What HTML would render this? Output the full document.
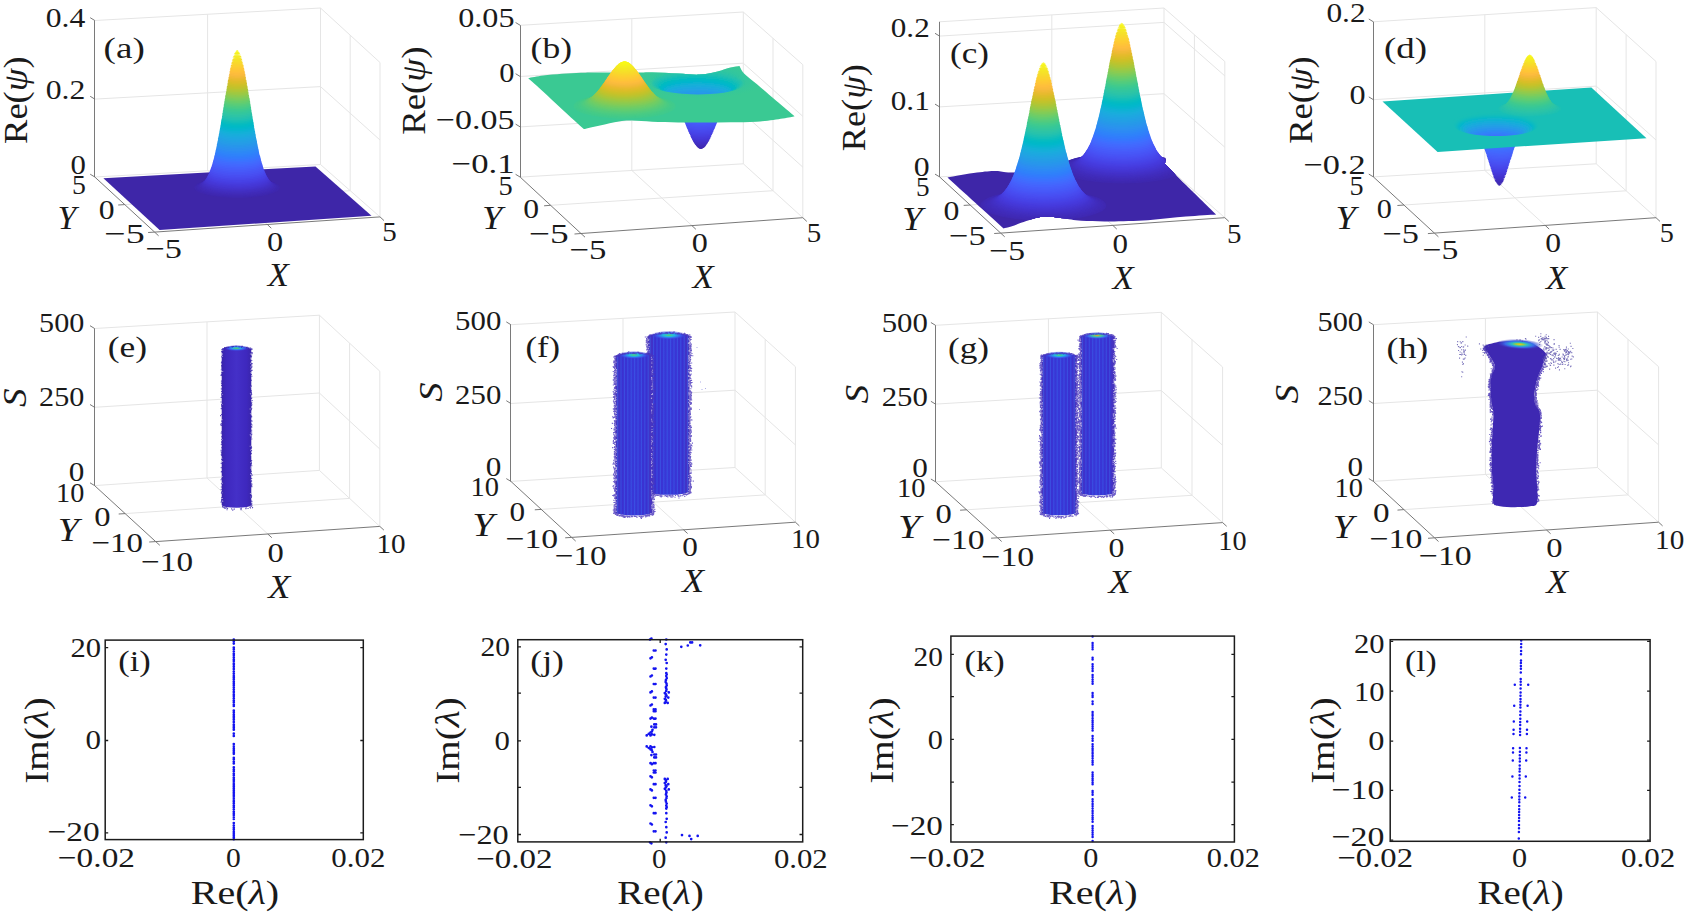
<!DOCTYPE html>
<html><head><meta charset="utf-8"><title>figure</title>
<style>
html,body{margin:0;padding:0;background:#fff}
svg{display:block}
text{font-family:"Liberation Serif",serif;fill:#1a1a1a}
.i{font-style:italic}
</style></head><body>
<svg width="1685" height="912" viewBox="0 0 1685 912" fill="none">
<path d="M94.8 177L320.5 164.5L320.5 8L94.8 20.5" stroke="#e5e5e5" stroke-width="1" fill="none"/>
<path d="M207.6 170.8L207.6 14.2" stroke="#e5e5e5" stroke-width="1"/>
<path d="M320.5 164.5L380 216.9L380 62.5L320.5 8" stroke="#e5e5e5" stroke-width="1" fill="none"/>
<path d="M350.2 190.7L350.2 35.2" stroke="#e5e5e5" stroke-width="1"/>
<path d="M267.3 224.5L207.6 170.8" stroke="#e5e5e5" stroke-width="1"/>
<path d="M124.7 204.6L350.2 190.7" stroke="#e5e5e5" stroke-width="1"/>
<path d="M94.8 99.1L320.5 86.6L380 140" stroke="#e5e5e5" stroke-width="1" fill="none"/>
<path d="M103.4 178.3L159.6 230L371.5 215.8L315.5 166.4" fill="#3e26a8"/>
<g transform="matrix(112.78 -6.92 -29.83 -26.88 237.5 197.6)">
<circle cx=".089" cy=".347" r=".367" fill="#3f28ad"/>
<circle cx=".091" cy=".353" r=".36" fill="#3f28ae"/>
<circle cx=".093" cy=".36" r=".354" fill="#3f28af"/>
<circle cx=".094" cy=".366" r=".349" fill="#3f29b0"/>
<circle cx=".096" cy=".372" r=".345" fill="#3f29b1"/>
<circle cx=".098" cy=".381" r=".339" fill="#3f29b2"/>
<circle cx=".101" cy=".39" r=".334" fill="#402ab4"/>
<circle cx=".103" cy=".398" r=".329" fill="#402ab5"/>
<circle cx=".106" cy=".411" r=".323" fill="#402bb7"/>
<circle cx=".11" cy=".423" r=".318" fill="#412cb9"/>
<circle cx=".113" cy=".436" r=".313" fill="#412cba"/>
<circle cx=".116" cy=".448" r=".309" fill="#412dbc"/>
<circle cx=".121" cy=".466" r=".303" fill="#422ebf"/>
<circle cx=".126" cy=".484" r=".298" fill="#422fc1"/>
<circle cx=".13" cy=".502" r=".294" fill="#4230c4"/>
<circle cx=".137" cy=".528" r=".288" fill="#4331c8"/>
<circle cx=".144" cy=".553" r=".282" fill="#4433cc"/>
<circle cx=".151" cy=".579" r=".277" fill="#4434cf"/>
<circle cx=".157" cy=".605" r=".273" fill="#4536d3"/>
<circle cx=".167" cy=".641" r=".267" fill="#4538d7"/>
<circle cx=".177" cy=".678" r=".262" fill="#463adb"/>
<circle cx=".186" cy=".714" r=".257" fill="#463ddf"/>
<circle cx=".196" cy=".751" r=".252" fill="#473fe3"/>
<circle cx=".206" cy=".788" r=".248" fill="#4742e6"/>
<circle cx=".22" cy=".84" r=".242" fill="#4746ea"/>
<circle cx=".233" cy=".892" r=".237" fill="#484aee"/>
<circle cx=".247" cy=".944" r=".232" fill="#484ef1"/>
<circle cx=".261" cy=".997" r=".227" fill="#4852f4"/>
<circle cx=".275" cy="1.049" r=".223" fill="#4755f6"/>
<circle cx=".289" cy="1.101" r=".219" fill="#4759f8"/>
<circle cx=".303" cy="1.153" r=".215" fill="#465dfa"/>
<circle cx=".316" cy="1.206" r=".211" fill="#4561fc"/>
<circle cx=".33" cy="1.258" r=".208" fill="#4465fd"/>
<circle cx=".344" cy="1.31" r=".204" fill="#4269fe"/>
<circle cx=".358" cy="1.362" r=".201" fill="#406dfe"/>
<circle cx=".372" cy="1.415" r=".198" fill="#3c71ff"/>
<circle cx=".385" cy="1.467" r=".194" fill="#3876fe"/>
<circle cx=".399" cy="1.519" r=".191" fill="#347afd"/>
<circle cx=".413" cy="1.571" r=".188" fill="#317efb"/>
<circle cx=".427" cy="1.624" r=".186" fill="#2f82fa"/>
<circle cx=".441" cy="1.676" r=".183" fill="#2e86f8"/>
<circle cx=".455" cy="1.728" r=".18" fill="#2d89f5"/>
<circle cx=".468" cy="1.78" r=".177" fill="#2d8df2"/>
<circle cx=".482" cy="1.833" r=".175" fill="#2b90ef"/>
<circle cx=".496" cy="1.885" r=".172" fill="#2994ed"/>
<circle cx=".51" cy="1.937" r=".17" fill="#2797ea"/>
<circle cx=".524" cy="1.989" r=".167" fill="#269be8"/>
<circle cx=".537" cy="2.042" r=".165" fill="#249ee6"/>
<circle cx=".551" cy="2.094" r=".162" fill="#22a1e4"/>
<circle cx=".565" cy="2.146" r=".16" fill="#20a4e3"/>
<circle cx=".579" cy="2.198" r=".158" fill="#1ea7e1"/>
<circle cx=".593" cy="2.251" r=".155" fill="#1baade"/>
<circle cx=".607" cy="2.303" r=".153" fill="#18addb"/>
<circle cx=".62" cy="2.355" r=".151" fill="#14b0d8"/>
<circle cx=".634" cy="2.407" r=".148" fill="#0eb2d4"/>
<circle cx=".648" cy="2.46" r=".146" fill="#07b5d0"/>
<circle cx=".662" cy="2.512" r=".144" fill="#03b7cc"/>
<circle cx=".676" cy="2.564" r=".142" fill="#01b9c7"/>
<circle cx=".69" cy="2.616" r=".14" fill="#02bbc3"/>
<circle cx=".703" cy="2.669" r=".138" fill="#09bcbe"/>
<circle cx=".717" cy="2.721" r=".135" fill="#11beb9"/>
<circle cx=".731" cy="2.773" r=".133" fill="#1ac0b5"/>
<circle cx=".745" cy="2.825" r=".131" fill="#22c1b0"/>
<circle cx=".759" cy="2.878" r=".129" fill="#28c2ab"/>
<circle cx=".772" cy="2.93" r=".127" fill="#2dc4a6"/>
<circle cx=".786" cy="2.982" r=".125" fill="#31c6a1"/>
<circle cx=".8" cy="3.034" r=".123" fill="#34c79b"/>
<circle cx=".814" cy="3.087" r=".121" fill="#39c895"/>
<circle cx=".828" cy="3.139" r=".119" fill="#3eca8f"/>
<circle cx=".842" cy="3.191" r=".117" fill="#46cb88"/>
<circle cx=".855" cy="3.243" r=".115" fill="#4ecc81"/>
<circle cx=".869" cy="3.296" r=".113" fill="#56cc7b"/>
<circle cx=".883" cy="3.348" r=".111" fill="#5fcd73"/>
<circle cx=".897" cy="3.4" r=".109" fill="#68cd6b"/>
<circle cx=".911" cy="3.452" r=".106" fill="#72cd64"/>
<circle cx=".924" cy="3.505" r=".104" fill="#7ccc5c"/>
<circle cx=".938" cy="3.557" r=".102" fill="#86cb55"/>
<circle cx=".952" cy="3.609" r=".1" fill="#90ca4d"/>
<circle cx=".966" cy="3.661" r=".098" fill="#9ac945"/>
<circle cx=".98" cy="3.714" r=".096" fill="#a3c83e"/>
<circle cx=".994" cy="3.766" r=".094" fill="#adc638"/>
<circle cx="1.007" cy="3.818" r=".092" fill="#b6c532"/>
<circle cx="1.021" cy="3.87" r=".09" fill="#bfc32d"/>
<circle cx="1.035" cy="3.923" r=".087" fill="#c7c12a"/>
<circle cx="1.049" cy="3.975" r=".085" fill="#cfc028"/>
<circle cx="1.063" cy="4.027" r=".083" fill="#d7be28"/>
<circle cx="1.076" cy="4.079" r=".081" fill="#debc2a"/>
<circle cx="1.09" cy="4.132" r=".078" fill="#e5bb2d"/>
<circle cx="1.104" cy="4.184" r=".076" fill="#ecba32"/>
<circle cx="1.118" cy="4.236" r=".074" fill="#f2ba38"/>
<circle cx="1.132" cy="4.288" r=".071" fill="#f8ba3d"/>
<circle cx="1.146" cy="4.341" r=".069" fill="#fcbc3d"/>
<circle cx="1.159" cy="4.393" r=".066" fill="#febf3b"/>
<circle cx="1.173" cy="4.445" r=".064" fill="#fec338"/>
<circle cx="1.187" cy="4.498" r=".061" fill="#fec735"/>
<circle cx="1.201" cy="4.55" r=".058" fill="#fdcc32"/>
<circle cx="1.215" cy="4.602" r=".056" fill="#fcd030"/>
<circle cx="1.228" cy="4.654" r=".053" fill="#fad42e"/>
<circle cx="1.242" cy="4.707" r=".049" fill="#f8d92c"/>
<circle cx="1.256" cy="4.759" r=".046" fill="#f7dd2a"/>
<circle cx="1.27" cy="4.811" r=".043" fill="#f5e128"/>
<circle cx="1.284" cy="4.863" r=".039" fill="#f5e626"/>
<circle cx="1.298" cy="4.916" r=".035" fill="#f5ea24"/>
<circle cx="1.311" cy="4.968" r=".03" fill="#f5ee21"/>
<circle cx="1.325" cy="5.02" r=".025" fill="#f6f21e"/>
<circle cx="1.335" cy="5.057" r=".021" fill="#f7f51b"/>
<circle cx="1.345" cy="5.093" r=".015" fill="#f8f818"/>
<circle cx="1.349" cy="5.111" r=".011" fill="#f9f916"/>
<circle cx="1.353" cy="5.124" r=".007" fill="#f9fa15"/>
<circle cx="1.355" cy="5.132" r=".001" fill="#f9fb15"/>
<circle cx="1.355" cy="5.133" r="0" fill="#f9fb15"/>
</g>
<path d="M94.5 20.5L94.5 177" stroke="#7a7a7a" stroke-width="1"/>
<path d="M94.8 177L154.6 232.1L380 216.9" stroke="#6a6a6a" stroke-width="0.9" fill="none"/>
<path d="M154.6 232.1L158.6 235.8" stroke="#6a6a6a" stroke-width="0.9"/>
<path d="M154.6 232.1L148.1 232.5" stroke="#6a6a6a" stroke-width="0.9"/>
<path d="M267.3 224.5L271.3 228.2" stroke="#6a6a6a" stroke-width="0.9"/>
<path d="M124.7 204.6L118.2 205" stroke="#6a6a6a" stroke-width="0.9"/>
<path d="M380 216.9L384 220.6" stroke="#6a6a6a" stroke-width="0.9"/>
<path d="M94.8 20.5L90.2 17.7" stroke="#6a6a6a" stroke-width="0.9"/>
<path d="M94.8 99.1L90.2 96.3" stroke="#6a6a6a" stroke-width="0.9"/>
<path d="M94.8 177L90.2 174.2" stroke="#6a6a6a" stroke-width="0.9"/>
<text class="t" x="45.8" y="26.8" font-size="27.5" textLength="39.5" lengthAdjust="spacingAndGlyphs">0.4</text>
<text class="t" x="45.7" y="99.4" font-size="27.5" textLength="39.6" lengthAdjust="spacingAndGlyphs">0.2</text>
<text class="t" x="70.5" y="174.3" font-size="27.5" textLength="15.4" lengthAdjust="spacingAndGlyphs">0</text>
<text class="t" x="72" y="194" font-size="27.5" textLength="13.9" lengthAdjust="spacingAndGlyphs">5</text>
<text class="t" x="98.7" y="218.8" font-size="27.5" textLength="15.8" lengthAdjust="spacingAndGlyphs">0</text>
<text class="t" x="104.3" y="243.4" font-size="27.5" textLength="40.5" lengthAdjust="spacingAndGlyphs">−5</text>
<text class="t" x="145.4" y="258" font-size="27.5" textLength="36.5" lengthAdjust="spacingAndGlyphs">−5</text>
<text class="t" x="267" y="251" font-size="27.5" textLength="16.2" lengthAdjust="spacingAndGlyphs">0</text>
<text class="t" x="382.2" y="241" font-size="27.5" textLength="14.5" lengthAdjust="spacingAndGlyphs">5</text>
<text class="i" x="267.8" y="286.2" font-size="33" textLength="21.2" lengthAdjust="spacingAndGlyphs">X</text>
<text class="i" x="57.4" y="228.6" font-size="33" textLength="18.8" lengthAdjust="spacingAndGlyphs">Y</text>
<text class="t" transform="translate(27 143.9) rotate(-90)" font-size="33.4" textLength="87.5" lengthAdjust="spacingAndGlyphs">Re(<tspan font-style="italic">ψ</tspan>)</text>
<text class="t" x="103.6" y="57.8" font-size="28.5" textLength="41.2" lengthAdjust="spacingAndGlyphs">(a)</text>
<path d="M520.2 177.1L743.3 163.8L743.3 12L520.2 25.3" stroke="#e5e5e5" stroke-width="1" fill="none"/>
<path d="M631.8 170.4L631.8 18.7" stroke="#e5e5e5" stroke-width="1"/>
<path d="M743.3 163.8L802.8 217.7L802.8 64.7L743.3 12" stroke="#e5e5e5" stroke-width="1" fill="none"/>
<path d="M773 190.7L773 38.3" stroke="#e5e5e5" stroke-width="1"/>
<path d="M691.9 225.6L631.8 170.4" stroke="#e5e5e5" stroke-width="1"/>
<path d="M550.6 205.3L773 190.7" stroke="#e5e5e5" stroke-width="1"/>
<path d="M520.2 76.5L743.3 63.2L802.8 116.3" stroke="#e5e5e5" stroke-width="1" fill="none"/>
<path d="M520.2 126.9L743.3 113.6L802.8 167.1" stroke="#e5e5e5" stroke-width="1" fill="none"/>
<g transform="matrix(111.22 -7.27 -30.07 -27.57 661.8 198)">
<circle cx=".779" cy="1.583" r="0" fill="#3e26a8"/>
<circle cx=".78" cy="1.587" r=".008" fill="#3e27a9"/>
<circle cx=".782" cy="1.593" r=".013" fill="#3e27aa"/>
<circle cx=".784" cy="1.602" r=".018" fill="#3e27ab"/>
<circle cx=".788" cy="1.614" r=".023" fill="#3e28ac"/>
<circle cx=".792" cy="1.631" r=".029" fill="#3f28af"/>
<circle cx=".797" cy="1.649" r=".034" fill="#3f29b1"/>
<circle cx=".802" cy="1.666" r=".038" fill="#402ab3"/>
<circle cx=".809" cy="1.691" r=".044" fill="#402bb6"/>
<circle cx=".815" cy="1.716" r=".049" fill="#412cb9"/>
<circle cx=".822" cy="1.741" r=".053" fill="#412dbc"/>
<circle cx=".829" cy="1.766" r=".058" fill="#422ebf"/>
<circle cx=".838" cy="1.801" r=".063" fill="#4230c3"/>
<circle cx=".848" cy="1.837" r=".069" fill="#4331c8"/>
<circle cx=".858" cy="1.872" r=".074" fill="#4433cc"/>
<circle cx=".867" cy="1.908" r=".078" fill="#4435d0"/>
<circle cx=".877" cy="1.943" r=".083" fill="#4536d4"/>
<circle cx=".886" cy="1.979" r=".087" fill="#4538d8"/>
<circle cx=".896" cy="2.014" r=".092" fill="#463adb"/>
<circle cx=".91" cy="2.065" r=".097" fill="#463ddf"/>
<circle cx=".923" cy="2.116" r=".103" fill="#4740e3"/>
<circle cx=".937" cy="2.167" r=".109" fill="#4743e7"/>
<circle cx=".951" cy="2.218" r=".114" fill="#4746ea"/>
<circle cx=".965" cy="2.268" r=".12" fill="#4849ed"/>
<circle cx=".978" cy="2.319" r=".125" fill="#484cf0"/>
<circle cx=".992" cy="2.37" r=".13" fill="#484ff2"/>
<circle cx="1.006" cy="2.421" r=".135" fill="#4852f4"/>
<circle cx="1.02" cy="2.471" r=".141" fill="#4755f6"/>
<circle cx="1.033" cy="2.522" r=".146" fill="#4758f8"/>
<circle cx="1.047" cy="2.573" r=".151" fill="#475bfa"/>
<circle cx="1.061" cy="2.624" r=".156" fill="#465ffb"/>
<circle cx="1.074" cy="2.675" r=".162" fill="#4562fc"/>
<circle cx="1.088" cy="2.725" r=".167" fill="#4465fd"/>
<circle cx="1.102" cy="2.776" r=".172" fill="#4368fe"/>
<circle cx="1.116" cy="2.827" r=".178" fill="#416bfe"/>
<circle cx="1.129" cy="2.878" r=".184" fill="#3f6fff"/>
</g>
<clipPath id="shb"><path d="M528.2 78.2C530.7 77.8 537.4 76.3 543 75.6C548.6 74.8 555.7 74.2 562 73.7C568.3 73.2 574.7 72.9 581 72.7C587.3 72.5 591.6 72.4 600 72.4C608.4 72.4 622.6 72.7 631.3 72.7C640 72.7 644.4 72.1 652.2 72.2C660 72.3 670.5 73.1 678.3 73.5C686.1 73.9 692.7 74.9 699.2 74.6C705.7 74.3 712.3 72.7 717.5 71.5C722.7 70.3 726.8 68.5 730.5 67.6C734.2 66.7 738 66.3 739.5 66.1C740.2 67.3 741.1 70.5 744 73.5C746.9 76.5 751.3 79.5 756.7 84C762.1 88.5 769.9 95.4 776.2 100.8C782.5 106.2 791.5 113.6 794.6 116.2C792.6 116.6 789.1 117.6 782.8 118.5C776.5 119.4 765.4 121.2 756.7 121.8C748 122.4 739.2 122.2 730.5 122.3C721.8 122.4 713.1 122.5 704.4 122.5C695.7 122.5 687 122.5 678.3 122.4C669.6 122.3 659.9 122 652.2 121.7C644.5 121.4 637.5 120.6 632 120.6C626.5 120.5 624.2 120.6 618.9 121.4C613.6 122.2 605.9 124.1 600 125.4C594.1 126.7 586.5 128.5 583.8 129.1C580.2 125.8 568.8 115.5 562 109.2C555.2 102.9 548.6 96.6 543 91.4C537.4 86.2 530.7 80.4 528.2 78.2Z"/></clipPath>
<path d="M528.2 78.2C530.7 77.8 537.4 76.3 543 75.6C548.6 74.8 555.7 74.2 562 73.7C568.3 73.2 574.7 72.9 581 72.7C587.3 72.5 591.6 72.4 600 72.4C608.4 72.4 622.6 72.7 631.3 72.7C640 72.7 644.4 72.1 652.2 72.2C660 72.3 670.5 73.1 678.3 73.5C686.1 73.9 692.7 74.9 699.2 74.6C705.7 74.3 712.3 72.7 717.5 71.5C722.7 70.3 726.8 68.5 730.5 67.6C734.2 66.7 738 66.3 739.5 66.1C740.2 67.3 741.1 70.5 744 73.5C746.9 76.5 751.3 79.5 756.7 84C762.1 88.5 769.9 95.4 776.2 100.8C782.5 106.2 791.5 113.6 794.6 116.2C792.6 116.6 789.1 117.6 782.8 118.5C776.5 119.4 765.4 121.2 756.7 121.8C748 122.4 739.2 122.2 730.5 122.3C721.8 122.4 713.1 122.5 704.4 122.5C695.7 122.5 687 122.5 678.3 122.4C669.6 122.3 659.9 122 652.2 121.7C644.5 121.4 637.5 120.6 632 120.6C626.5 120.5 624.2 120.6 618.9 121.4C613.6 122.2 605.9 124.1 600 125.4C594.1 126.7 586.5 128.5 583.8 129.1C580.2 125.8 568.8 115.5 562 109.2C555.2 102.9 548.6 96.6 543 91.4C537.4 86.2 530.7 80.4 528.2 78.2Z" fill="#3ac993"/>
<radialGradient id="tb"><stop offset="0" stop-color="#12beb9" stop-opacity=".9"/><stop offset=".55" stop-color="#27c2ac" stop-opacity=".6"/><stop offset="1" stop-color="#33c69d" stop-opacity="0"/></radialGradient>
<g clip-path="url(#shb)"><ellipse cx="700" cy="80" rx="66" ry="19" fill="url(#tb)"/>
<clipPath id="cb"><circle cx="1.358" cy="3.835" r=".422" transform="matrix(111.22 -7.27 -30.07 -27.57 661.8 198)"/><rect x="646.9" y="42.4" width="101.2" height="40"/></clipPath>
<filter id="cbf" x="-20%" y="-50%" width="140%" height="200%"><feGaussianBlur stdDeviation="1.3"/></filter>
<g clip-path="url(#cb)"><g filter="url(#cbf)">
<g transform="matrix(111.22 -7.27 -30.07 -27.57 661.8 198)">
<circle cx="1.35" cy="3.806" r=".397" fill="#2ac3a9"/>
<circle cx="1.348" cy="3.799" r=".393" fill="#28c3aa"/>
<circle cx="1.346" cy="3.793" r=".388" fill="#27c2ab"/>
<circle cx="1.344" cy="3.786" r=".384" fill="#26c2ad"/>
<circle cx="1.343" cy="3.779" r=".38" fill="#25c2ae"/>
<circle cx="1.341" cy="3.772" r=".376" fill="#23c1af"/>
<circle cx="1.338" cy="3.762" r=".371" fill="#21c1b0"/>
<circle cx="1.335" cy="3.753" r=".366" fill="#1ec0b2"/>
<circle cx="1.333" cy="3.743" r=".362" fill="#1cc0b4"/>
<circle cx="1.33" cy="3.733" r=".357" fill="#19bfb5"/>
<circle cx="1.328" cy="3.723" r=".353" fill="#16bfb7"/>
<circle cx="1.325" cy="3.714" r=".35" fill="#13beb8"/>
<circle cx="1.322" cy="3.704" r=".346" fill="#10beba"/>
<circle cx="1.318" cy="3.69" r=".341" fill="#0cbdbc"/>
<circle cx="1.315" cy="3.676" r=".336" fill="#09bcbe"/>
<circle cx="1.311" cy="3.662" r=".331" fill="#06bcc0"/>
<circle cx="1.307" cy="3.648" r=".327" fill="#03bbc2"/>
<circle cx="1.303" cy="3.634" r=".323" fill="#02bac4"/>
<circle cx="1.3" cy="3.62" r=".319" fill="#01b9c7"/>
<circle cx="1.296" cy="3.606" r=".315" fill="#01b8c9"/>
<circle cx="1.291" cy="3.586" r=".31" fill="#03b7cb"/>
<circle cx="1.285" cy="3.567" r=".305" fill="#06b5ce"/>
<circle cx="1.28" cy="3.547" r=".3" fill="#09b4d1"/>
<circle cx="1.274" cy="3.527" r=".296" fill="#0eb3d4"/>
<circle cx="1.269" cy="3.507" r=".292" fill="#12b1d6"/>
<circle cx="1.264" cy="3.487" r=".287" fill="#15afd9"/>
<circle cx="1.258" cy="3.467" r=".283" fill="#18aedb"/>
<circle cx="1.253" cy="3.447" r=".279" fill="#1aacdd"/>
<circle cx="1.247" cy="3.427" r=".276" fill="#1caadf"/>
<circle cx="1.242" cy="3.407" r=".272" fill="#1da8e0"/>
<circle cx="1.234" cy="3.379" r=".267" fill="#20a5e2"/>
<circle cx="1.227" cy="3.35" r=".262" fill="#22a2e4"/>
<circle cx="1.219" cy="3.322" r=".257" fill="#249fe5"/>
<circle cx="1.211" cy="3.294" r=".253" fill="#259ce7"/>
<circle cx="1.204" cy="3.265" r=".248" fill="#2699e9"/>
<circle cx="1.196" cy="3.237" r=".244" fill="#2896ec"/>
<circle cx="1.188" cy="3.208" r=".24" fill="#2a92ee"/>
<circle cx="1.181" cy="3.18" r=".236" fill="#2c8ff1"/>
</g>
</g></g>
</g>
<g transform="matrix(111.22 -7.27 -30.07 -27.57 661.8 198)">
<circle cx=".529" cy="3.194" r=".444" fill="#3fca8e"/>
<circle cx=".531" cy="3.2" r=".434" fill="#40ca8d"/>
<circle cx=".532" cy="3.206" r=".425" fill="#41ca8c"/>
<circle cx=".534" cy="3.212" r=".417" fill="#42ca8b"/>
<circle cx=".536" cy="3.218" r=".41" fill="#43ca8a"/>
<circle cx=".537" cy="3.224" r=".404" fill="#44cb89"/>
<circle cx=".539" cy="3.23" r=".398" fill="#45cb88"/>
<circle cx=".54" cy="3.236" r=".392" fill="#46cb87"/>
<circle cx=".542" cy="3.242" r=".387" fill="#48cb86"/>
<circle cx=".544" cy="3.248" r=".382" fill="#49cb85"/>
<circle cx=".545" cy="3.254" r=".378" fill="#4acb84"/>
<circle cx=".548" cy="3.263" r=".372" fill="#4ccb83"/>
<circle cx=".55" cy="3.271" r=".366" fill="#4ecc81"/>
<circle cx=".552" cy="3.28" r=".361" fill="#50cc80"/>
<circle cx=".554" cy="3.288" r=".356" fill="#51cc7e"/>
<circle cx=".557" cy="3.297" r=".351" fill="#53cc7d"/>
<circle cx=".559" cy="3.305" r=".347" fill="#55cc7b"/>
<circle cx=".562" cy="3.317" r=".341" fill="#58cc79"/>
<circle cx=".566" cy="3.33" r=".335" fill="#5bcc77"/>
<circle cx=".569" cy="3.342" r=".33" fill="#5dcc75"/>
<circle cx=".572" cy="3.354" r=".324" fill="#60cd72"/>
<circle cx=".576" cy="3.366" r=".32" fill="#63cd70"/>
<circle cx=".579" cy="3.378" r=".315" fill="#66cd6d"/>
<circle cx=".582" cy="3.391" r=".31" fill="#69cd6b"/>
<circle cx=".587" cy="3.408" r=".304" fill="#6dcd68"/>
<circle cx=".592" cy="3.425" r=".299" fill="#71cd64"/>
<circle cx=".596" cy="3.443" r=".293" fill="#75cc61"/>
<circle cx=".601" cy="3.46" r=".288" fill="#7acc5e"/>
<circle cx=".606" cy="3.478" r=".283" fill="#7fcc5a"/>
<circle cx=".61" cy="3.495" r=".278" fill="#83cc57"/>
<circle cx=".615" cy="3.512" r=".273" fill="#87cb54"/>
<circle cx=".62" cy="3.53" r=".269" fill="#8ccb50"/>
<circle cx=".624" cy="3.547" r=".264" fill="#90ca4d"/>
<circle cx=".631" cy="3.572" r=".258" fill="#96ca48"/>
<circle cx=".638" cy="3.597" r=".252" fill="#9cc943"/>
<circle cx=".645" cy="3.622" r=".247" fill="#a2c83f"/>
<circle cx=".651" cy="3.647" r=".241" fill="#a8c73b"/>
<circle cx=".658" cy="3.672" r=".236" fill="#aec637"/>
<circle cx=".665" cy="3.697" r=".231" fill="#b4c533"/>
<circle cx=".672" cy="3.721" r=".226" fill="#bac430"/>
<circle cx=".678" cy="3.746" r=".221" fill="#bfc32d"/>
<circle cx=".685" cy="3.771" r=".216" fill="#c5c22a"/>
<circle cx=".692" cy="3.796" r=".211" fill="#cac129"/>
<circle cx=".699" cy="3.821" r=".207" fill="#cfc028"/>
<circle cx=".705" cy="3.846" r=".202" fill="#d4bf28"/>
<circle cx=".712" cy="3.871" r=".198" fill="#d9be28"/>
<circle cx=".719" cy="3.896" r=".193" fill="#ddbd29"/>
<circle cx=".725" cy="3.92" r=".189" fill="#e2bc2b"/>
<circle cx=".732" cy="3.945" r=".184" fill="#e6bb2d"/>
<circle cx=".739" cy="3.97" r=".18" fill="#eaba31"/>
<circle cx=".746" cy="3.995" r=".176" fill="#eeba34"/>
<circle cx=".752" cy="4.02" r=".171" fill="#f2ba38"/>
<circle cx=".759" cy="4.045" r=".167" fill="#f5ba3b"/>
<circle cx=".766" cy="4.07" r=".163" fill="#f9bb3d"/>
<circle cx=".775" cy="4.105" r=".157" fill="#fcbd3d"/>
<circle cx=".782" cy="4.13" r=".153" fill="#febf3c"/>
<circle cx=".789" cy="4.155" r=".148" fill="#fec13a"/>
<circle cx=".796" cy="4.18" r=".144" fill="#fec438"/>
<circle cx=".802" cy="4.205" r=".14" fill="#fec636"/>
<circle cx=".809" cy="4.23" r=".135" fill="#fec934"/>
<circle cx=".816" cy="4.255" r=".131" fill="#fdcb33"/>
<circle cx=".822" cy="4.279" r=".127" fill="#fdce31"/>
<circle cx=".829" cy="4.304" r=".122" fill="#fcd12f"/>
<circle cx=".836" cy="4.329" r=".118" fill="#fbd32e"/>
<circle cx=".843" cy="4.354" r=".113" fill="#f9d62d"/>
<circle cx=".849" cy="4.379" r=".108" fill="#f8d92c"/>
<circle cx=".856" cy="4.404" r=".103" fill="#f7dc2a"/>
<circle cx=".863" cy="4.429" r=".099" fill="#f6df29"/>
<circle cx=".87" cy="4.454" r=".093" fill="#f5e128"/>
<circle cx=".876" cy="4.479" r=".088" fill="#f5e427"/>
<circle cx=".883" cy="4.503" r=".083" fill="#f5e725"/>
<circle cx=".89" cy="4.528" r=".077" fill="#f5e924"/>
<circle cx=".894" cy="4.546" r=".072" fill="#f5eb23"/>
<circle cx=".899" cy="4.563" r=".068" fill="#f5ed22"/>
<circle cx=".904" cy="4.581" r=".063" fill="#f5ef20"/>
<circle cx=".909" cy="4.598" r=".058" fill="#f6f11f"/>
<circle cx=".913" cy="4.615" r=".053" fill="#f6f21d"/>
<circle cx=".917" cy="4.628" r=".048" fill="#f7f41c"/>
<circle cx=".92" cy="4.64" r=".044" fill="#f7f51b"/>
<circle cx=".923" cy="4.652" r=".039" fill="#f8f61a"/>
<circle cx=".926" cy="4.664" r=".033" fill="#f8f818"/>
<circle cx=".929" cy="4.673" r=".028" fill="#f8f817"/>
<circle cx=".931" cy="4.681" r=".023" fill="#f9f916"/>
<circle cx=".933" cy="4.687" r=".018" fill="#f9fa16"/>
<circle cx=".934" cy="4.693" r=".011" fill="#f9fa15"/>
<circle cx=".935" cy="4.697" r="0" fill="#f9fb15"/>
</g>
<path d="M520.5 25.3L520.5 177.1" stroke="#7a7a7a" stroke-width="1"/>
<path d="M520.2 177.1L581 233.5L802.8 217.7" stroke="#6a6a6a" stroke-width="0.9" fill="none"/>
<path d="M581 233.5L585 237.2" stroke="#6a6a6a" stroke-width="0.9"/>
<path d="M581 233.5L574.5 234" stroke="#6a6a6a" stroke-width="0.9"/>
<path d="M691.9 225.6L695.9 229.3" stroke="#6a6a6a" stroke-width="0.9"/>
<path d="M550.6 205.3L544.1 205.8" stroke="#6a6a6a" stroke-width="0.9"/>
<path d="M802.8 217.7L806.8 221.4" stroke="#6a6a6a" stroke-width="0.9"/>
<path d="M520.2 25.3L515.6 22.5" stroke="#6a6a6a" stroke-width="0.9"/>
<path d="M520.2 76.5L515.6 73.7" stroke="#6a6a6a" stroke-width="0.9"/>
<path d="M520.2 126.9L515.6 124.1" stroke="#6a6a6a" stroke-width="0.9"/>
<path d="M520.2 177.1L515.6 174.3" stroke="#6a6a6a" stroke-width="0.9"/>
<text class="t" x="458.2" y="27" font-size="27.5" textLength="56.3" lengthAdjust="spacingAndGlyphs">0.05</text>
<text class="t" x="499.3" y="82.2" font-size="27.5" textLength="15.2" lengthAdjust="spacingAndGlyphs">0</text>
<text class="t" x="435.8" y="128.9" font-size="27.5" textLength="78.7" lengthAdjust="spacingAndGlyphs">−0.05</text>
<text class="t" x="451.6" y="172.7" font-size="27.5" textLength="62.9" lengthAdjust="spacingAndGlyphs">−0.1</text>
<text class="t" x="498.6" y="194.7" font-size="27.5" textLength="14.2" lengthAdjust="spacingAndGlyphs">5</text>
<text class="t" x="523.3" y="218" font-size="27.5" textLength="15.8" lengthAdjust="spacingAndGlyphs">0</text>
<text class="t" x="528.9" y="243.4" font-size="27.5" textLength="39.8" lengthAdjust="spacingAndGlyphs">−5</text>
<text class="t" x="569.4" y="258.8" font-size="27.5" textLength="37.1" lengthAdjust="spacingAndGlyphs">−5</text>
<text class="t" x="691.7" y="251.6" font-size="27.5" textLength="16.1" lengthAdjust="spacingAndGlyphs">0</text>
<text class="t" x="806.8" y="241.7" font-size="27.5" textLength="14.5" lengthAdjust="spacingAndGlyphs">5</text>
<text class="i" x="692.4" y="287.8" font-size="33" textLength="21.3" lengthAdjust="spacingAndGlyphs">X</text>
<text class="i" x="482.1" y="228.6" font-size="33" textLength="20.4" lengthAdjust="spacingAndGlyphs">Y</text>
<text class="t" transform="translate(425.3 134.8) rotate(-90)" font-size="33.4" textLength="88.3" lengthAdjust="spacingAndGlyphs">Re(<tspan font-style="italic">ψ</tspan>)</text>
<text class="t" x="530.6" y="57.8" font-size="28.5" textLength="41.4" lengthAdjust="spacingAndGlyphs">(b)</text>
<path d="M939.6 176.9L1164 164.2L1164 8L939.6 21.8" stroke="#e5e5e5" stroke-width="1" fill="none"/>
<path d="M1051.8 170.6L1051.8 14.9" stroke="#e5e5e5" stroke-width="1"/>
<path d="M1164 164.2L1224.8 217.7L1224.8 61.5L1164 8" stroke="#e5e5e5" stroke-width="1" fill="none"/>
<path d="M1194.4 191L1194.4 34.8" stroke="#e5e5e5" stroke-width="1"/>
<path d="M1112.8 225.4L1051.8 170.6" stroke="#e5e5e5" stroke-width="1"/>
<path d="M970.2 205L1194.4 191" stroke="#e5e5e5" stroke-width="1"/>
<path d="M939.6 36.1L1164 22.4L1224.8 75.9" stroke="#e5e5e5" stroke-width="1" fill="none"/>
<path d="M939.6 106.9L1164 93.7L1224.8 147.2" stroke="#e5e5e5" stroke-width="1" fill="none"/>
<path d="M947.5 177.5C952.4 176.7 968.9 173.7 977 172.6C985.1 171.5 989.7 171 996 171C1002.3 171 1002.3 173 1015 172.5C1027.7 172 1054.5 169.2 1072 168C1089.5 166.8 1104.5 165.6 1120 165C1135.5 164.4 1157.5 164.3 1165 164.2C1168.5 167.7 1177.5 176.6 1186 185C1194.5 193.4 1211.2 209.6 1216.2 214.5C1211.2 214.8 1197.4 215.7 1186 216.6C1174.6 217.5 1160.7 219.4 1148 220.2C1135.3 221 1121.1 221.3 1110 221.4C1098.9 221.5 1089.3 221.3 1081.4 220.8C1073.5 220.3 1068.7 219 1062.4 218.3C1056.1 217.6 1049.4 216 1043.4 216.4C1037.4 216.8 1031.7 219.3 1026.3 221C1020.9 222.7 1015 225.4 1011.2 226.6C1007.4 227.8 1004.9 228.1 1003.6 228.4C998.8 224.1 984.4 211 975 202.5C965.6 194 952.1 181.7 947.5 177.5Z" fill="#3e26a8"/>
<clipPath id="cc"><path d="M947.5 0C983.8 0 1128.8 -27.4 1165 0C1201.2 27.4 1165 136.8 1165 164.2C1168.5 167.7 1177.5 176.6 1186 185C1194.5 193.4 1211.2 209.6 1216.2 214.5C1211.2 214.8 1197.4 215.7 1186 216.6C1174.6 217.5 1160.7 219.4 1148 220.2C1135.3 221 1121.1 221.3 1110 221.4C1098.9 221.5 1089.3 221.3 1081.4 220.8C1073.5 220.3 1068.7 219 1062.4 218.3C1056.1 217.6 1049.4 216 1043.4 216.4C1037.4 216.8 1031.7 219.3 1026.3 221C1020.9 222.7 1015 225.4 1011.2 226.6C1007.4 227.8 1004.9 228.1 1003.6 228.4C998.8 224.1 984.4 211 975 202.5C965.6 194 952.1 181.7 947.5 177.5C947.5 147.9 947.5 29.6 947.5 0Z"/></clipPath>
<radialGradient id="fg"><stop offset="0" stop-color="#4539d9" stop-opacity=".9"/><stop offset=".6" stop-color="#4330c5" stop-opacity=".5"/><stop offset="1" stop-color="#3e26a8" stop-opacity="0"/></radialGradient>
<g clip-path="url(#cc)">
<g transform="matrix(112.12 -7.03 -30.47 -27.42 1082.3 198)">
<circle cx=".603" cy=".927" r=".534" fill="#3f28ae"/>
<circle cx=".605" cy=".933" r=".523" fill="#3f29af"/>
<circle cx=".607" cy=".939" r=".513" fill="#3f29b0"/>
<circle cx=".608" cy=".945" r=".505" fill="#3f29b1"/>
<circle cx=".61" cy=".951" r=".497" fill="#3f29b2"/>
<circle cx=".612" cy=".957" r=".49" fill="#402ab3"/>
<circle cx=".613" cy=".963" r=".483" fill="#402ab4"/>
<circle cx=".615" cy=".969" r=".477" fill="#402ab5"/>
<circle cx=".617" cy=".975" r=".471" fill="#402bb6"/>
<circle cx=".618" cy=".981" r=".466" fill="#402bb7"/>
<circle cx=".62" cy=".987" r=".461" fill="#402bb7"/>
<circle cx=".621" cy=".993" r=".456" fill="#402cb8"/>
<circle cx=".623" cy=".999" r=".451" fill="#412cb9"/>
<circle cx=".625" cy="1.005" r=".447" fill="#412cba"/>
<circle cx=".627" cy="1.013" r=".441" fill="#412dbb"/>
<circle cx=".629" cy="1.022" r=".436" fill="#412dbc"/>
<circle cx=".632" cy="1.03" r=".431" fill="#412ebd"/>
<circle cx=".634" cy="1.039" r=".426" fill="#422ebf"/>
<circle cx=".636" cy="1.048" r=".422" fill="#422ec0"/>
<circle cx=".639" cy="1.056" r=".417" fill="#422fc1"/>
<circle cx=".642" cy="1.069" r=".411" fill="#4230c3"/>
<circle cx=".645" cy="1.081" r=".406" fill="#4330c5"/>
<circle cx=".649" cy="1.093" r=".401" fill="#4331c6"/>
<circle cx=".652" cy="1.105" r=".396" fill="#4331c8"/>
<circle cx=".655" cy="1.118" r=".391" fill="#4332ca"/>
<circle cx=".659" cy="1.13" r=".387" fill="#4433cb"/>
<circle cx=".663" cy="1.147" r=".381" fill="#4434ce"/>
<circle cx=".668" cy="1.165" r=".375" fill="#4435d0"/>
<circle cx=".673" cy="1.183" r=".37" fill="#4536d2"/>
<circle cx=".678" cy="1.2" r=".365" fill="#4537d5"/>
<circle cx=".683" cy="1.218" r=".36" fill="#4538d7"/>
<circle cx=".687" cy="1.235" r=".356" fill="#4539d9"/>
<circle cx=".692" cy="1.253" r=".352" fill="#463adb"/>
<circle cx=".699" cy="1.278" r=".346" fill="#463bdd"/>
<circle cx=".706" cy="1.303" r=".34" fill="#463de0"/>
<circle cx=".713" cy="1.328" r=".335" fill="#473fe2"/>
<circle cx=".719" cy="1.353" r=".33" fill="#4741e4"/>
<circle cx=".726" cy="1.378" r=".326" fill="#4742e6"/>
<circle cx=".733" cy="1.403" r=".321" fill="#4744e8"/>
<circle cx=".74" cy="1.428" r=".317" fill="#4746ea"/>
<circle cx=".749" cy="1.464" r=".311" fill="#4849ec"/>
<circle cx=".759" cy="1.5" r=".306" fill="#484bef"/>
<circle cx=".769" cy="1.535" r=".3" fill="#484ef1"/>
<circle cx=".779" cy="1.571" r=".295" fill="#4850f3"/>
<circle cx=".788" cy="1.607" r=".291" fill="#4853f5"/>
<circle cx=".798" cy="1.643" r=".286" fill="#4755f6"/>
<circle cx=".808" cy="1.679" r=".282" fill="#4758f8"/>
<circle cx=".822" cy="1.73" r=".276" fill="#475bfa"/>
<circle cx=".836" cy="1.781" r=".27" fill="#465ffb"/>
<circle cx=".85" cy="1.832" r=".265" fill="#4563fc"/>
<circle cx=".863" cy="1.883" r=".26" fill="#4367fd"/>
<circle cx=".877" cy="1.934" r=".255" fill="#426afe"/>
<circle cx=".891" cy="1.985" r=".25" fill="#3f6eff"/>
<circle cx=".905" cy="2.037" r=".246" fill="#3b72ff"/>
<circle cx=".919" cy="2.088" r=".241" fill="#3776fe"/>
<circle cx=".933" cy="2.139" r=".237" fill="#337afd"/>
<circle cx=".947" cy="2.19" r=".233" fill="#317efb"/>
<circle cx=".961" cy="2.241" r=".229" fill="#2f82fa"/>
<circle cx=".975" cy="2.292" r=".225" fill="#2e85f8"/>
<circle cx=".989" cy="2.343" r=".222" fill="#2d89f5"/>
<circle cx="1.002" cy="2.395" r=".218" fill="#2d8cf3"/>
<circle cx="1.016" cy="2.446" r=".214" fill="#2c90f0"/>
<circle cx="1.03" cy="2.497" r=".211" fill="#2a93ee"/>
<circle cx="1.044" cy="2.548" r=".208" fill="#2896eb"/>
<circle cx="1.058" cy="2.599" r=".204" fill="#2699e9"/>
<circle cx="1.072" cy="2.65" r=".201" fill="#259ce7"/>
<circle cx="1.086" cy="2.701" r=".198" fill="#239fe5"/>
<circle cx="1.1" cy="2.752" r=".195" fill="#21a2e4"/>
<circle cx="1.114" cy="2.804" r=".192" fill="#1fa5e2"/>
<circle cx="1.128" cy="2.855" r=".189" fill="#1da8e0"/>
<circle cx="1.141" cy="2.906" r=".186" fill="#1babde"/>
<circle cx="1.155" cy="2.957" r=".183" fill="#18aedb"/>
<circle cx="1.169" cy="3.008" r=".18" fill="#13b0d7"/>
<circle cx="1.183" cy="3.059" r=".177" fill="#0eb2d4"/>
<circle cx="1.197" cy="3.11" r=".174" fill="#07b5d0"/>
<circle cx="1.211" cy="3.162" r=".172" fill="#03b7cc"/>
<circle cx="1.225" cy="3.213" r=".169" fill="#01b9c8"/>
<circle cx="1.239" cy="3.264" r=".166" fill="#02bac4"/>
<circle cx="1.253" cy="3.315" r=".164" fill="#07bcbf"/>
<circle cx="1.267" cy="3.366" r=".161" fill="#0ebebb"/>
<circle cx="1.28" cy="3.417" r=".158" fill="#17bfb6"/>
<circle cx="1.294" cy="3.468" r=".156" fill="#1fc0b2"/>
<circle cx="1.308" cy="3.52" r=".153" fill="#25c2ad"/>
<circle cx="1.322" cy="3.571" r=".151" fill="#2ac3a8"/>
<circle cx="1.336" cy="3.622" r=".148" fill="#2ec5a4"/>
<circle cx="1.35" cy="3.673" r=".146" fill="#32c69f"/>
<circle cx="1.364" cy="3.724" r=".143" fill="#36c799"/>
<circle cx="1.378" cy="3.775" r=".141" fill="#3ac993"/>
<circle cx="1.392" cy="3.826" r=".139" fill="#3fca8e"/>
<circle cx="1.405" cy="3.877" r=".136" fill="#47cb87"/>
<circle cx="1.419" cy="3.929" r=".134" fill="#4ecc81"/>
<circle cx="1.433" cy="3.98" r=".131" fill="#56cc7a"/>
<circle cx="1.447" cy="4.031" r=".129" fill="#5fcd73"/>
<circle cx="1.461" cy="4.082" r=".126" fill="#67cd6c"/>
<circle cx="1.475" cy="4.133" r=".124" fill="#70cd65"/>
<circle cx="1.489" cy="4.184" r=".122" fill="#7acc5e"/>
<circle cx="1.503" cy="4.235" r=".119" fill="#83cc57"/>
<circle cx="1.517" cy="4.287" r=".117" fill="#8dcb50"/>
<circle cx="1.531" cy="4.338" r=".114" fill="#96ca48"/>
<circle cx="1.544" cy="4.389" r=".112" fill="#9fc941"/>
<circle cx="1.558" cy="4.44" r=".11" fill="#a8c73b"/>
<circle cx="1.572" cy="4.491" r=".107" fill="#b1c635"/>
<circle cx="1.586" cy="4.542" r=".105" fill="#b9c430"/>
<circle cx="1.6" cy="4.593" r=".102" fill="#c1c32c"/>
<circle cx="1.614" cy="4.644" r=".1" fill="#c9c129"/>
<circle cx="1.628" cy="4.696" r=".097" fill="#d1bf27"/>
<circle cx="1.642" cy="4.747" r=".095" fill="#d8be28"/>
<circle cx="1.656" cy="4.798" r=".092" fill="#dfbc2a"/>
<circle cx="1.67" cy="4.849" r=".09" fill="#e6bb2d"/>
<circle cx="1.683" cy="4.9" r=".087" fill="#ecba32"/>
<circle cx="1.697" cy="4.951" r=".085" fill="#f1ba37"/>
<circle cx="1.711" cy="5.002" r=".082" fill="#f7ba3c"/>
<circle cx="1.725" cy="5.054" r=".079" fill="#fbbc3d"/>
<circle cx="1.739" cy="5.105" r=".076" fill="#febe3c"/>
<circle cx="1.753" cy="5.156" r=".074" fill="#fec239"/>
<circle cx="1.767" cy="5.207" r=".071" fill="#fec636"/>
<circle cx="1.781" cy="5.258" r=".068" fill="#feca33"/>
<circle cx="1.795" cy="5.309" r=".065" fill="#fdce31"/>
<circle cx="1.809" cy="5.36" r=".062" fill="#fbd22f"/>
<circle cx="1.822" cy="5.411" r=".058" fill="#fad62d"/>
<circle cx="1.836" cy="5.463" r=".055" fill="#f8da2b"/>
<circle cx="1.85" cy="5.514" r=".051" fill="#f6de29"/>
<circle cx="1.864" cy="5.565" r=".047" fill="#f5e227"/>
<circle cx="1.878" cy="5.616" r=".043" fill="#f5e626"/>
<circle cx="1.892" cy="5.667" r=".039" fill="#f5ea23"/>
<circle cx="1.906" cy="5.718" r=".034" fill="#f5ee21"/>
<circle cx="1.92" cy="5.769" r=".028" fill="#f6f21e"/>
<circle cx="1.929" cy="5.805" r=".024" fill="#f7f51b"/>
<circle cx="1.939" cy="5.841" r=".018" fill="#f8f718"/>
<circle cx="1.946" cy="5.866" r=".012" fill="#f9f916"/>
<circle cx="1.949" cy="5.878" r=".008" fill="#f9fa15"/>
<circle cx="1.952" cy="5.887" r=".002" fill="#f9fb15"/>
<circle cx="1.952" cy="5.887" r="0" fill="#f9fb15"/>
<circle cx="-.392" cy="-.165" r=".541" fill="#3f29b1"/>
<circle cx="-.39" cy="-.159" r=".532" fill="#4029b2"/>
<circle cx="-.388" cy="-.153" r=".524" fill="#402ab3"/>
<circle cx="-.387" cy="-.147" r=".517" fill="#402ab4"/>
<circle cx="-.385" cy="-.141" r=".51" fill="#402ab5"/>
<circle cx="-.384" cy="-.135" r=".503" fill="#402bb6"/>
<circle cx="-.382" cy="-.129" r=".497" fill="#402bb7"/>
<circle cx="-.38" cy="-.123" r=".491" fill="#402bb8"/>
<circle cx="-.379" cy="-.117" r=".486" fill="#412cb9"/>
<circle cx="-.377" cy="-.111" r=".481" fill="#412cb9"/>
<circle cx="-.375" cy="-.105" r=".476" fill="#412cba"/>
<circle cx="-.374" cy="-.099" r=".471" fill="#412dbb"/>
<circle cx="-.372" cy="-.093" r=".467" fill="#412dbc"/>
<circle cx="-.37" cy="-.085" r=".461" fill="#412dbd"/>
<circle cx="-.367" cy="-.076" r=".455" fill="#422ebe"/>
<circle cx="-.365" cy="-.067" r=".45" fill="#422ec0"/>
<circle cx="-.363" cy="-.059" r=".445" fill="#422fc1"/>
<circle cx="-.36" cy="-.05" r=".44" fill="#422fc2"/>
<circle cx="-.358" cy="-.042" r=".436" fill="#4230c3"/>
<circle cx="-.356" cy="-.033" r=".431" fill="#4330c5"/>
<circle cx="-.352" cy="-.021" r=".425" fill="#4331c6"/>
<circle cx="-.349" cy="-.009" r=".42" fill="#4331c8"/>
<circle cx="-.346" cy=".004" r=".414" fill="#4332ca"/>
<circle cx="-.342" cy=".016" r=".409" fill="#4433cc"/>
<circle cx="-.339" cy=".028" r=".404" fill="#4433cd"/>
<circle cx="-.336" cy=".041" r=".4" fill="#4434cf"/>
<circle cx="-.332" cy=".053" r=".396" fill="#4435d0"/>
<circle cx="-.328" cy=".07" r=".39" fill="#4536d3"/>
<circle cx="-.323" cy=".088" r=".384" fill="#4537d5"/>
<circle cx="-.318" cy=".105" r=".379" fill="#4538d7"/>
<circle cx="-.313" cy=".123" r=".374" fill="#4639d9"/>
<circle cx="-.309" cy=".141" r=".369" fill="#463adb"/>
<circle cx="-.304" cy=".158" r=".364" fill="#463bdd"/>
<circle cx="-.299" cy=".176" r=".36" fill="#463cdf"/>
<circle cx="-.292" cy=".201" r=".354" fill="#473ee1"/>
<circle cx="-.285" cy=".226" r=".348" fill="#4740e3"/>
<circle cx="-.279" cy=".251" r=".343" fill="#4742e6"/>
<circle cx="-.272" cy=".276" r=".338" fill="#4743e8"/>
<circle cx="-.265" cy=".301" r=".333" fill="#4745e9"/>
<circle cx="-.258" cy=".326" r=".328" fill="#4747eb"/>
<circle cx="-.251" cy=".351" r=".324" fill="#4849ed"/>
<circle cx="-.244" cy=".376" r=".319" fill="#484bee"/>
<circle cx="-.235" cy=".412" r=".313" fill="#484df1"/>
<circle cx="-.225" cy=".448" r=".308" fill="#4850f3"/>
<circle cx="-.215" cy=".483" r=".302" fill="#4853f4"/>
<circle cx="-.206" cy=".519" r=".297" fill="#4755f6"/>
<circle cx="-.196" cy=".555" r=".293" fill="#4758f8"/>
<circle cx="-.186" cy=".591" r=".288" fill="#475af9"/>
<circle cx="-.176" cy=".627" r=".283" fill="#465dfa"/>
<circle cx="-.167" cy=".662" r=".279" fill="#465ffb"/>
<circle cx="-.153" cy=".714" r=".273" fill="#4563fd"/>
<circle cx="-.139" cy=".765" r=".268" fill="#4367fd"/>
<circle cx="-.125" cy=".816" r=".262" fill="#416bfe"/>
<circle cx="-.111" cy=".867" r=".257" fill="#3e6fff"/>
<circle cx="-.097" cy=".918" r=".252" fill="#3b73fe"/>
<circle cx="-.083" cy=".969" r=".247" fill="#3777fe"/>
<circle cx="-.069" cy="1.02" r=".243" fill="#337bfc"/>
<circle cx="-.055" cy="1.072" r=".238" fill="#307ffb"/>
<circle cx="-.042" cy="1.123" r=".234" fill="#2f83f9"/>
<circle cx="-.028" cy="1.174" r=".23" fill="#2e86f7"/>
<circle cx="-.014" cy="1.225" r=".226" fill="#2d8af5"/>
<circle cx="0" cy="1.276" r=".222" fill="#2d8df2"/>
<circle cx=".014" cy="1.327" r=".218" fill="#2b90ef"/>
<circle cx=".028" cy="1.378" r=".215" fill="#2994ed"/>
<circle cx=".042" cy="1.429" r=".211" fill="#2797eb"/>
<circle cx=".056" cy="1.481" r=".207" fill="#269ae8"/>
<circle cx=".07" cy="1.532" r=".204" fill="#249de6"/>
<circle cx=".084" cy="1.583" r=".201" fill="#23a0e5"/>
<circle cx=".097" cy="1.634" r=".197" fill="#21a3e3"/>
<circle cx=".111" cy="1.685" r=".194" fill="#1ea6e1"/>
<circle cx=".125" cy="1.736" r=".191" fill="#1ca9df"/>
<circle cx=".139" cy="1.787" r=".188" fill="#1aacdd"/>
<circle cx=".153" cy="1.839" r=".185" fill="#16afd9"/>
<circle cx=".167" cy="1.89" r=".182" fill="#12b1d6"/>
<circle cx=".181" cy="1.941" r=".179" fill="#0bb3d2"/>
<circle cx=".195" cy="1.992" r=".176" fill="#06b6ce"/>
<circle cx=".209" cy="2.043" r=".173" fill="#01b8ca"/>
<circle cx=".222" cy="2.094" r=".17" fill="#01b9c6"/>
<circle cx=".236" cy="2.145" r=".167" fill="#04bbc2"/>
<circle cx=".25" cy="2.196" r=".164" fill="#0abdbd"/>
<circle cx=".264" cy="2.248" r=".162" fill="#13beb9"/>
<circle cx=".278" cy="2.299" r=".159" fill="#1bc0b4"/>
<circle cx=".292" cy="2.35" r=".156" fill="#23c1af"/>
<circle cx=".306" cy="2.401" r=".154" fill="#28c3ab"/>
<circle cx=".32" cy="2.452" r=".151" fill="#2dc4a6"/>
<circle cx=".334" cy="2.503" r=".148" fill="#31c5a1"/>
<circle cx=".348" cy="2.554" r=".146" fill="#34c79b"/>
<circle cx=".361" cy="2.606" r=".143" fill="#38c896"/>
<circle cx=".375" cy="2.657" r=".141" fill="#3dca90"/>
<circle cx=".389" cy="2.708" r=".138" fill="#44cb8a"/>
<circle cx=".403" cy="2.759" r=".136" fill="#4bcb83"/>
<circle cx=".417" cy="2.81" r=".133" fill="#54cc7d"/>
<circle cx=".431" cy="2.861" r=".13" fill="#5ccc76"/>
<circle cx=".445" cy="2.912" r=".128" fill="#65cd6e"/>
<circle cx=".459" cy="2.963" r=".125" fill="#6ecd67"/>
<circle cx=".473" cy="3.015" r=".123" fill="#77cc60"/>
<circle cx=".487" cy="3.066" r=".121" fill="#81cc58"/>
<circle cx=".5" cy="3.117" r=".118" fill="#8acb51"/>
<circle cx=".514" cy="3.168" r=".116" fill="#94ca4a"/>
<circle cx=".528" cy="3.219" r=".113" fill="#9dc943"/>
<circle cx=".542" cy="3.27" r=".111" fill="#a6c73c"/>
<circle cx=".556" cy="3.321" r=".108" fill="#afc636"/>
<circle cx=".57" cy="3.373" r=".106" fill="#b8c431"/>
<circle cx=".584" cy="3.424" r=".103" fill="#c0c32d"/>
<circle cx=".598" cy="3.475" r=".1" fill="#c8c129"/>
<circle cx=".612" cy="3.526" r=".098" fill="#d0bf27"/>
<circle cx=".626" cy="3.577" r=".095" fill="#d7be28"/>
<circle cx=".639" cy="3.628" r=".093" fill="#debc2a"/>
<circle cx=".653" cy="3.679" r=".09" fill="#e5bb2d"/>
<circle cx=".667" cy="3.731" r=".087" fill="#ebba32"/>
<circle cx=".681" cy="3.782" r=".085" fill="#f1ba37"/>
<circle cx=".695" cy="3.833" r=".082" fill="#f7ba3c"/>
<circle cx=".709" cy="3.884" r=".079" fill="#fbbc3d"/>
<circle cx=".723" cy="3.935" r=".076" fill="#febe3c"/>
<circle cx=".737" cy="3.986" r=".074" fill="#fec239"/>
<circle cx=".751" cy="4.037" r=".071" fill="#fec636"/>
<circle cx=".765" cy="4.088" r=".068" fill="#feca33"/>
<circle cx=".778" cy="4.14" r=".065" fill="#fdce31"/>
<circle cx=".792" cy="4.191" r=".061" fill="#fbd22f"/>
<circle cx=".806" cy="4.242" r=".058" fill="#f9d62d"/>
<circle cx=".82" cy="4.293" r=".054" fill="#f8da2b"/>
<circle cx=".834" cy="4.344" r=".051" fill="#f6df29"/>
<circle cx=".848" cy="4.395" r=".047" fill="#f5e327"/>
<circle cx=".862" cy="4.446" r=".043" fill="#f5e725"/>
<circle cx=".876" cy="4.498" r=".038" fill="#f5eb23"/>
<circle cx=".89" cy="4.549" r=".033" fill="#f5ef20"/>
<circle cx=".903" cy="4.6" r=".027" fill="#f7f31d"/>
<circle cx=".913" cy="4.636" r=".022" fill="#f7f51b"/>
<circle cx=".92" cy="4.661" r=".018" fill="#f8f719"/>
<circle cx=".927" cy="4.686" r=".012" fill="#f9f916"/>
<circle cx=".93" cy="4.698" r=".008" fill="#f9fa15"/>
<circle cx=".933" cy="4.707" r=".003" fill="#f9fb15"/>
<circle cx=".933" cy="4.708" r="0" fill="#f9fb15"/>
</g>
</g>
<path d="M939.5 21.8L939.5 176.9" stroke="#7a7a7a" stroke-width="1"/>
<path d="M939.6 176.9L1000.7 233.1L1224.8 217.7" stroke="#6a6a6a" stroke-width="0.9" fill="none"/>
<path d="M1000.7 233.1L1004.7 236.8" stroke="#6a6a6a" stroke-width="0.9"/>
<path d="M1000.7 233.1L994.2 233.5" stroke="#6a6a6a" stroke-width="0.9"/>
<path d="M1112.8 225.4L1116.8 229.1" stroke="#6a6a6a" stroke-width="0.9"/>
<path d="M970.2 205L963.7 205.4" stroke="#6a6a6a" stroke-width="0.9"/>
<path d="M1224.8 217.7L1228.8 221.4" stroke="#6a6a6a" stroke-width="0.9"/>
<path d="M939.6 36.1L935 33.3" stroke="#6a6a6a" stroke-width="0.9"/>
<path d="M939.6 106.9L935 104.1" stroke="#6a6a6a" stroke-width="0.9"/>
<path d="M939.6 176.9L935 174.1" stroke="#6a6a6a" stroke-width="0.9"/>
<text class="t" x="890.8" y="36.8" font-size="27.5" textLength="38.9" lengthAdjust="spacingAndGlyphs">0.2</text>
<text class="t" x="890.8" y="110.2" font-size="27.5" textLength="38.9" lengthAdjust="spacingAndGlyphs">0.1</text>
<text class="t" x="913.8" y="175.9" font-size="27.5" textLength="15.9" lengthAdjust="spacingAndGlyphs">0</text>
<text class="t" x="916.1" y="195.7" font-size="27.5" textLength="13.6" lengthAdjust="spacingAndGlyphs">5</text>
<text class="t" x="943.4" y="219.7" font-size="27.5" textLength="15.9" lengthAdjust="spacingAndGlyphs">0</text>
<text class="t" x="949" y="245" font-size="27.5" textLength="36.6" lengthAdjust="spacingAndGlyphs">−5</text>
<text class="t" x="989.2" y="259.8" font-size="27.5" textLength="35.8" lengthAdjust="spacingAndGlyphs">−5</text>
<text class="t" x="1112.5" y="253.2" font-size="27.5" textLength="15.5" lengthAdjust="spacingAndGlyphs">0</text>
<text class="t" x="1226.9" y="242.7" font-size="27.5" textLength="14.5" lengthAdjust="spacingAndGlyphs">5</text>
<text class="i" x="1112.6" y="289.4" font-size="33" textLength="21.3" lengthAdjust="spacingAndGlyphs">X</text>
<text class="i" x="902.2" y="230.2" font-size="33" textLength="20.4" lengthAdjust="spacingAndGlyphs">Y</text>
<text class="t" transform="translate(865.1 151.3) rotate(-90)" font-size="33.4" textLength="87.2" lengthAdjust="spacingAndGlyphs">Re(<tspan font-style="italic">ψ</tspan>)</text>
<text class="t" x="950" y="62.5" font-size="28.5" textLength="38.9" lengthAdjust="spacingAndGlyphs">(c)</text>
<path d="M1373.4 176.9L1596.2 163.8L1596.2 7.6L1373.4 21.8" stroke="#e5e5e5" stroke-width="1" fill="none"/>
<path d="M1484.8 170.4L1484.8 14.7" stroke="#e5e5e5" stroke-width="1"/>
<path d="M1596.2 163.8L1656 217.7L1656 61.5L1596.2 7.6" stroke="#e5e5e5" stroke-width="1" fill="none"/>
<path d="M1626.1 190.8L1626.1 34.6" stroke="#e5e5e5" stroke-width="1"/>
<path d="M1545.2 225.4L1484.8 170.4" stroke="#e5e5e5" stroke-width="1"/>
<path d="M1403.9 205L1626.1 190.8" stroke="#e5e5e5" stroke-width="1"/>
<path d="M1373.4 99.7L1596.2 86.1L1656 140" stroke="#e5e5e5" stroke-width="1" fill="none"/>
<g transform="matrix(111.1 -7.12 -30.2 -27.52 1515 197.9)">
<circle cx="-.018" cy=".454" r="0" fill="#3e26a8"/>
<circle cx="-.017" cy=".457" r=".005" fill="#3e26a9"/>
<circle cx="-.015" cy=".463" r=".009" fill="#3e27a9"/>
<circle cx="-.012" cy=".475" r=".013" fill="#3e27ab"/>
<circle cx="-.007" cy=".493" r=".018" fill="#3f28ad"/>
<circle cx="-.001" cy=".518" r=".023" fill="#3f29b0"/>
<circle cx=".009" cy=".553" r=".029" fill="#402ab5"/>
<circle cx=".019" cy=".589" r=".035" fill="#412cb9"/>
<circle cx=".028" cy=".625" r=".039" fill="#412dbd"/>
<circle cx=".042" cy=".676" r=".045" fill="#4230c3"/>
<circle cx=".056" cy=".726" r=".05" fill="#4332c9"/>
<circle cx=".07" cy=".777" r=".055" fill="#4434cf"/>
<circle cx=".084" cy=".828" r=".059" fill="#4536d4"/>
<circle cx=".098" cy=".879" r=".064" fill="#4639d9"/>
<circle cx=".112" cy=".93" r=".068" fill="#463cde"/>
<circle cx=".125" cy=".981" r=".072" fill="#473fe2"/>
<circle cx=".139" cy="1.032" r=".076" fill="#4742e6"/>
<circle cx=".153" cy="1.083" r=".08" fill="#4745e9"/>
<circle cx=".167" cy="1.134" r=".084" fill="#4848ec"/>
<circle cx=".181" cy="1.185" r=".088" fill="#484bee"/>
<circle cx=".195" cy="1.236" r=".092" fill="#484ef1"/>
<circle cx=".208" cy="1.286" r=".096" fill="#4851f3"/>
<circle cx=".222" cy="1.337" r=".1" fill="#4854f5"/>
<circle cx=".236" cy="1.388" r=".104" fill="#4757f7"/>
<circle cx=".25" cy="1.439" r=".108" fill="#475af9"/>
<circle cx=".264" cy="1.49" r=".112" fill="#475dfa"/>
<circle cx=".278" cy="1.541" r=".116" fill="#4660fb"/>
<circle cx=".291" cy="1.592" r=".12" fill="#4563fc"/>
<circle cx=".305" cy="1.643" r=".124" fill="#4466fd"/>
<circle cx=".319" cy="1.694" r=".129" fill="#4269fe"/>
<circle cx=".333" cy="1.745" r=".133" fill="#406cfe"/>
<circle cx=".347" cy="1.796" r=".138" fill="#3e6fff"/>
</g>
<path d="M1382.5 101.6L1437.6 151.9L1646.5 138.2L1591.4 87.4Z" fill="#18bfb6"/>
<clipPath id="cd"><circle cx=".506" cy="2.492" r=".365" transform="matrix(111.1 -7.12 -30.2 -27.52 1515 197.9)"/><rect x="1452" y="85.7" width="88" height="40"/></clipPath>
<filter id="cdf" x="-20%" y="-50%" width="140%" height="200%"><feGaussianBlur stdDeviation="2.2"/></filter>
<g clip-path="url(#cd)"><g filter="url(#cdf)">
<g transform="matrix(111.1 -7.12 -30.2 -27.52 1515 197.9)">
<circle cx=".499" cy="2.466" r=".342" fill="#01b9c7"/>
<circle cx=".497" cy="2.459" r=".338" fill="#01b8c8"/>
<circle cx=".496" cy="2.452" r=".334" fill="#01b8ca"/>
<circle cx=".494" cy="2.445" r=".33" fill="#02b7cb"/>
<circle cx=".492" cy="2.439" r=".326" fill="#03b7cc"/>
<circle cx=".489" cy="2.429" r=".321" fill="#05b6ce"/>
<circle cx=".487" cy="2.419" r=".316" fill="#07b5d0"/>
<circle cx=".484" cy="2.409" r=".312" fill="#0ab4d2"/>
<circle cx=".481" cy="2.399" r=".308" fill="#0db3d3"/>
<circle cx=".479" cy="2.39" r=".304" fill="#10b2d5"/>
<circle cx=".475" cy="2.376" r=".299" fill="#13b0d7"/>
<circle cx=".471" cy="2.362" r=".294" fill="#16afda"/>
<circle cx=".467" cy="2.348" r=".289" fill="#19addc"/>
<circle cx=".463" cy="2.334" r=".285" fill="#1aabdd"/>
<circle cx=".46" cy="2.32" r=".281" fill="#1ca9df"/>
<circle cx=".456" cy="2.306" r=".277" fill="#1ea8e1"/>
<circle cx=".452" cy="2.292" r=".273" fill="#1fa6e2"/>
<circle cx=".447" cy="2.272" r=".268" fill="#21a3e3"/>
<circle cx=".441" cy="2.252" r=".264" fill="#23a0e5"/>
<circle cx=".436" cy="2.232" r=".259" fill="#249de6"/>
<circle cx=".43" cy="2.212" r=".255" fill="#269ae8"/>
<circle cx=".425" cy="2.192" r=".251" fill="#2798ea"/>
<circle cx=".419" cy="2.172" r=".247" fill="#2995ec"/>
<circle cx=".414" cy="2.152" r=".243" fill="#2b92ef"/>
<circle cx=".406" cy="2.124" r=".238" fill="#2d8df2"/>
<circle cx=".398" cy="2.095" r=".233" fill="#2d89f6"/>
<circle cx=".391" cy="2.067" r=".228" fill="#2e84f8"/>
<circle cx=".383" cy="2.038" r=".224" fill="#307ffb"/>
<circle cx=".375" cy="2.01" r=".219" fill="#347afd"/>
<circle cx=".367" cy="1.981" r=".215" fill="#3975fe"/>
<circle cx=".36" cy="1.953" r=".211" fill="#3e6fff"/>
<circle cx=".352" cy="1.924" r=".207" fill="#426afe"/>
<circle cx=".344" cy="1.896" r=".203" fill="#4465fd"/>
</g>
</g></g>
<g transform="matrix(111.1 -7.12 -30.2 -27.52 1515 197.9)">
<circle cx=".947" cy="2.996" r=".274" fill="#1dc0b3"/>
<circle cx=".948" cy="3.002" r=".268" fill="#1ec0b2"/>
<circle cx=".95" cy="3.008" r=".262" fill="#1fc1b1"/>
<circle cx=".951" cy="3.014" r=".258" fill="#21c1b1"/>
<circle cx=".954" cy="3.022" r=".252" fill="#22c1b0"/>
<circle cx=".956" cy="3.031" r=".246" fill="#24c1af"/>
<circle cx=".958" cy="3.039" r=".242" fill="#25c2ad"/>
<circle cx=".962" cy="3.051" r=".236" fill="#27c2ac"/>
<circle cx=".965" cy="3.064" r=".231" fill="#28c3aa"/>
<circle cx=".968" cy="3.076" r=".226" fill="#2ac3a9"/>
<circle cx=".973" cy="3.093" r=".22" fill="#2cc4a7"/>
<circle cx=".978" cy="3.111" r=".214" fill="#2ec4a5"/>
<circle cx=".983" cy="3.128" r=".21" fill="#2fc5a2"/>
<circle cx=".987" cy="3.146" r=".205" fill="#31c6a0"/>
<circle cx=".994" cy="3.171" r=".199" fill="#33c79d"/>
<circle cx="1.001" cy="3.196" r=".194" fill="#36c799"/>
<circle cx="1.008" cy="3.221" r=".189" fill="#38c896"/>
<circle cx="1.015" cy="3.246" r=".185" fill="#3cc992"/>
<circle cx="1.024" cy="3.281" r=".179" fill="#41ca8c"/>
<circle cx="1.034" cy="3.317" r=".173" fill="#48cb87"/>
<circle cx="1.044" cy="3.352" r=".168" fill="#4fcc81"/>
<circle cx="1.053" cy="3.388" r=".163" fill="#56cc7b"/>
<circle cx="1.063" cy="3.424" r=".159" fill="#5ecd74"/>
<circle cx="1.073" cy="3.459" r=".154" fill="#66cd6d"/>
<circle cx="1.086" cy="3.51" r=".149" fill="#72cd64"/>
<circle cx="1.1" cy="3.561" r=".143" fill="#7ecc5a"/>
<circle cx="1.114" cy="3.612" r=".138" fill="#8bcb51"/>
<circle cx="1.128" cy="3.663" r=".133" fill="#97ca48"/>
<circle cx="1.142" cy="3.714" r=".128" fill="#a3c83f"/>
<circle cx="1.156" cy="3.765" r=".123" fill="#afc637"/>
<circle cx="1.17" cy="3.816" r=".119" fill="#bac430"/>
<circle cx="1.183" cy="3.867" r=".114" fill="#c5c22a"/>
<circle cx="1.197" cy="3.918" r=".11" fill="#cfc028"/>
<circle cx="1.211" cy="3.968" r=".105" fill="#d8be28"/>
<circle cx="1.225" cy="4.019" r=".101" fill="#e1bc2b"/>
<circle cx="1.239" cy="4.07" r=".097" fill="#eabb30"/>
<circle cx="1.253" cy="4.121" r=".093" fill="#f1ba37"/>
<circle cx="1.266" cy="4.172" r=".088" fill="#f8ba3d"/>
<circle cx="1.28" cy="4.223" r=".084" fill="#fdbd3d"/>
<circle cx="1.294" cy="4.274" r=".08" fill="#fec239"/>
<circle cx="1.308" cy="4.325" r=".075" fill="#fec735"/>
<circle cx="1.322" cy="4.376" r=".071" fill="#fdcc32"/>
<circle cx="1.336" cy="4.427" r=".066" fill="#fbd12f"/>
<circle cx="1.349" cy="4.478" r=".061" fill="#f9d72d"/>
<circle cx="1.363" cy="4.529" r=".056" fill="#f7dc2a"/>
<circle cx="1.377" cy="4.579" r=".051" fill="#f5e228"/>
<circle cx="1.391" cy="4.63" r=".045" fill="#f5e725"/>
<circle cx="1.401" cy="4.666" r=".04" fill="#f5eb23"/>
<circle cx="1.41" cy="4.702" r=".035" fill="#f5ee21"/>
<circle cx="1.42" cy="4.737" r=".03" fill="#f6f21e"/>
<circle cx="1.427" cy="4.762" r=".025" fill="#f7f41c"/>
<circle cx="1.434" cy="4.787" r=".02" fill="#f8f719"/>
<circle cx="1.438" cy="4.805" r=".015" fill="#f8f917"/>
<circle cx="1.442" cy="4.817" r=".01" fill="#f9fa16"/>
<circle cx="1.444" cy="4.825" r=".005" fill="#f9fb15"/>
<circle cx="1.445" cy="4.828" r="0" fill="#f9fb15"/>
</g>
<path d="M1373.5 21.8L1373.5 176.9" stroke="#7a7a7a" stroke-width="1"/>
<path d="M1373.4 176.9L1434.4 233.1L1656 217.7" stroke="#6a6a6a" stroke-width="0.9" fill="none"/>
<path d="M1434.4 233.1L1438.4 236.8" stroke="#6a6a6a" stroke-width="0.9"/>
<path d="M1434.4 233.1L1427.9 233.6" stroke="#6a6a6a" stroke-width="0.9"/>
<path d="M1545.2 225.4L1549.2 229.1" stroke="#6a6a6a" stroke-width="0.9"/>
<path d="M1403.9 205L1397.4 205.5" stroke="#6a6a6a" stroke-width="0.9"/>
<path d="M1656 217.7L1660 221.4" stroke="#6a6a6a" stroke-width="0.9"/>
<path d="M1373.4 21.8L1368.8 19" stroke="#6a6a6a" stroke-width="0.9"/>
<path d="M1373.4 99.7L1368.8 96.9" stroke="#6a6a6a" stroke-width="0.9"/>
<path d="M1373.4 176.9L1368.8 174.1" stroke="#6a6a6a" stroke-width="0.9"/>
<text class="t" x="1326.4" y="22.4" font-size="27.5" textLength="39.2" lengthAdjust="spacingAndGlyphs">0.2</text>
<text class="t" x="1349.5" y="103.6" font-size="27.5" textLength="16.1" lengthAdjust="spacingAndGlyphs">0</text>
<text class="t" x="1303.4" y="173.7" font-size="27.5" textLength="62.2" lengthAdjust="spacingAndGlyphs">−0.2</text>
<text class="t" x="1349.5" y="194.7" font-size="27.5" textLength="14.1" lengthAdjust="spacingAndGlyphs">5</text>
<text class="t" x="1376.8" y="218.1" font-size="27.5" textLength="15.1" lengthAdjust="spacingAndGlyphs">0</text>
<text class="t" x="1382.4" y="243.4" font-size="27.5" textLength="36.5" lengthAdjust="spacingAndGlyphs">−5</text>
<text class="t" x="1422.5" y="258.9" font-size="27.5" textLength="35.9" lengthAdjust="spacingAndGlyphs">−5</text>
<text class="t" x="1545.2" y="252.3" font-size="27.5" textLength="15.8" lengthAdjust="spacingAndGlyphs">0</text>
<text class="t" x="1659.7" y="242.4" font-size="27.5" textLength="14.1" lengthAdjust="spacingAndGlyphs">5</text>
<text class="i" x="1545.9" y="288.8" font-size="33" textLength="21.3" lengthAdjust="spacingAndGlyphs">X</text>
<text class="i" x="1335.5" y="229.3" font-size="33" textLength="20.4" lengthAdjust="spacingAndGlyphs">Y</text>
<text class="t" transform="translate(1311.6 143.8) rotate(-90)" font-size="33.4" textLength="87.6" lengthAdjust="spacingAndGlyphs">Re(<tspan font-style="italic">ψ</tspan>)</text>
<text class="t" x="1384" y="57.8" font-size="28.5" textLength="43.1" lengthAdjust="spacingAndGlyphs">(d)</text>
<path d="M94.6 485.6L319.4 470.4L319.4 315.2L94.6 328.5" stroke="#e5e5e5" stroke-width="1" fill="none"/>
<path d="M207 478L207 321.9" stroke="#e5e5e5" stroke-width="1"/>
<path d="M319.4 470.4L379.8 526.4L379.8 371.2L319.4 315.2" stroke="#e5e5e5" stroke-width="1" fill="none"/>
<path d="M349.6 498.4L349.6 343.2" stroke="#e5e5e5" stroke-width="1"/>
<path d="M267.8 534L207 478" stroke="#e5e5e5" stroke-width="1"/>
<path d="M125.1 513.6L349.6 498.4" stroke="#e5e5e5" stroke-width="1"/>
<path d="M94.6 407.3L319.4 393L379.8 449" stroke="#e5e5e5" stroke-width="1" fill="none"/>
<linearGradient id="g1" x1="0" x2="1" y1="0" y2="0"><stop offset="0" stop-color="#3a25ac"/><stop offset=".16" stop-color="#3e28be"/><stop offset=".5" stop-color="#4430c8"/><stop offset=".84" stop-color="#3e28be"/><stop offset="1" stop-color="#3a25ac"/></linearGradient>
<path d="M221.7 349.4L221.7 505A14.8 2.8 0 0 0 251.3 505L251.3 349.4A14.8 2.8 0 0 0 221.7 349.4Z" fill="url(#g1)"/>
<radialGradient id="r2"><stop offset="0" stop-color="#62cc50"/><stop offset=".3" stop-color="#28aee6"/><stop offset=".62" stop-color="#3c58ee" stop-opacity=".9"/><stop offset="1" stop-color="#3e28be" stop-opacity="0"/></radialGradient>
<ellipse cx="236.5" cy="348.2" rx="13.3" ry="3.2" fill="url(#r2)"/>
<path d="M249.9 492.9h1v1h-1zM249.8 408.6h1v1h-1zM221.4 349.7h1v1h-1zM221.4 500.1h1v1h-1zM250.8 454.9h1v1h-1zM221.3 501.1h1v1h-1zM221.9 497.9h1v1h-1zM250.7 465.9h1v1h-1zM249.7 434.2h1v1h-1zM250.6 357h1v1h-1zM250 474.1h1v1h-1zM250.4 358.5h1v1h-1zM250.3 372.2h1v1h-1zM250.7 473.1h1v1h-1zM250.4 496.5h1v1h-1zM250.4 449.6h1v1h-1zM250.6 479.6h1v1h-1zM250.4 435.5h1v1h-1zM222 355.9h1v1h-1zM221.7 404h1v1h-1zM250 434.6h1v1h-1zM221.7 475.9h1v1h-1zM222.3 349.5h1v1h-1zM249.6 408.5h1v1h-1zM221.8 394h1v1h-1zM250.8 432.3h1v1h-1zM250.2 449.7h1v1h-1zM249.9 353.5h1v1h-1zM221.7 439h1v1h-1zM250.2 467.4h1v1h-1zM222.3 500.8h1v1h-1zM222 353.4h1v1h-1zM221.6 492.2h1v1h-1zM249.9 392.9h1v1h-1zM250.4 358.1h1v1h-1zM250.7 386.1h1v1h-1zM250 362.7h1v1h-1zM250.7 432h1v1h-1zM222.2 371.1h1v1h-1zM250.3 461.9h1v1h-1zM221.3 354.6h1v1h-1zM249.7 445.8h1v1h-1zM250.1 366.6h1v1h-1zM250.4 358.6h1v1h-1zM221.4 353.3h1v1h-1zM222.1 461.1h1v1h-1zM249.9 413.2h1v1h-1zM250.7 387.3h1v1h-1zM221.4 457.7h1v1h-1zM221.9 482.7h1v1h-1zM221.6 419.3h1v1h-1zM250.4 369.6h1v1h-1zM250.6 393.9h1v1h-1zM250 467.6h1v1h-1z" fill="#fff" fill-opacity="0.55"/>
<path d="M251 447.1h1.1v1.1h-1.1zM251.6 353.1h1.1v1.1h-1.1zM220.8 471.3h1.1v1.1h-1.1zM251.4 366.5h1.1v1.1h-1.1zM221 364.7h1.1v1.1h-1.1zM250.8 392.8h1.1v1.1h-1.1zM220.9 373.8h1.1v1.1h-1.1zM220.8 486.4h1.1v1.1h-1.1zM221 470.9h1.1v1.1h-1.1zM221 500.6h1.1v1.1h-1.1zM250.9 379.7h1.1v1.1h-1.1zM220.9 374.8h1.1v1.1h-1.1zM250.9 390.3h1.1v1.1h-1.1zM251.2 402h1.1v1.1h-1.1zM251.1 404.7h1.1v1.1h-1.1zM221.2 424.7h1.1v1.1h-1.1zM250.8 352.2h1.1v1.1h-1.1zM250.9 473.1h1.1v1.1h-1.1zM220.7 408.1h1.1v1.1h-1.1zM221 367.4h1.1v1.1h-1.1zM251 495.6h1.1v1.1h-1.1zM251.1 431.5h1.1v1.1h-1.1zM251.6 474.6h1.1v1.1h-1.1zM251 363h1.1v1.1h-1.1zM251.1 429.7h1.1v1.1h-1.1zM250.9 398h1.1v1.1h-1.1zM220.8 397h1.1v1.1h-1.1zM251.2 397.5h1.1v1.1h-1.1zM251.3 504.6h1.1v1.1h-1.1zM250.9 402.9h1.1v1.1h-1.1zM251.4 420.6h1.1v1.1h-1.1zM220.5 401.4h1.1v1.1h-1.1zM220.8 369.2h1.1v1.1h-1.1zM251.2 365.4h1.1v1.1h-1.1zM220 415.1h1.1v1.1h-1.1zM251.2 483.3h1.1v1.1h-1.1zM251.1 500.4h1.1v1.1h-1.1zM221.2 408.2h1.1v1.1h-1.1zM250.9 447.7h1.1v1.1h-1.1zM251 426.3h1.1v1.1h-1.1zM221.2 404.8h1.1v1.1h-1.1zM251.1 460h1.1v1.1h-1.1zM250.9 480.6h1.1v1.1h-1.1zM220.7 451.3h1.1v1.1h-1.1zM250.9 423.6h1.1v1.1h-1.1zM251 394.2h1.1v1.1h-1.1zM251.2 465.2h1.1v1.1h-1.1zM251.3 486.1h1.1v1.1h-1.1zM251.2 502.9h1.1v1.1h-1.1zM250.8 496.8h1.1v1.1h-1.1zM221.1 393.3h1.1v1.1h-1.1zM251.3 375.7h1.1v1.1h-1.1zM250.8 485.7h1.1v1.1h-1.1zM250.9 373.9h1.1v1.1h-1.1zM221.1 447.2h1.1v1.1h-1.1zM220.7 423.1h1.1v1.1h-1.1zM220.5 374.8h1.1v1.1h-1.1zM220.6 424.9h1.1v1.1h-1.1zM221 453.3h1.1v1.1h-1.1zM221.1 491.4h1.1v1.1h-1.1zM251.2 404h1.1v1.1h-1.1zM251.3 501.1h1.1v1.1h-1.1zM251.1 363.6h1.1v1.1h-1.1zM221.1 404.2h1.1v1.1h-1.1zM251 450.1h1.1v1.1h-1.1zM250.8 409.1h1.1v1.1h-1.1zM221 499.9h1.1v1.1h-1.1zM221 365.6h1.1v1.1h-1.1zM251.6 400h1.1v1.1h-1.1zM251.2 426.6h1.1v1.1h-1.1zM221 500.5h1.1v1.1h-1.1zM250.9 503.7h1.1v1.1h-1.1zM220.8 388.3h1.1v1.1h-1.1zM220.3 424h1.1v1.1h-1.1zM250.8 452.9h1.1v1.1h-1.1zM250.9 370.1h1.1v1.1h-1.1zM250.8 391.9h1.1v1.1h-1.1zM221 390.9h1.1v1.1h-1.1zM250.9 462.6h1.1v1.1h-1.1zM220.8 444h1.1v1.1h-1.1zM221.1 351.1h1.1v1.1h-1.1zM251.2 401.7h1.1v1.1h-1.1zM221 403.9h1.1v1.1h-1.1zM221.1 420.6h1.1v1.1h-1.1zM220.6 489h1.1v1.1h-1.1zM250.9 460.5h1.1v1.1h-1.1zM251.3 484.3h1.1v1.1h-1.1zM250.9 462.3h1.1v1.1h-1.1zM221.1 396.6h1.1v1.1h-1.1zM251.1 393.8h1.1v1.1h-1.1zM220.9 492.6h1.1v1.1h-1.1zM251.2 433.6h1.1v1.1h-1.1zM221 441.2h1.1v1.1h-1.1zM221.1 478.2h1.1v1.1h-1.1zM220.7 462.8h1.1v1.1h-1.1zM221.2 356.3h1.1v1.1h-1.1zM221.2 383.2h1.1v1.1h-1.1zM221 372.2h1.1v1.1h-1.1zM221 414h1.1v1.1h-1.1zM250.9 436.4h1.1v1.1h-1.1zM221.2 438.9h1.1v1.1h-1.1zM251.5 369.8h1.1v1.1h-1.1zM251.6 363h1.1v1.1h-1.1zM221.1 458.8h1.1v1.1h-1.1zM251.2 438.5h1.1v1.1h-1.1zM251 446.7h1.1v1.1h-1.1zM251 480.2h1.1v1.1h-1.1zM250.8 385.6h1.1v1.1h-1.1zM251 420.2h1.1v1.1h-1.1zM220.7 454.2h1.1v1.1h-1.1zM250.8 485.1h1.1v1.1h-1.1zM251.5 424.5h1.1v1.1h-1.1zM251 434.3h1.1v1.1h-1.1zM221.1 499.1h1.1v1.1h-1.1zM220.7 467.1h1.1v1.1h-1.1zM250.9 447.4h1.1v1.1h-1.1zM251 480.7h1.1v1.1h-1.1zM251.2 403.7h1.1v1.1h-1.1zM250.9 405.2h1.1v1.1h-1.1zM220.9 483.2h1.1v1.1h-1.1zM221.2 442.3h1.1v1.1h-1.1zM220.9 380.6h1.1v1.1h-1.1zM251 426h1.1v1.1h-1.1zM251.1 416.1h1.1v1.1h-1.1zM251 416.3h1.1v1.1h-1.1zM221.1 451.9h1.1v1.1h-1.1zM251.1 407.8h1.1v1.1h-1.1zM251.1 478h1.1v1.1h-1.1zM221.1 454.8h1.1v1.1h-1.1zM250.8 494.8h1.1v1.1h-1.1zM251.6 352h1.1v1.1h-1.1zM250.9 367.2h1.1v1.1h-1.1zM221.2 394.6h1.1v1.1h-1.1zM221 385h1.1v1.1h-1.1zM250.9 446.2h1.1v1.1h-1.1zM221 405.7h1.1v1.1h-1.1zM221.1 374.4h1.1v1.1h-1.1zM251 355.5h1.1v1.1h-1.1zM250.9 463.4h1.1v1.1h-1.1zM250.8 355.7h1.1v1.1h-1.1zM221.2 497.1h1.1v1.1h-1.1zM251.4 363.1h1.1v1.1h-1.1zM250.8 356.5h1.1v1.1h-1.1zM250.9 480.3h1.1v1.1h-1.1zM220.6 396.9h1.1v1.1h-1.1zM220.6 449.8h1.1v1.1h-1.1zM220.7 432.6h1.1v1.1h-1.1zM220.9 362.3h1.1v1.1h-1.1zM220.9 382.5h1.1v1.1h-1.1zM250.9 415.5h1.1v1.1h-1.1zM221.1 431.2h1.1v1.1h-1.1zM220.5 479.2h1.1v1.1h-1.1zM221.1 436.2h1.1v1.1h-1.1zM250.9 470.7h1.1v1.1h-1.1zM221 361.5h1.1v1.1h-1.1zM220.6 501.6h1.1v1.1h-1.1zM250.8 392.2h1.1v1.1h-1.1zM221.1 407.7h1.1v1.1h-1.1zM251.2 359.9h1.1v1.1h-1.1zM251.2 348.6h1.1v1.1h-1.1zM232 346.3h1.1v1.1h-1.1zM232.2 509.6h1.1v1.1h-1.1zM226.6 346.8h1.1v1.1h-1.1zM227 507.9h1.1v1.1h-1.1zM250.4 348.1h1.1v1.1h-1.1zM250 507.5h1.1v1.1h-1.1zM246.7 346.8h1.1v1.1h-1.1zM245.6 507.3h1.1v1.1h-1.1zM251.5 348.5h1.1v1.1h-1.1zM252 507.1h1.1v1.1h-1.1zM231.5 346.1h1.1v1.1h-1.1zM231.1 508.3h1.1v1.1h-1.1zM250.3 348.7h1.1v1.1h-1.1zM251.2 505.5h1.1v1.1h-1.1zM235.5 345.8h1.1v1.1h-1.1zM233.8 508.5h1.1v1.1h-1.1zM225.1 347.4h1.1v1.1h-1.1zM225.2 507.2h1.1v1.1h-1.1zM238.6 346.3h1.1v1.1h-1.1zM240.2 508.2h1.1v1.1h-1.1zM221.5 349h1.1v1.1h-1.1zM222 506.1h1.1v1.1h-1.1zM251.3 348.9h1.1v1.1h-1.1zM250.5 505.9h1.1v1.1h-1.1zM222.4 348.1h1.1v1.1h-1.1zM222.6 506.6h1.1v1.1h-1.1zM233 345.9h1.1v1.1h-1.1zM233.6 508.6h1.1v1.1h-1.1zM248.2 347.3h1.1v1.1h-1.1zM247.5 508h1.1v1.1h-1.1zM241.7 345.8h1.1v1.1h-1.1zM240.9 507.7h1.1v1.1h-1.1zM250 347.4h1.1v1.1h-1.1zM249.6 506.8h1.1v1.1h-1.1zM224.2 346.9h1.1v1.1h-1.1zM225.2 507.6h1.1v1.1h-1.1zM224.5 347.7h1.1v1.1h-1.1zM223.7 506.7h1.1v1.1h-1.1zM248.5 347.5h1.1v1.1h-1.1zM249.4 506.7h1.1v1.1h-1.1zM240.9 346.6h1.1v1.1h-1.1zM240.5 509.1h1.1v1.1h-1.1zM224.9 347.4h1.1v1.1h-1.1zM223.8 507.5h1.1v1.1h-1.1zM224 347.1h1.1v1.1h-1.1zM224.2 507.7h1.1v1.1h-1.1zM246 347.1h1.1v1.1h-1.1zM245.3 508.1h1.1v1.1h-1.1zM225.6 347h1.1v1.1h-1.1zM226.2 507.2h1.1v1.1h-1.1zM228.1 346.8h1.1v1.1h-1.1zM226.5 509.2h1.1v1.1h-1.1z" fill="#3a25ac" fill-opacity="0.8"/>
<path d="M94.5 328.5L94.5 485.6" stroke="#7a7a7a" stroke-width="1"/>
<path d="M94.6 485.6L155.7 541.6L379.8 526.4" stroke="#6a6a6a" stroke-width="0.9" fill="none"/>
<path d="M155.7 541.6L159.8 545.3" stroke="#6a6a6a" stroke-width="0.9"/>
<path d="M155.7 541.6L149.2 542" stroke="#6a6a6a" stroke-width="0.9"/>
<path d="M267.8 534L271.8 537.7" stroke="#6a6a6a" stroke-width="0.9"/>
<path d="M125.1 513.6L118.7 514" stroke="#6a6a6a" stroke-width="0.9"/>
<path d="M379.8 526.4L383.9 530.1" stroke="#6a6a6a" stroke-width="0.9"/>
<path d="M94.6 328.5L90 325.7" stroke="#6a6a6a" stroke-width="0.9"/>
<path d="M94.6 407.3L90 404.5" stroke="#6a6a6a" stroke-width="0.9"/>
<path d="M94.6 485.6L90 482.8" stroke="#6a6a6a" stroke-width="0.9"/>
<text class="t" x="39.1" y="332.3" font-size="27.5" textLength="45.2" lengthAdjust="spacingAndGlyphs">500</text>
<text class="t" x="39.1" y="406.4" font-size="27.5" textLength="45.2" lengthAdjust="spacingAndGlyphs">250</text>
<text class="t" x="68.7" y="480.9" font-size="27.5" textLength="15.6" lengthAdjust="spacingAndGlyphs">0</text>
<text class="t" x="56.1" y="501.6" font-size="27.5" textLength="28.2" lengthAdjust="spacingAndGlyphs">10</text>
<text class="t" x="94.2" y="526.1" font-size="27.5" textLength="16.3" lengthAdjust="spacingAndGlyphs">0</text>
<text class="t" x="91.5" y="551.6" font-size="27.5" textLength="51.6" lengthAdjust="spacingAndGlyphs">−10</text>
<text class="t" x="141.1" y="571" font-size="27.5" textLength="52" lengthAdjust="spacingAndGlyphs">−10</text>
<text class="t" x="267.6" y="561.8" font-size="27.5" textLength="16.3" lengthAdjust="spacingAndGlyphs">0</text>
<text class="t" x="376.4" y="553.3" font-size="27.5" textLength="29.2" lengthAdjust="spacingAndGlyphs">10</text>
<text class="i" x="268.3" y="597.5" font-size="33" textLength="22.1" lengthAdjust="spacingAndGlyphs">X</text>
<text class="i" x="57.7" y="541.4" font-size="33" textLength="21.2" lengthAdjust="spacingAndGlyphs">Y</text>
<text class="i" transform="translate(26.4 407) rotate(-90)" font-size="33" textLength="18.5" lengthAdjust="spacingAndGlyphs">S</text>
<text class="t" x="107.8" y="356.5" font-size="28.5" textLength="39.4" lengthAdjust="spacingAndGlyphs">(e)</text>
<path d="M510.9 481.4L735 467.5L735 312L510.9 324.7" stroke="#e5e5e5" stroke-width="1" fill="none"/>
<path d="M623 474.4L623 318.4" stroke="#e5e5e5" stroke-width="1"/>
<path d="M735 467.5L795.4 522.2L795.4 366.7L735 312" stroke="#e5e5e5" stroke-width="1" fill="none"/>
<path d="M765.2 494.9L765.2 339.4" stroke="#e5e5e5" stroke-width="1"/>
<path d="M683.5 529.8L623 474.4" stroke="#e5e5e5" stroke-width="1"/>
<path d="M541.3 509.4L765.2 494.9" stroke="#e5e5e5" stroke-width="1"/>
<path d="M510.9 403.5L735 390.2L795.4 444.9" stroke="#e5e5e5" stroke-width="1" fill="none"/>
<linearGradient id="g3" x1="0" x2="1" y1="0" y2="0"><stop offset="0" stop-color="#4a36bc"/><stop offset=".16" stop-color="#3a30d0"/><stop offset=".5" stop-color="#3838d8"/><stop offset=".84" stop-color="#3a30d0"/><stop offset="1" stop-color="#4a36bc"/></linearGradient>
<path d="M648 337L648 490.8A20.8 4 0 0 0 689.6 490.8L689.6 337A20.8 4 0 0 0 648 337Z" fill="url(#g3)"/>
<clipPath id="c4"><path d="M648 337L648 490.8A20.8 4 0 0 0 689.6 490.8L689.6 337A20.8 4 0 0 0 648 337Z"/></clipPath>
<path d="M650.2 333V494.8M653.6 333V494.8M657 333V494.8M660.4 333V494.8M663.8 333V494.8M667.2 333V494.8M670.6 333V494.8M674 333V494.8M677.4 333V494.8M680.8 333V494.8M684.2 333V494.8M687.6 333V494.8" stroke="#3c66ee" stroke-width="1.2" stroke-opacity=".5" clip-path="url(#c4)"/>
<radialGradient id="r5"><stop offset="0" stop-color="#58d070"/><stop offset=".3" stop-color="#22b8e0"/><stop offset=".62" stop-color="#3a60f0" stop-opacity=".9"/><stop offset="1" stop-color="#3a30d0" stop-opacity="0"/></radialGradient>
<ellipse cx="668.8" cy="335.3" rx="18.7" ry="4.5" fill="url(#r5)"/>
<path d="M648.5 351.5h1v1h-1zM648.5 356h1v1h-1zM647.6 384.4h1v1h-1zM648.2 413.3h1v1h-1zM648.1 389.8h1v1h-1zM689.1 439.8h1v1h-1zM648.3 346.3h1v1h-1zM688.9 355h1v1h-1zM688.9 403.2h1v1h-1zM648.3 338.9h1v1h-1zM688.5 432h1v1h-1zM689 347.4h1v1h-1zM688.9 394.9h1v1h-1zM688.5 385h1v1h-1zM689.1 418.2h1v1h-1zM648.1 456.8h1v1h-1zM688.5 391.7h1v1h-1zM688.1 448.2h1v1h-1zM648.5 350h1v1h-1zM689 482.5h1v1h-1zM648.5 359.5h1v1h-1zM648.1 480.6h1v1h-1zM688.9 477h1v1h-1zM648.1 339.9h1v1h-1zM648.1 422.4h1v1h-1zM688.4 453.9h1v1h-1zM688.5 375.1h1v1h-1zM688.7 440.2h1v1h-1zM687.9 370.8h1v1h-1zM687.9 399.1h1v1h-1zM647.9 484.8h1v1h-1zM647.8 356.9h1v1h-1zM647.7 474.7h1v1h-1zM648 389.2h1v1h-1zM688.7 383.9h1v1h-1zM647.5 449.7h1v1h-1zM688.8 372.3h1v1h-1zM688.6 345.5h1v1h-1zM648 377.5h1v1h-1zM648.1 414.3h1v1h-1zM688.4 418.4h1v1h-1zM648.5 447h1v1h-1zM648.3 484.6h1v1h-1zM648 347.8h1v1h-1zM688.8 437h1v1h-1zM648.2 388h1v1h-1zM647.8 416.4h1v1h-1zM688.5 463.1h1v1h-1zM648.6 357.4h1v1h-1zM647.7 483.1h1v1h-1zM688.1 355.5h1v1h-1zM647.9 402.8h1v1h-1zM688.2 457.8h1v1h-1zM647.6 449.6h1v1h-1zM688.2 487.2h1v1h-1zM688.4 406.7h1v1h-1zM648.5 368.1h1v1h-1zM688.4 392.4h1v1h-1zM689.1 342h1v1h-1zM687.9 375.2h1v1h-1zM648.2 342.8h1v1h-1zM648 371.4h1v1h-1zM647.8 484.7h1v1h-1zM688.8 402.3h1v1h-1zM688.9 486.2h1v1h-1zM688.4 474.9h1v1h-1zM647.7 406.2h1v1h-1zM689.1 439.2h1v1h-1zM688.4 453.7h1v1h-1zM688.9 393h1v1h-1zM647.6 367h1v1h-1zM688 382.7h1v1h-1zM688.1 357.4h1v1h-1zM688.1 407.9h1v1h-1zM647.7 402.6h1v1h-1zM688.9 357.4h1v1h-1zM688.7 450.5h1v1h-1zM689 375.7h1v1h-1zM688.6 394.5h1v1h-1zM647.9 470.2h1v1h-1zM687.9 342.9h1v1h-1zM647.7 459.3h1v1h-1zM647.8 489h1v1h-1zM648.5 490.3h1v1h-1zM688.4 393.1h1v1h-1zM688.2 363.4h1v1h-1zM647.6 477.4h1v1h-1zM648.5 365.1h1v1h-1zM648.4 342.9h1v1h-1zM688.7 375.3h1v1h-1zM688.6 364.6h1v1h-1zM647.5 357h1v1h-1zM648.2 443.5h1v1h-1zM647.6 391h1v1h-1zM688.5 386.1h1v1h-1zM689 418.6h1v1h-1zM688.6 393.7h1v1h-1zM688.1 376h1v1h-1zM689 412.1h1v1h-1zM648 383.3h1v1h-1zM688.1 457.3h1v1h-1zM688.4 416.6h1v1h-1zM647.5 421.7h1v1h-1zM688.3 489.9h1v1h-1zM688.8 436.1h1v1h-1zM688.7 479.8h1v1h-1zM647.9 472.4h1v1h-1zM648 448.4h1v1h-1zM647.7 487.3h1v1h-1zM688.9 483.8h1v1h-1zM648.6 477.1h1v1h-1zM647.9 388.8h1v1h-1zM689.1 400.5h1v1h-1zM648.2 381.2h1v1h-1zM687.9 428.1h1v1h-1zM688.9 481.4h1v1h-1zM688.2 401.9h1v1h-1zM648.6 356.5h1v1h-1zM688.2 426.1h1v1h-1zM648.4 486.9h1v1h-1zM647.7 383.5h1v1h-1zM648 458.7h1v1h-1zM648.2 452.2h1v1h-1zM688.8 444.8h1v1h-1zM688.6 440.9h1v1h-1zM647.5 420.6h1v1h-1zM648.1 400.1h1v1h-1zM688.3 375.8h1v1h-1zM648.6 418.1h1v1h-1zM648.1 423.4h1v1h-1zM688.2 409.2h1v1h-1zM689.1 448h1v1h-1zM688.6 350.1h1v1h-1zM647.8 348.1h1v1h-1zM648.1 430.7h1v1h-1zM688.3 355h1v1h-1zM647.7 429.2h1v1h-1zM688.7 401.4h1v1h-1zM688.5 453.5h1v1h-1zM688.2 422.2h1v1h-1zM688.8 414.9h1v1h-1zM648.4 343.2h1v1h-1zM688.2 476.9h1v1h-1zM647.6 364.9h1v1h-1zM689.1 340.1h1v1h-1zM688.6 339.2h1v1h-1zM647.5 439.9h1v1h-1zM648 451.5h1v1h-1zM688.8 485.3h1v1h-1zM688.4 385.6h1v1h-1zM648 457.9h1v1h-1zM688.1 448.6h1v1h-1zM688.1 380.6h1v1h-1zM647.8 358.6h1v1h-1zM648 458.1h1v1h-1zM688.4 338.4h1v1h-1zM688.5 427.6h1v1h-1zM647.8 478.9h1v1h-1zM689 368.5h1v1h-1zM688.2 462.9h1v1h-1zM648.3 411.9h1v1h-1zM688.4 435.5h1v1h-1zM648.6 346.1h1v1h-1zM689 359.3h1v1h-1zM688.5 362.9h1v1h-1zM648.6 370.9h1v1h-1zM688.6 389.3h1v1h-1zM688.4 359.3h1v1h-1zM648 411.2h1v1h-1zM648.7 403.5h1v1h-1zM688.6 415.1h1v1h-1zM647.8 364.8h1v1h-1zM688.9 440h1v1h-1zM648.1 390.5h1v1h-1zM687.9 342.6h1v1h-1zM648.5 470.1h1v1h-1zM688.1 357.7h1v1h-1zM647.5 479.5h1v1h-1zM647.7 379h1v1h-1zM647.7 425.1h1v1h-1zM648.4 389.1h1v1h-1zM648.6 480.7h1v1h-1zM688.8 401.7h1v1h-1zM688.3 461h1v1h-1zM689 484.5h1v1h-1zM688.4 379.2h1v1h-1zM688.4 409.1h1v1h-1zM648.6 362h1v1h-1zM648.5 404.7h1v1h-1zM648 439.8h1v1h-1zM688.3 445.2h1v1h-1zM688.1 380h1v1h-1zM688.3 338h1v1h-1zM688.4 350.5h1v1h-1zM689.1 376.5h1v1h-1zM688.6 392h1v1h-1zM688 360.7h1v1h-1zM647.7 385.9h1v1h-1zM688.1 369h1v1h-1zM648.3 338.7h1v1h-1zM648.2 471h1v1h-1zM647.5 348.7h1v1h-1zM688.8 342.1h1v1h-1zM688.4 484.6h1v1h-1zM687.9 413.2h1v1h-1zM648.5 374.4h1v1h-1zM647.9 437.2h1v1h-1zM688.8 342.4h1v1h-1zM648.5 373.9h1v1h-1zM688.5 372h1v1h-1zM688.5 356.3h1v1h-1zM647.9 397h1v1h-1zM688.9 447.5h1v1h-1zM648.6 364.1h1v1h-1zM688.9 354.7h1v1h-1zM688.9 450.6h1v1h-1zM688.2 437.8h1v1h-1z" fill="#fff" fill-opacity="0.55"/>
<path d="M647.2 386.8h1.1v1.1h-1.1zM647.3 427.5h1.1v1.1h-1.1zM689.8 341.7h1.1v1.1h-1.1zM647.1 422.5h1.1v1.1h-1.1zM646.6 370.9h1.1v1.1h-1.1zM647 489.4h1.1v1.1h-1.1zM647.4 423.4h1.1v1.1h-1.1zM646.9 464.2h1.1v1.1h-1.1zM646.6 352h1.1v1.1h-1.1zM646.6 345.7h1.1v1.1h-1.1zM691.4 419.5h1.1v1.1h-1.1zM647 392.7h1.1v1.1h-1.1zM646.7 460.8h1.1v1.1h-1.1zM647.1 406.4h1.1v1.1h-1.1zM689.6 354.4h1.1v1.1h-1.1zM689.9 482.7h1.1v1.1h-1.1zM689.6 456.1h1.1v1.1h-1.1zM689.9 414h1.1v1.1h-1.1zM646.4 346.6h1.1v1.1h-1.1zM689.5 446.2h1.1v1.1h-1.1zM689.8 380.6h1.1v1.1h-1.1zM689.7 483.8h1.1v1.1h-1.1zM689.6 345.1h1.1v1.1h-1.1zM689.7 397.3h1.1v1.1h-1.1zM689.8 348.5h1.1v1.1h-1.1zM689.6 422.4h1.1v1.1h-1.1zM689.7 491h1.1v1.1h-1.1zM647.3 363.5h1.1v1.1h-1.1zM647.5 466.6h1.1v1.1h-1.1zM689.2 401.7h1.1v1.1h-1.1zM690.6 431.8h1.1v1.1h-1.1zM647 442.2h1.1v1.1h-1.1zM689.9 407.7h1.1v1.1h-1.1zM689.7 411.6h1.1v1.1h-1.1zM646.4 368.7h1.1v1.1h-1.1zM646.6 351.9h1.1v1.1h-1.1zM689.4 420.3h1.1v1.1h-1.1zM689.4 435.6h1.1v1.1h-1.1zM690.6 430.6h1.1v1.1h-1.1zM690.5 492.1h1.1v1.1h-1.1zM689.2 358.5h1.1v1.1h-1.1zM646.3 444.7h1.1v1.1h-1.1zM689.9 368.1h1.1v1.1h-1.1zM646.5 489.8h1.1v1.1h-1.1zM691.4 445.4h1.1v1.1h-1.1zM647.2 391.8h1.1v1.1h-1.1zM646.1 387.7h1.1v1.1h-1.1zM646.3 455.1h1.1v1.1h-1.1zM689.1 462.7h1.1v1.1h-1.1zM646.8 340.4h1.1v1.1h-1.1zM689.2 460.1h1.1v1.1h-1.1zM690.7 486.3h1.1v1.1h-1.1zM689.5 390.8h1.1v1.1h-1.1zM689.3 409.8h1.1v1.1h-1.1zM646 368h1.1v1.1h-1.1zM689.3 439.8h1.1v1.1h-1.1zM646.9 458.9h1.1v1.1h-1.1zM689.2 460h1.1v1.1h-1.1zM691.2 449.4h1.1v1.1h-1.1zM646 449.9h1.1v1.1h-1.1zM646.2 492.1h1.1v1.1h-1.1zM690.9 465.9h1.1v1.1h-1.1zM689.8 439.2h1.1v1.1h-1.1zM646.4 339.2h1.1v1.1h-1.1zM647.2 404.1h1.1v1.1h-1.1zM689.7 375.4h1.1v1.1h-1.1zM689.2 414.7h1.1v1.1h-1.1zM690.2 391.5h1.1v1.1h-1.1zM690.1 440.1h1.1v1.1h-1.1zM645.6 356.4h1.1v1.1h-1.1zM646.1 405.1h1.1v1.1h-1.1zM646.4 359.4h1.1v1.1h-1.1zM646.6 410.3h1.1v1.1h-1.1zM647.2 459.2h1.1v1.1h-1.1zM647.5 474.8h1.1v1.1h-1.1zM689.9 457.3h1.1v1.1h-1.1zM690.4 479.4h1.1v1.1h-1.1zM645 431.2h1.1v1.1h-1.1zM691 444.8h1.1v1.1h-1.1zM689.2 418.1h1.1v1.1h-1.1zM647.2 481h1.1v1.1h-1.1zM689.6 355h1.1v1.1h-1.1zM646.6 403.2h1.1v1.1h-1.1zM645.9 477h1.1v1.1h-1.1zM690.4 483.7h1.1v1.1h-1.1zM690.8 485.7h1.1v1.1h-1.1zM645.5 475.1h1.1v1.1h-1.1zM689.2 361.2h1.1v1.1h-1.1zM689.8 402.1h1.1v1.1h-1.1zM690.6 338.9h1.1v1.1h-1.1zM646.6 405.1h1.1v1.1h-1.1zM646.7 353.6h1.1v1.1h-1.1zM646.8 488.7h1.1v1.1h-1.1zM647.1 478.4h1.1v1.1h-1.1zM690.2 402.3h1.1v1.1h-1.1zM689.8 416.8h1.1v1.1h-1.1zM647.2 446h1.1v1.1h-1.1zM645.7 378.1h1.1v1.1h-1.1zM690.9 435.6h1.1v1.1h-1.1zM646.5 346.3h1.1v1.1h-1.1zM689.3 422.8h1.1v1.1h-1.1zM647.3 447.5h1.1v1.1h-1.1zM689.8 488.3h1.1v1.1h-1.1zM689.3 455.3h1.1v1.1h-1.1zM647.3 405.9h1.1v1.1h-1.1zM645.6 492.3h1.1v1.1h-1.1zM646.7 422.5h1.1v1.1h-1.1zM689.2 406.2h1.1v1.1h-1.1zM690 439.1h1.1v1.1h-1.1zM647.3 367.1h1.1v1.1h-1.1zM691.1 399.5h1.1v1.1h-1.1zM689.3 338.1h1.1v1.1h-1.1zM690.2 440.5h1.1v1.1h-1.1zM646.4 380.2h1.1v1.1h-1.1zM646.9 444.8h1.1v1.1h-1.1zM689.3 487.2h1.1v1.1h-1.1zM689.2 374.3h1.1v1.1h-1.1zM646.8 388.6h1.1v1.1h-1.1zM645.9 367.4h1.1v1.1h-1.1zM646.5 358.5h1.1v1.1h-1.1zM689.4 397.8h1.1v1.1h-1.1zM689.8 453.9h1.1v1.1h-1.1zM690.1 456.1h1.1v1.1h-1.1zM646.1 437h1.1v1.1h-1.1zM689.3 416.5h1.1v1.1h-1.1zM645.6 357.7h1.1v1.1h-1.1zM647.2 465.9h1.1v1.1h-1.1zM689.3 395.1h1.1v1.1h-1.1zM646.4 423.7h1.1v1.1h-1.1zM646.4 412.8h1.1v1.1h-1.1zM647.3 482.6h1.1v1.1h-1.1zM689.4 451.8h1.1v1.1h-1.1zM689.3 463.2h1.1v1.1h-1.1zM690.8 408.3h1.1v1.1h-1.1zM689.3 347.9h1.1v1.1h-1.1zM646.1 437h1.1v1.1h-1.1zM689.5 438.3h1.1v1.1h-1.1zM689.5 411.7h1.1v1.1h-1.1zM646.9 378.1h1.1v1.1h-1.1zM690.6 408.9h1.1v1.1h-1.1zM647.3 456.5h1.1v1.1h-1.1zM689.5 410.2h1.1v1.1h-1.1zM690.1 488.2h1.1v1.1h-1.1zM647.5 480h1.1v1.1h-1.1zM646.7 347.6h1.1v1.1h-1.1zM690.1 464.9h1.1v1.1h-1.1zM689.4 475.4h1.1v1.1h-1.1zM645.3 412.3h1.1v1.1h-1.1zM689.3 443.1h1.1v1.1h-1.1zM689.6 389.9h1.1v1.1h-1.1zM690.8 354.8h1.1v1.1h-1.1zM647.5 481.6h1.1v1.1h-1.1zM689.1 477.7h1.1v1.1h-1.1zM647.1 397.2h1.1v1.1h-1.1zM647.4 379.1h1.1v1.1h-1.1zM647.2 440h1.1v1.1h-1.1zM689.9 375h1.1v1.1h-1.1zM647.1 403.1h1.1v1.1h-1.1zM691.2 463.6h1.1v1.1h-1.1zM646.2 422.2h1.1v1.1h-1.1zM647 406.8h1.1v1.1h-1.1zM646.8 343.5h1.1v1.1h-1.1zM689.6 362.7h1.1v1.1h-1.1zM646.8 376.8h1.1v1.1h-1.1zM690.2 383.2h1.1v1.1h-1.1zM690.1 347.6h1.1v1.1h-1.1zM690.3 388.2h1.1v1.1h-1.1zM646.9 374.2h1.1v1.1h-1.1zM647.1 389.6h1.1v1.1h-1.1zM690 339h1.1v1.1h-1.1zM646.8 396.1h1.1v1.1h-1.1zM689.8 345.6h1.1v1.1h-1.1zM645.6 443.9h1.1v1.1h-1.1zM690.3 396.3h1.1v1.1h-1.1zM690.3 403.8h1.1v1.1h-1.1zM690.8 447.5h1.1v1.1h-1.1zM690.1 488.2h1.1v1.1h-1.1zM689.1 481.7h1.1v1.1h-1.1zM645.9 353h1.1v1.1h-1.1zM691.4 352.9h1.1v1.1h-1.1zM647 349.2h1.1v1.1h-1.1zM647.5 448.3h1.1v1.1h-1.1zM689.3 434.4h1.1v1.1h-1.1zM647 346.9h1.1v1.1h-1.1zM644.1 430.4h1.1v1.1h-1.1zM689.9 379.7h1.1v1.1h-1.1zM646.7 437.2h1.1v1.1h-1.1zM689.2 446.7h1.1v1.1h-1.1zM645.9 344.5h1.1v1.1h-1.1zM689.1 401.9h1.1v1.1h-1.1zM690 394.1h1.1v1.1h-1.1zM689.3 402h1.1v1.1h-1.1zM689.2 367h1.1v1.1h-1.1zM646.3 384.9h1.1v1.1h-1.1zM647.3 372.1h1.1v1.1h-1.1zM691.3 353h1.1v1.1h-1.1zM646.9 412.1h1.1v1.1h-1.1zM647.3 397.7h1.1v1.1h-1.1zM646.1 339.5h1.1v1.1h-1.1zM689.9 447.9h1.1v1.1h-1.1zM646.7 451.1h1.1v1.1h-1.1zM689.5 365h1.1v1.1h-1.1zM690.2 395.4h1.1v1.1h-1.1zM647.4 353h1.1v1.1h-1.1zM691 379.8h1.1v1.1h-1.1zM690.1 395.6h1.1v1.1h-1.1zM690.5 465.2h1.1v1.1h-1.1zM690 366.6h1.1v1.1h-1.1zM647 477h1.1v1.1h-1.1zM689.7 434.2h1.1v1.1h-1.1zM645.7 342.2h1.1v1.1h-1.1zM689.5 345.7h1.1v1.1h-1.1zM690.5 392.9h1.1v1.1h-1.1zM689.5 377.1h1.1v1.1h-1.1zM646.7 449.4h1.1v1.1h-1.1zM689.2 410.6h1.1v1.1h-1.1zM689.7 485.9h1.1v1.1h-1.1zM645.3 413.9h1.1v1.1h-1.1zM689.9 462.1h1.1v1.1h-1.1zM690.7 431.4h1.1v1.1h-1.1zM646.5 459.2h1.1v1.1h-1.1zM689.2 361h1.1v1.1h-1.1zM646.2 346h1.1v1.1h-1.1zM647.3 352.4h1.1v1.1h-1.1zM647.2 377.5h1.1v1.1h-1.1zM690.2 491.4h1.1v1.1h-1.1zM647.5 408.3h1.1v1.1h-1.1zM645.5 440.4h1.1v1.1h-1.1zM689.5 458.5h1.1v1.1h-1.1zM646.2 367.2h1.1v1.1h-1.1zM646.3 365h1.1v1.1h-1.1zM690.9 426.8h1.1v1.1h-1.1zM647.2 374.5h1.1v1.1h-1.1zM647.1 408.8h1.1v1.1h-1.1zM689.7 351.9h1.1v1.1h-1.1zM647 473.8h1.1v1.1h-1.1zM645.9 354.6h1.1v1.1h-1.1zM646.3 366.4h1.1v1.1h-1.1zM689.3 406.5h1.1v1.1h-1.1zM690.6 336.8h1.1v1.1h-1.1zM689.3 370.1h1.1v1.1h-1.1zM647.2 451h1.1v1.1h-1.1zM689.9 464h1.1v1.1h-1.1zM647 433.5h1.1v1.1h-1.1zM645.9 422.1h1.1v1.1h-1.1zM646.5 440.3h1.1v1.1h-1.1zM646.9 436.4h1.1v1.1h-1.1zM690 440.9h1.1v1.1h-1.1zM689.2 485.8h1.1v1.1h-1.1zM645.3 401h1.1v1.1h-1.1zM646.7 393.1h1.1v1.1h-1.1zM689.8 484h1.1v1.1h-1.1zM689.4 477.7h1.1v1.1h-1.1zM647.2 457.5h1.1v1.1h-1.1zM646 338.1h1.1v1.1h-1.1zM690.9 349.8h1.1v1.1h-1.1zM645.1 390.6h1.1v1.1h-1.1zM689.4 352.9h1.1v1.1h-1.1zM646.9 454.4h1.1v1.1h-1.1zM691 385.3h1.1v1.1h-1.1zM646.2 349.4h1.1v1.1h-1.1zM645.9 433.5h1.1v1.1h-1.1zM689.7 370.1h1.1v1.1h-1.1zM647.3 392.3h1.1v1.1h-1.1zM646.2 374.7h1.1v1.1h-1.1zM647.2 467.7h1.1v1.1h-1.1zM690.5 397.2h1.1v1.1h-1.1zM689.6 384h1.1v1.1h-1.1zM690.2 397.1h1.1v1.1h-1.1zM689.5 339.5h1.1v1.1h-1.1zM689.3 409h1.1v1.1h-1.1zM645.7 410.3h1.1v1.1h-1.1zM689.5 346.4h1.1v1.1h-1.1zM647.3 405.4h1.1v1.1h-1.1zM689.3 480.9h1.1v1.1h-1.1zM690.3 344.4h1.1v1.1h-1.1zM647.1 438.5h1.1v1.1h-1.1zM647.4 353.1h1.1v1.1h-1.1zM689.5 490.3h1.1v1.1h-1.1zM645.6 460.9h1.1v1.1h-1.1zM646.9 454.8h1.1v1.1h-1.1zM690.4 478.2h1.1v1.1h-1.1zM689.3 358.4h1.1v1.1h-1.1zM646.7 341.6h1.1v1.1h-1.1zM690 399.3h1.1v1.1h-1.1zM691.1 362.4h1.1v1.1h-1.1zM690.2 435.9h1.1v1.1h-1.1zM647.3 417.9h1.1v1.1h-1.1zM689.2 375.5h1.1v1.1h-1.1zM690.1 358.8h1.1v1.1h-1.1zM689.3 456.1h1.1v1.1h-1.1zM690.5 486.6h1.1v1.1h-1.1zM689.3 436.4h1.1v1.1h-1.1zM690.8 370.7h1.1v1.1h-1.1zM690 432.8h1.1v1.1h-1.1zM647 432.2h1.1v1.1h-1.1zM646.7 339.3h1.1v1.1h-1.1zM647.1 418.1h1.1v1.1h-1.1zM689.9 356.9h1.1v1.1h-1.1zM646.7 357h1.1v1.1h-1.1zM690.3 447.1h1.1v1.1h-1.1zM689.9 399.1h1.1v1.1h-1.1zM646.7 488h1.1v1.1h-1.1zM690.2 390.9h1.1v1.1h-1.1zM647.2 413.4h1.1v1.1h-1.1zM689.3 419.5h1.1v1.1h-1.1zM645.8 365h1.1v1.1h-1.1zM646.8 483.9h1.1v1.1h-1.1zM689.4 400.8h1.1v1.1h-1.1zM689.7 384.5h1.1v1.1h-1.1zM689.1 449.8h1.1v1.1h-1.1zM689.2 468.7h1.1v1.1h-1.1zM690.7 348.5h1.1v1.1h-1.1zM692.2 355.2h1.1v1.1h-1.1zM690.1 447.8h1.1v1.1h-1.1zM690.3 443.7h1.1v1.1h-1.1zM647.4 476.5h1.1v1.1h-1.1zM647.4 376.8h1.1v1.1h-1.1zM645.9 468.3h1.1v1.1h-1.1zM646.9 387.5h1.1v1.1h-1.1zM690.4 395.5h1.1v1.1h-1.1zM647.3 336.8h1.1v1.1h-1.1zM689.4 425.6h1.1v1.1h-1.1zM646.5 427.9h1.1v1.1h-1.1zM646.4 358.6h1.1v1.1h-1.1zM646.6 446.1h1.1v1.1h-1.1zM646.9 342.4h1.1v1.1h-1.1zM690.7 346.2h1.1v1.1h-1.1zM646.2 419.8h1.1v1.1h-1.1zM690.3 447.7h1.1v1.1h-1.1zM647.4 352.7h1.1v1.1h-1.1zM647.2 454.4h1.1v1.1h-1.1zM689.7 465.6h1.1v1.1h-1.1zM647.4 460.4h1.1v1.1h-1.1zM689.1 376.9h1.1v1.1h-1.1zM690 448.4h1.1v1.1h-1.1zM690 479.1h1.1v1.1h-1.1zM646.3 404.5h1.1v1.1h-1.1zM646.8 390.4h1.1v1.1h-1.1zM647.3 471.5h1.1v1.1h-1.1zM647.1 404.4h1.1v1.1h-1.1zM690.8 344.3h1.1v1.1h-1.1zM689.8 413h1.1v1.1h-1.1zM690.9 486.4h1.1v1.1h-1.1zM647.3 426.8h1.1v1.1h-1.1zM689.8 445.9h1.1v1.1h-1.1zM689.5 456.5h1.1v1.1h-1.1zM690.7 459.6h1.1v1.1h-1.1zM691.1 391.8h1.1v1.1h-1.1zM690.1 437.4h1.1v1.1h-1.1zM690.3 368.2h1.1v1.1h-1.1zM646.9 362.7h1.1v1.1h-1.1zM647 429.3h1.1v1.1h-1.1zM689.9 360.3h1.1v1.1h-1.1zM689.6 440h1.1v1.1h-1.1zM690.1 355.7h1.1v1.1h-1.1zM646.7 436.9h1.1v1.1h-1.1zM647.5 454.6h1.1v1.1h-1.1zM689.6 449.6h1.1v1.1h-1.1zM646.7 365.6h1.1v1.1h-1.1zM647.3 361.7h1.1v1.1h-1.1zM689.7 382.6h1.1v1.1h-1.1zM647.1 366.7h1.1v1.1h-1.1zM645.4 408.8h1.1v1.1h-1.1zM689.7 444.9h1.1v1.1h-1.1zM689.2 430.8h1.1v1.1h-1.1zM646.6 336.7h1.1v1.1h-1.1zM646.9 402.1h1.1v1.1h-1.1zM646.9 440.9h1.1v1.1h-1.1zM690.5 407.2h1.1v1.1h-1.1zM647.2 476.6h1.1v1.1h-1.1zM690.7 434.9h1.1v1.1h-1.1zM690.5 469.5h1.1v1.1h-1.1zM647.1 482.2h1.1v1.1h-1.1zM689.3 476.6h1.1v1.1h-1.1zM646.5 412.9h1.1v1.1h-1.1zM647 361.1h1.1v1.1h-1.1zM647.4 426.2h1.1v1.1h-1.1zM646.2 448.7h1.1v1.1h-1.1zM646 485h1.1v1.1h-1.1zM646.1 491.6h1.1v1.1h-1.1zM690.2 355.1h1.1v1.1h-1.1zM646.4 395.9h1.1v1.1h-1.1zM689.2 402h1.1v1.1h-1.1zM647.2 427.1h1.1v1.1h-1.1zM690.8 370.3h1.1v1.1h-1.1zM646.3 408.5h1.1v1.1h-1.1zM646.2 463.2h1.1v1.1h-1.1zM646.6 371.4h1.1v1.1h-1.1zM690.3 464.6h1.1v1.1h-1.1zM689.2 409.5h1.1v1.1h-1.1zM646 459.1h1.1v1.1h-1.1zM690.2 377.9h1.1v1.1h-1.1zM691.9 442.6h1.1v1.1h-1.1zM647 380.1h1.1v1.1h-1.1zM646.7 412.1h1.1v1.1h-1.1zM689.6 439.6h1.1v1.1h-1.1zM689.8 424.7h1.1v1.1h-1.1zM646.6 459.2h1.1v1.1h-1.1zM647.3 427.5h1.1v1.1h-1.1zM645.7 381.9h1.1v1.1h-1.1zM690.1 365h1.1v1.1h-1.1zM647.2 390.3h1.1v1.1h-1.1zM646.5 444.1h1.1v1.1h-1.1zM689.6 441h1.1v1.1h-1.1zM690.6 419.3h1.1v1.1h-1.1zM689.2 354.4h1.1v1.1h-1.1zM646.9 413.4h1.1v1.1h-1.1zM647.3 412h1.1v1.1h-1.1zM646.8 451.4h1.1v1.1h-1.1zM689.5 468.1h1.1v1.1h-1.1zM690.3 382.5h1.1v1.1h-1.1zM647.1 487h1.1v1.1h-1.1zM646.6 437.5h1.1v1.1h-1.1zM689.3 431.8h1.1v1.1h-1.1zM647.1 358.6h1.1v1.1h-1.1zM646.4 448.8h1.1v1.1h-1.1zM690.9 393.4h1.1v1.1h-1.1zM690.1 479.4h1.1v1.1h-1.1zM689.5 423h1.1v1.1h-1.1zM690.1 381.9h1.1v1.1h-1.1zM689.8 489.2h1.1v1.1h-1.1zM689.7 460.4h1.1v1.1h-1.1zM646 355.9h1.1v1.1h-1.1zM689.4 449.5h1.1v1.1h-1.1zM647.4 383.1h1.1v1.1h-1.1zM690.3 343.1h1.1v1.1h-1.1zM646.5 432.1h1.1v1.1h-1.1zM647.1 434.4h1.1v1.1h-1.1zM646 407.9h1.1v1.1h-1.1zM646.2 341.6h1.1v1.1h-1.1zM646.7 393.9h1.1v1.1h-1.1zM689.5 459.6h1.1v1.1h-1.1zM647 424.9h1.1v1.1h-1.1zM646.7 414.1h1.1v1.1h-1.1zM690.7 402.1h1.1v1.1h-1.1zM646.4 396.7h1.1v1.1h-1.1zM689.3 351.9h1.1v1.1h-1.1zM646.7 369.2h1.1v1.1h-1.1zM646.7 491.1h1.1v1.1h-1.1zM647.4 370.2h1.1v1.1h-1.1zM647.4 449h1.1v1.1h-1.1zM689.3 481h1.1v1.1h-1.1zM645.9 470.4h1.1v1.1h-1.1zM691.5 381.9h1.1v1.1h-1.1zM646.9 448.7h1.1v1.1h-1.1zM646.8 345.3h1.1v1.1h-1.1zM689.7 430.2h1.1v1.1h-1.1zM689.7 485.1h1.1v1.1h-1.1zM647.4 487.9h1.1v1.1h-1.1zM646.8 393h1.1v1.1h-1.1zM689.9 484.5h1.1v1.1h-1.1zM646.4 381.8h1.1v1.1h-1.1zM690.2 462h1.1v1.1h-1.1zM646.8 338.3h1.1v1.1h-1.1zM647 403.3h1.1v1.1h-1.1zM690.9 395.1h1.1v1.1h-1.1zM690.4 336.1h1.1v1.1h-1.1zM645.9 378h1.1v1.1h-1.1zM646.5 475.5h1.1v1.1h-1.1zM647.2 476h1.1v1.1h-1.1zM691.1 462.8h1.1v1.1h-1.1zM646.3 390.4h1.1v1.1h-1.1zM647.2 449.5h1.1v1.1h-1.1zM647 384.5h1.1v1.1h-1.1zM690.2 368.3h1.1v1.1h-1.1zM646.5 396.4h1.1v1.1h-1.1zM689.3 345.7h1.1v1.1h-1.1zM690.1 427h1.1v1.1h-1.1zM646.7 365.6h1.1v1.1h-1.1zM690 350.3h1.1v1.1h-1.1zM646.5 399.1h1.1v1.1h-1.1zM646.7 413.4h1.1v1.1h-1.1zM689.9 348.7h1.1v1.1h-1.1zM689.4 429.8h1.1v1.1h-1.1zM690.5 472.8h1.1v1.1h-1.1zM647.4 428.1h1.1v1.1h-1.1zM690.9 402.8h1.1v1.1h-1.1zM689.6 487.4h1.1v1.1h-1.1zM689.9 492.3h1.1v1.1h-1.1zM646.5 349h1.1v1.1h-1.1zM647.3 468.9h1.1v1.1h-1.1zM690.5 471.6h1.1v1.1h-1.1zM689.9 350h1.1v1.1h-1.1zM689.9 486.3h1.1v1.1h-1.1zM645.6 394.2h1.1v1.1h-1.1zM646.3 491.9h1.1v1.1h-1.1zM645.3 422.8h1.1v1.1h-1.1zM647.4 467.6h1.1v1.1h-1.1zM690.4 452.2h1.1v1.1h-1.1zM647.1 454.6h1.1v1.1h-1.1zM646.7 428.9h1.1v1.1h-1.1zM689.1 409.9h1.1v1.1h-1.1zM647 373.3h1.1v1.1h-1.1zM645.2 479.7h1.1v1.1h-1.1zM647 461.5h1.1v1.1h-1.1zM689.5 482.8h1.1v1.1h-1.1zM647.1 406.2h1.1v1.1h-1.1zM689.9 481.5h1.1v1.1h-1.1zM690.3 465.3h1.1v1.1h-1.1zM689.6 354h1.1v1.1h-1.1zM689.7 344.7h1.1v1.1h-1.1zM689.8 472.8h1.1v1.1h-1.1zM689.5 339.8h1.1v1.1h-1.1zM647.5 388.5h1.1v1.1h-1.1zM647 359.9h1.1v1.1h-1.1zM645.7 435.1h1.1v1.1h-1.1zM646.8 354.6h1.1v1.1h-1.1zM647.1 377h1.1v1.1h-1.1zM647.3 381.4h1.1v1.1h-1.1zM690 344.9h1.1v1.1h-1.1zM690.3 416.2h1.1v1.1h-1.1zM689.5 336.1h1.1v1.1h-1.1zM646.5 479.3h1.1v1.1h-1.1zM647.3 468.5h1.1v1.1h-1.1zM646.8 348.3h1.1v1.1h-1.1zM689.1 475.8h1.1v1.1h-1.1zM646.9 434.7h1.1v1.1h-1.1zM645.9 427.5h1.1v1.1h-1.1zM647.4 417.6h1.1v1.1h-1.1zM690 380.2h1.1v1.1h-1.1zM646.9 455.9h1.1v1.1h-1.1zM689.1 473h1.1v1.1h-1.1zM646.2 446.3h1.1v1.1h-1.1zM689.5 391.9h1.1v1.1h-1.1zM647.4 391.9h1.1v1.1h-1.1zM691.1 386.3h1.1v1.1h-1.1zM646.5 381.7h1.1v1.1h-1.1zM689.3 485.9h1.1v1.1h-1.1zM647.4 374.1h1.1v1.1h-1.1zM647.1 371h1.1v1.1h-1.1zM646.7 423.2h1.1v1.1h-1.1zM690.5 452.1h1.1v1.1h-1.1zM647.3 426.5h1.1v1.1h-1.1zM647.2 446.4h1.1v1.1h-1.1zM689.5 409h1.1v1.1h-1.1zM647 353.1h1.1v1.1h-1.1zM647.2 428.9h1.1v1.1h-1.1zM647.3 453.3h1.1v1.1h-1.1zM689.2 435.7h1.1v1.1h-1.1zM645.5 429.8h1.1v1.1h-1.1zM690.6 373.6h1.1v1.1h-1.1zM689.9 448.4h1.1v1.1h-1.1zM645.6 344.2h1.1v1.1h-1.1zM689.2 375h1.1v1.1h-1.1zM647.4 353h1.1v1.1h-1.1zM689.6 346.7h1.1v1.1h-1.1zM690.6 398.3h1.1v1.1h-1.1zM646 435.5h1.1v1.1h-1.1zM689.4 377.6h1.1v1.1h-1.1zM647.5 341.4h1.1v1.1h-1.1zM646.2 404.1h1.1v1.1h-1.1zM689.5 381.1h1.1v1.1h-1.1zM689.6 480.7h1.1v1.1h-1.1zM646.3 349.1h1.1v1.1h-1.1zM689.6 475.1h1.1v1.1h-1.1zM689.9 451.6h1.1v1.1h-1.1zM690.3 425.5h1.1v1.1h-1.1zM690.4 367.5h1.1v1.1h-1.1zM647.2 384.7h1.1v1.1h-1.1zM646.5 388.3h1.1v1.1h-1.1zM647.4 428h1.1v1.1h-1.1zM690.2 485.6h1.1v1.1h-1.1zM647.1 380.6h1.1v1.1h-1.1zM647.3 382.3h1.1v1.1h-1.1zM689.4 345.6h1.1v1.1h-1.1zM689.1 467.1h1.1v1.1h-1.1zM647 371.2h1.1v1.1h-1.1zM646 357.9h1.1v1.1h-1.1zM646.1 465h1.1v1.1h-1.1zM689.3 452.1h1.1v1.1h-1.1zM646 400.8h1.1v1.1h-1.1zM644.8 336.5h1.1v1.1h-1.1zM689.1 425.8h1.1v1.1h-1.1zM646.7 433.6h1.1v1.1h-1.1zM689.9 407.9h1.1v1.1h-1.1zM690.5 381.9h1.1v1.1h-1.1zM689.3 453.2h1.1v1.1h-1.1zM689.5 395.7h1.1v1.1h-1.1zM689.9 358.6h1.1v1.1h-1.1zM690.5 480.6h1.1v1.1h-1.1zM689.4 374h1.1v1.1h-1.1zM691.1 368h1.1v1.1h-1.1zM690.7 476.8h1.1v1.1h-1.1zM692.7 480.6h1.1v1.1h-1.1zM690 417.2h1.1v1.1h-1.1zM689.2 429.4h1.1v1.1h-1.1zM647.5 346.6h1.1v1.1h-1.1zM690.6 351.4h1.1v1.1h-1.1zM689.1 365.4h1.1v1.1h-1.1zM689.3 412.4h1.1v1.1h-1.1zM645.3 428.2h1.1v1.1h-1.1zM689.6 489.8h1.1v1.1h-1.1zM689.1 476.6h1.1v1.1h-1.1zM690 464.9h1.1v1.1h-1.1zM690 476.4h1.1v1.1h-1.1zM645.5 364.5h1.1v1.1h-1.1zM644.8 436h1.1v1.1h-1.1zM646.6 336.3h1.1v1.1h-1.1zM647 351.3h1.1v1.1h-1.1zM646.7 440.9h1.1v1.1h-1.1zM645.9 476.7h1.1v1.1h-1.1zM689.6 426.2h1.1v1.1h-1.1zM647.2 417.4h1.1v1.1h-1.1zM689.7 485h1.1v1.1h-1.1zM646.2 462.7h1.1v1.1h-1.1zM689.6 438.1h1.1v1.1h-1.1zM646.9 434.7h1.1v1.1h-1.1zM689.2 390.7h1.1v1.1h-1.1zM689.2 370.4h1.1v1.1h-1.1zM647.5 405h1.1v1.1h-1.1zM647.2 482.3h1.1v1.1h-1.1zM689.6 385.3h1.1v1.1h-1.1zM646.2 485.3h1.1v1.1h-1.1zM646.6 442.4h1.1v1.1h-1.1zM647 447.8h1.1v1.1h-1.1zM689.2 363.1h1.1v1.1h-1.1zM689.2 474.7h1.1v1.1h-1.1zM646.4 424.2h1.1v1.1h-1.1zM690.9 487.1h1.1v1.1h-1.1zM690.1 465.8h1.1v1.1h-1.1zM689.4 409.3h1.1v1.1h-1.1zM689.4 440.3h1.1v1.1h-1.1zM646.8 356.2h1.1v1.1h-1.1zM646.4 378.2h1.1v1.1h-1.1zM647.1 393.7h1.1v1.1h-1.1zM690 449.5h1.1v1.1h-1.1zM690.1 382.6h1.1v1.1h-1.1zM644.1 407h1.1v1.1h-1.1zM690.4 429.6h1.1v1.1h-1.1zM690.1 428.3h1.1v1.1h-1.1zM647.3 453.9h1.1v1.1h-1.1zM689.3 421.2h1.1v1.1h-1.1zM645.7 340.3h1.1v1.1h-1.1zM647.4 349.4h1.1v1.1h-1.1zM646.8 365.4h1.1v1.1h-1.1zM689.7 346.5h1.1v1.1h-1.1zM690.8 349.7h1.1v1.1h-1.1zM689.3 355.7h1.1v1.1h-1.1zM646.5 478.8h1.1v1.1h-1.1zM689.3 393.5h1.1v1.1h-1.1zM689.2 446.6h1.1v1.1h-1.1zM690 374.9h1.1v1.1h-1.1zM646.3 479.4h1.1v1.1h-1.1zM646.3 447.9h1.1v1.1h-1.1zM689.9 403.6h1.1v1.1h-1.1zM646.8 422.7h1.1v1.1h-1.1zM689.4 414.2h1.1v1.1h-1.1zM689.6 481.5h1.1v1.1h-1.1zM647.3 477.6h1.1v1.1h-1.1zM648 336.5h1.1v1.1h-1.1zM647.6 492.5h1.1v1.1h-1.1zM679 333.2h1.1v1.1h-1.1zM678.4 497.5h1.1v1.1h-1.1zM661.6 332.6h1.1v1.1h-1.1zM660.6 496.3h1.1v1.1h-1.1zM672.2 332.5h1.1v1.1h-1.1zM672.1 496.3h1.1v1.1h-1.1zM659.9 333.3h1.1v1.1h-1.1zM661 495.7h1.1v1.1h-1.1zM650.5 334.5h1.1v1.1h-1.1zM650.9 494.7h1.1v1.1h-1.1zM650.7 334.8h1.1v1.1h-1.1zM651.6 494.2h1.1v1.1h-1.1zM684 332.8h1.1v1.1h-1.1zM684.4 494.2h1.1v1.1h-1.1zM688.5 335.6h1.1v1.1h-1.1zM688.5 492.9h1.1v1.1h-1.1zM669.9 333h1.1v1.1h-1.1zM669.8 495.2h1.1v1.1h-1.1zM659.8 333.1h1.1v1.1h-1.1zM659.7 495.5h1.1v1.1h-1.1zM683.7 334.1h1.1v1.1h-1.1zM682.7 494.5h1.1v1.1h-1.1zM658.8 332.3h1.1v1.1h-1.1zM658.1 494.9h1.1v1.1h-1.1zM685.3 334.5h1.1v1.1h-1.1zM685.2 493.2h1.1v1.1h-1.1zM649 335.5h1.1v1.1h-1.1zM648.5 494.2h1.1v1.1h-1.1zM686.3 334.8h1.1v1.1h-1.1zM686.8 493.8h1.1v1.1h-1.1zM687.7 336.1h1.1v1.1h-1.1zM688.4 491.5h1.1v1.1h-1.1zM679.3 333.1h1.1v1.1h-1.1zM678.4 496h1.1v1.1h-1.1zM669.7 332.5h1.1v1.1h-1.1zM669.4 495.1h1.1v1.1h-1.1zM681 333.3h1.1v1.1h-1.1zM681.5 495.1h1.1v1.1h-1.1zM689 335.9h1.1v1.1h-1.1zM688.7 492.1h1.1v1.1h-1.1zM677.9 333.2h1.1v1.1h-1.1zM677.9 495.2h1.1v1.1h-1.1zM688.4 335.2h1.1v1.1h-1.1zM688.1 492.6h1.1v1.1h-1.1zM659.2 333.1h1.1v1.1h-1.1zM660.4 495.9h1.1v1.1h-1.1zM650.6 334.9h1.1v1.1h-1.1zM651.5 493.7h1.1v1.1h-1.1zM649.2 336h1.1v1.1h-1.1zM649 492h1.1v1.1h-1.1zM673.5 331.2h1.1v1.1h-1.1zM673.1 495.4h1.1v1.1h-1.1zM687.6 335h1.1v1.1h-1.1zM687.2 493.2h1.1v1.1h-1.1zM648.5 336.2h1.1v1.1h-1.1zM648.2 491.9h1.1v1.1h-1.1zM688.6 335.9h1.1v1.1h-1.1zM689.2 491.2h1.1v1.1h-1.1zM690 335.8h1.1v1.1h-1.1zM689.2 491.9h1.1v1.1h-1.1zM690 336.8h1.1v1.1h-1.1zM689.5 491.8h1.1v1.1h-1.1zM689.9 336.1h1.1v1.1h-1.1zM689 491.3h1.1v1.1h-1.1zM665.4 333h1.1v1.1h-1.1zM665.2 495h1.1v1.1h-1.1zM686.5 334.7h1.1v1.1h-1.1zM688.2 493.4h1.1v1.1h-1.1zM655 333.2h1.1v1.1h-1.1zM654.8 494.2h1.1v1.1h-1.1zM677 333.1h1.1v1.1h-1.1zM677.6 495.2h1.1v1.1h-1.1zM660.6 333h1.1v1.1h-1.1zM660.3 495.8h1.1v1.1h-1.1zM686.8 334.9h1.1v1.1h-1.1zM688 492.9h1.1v1.1h-1.1zM683.5 334.1h1.1v1.1h-1.1zM684.2 495.9h1.1v1.1h-1.1zM685.5 334.2h1.1v1.1h-1.1zM686 494.3h1.1v1.1h-1.1zM685.6 334h1.1v1.1h-1.1zM686.2 494h1.1v1.1h-1.1zM665.8 332.2h1.1v1.1h-1.1zM666.8 495.3h1.1v1.1h-1.1zM649.8 334.2h1.1v1.1h-1.1zM650.7 493.4h1.1v1.1h-1.1zM669.1 331.8h1.1v1.1h-1.1zM667.3 496.4h1.1v1.1h-1.1zM666.9 332.8h1.1v1.1h-1.1zM666.3 495.4h1.1v1.1h-1.1zM685.7 334.7h1.1v1.1h-1.1zM685.4 493.9h1.1v1.1h-1.1zM675.1 333.2h1.1v1.1h-1.1zM674.5 496.7h1.1v1.1h-1.1zM671.7 332.9h1.1v1.1h-1.1zM671.6 494.9h1.1v1.1h-1.1zM648.1 336.6h1.1v1.1h-1.1zM647.9 491.8h1.1v1.1h-1.1zM677.8 332.5h1.1v1.1h-1.1zM677.2 494.5h1.1v1.1h-1.1zM683.3 333.4h1.1v1.1h-1.1zM682.7 493.8h1.1v1.1h-1.1zM669.7 332.5h1.1v1.1h-1.1zM669.2 495.4h1.1v1.1h-1.1zM663.5 333h1.1v1.1h-1.1zM662.2 495.4h1.1v1.1h-1.1zM658.7 333.5h1.1v1.1h-1.1zM655.9 494.6h1.1v1.1h-1.1zM670 332.8h1.1v1.1h-1.1zM670.4 496.4h1.1v1.1h-1.1zM649.1 334.5h1.1v1.1h-1.1zM649.2 492.7h1.1v1.1h-1.1zM648 336.5h1.1v1.1h-1.1zM647.9 490.9h1.1v1.1h-1.1zM647.3 336.9h1.1v1.1h-1.1zM649.1 491.2h1.1v1.1h-1.1zM688.4 335.5h1.1v1.1h-1.1zM688.1 492.7h1.1v1.1h-1.1zM647.9 336h1.1v1.1h-1.1zM648.3 493.4h1.1v1.1h-1.1zM667.2 332.5h1.1v1.1h-1.1zM667.6 495.2h1.1v1.1h-1.1zM661.1 332.3h1.1v1.1h-1.1zM660.8 495.3h1.1v1.1h-1.1zM671.3 332.9h1.1v1.1h-1.1zM670.5 495.6h1.1v1.1h-1.1zM684.6 333.2h1.1v1.1h-1.1zM683.9 494.2h1.1v1.1h-1.1zM655.6 333.5h1.1v1.1h-1.1zM656.9 494.9h1.1v1.1h-1.1zM677.1 333.1h1.1v1.1h-1.1zM678.4 495.4h1.1v1.1h-1.1zM649 335.8h1.1v1.1h-1.1zM648.9 492.7h1.1v1.1h-1.1zM665 332.5h1.1v1.1h-1.1zM664.3 495.3h1.1v1.1h-1.1zM652.2 334.5h1.1v1.1h-1.1zM652.6 493.3h1.1v1.1h-1.1zM677.8 333.1h1.1v1.1h-1.1zM678.2 495.4h1.1v1.1h-1.1zM678.9 332.7h1.1v1.1h-1.1zM679.9 495.3h1.1v1.1h-1.1zM669.4 332.4h1.1v1.1h-1.1zM668.9 494.8h1.1v1.1h-1.1zM686.1 334h1.1v1.1h-1.1zM684.9 493.7h1.1v1.1h-1.1zM653.8 334.1h1.1v1.1h-1.1zM653.7 494.5h1.1v1.1h-1.1zM682.6 333.8h1.1v1.1h-1.1zM683.6 493.7h1.1v1.1h-1.1zM686.7 334.4h1.1v1.1h-1.1zM685.8 493.8h1.1v1.1h-1.1zM671.8 332.9h1.1v1.1h-1.1zM670.7 496.7h1.1v1.1h-1.1zM650.5 334.7h1.1v1.1h-1.1zM651.2 493.4h1.1v1.1h-1.1zM653.4 334h1.1v1.1h-1.1zM653.9 493.6h1.1v1.1h-1.1zM672.6 332.8h1.1v1.1h-1.1zM671.9 494.7h1.1v1.1h-1.1zM684.2 334.2h1.1v1.1h-1.1zM684.1 493.6h1.1v1.1h-1.1zM650.5 334.4h1.1v1.1h-1.1zM651.8 493h1.1v1.1h-1.1zM660.3 333.4h1.1v1.1h-1.1zM660.3 494.5h1.1v1.1h-1.1zM650.5 335.3h1.1v1.1h-1.1zM648.9 493.4h1.1v1.1h-1.1zM687.3 334.1h1.1v1.1h-1.1zM687.3 493.5h1.1v1.1h-1.1zM653.5 334.4h1.1v1.1h-1.1zM654.1 494h1.1v1.1h-1.1zM689.2 335.9h1.1v1.1h-1.1zM689.3 492h1.1v1.1h-1.1zM656.2 333.6h1.1v1.1h-1.1zM656.5 494h1.1v1.1h-1.1zM667.2 332.6h1.1v1.1h-1.1zM666.5 495.4h1.1v1.1h-1.1zM657.9 333.4h1.1v1.1h-1.1zM658.4 494.3h1.1v1.1h-1.1zM683.6 333.6h1.1v1.1h-1.1zM684.3 493.4h1.1v1.1h-1.1zM659.1 332.8h1.1v1.1h-1.1zM659.3 495.4h1.1v1.1h-1.1zM677.1 333.3h1.1v1.1h-1.1zM677.6 495.5h1.1v1.1h-1.1zM689.2 334.2h1.1v1.1h-1.1zM689.1 493h1.1v1.1h-1.1zM676.6 333.1h1.1v1.1h-1.1zM675 494.9h1.1v1.1h-1.1zM666.3 332.1h1.1v1.1h-1.1zM665.9 495.9h1.1v1.1h-1.1zM655.7 333.4h1.1v1.1h-1.1zM655.3 494.9h1.1v1.1h-1.1zM666.4 332.3h1.1v1.1h-1.1zM665.8 495.4h1.1v1.1h-1.1zM686.2 333.9h1.1v1.1h-1.1zM684.8 493.7h1.1v1.1h-1.1zM653.2 334.4h1.1v1.1h-1.1zM653.5 493.4h1.1v1.1h-1.1zM648.5 335.4h1.1v1.1h-1.1zM648.8 492.7h1.1v1.1h-1.1zM648.3 335.2h1.1v1.1h-1.1zM649 492.1h1.1v1.1h-1.1zM689.4 336.3h1.1v1.1h-1.1zM689.2 491.7h1.1v1.1h-1.1zM673.4 331.9h1.1v1.1h-1.1zM671.9 494.7h1.1v1.1h-1.1zM650.9 334.4h1.1v1.1h-1.1zM652.5 495.4h1.1v1.1h-1.1zM687.6 335.1h1.1v1.1h-1.1zM688.9 492.5h1.1v1.1h-1.1zM683.2 333.5h1.1v1.1h-1.1zM683.9 493.8h1.1v1.1h-1.1z" fill="#4a36bc" fill-opacity="0.8"/>
<linearGradient id="g6" x1="0" x2="1" y1="0" y2="0"><stop offset="0" stop-color="#4a36bc"/><stop offset=".16" stop-color="#3a30d0"/><stop offset=".5" stop-color="#3838d8"/><stop offset=".84" stop-color="#3a30d0"/><stop offset="1" stop-color="#4a36bc"/></linearGradient>
<path d="M615.4 356.6L615.4 512A18.6 3.5 0 0 0 652.6 512L652.6 356.6A18.6 3.5 0 0 0 615.4 356.6Z" fill="url(#g6)"/>
<clipPath id="c7"><path d="M615.4 356.6L615.4 512A18.6 3.5 0 0 0 652.6 512L652.6 356.6A18.6 3.5 0 0 0 615.4 356.6Z"/></clipPath>
<path d="M617.6 353.1V515.5M621 353.1V515.5M624.4 353.1V515.5M627.8 353.1V515.5M631.2 353.1V515.5M634.6 353.1V515.5M638 353.1V515.5M641.4 353.1V515.5M644.8 353.1V515.5M648.2 353.1V515.5" stroke="#3c66ee" stroke-width="1.2" stroke-opacity=".5" clip-path="url(#c7)"/>
<radialGradient id="r8"><stop offset="0" stop-color="#58d070"/><stop offset=".3" stop-color="#22b8e0"/><stop offset=".62" stop-color="#3a60f0" stop-opacity=".9"/><stop offset="1" stop-color="#3a30d0" stop-opacity="0"/></radialGradient>
<ellipse cx="634" cy="355.1" rx="16.7" ry="4.1" fill="url(#r8)"/>
<path d="M615 476.9h1v1h-1zM615.1 403.6h1v1h-1zM652.1 393.1h1v1h-1zM616.1 405.8h1v1h-1zM616.1 439h1v1h-1zM615.2 384.1h1v1h-1zM651.4 441.9h1v1h-1zM651 481.5h1v1h-1zM615.6 361.8h1v1h-1zM650.9 356.7h1v1h-1zM650.9 398h1v1h-1zM651.1 410.6h1v1h-1zM615.1 484.3h1v1h-1zM615.7 414.9h1v1h-1zM651.9 437h1v1h-1zM652.1 387.8h1v1h-1zM651.3 490.1h1v1h-1zM651.6 363.1h1v1h-1zM616.1 467.2h1v1h-1zM651.5 496.7h1v1h-1zM651.6 377.6h1v1h-1zM651.2 476.2h1v1h-1zM615.7 467.1h1v1h-1zM615.9 379.2h1v1h-1zM651.6 494.3h1v1h-1zM615.1 388.8h1v1h-1zM615 504.5h1v1h-1zM651.6 469.7h1v1h-1zM614.9 468.7h1v1h-1zM615.5 429h1v1h-1zM652 464.7h1v1h-1zM615.3 396.7h1v1h-1zM651.8 441.4h1v1h-1zM652 500.1h1v1h-1zM615.3 447.3h1v1h-1zM652.1 449.7h1v1h-1zM651.7 373.6h1v1h-1zM651.5 361.8h1v1h-1zM615 357.4h1v1h-1zM651.8 440.7h1v1h-1zM651.9 393.9h1v1h-1zM615.7 392.2h1v1h-1zM615.2 449.1h1v1h-1zM615.9 409.8h1v1h-1zM615.8 462.1h1v1h-1zM616.1 479.6h1v1h-1zM615 468.1h1v1h-1zM651 472.4h1v1h-1zM615.9 473.3h1v1h-1zM615.4 478.4h1v1h-1zM651.5 359.1h1v1h-1zM651.6 429h1v1h-1zM614.9 484.5h1v1h-1zM651.7 406.1h1v1h-1zM615.6 458.7h1v1h-1zM652 453.6h1v1h-1zM615.3 508.3h1v1h-1zM652.1 407.1h1v1h-1zM615.2 475.1h1v1h-1zM651.5 508.1h1v1h-1zM651.1 366.2h1v1h-1zM650.9 385.7h1v1h-1zM650.9 398.1h1v1h-1zM615.2 439.8h1v1h-1zM651.6 358.4h1v1h-1zM615.8 462h1v1h-1zM651.1 418.8h1v1h-1zM651.3 496.7h1v1h-1zM615.6 399.2h1v1h-1zM651 377h1v1h-1zM615.6 494.6h1v1h-1zM651.3 378.2h1v1h-1zM651.3 409.5h1v1h-1zM615.2 383.5h1v1h-1zM651.6 460.2h1v1h-1zM615.4 507.2h1v1h-1zM614.9 477.4h1v1h-1zM616 468.9h1v1h-1zM615.3 373h1v1h-1zM615.9 413.1h1v1h-1zM615.2 417h1v1h-1zM651.2 469.4h1v1h-1zM616 439.6h1v1h-1zM615.1 411.7h1v1h-1zM651.2 490.5h1v1h-1zM651.4 366.4h1v1h-1zM615.1 356.7h1v1h-1zM651.8 380.4h1v1h-1zM615.5 505.3h1v1h-1zM615.7 459.4h1v1h-1zM651.2 461h1v1h-1zM615 399.2h1v1h-1zM615.8 389.8h1v1h-1zM615.9 468h1v1h-1zM651.8 403.3h1v1h-1zM651.2 486.6h1v1h-1zM651.2 477h1v1h-1zM651.7 440.1h1v1h-1zM651.2 454.7h1v1h-1zM615.6 452.1h1v1h-1zM615.7 471.7h1v1h-1zM615 368.2h1v1h-1zM615.7 383.5h1v1h-1zM615 389.1h1v1h-1zM651.9 371.7h1v1h-1zM615.2 501.2h1v1h-1zM615.2 480.3h1v1h-1zM651.1 394h1v1h-1zM615 442.9h1v1h-1zM615 367.2h1v1h-1zM616.1 489.9h1v1h-1zM615 397.8h1v1h-1zM652 509.5h1v1h-1zM615.8 459.9h1v1h-1zM651.3 359h1v1h-1zM651.2 447.2h1v1h-1zM651.2 461.1h1v1h-1zM616.1 474.1h1v1h-1zM615.6 396.7h1v1h-1zM616.1 377.6h1v1h-1zM651.1 505.3h1v1h-1zM652 473.7h1v1h-1zM651.1 496.3h1v1h-1zM651.3 420.6h1v1h-1zM651.5 462h1v1h-1zM615.6 418.9h1v1h-1zM616 374.2h1v1h-1zM651.7 474.5h1v1h-1zM651.3 466.1h1v1h-1zM651.1 492.6h1v1h-1zM615.2 383.6h1v1h-1zM651.7 437.8h1v1h-1zM651.3 397.5h1v1h-1zM615.8 487h1v1h-1zM615.9 479.6h1v1h-1zM615 455.1h1v1h-1zM615.7 464h1v1h-1zM615.2 476.5h1v1h-1zM615.1 454.4h1v1h-1zM651.5 477.1h1v1h-1zM651.3 439.7h1v1h-1zM614.9 509.1h1v1h-1zM651.6 371.2h1v1h-1zM651.9 383.6h1v1h-1zM616 468.5h1v1h-1zM615.8 498.9h1v1h-1zM651.1 462.7h1v1h-1zM616 504.5h1v1h-1zM651.8 497.9h1v1h-1zM651.8 458.5h1v1h-1zM615.1 502.4h1v1h-1zM615.8 412.7h1v1h-1zM615.9 456.1h1v1h-1zM651 470.6h1v1h-1zM651.8 389h1v1h-1zM615.4 370.9h1v1h-1zM652 421.4h1v1h-1zM615.6 415.3h1v1h-1zM651.5 496.7h1v1h-1zM615.4 450.2h1v1h-1zM615.1 478.2h1v1h-1zM615.8 467.3h1v1h-1zM651 443.5h1v1h-1zM616.1 392h1v1h-1zM615.5 385.1h1v1h-1zM651.4 379.1h1v1h-1zM651.1 456.9h1v1h-1zM651 452.9h1v1h-1zM615.6 419.2h1v1h-1zM651.7 495.7h1v1h-1zM652 482.5h1v1h-1zM652.1 386.6h1v1h-1zM616 370.5h1v1h-1zM615.7 466.8h1v1h-1zM652 381.8h1v1h-1zM651.6 425.9h1v1h-1zM651.6 453.3h1v1h-1zM651.3 436.1h1v1h-1zM615.9 478.7h1v1h-1zM651.7 431.1h1v1h-1zM615.3 474.3h1v1h-1zM651 474.2h1v1h-1zM615 399.6h1v1h-1zM615.5 468.8h1v1h-1zM651.6 504.2h1v1h-1zM615.3 488.9h1v1h-1zM616 369.1h1v1h-1zM615.1 501.1h1v1h-1zM615.9 425.5h1v1h-1zM616 381.5h1v1h-1zM651.5 508h1v1h-1zM651.4 506.8h1v1h-1zM651 463.1h1v1h-1zM615.8 447.8h1v1h-1zM616 510.8h1v1h-1zM615.5 411h1v1h-1zM615.5 406.9h1v1h-1zM615.9 495.3h1v1h-1zM651.4 412.4h1v1h-1zM615.1 434.7h1v1h-1zM615.2 484.6h1v1h-1zM615.4 434.8h1v1h-1zM615.5 502.2h1v1h-1zM651 447.8h1v1h-1zM615.1 419.4h1v1h-1zM615.7 372.3h1v1h-1zM652 369.8h1v1h-1zM615.7 433.6h1v1h-1zM652.1 385.3h1v1h-1zM651.7 464.7h1v1h-1zM651.9 492.1h1v1h-1zM652 404.2h1v1h-1zM615.3 435.9h1v1h-1zM615 402.2h1v1h-1zM651.1 431.6h1v1h-1zM651.2 388.8h1v1h-1zM615.4 451.1h1v1h-1z" fill="#fff" fill-opacity="0.55"/>
<path d="M613.9 363.8h1.1v1.1h-1.1zM653.5 425.2h1.1v1.1h-1.1zM652.8 492.5h1.1v1.1h-1.1zM613.2 379.6h1.1v1.1h-1.1zM652.6 435.2h1.1v1.1h-1.1zM614.5 463.8h1.1v1.1h-1.1zM654.3 421.2h1.1v1.1h-1.1zM612.9 481.2h1.1v1.1h-1.1zM613.5 361.5h1.1v1.1h-1.1zM614.2 471.1h1.1v1.1h-1.1zM612.2 494.9h1.1v1.1h-1.1zM614.2 438.9h1.1v1.1h-1.1zM614 383.9h1.1v1.1h-1.1zM613.9 488.7h1.1v1.1h-1.1zM613.2 411h1.1v1.1h-1.1zM612.7 391.1h1.1v1.1h-1.1zM614.2 397.5h1.1v1.1h-1.1zM652.2 363.1h1.1v1.1h-1.1zM652.7 397.9h1.1v1.1h-1.1zM653.5 465h1.1v1.1h-1.1zM653.1 418.9h1.1v1.1h-1.1zM652.4 379.5h1.1v1.1h-1.1zM614.8 498h1.1v1.1h-1.1zM653.3 512.3h1.1v1.1h-1.1zM614.7 512.7h1.1v1.1h-1.1zM652.5 469.1h1.1v1.1h-1.1zM652.5 465.6h1.1v1.1h-1.1zM653.1 461.5h1.1v1.1h-1.1zM653.5 473.9h1.1v1.1h-1.1zM614.8 513.3h1.1v1.1h-1.1zM652.3 486.4h1.1v1.1h-1.1zM652.4 460.1h1.1v1.1h-1.1zM613.3 367h1.1v1.1h-1.1zM652.9 397.1h1.1v1.1h-1.1zM614.5 449h1.1v1.1h-1.1zM652.1 475.6h1.1v1.1h-1.1zM614.6 438.6h1.1v1.1h-1.1zM614.2 428.5h1.1v1.1h-1.1zM653.1 406.6h1.1v1.1h-1.1zM613.2 375.1h1.1v1.1h-1.1zM652.5 413.4h1.1v1.1h-1.1zM652.2 418.3h1.1v1.1h-1.1zM653.2 465.8h1.1v1.1h-1.1zM613.6 356.5h1.1v1.1h-1.1zM614 413.7h1.1v1.1h-1.1zM653 482.7h1.1v1.1h-1.1zM614.1 446h1.1v1.1h-1.1zM652.6 441.9h1.1v1.1h-1.1zM652.3 396.1h1.1v1.1h-1.1zM652.5 387.5h1.1v1.1h-1.1zM652.8 507.5h1.1v1.1h-1.1zM652.8 362.5h1.1v1.1h-1.1zM653.4 475h1.1v1.1h-1.1zM614.3 396.3h1.1v1.1h-1.1zM614.3 416.6h1.1v1.1h-1.1zM614.6 414.6h1.1v1.1h-1.1zM613.9 407.8h1.1v1.1h-1.1zM652.6 417.9h1.1v1.1h-1.1zM613.9 475.6h1.1v1.1h-1.1zM652.9 503.8h1.1v1.1h-1.1zM652.3 421.3h1.1v1.1h-1.1zM614.6 474.9h1.1v1.1h-1.1zM614.7 461.8h1.1v1.1h-1.1zM652.3 463.3h1.1v1.1h-1.1zM614.1 374.3h1.1v1.1h-1.1zM653.2 358h1.1v1.1h-1.1zM614.6 369.5h1.1v1.1h-1.1zM614.8 432.1h1.1v1.1h-1.1zM652.4 442.8h1.1v1.1h-1.1zM614.4 420.1h1.1v1.1h-1.1zM614.4 408.6h1.1v1.1h-1.1zM613.7 438h1.1v1.1h-1.1zM652.6 405.2h1.1v1.1h-1.1zM652.9 463.5h1.1v1.1h-1.1zM652.8 403.8h1.1v1.1h-1.1zM612.9 396.3h1.1v1.1h-1.1zM653 459h1.1v1.1h-1.1zM653.5 377.9h1.1v1.1h-1.1zM614.9 387.3h1.1v1.1h-1.1zM614.8 486.1h1.1v1.1h-1.1zM652.5 398.9h1.1v1.1h-1.1zM653.7 482.8h1.1v1.1h-1.1zM613.9 387.9h1.1v1.1h-1.1zM614.5 456.9h1.1v1.1h-1.1zM614.4 377.3h1.1v1.1h-1.1zM613.8 472.4h1.1v1.1h-1.1zM652.5 434.5h1.1v1.1h-1.1zM613.7 380.7h1.1v1.1h-1.1zM613.9 387.5h1.1v1.1h-1.1zM652.4 460h1.1v1.1h-1.1zM652.3 467.5h1.1v1.1h-1.1zM652.7 362.2h1.1v1.1h-1.1zM613.6 402.1h1.1v1.1h-1.1zM613.6 467.6h1.1v1.1h-1.1zM613.8 442.6h1.1v1.1h-1.1zM653.6 511h1.1v1.1h-1.1zM653.2 510h1.1v1.1h-1.1zM653.1 370.4h1.1v1.1h-1.1zM613.5 379.2h1.1v1.1h-1.1zM652.8 373.7h1.1v1.1h-1.1zM614.7 513.5h1.1v1.1h-1.1zM653 474.5h1.1v1.1h-1.1zM614.6 496.6h1.1v1.1h-1.1zM614.1 475.5h1.1v1.1h-1.1zM652.3 377.7h1.1v1.1h-1.1zM653.9 498.9h1.1v1.1h-1.1zM652.3 508.9h1.1v1.1h-1.1zM614.3 403.1h1.1v1.1h-1.1zM653 408.4h1.1v1.1h-1.1zM614.8 487.5h1.1v1.1h-1.1zM653.2 470.3h1.1v1.1h-1.1zM652.8 480.5h1.1v1.1h-1.1zM613.5 436.9h1.1v1.1h-1.1zM652.9 421.4h1.1v1.1h-1.1zM613.9 367.6h1.1v1.1h-1.1zM653.3 457.8h1.1v1.1h-1.1zM653.9 403.7h1.1v1.1h-1.1zM653.3 374.1h1.1v1.1h-1.1zM614.2 407h1.1v1.1h-1.1zM653.2 435.9h1.1v1.1h-1.1zM652.7 506.1h1.1v1.1h-1.1zM614.5 493.7h1.1v1.1h-1.1zM614.6 496.8h1.1v1.1h-1.1zM614.7 481.1h1.1v1.1h-1.1zM612.9 474.5h1.1v1.1h-1.1zM611.8 422.8h1.1v1.1h-1.1zM613.7 401.8h1.1v1.1h-1.1zM614.2 479.9h1.1v1.1h-1.1zM612.5 485.8h1.1v1.1h-1.1zM613.2 362.1h1.1v1.1h-1.1zM652.7 484.1h1.1v1.1h-1.1zM652.5 405.9h1.1v1.1h-1.1zM614.2 480.3h1.1v1.1h-1.1zM652.5 379.5h1.1v1.1h-1.1zM614.7 477.7h1.1v1.1h-1.1zM614.2 408h1.1v1.1h-1.1zM653 431.6h1.1v1.1h-1.1zM614.8 366.5h1.1v1.1h-1.1zM613.9 387.1h1.1v1.1h-1.1zM613.4 410.9h1.1v1.1h-1.1zM652.9 482.9h1.1v1.1h-1.1zM653.6 376.9h1.1v1.1h-1.1zM613.1 487.6h1.1v1.1h-1.1zM652.9 479.9h1.1v1.1h-1.1zM613.2 474.2h1.1v1.1h-1.1zM614.1 489.9h1.1v1.1h-1.1zM654.1 386.9h1.1v1.1h-1.1zM614.1 446.7h1.1v1.1h-1.1zM652.6 481.4h1.1v1.1h-1.1zM653 369.4h1.1v1.1h-1.1zM652.1 460.7h1.1v1.1h-1.1zM652.2 373.1h1.1v1.1h-1.1zM653 421.9h1.1v1.1h-1.1zM652.3 389.4h1.1v1.1h-1.1zM652.8 360.7h1.1v1.1h-1.1zM652.5 466.7h1.1v1.1h-1.1zM613.8 420.2h1.1v1.1h-1.1zM653.2 384.7h1.1v1.1h-1.1zM614.4 408.3h1.1v1.1h-1.1zM652.7 496.7h1.1v1.1h-1.1zM613.2 494.5h1.1v1.1h-1.1zM612.7 417.5h1.1v1.1h-1.1zM614.3 355.6h1.1v1.1h-1.1zM614.4 472.3h1.1v1.1h-1.1zM653.3 511.7h1.1v1.1h-1.1zM653.4 395.7h1.1v1.1h-1.1zM653.1 426h1.1v1.1h-1.1zM653.3 455.8h1.1v1.1h-1.1zM613.9 504.3h1.1v1.1h-1.1zM614.2 364.6h1.1v1.1h-1.1zM652.6 443.9h1.1v1.1h-1.1zM653.3 379.7h1.1v1.1h-1.1zM653 377.3h1.1v1.1h-1.1zM613.8 447h1.1v1.1h-1.1zM614.9 513.8h1.1v1.1h-1.1zM613.4 401.7h1.1v1.1h-1.1zM653.2 422.3h1.1v1.1h-1.1zM653.6 462.8h1.1v1.1h-1.1zM653 412.7h1.1v1.1h-1.1zM613.1 434.2h1.1v1.1h-1.1zM652.6 481.4h1.1v1.1h-1.1zM614.5 404.4h1.1v1.1h-1.1zM612.5 463.6h1.1v1.1h-1.1zM653.6 478.8h1.1v1.1h-1.1zM652.4 404.6h1.1v1.1h-1.1zM614 425h1.1v1.1h-1.1zM652.9 463.6h1.1v1.1h-1.1zM652.7 387.9h1.1v1.1h-1.1zM653.3 435h1.1v1.1h-1.1zM613.5 405.5h1.1v1.1h-1.1zM652.1 460.4h1.1v1.1h-1.1zM652.9 413.1h1.1v1.1h-1.1zM652.4 439.5h1.1v1.1h-1.1zM652.5 439.9h1.1v1.1h-1.1zM652.2 411.6h1.1v1.1h-1.1zM614.1 366.6h1.1v1.1h-1.1zM614.3 421h1.1v1.1h-1.1zM614.6 383.5h1.1v1.1h-1.1zM653.1 478.4h1.1v1.1h-1.1zM653.6 434.8h1.1v1.1h-1.1zM614.8 411h1.1v1.1h-1.1zM652.7 472.2h1.1v1.1h-1.1zM653.1 376.7h1.1v1.1h-1.1zM612.7 366.1h1.1v1.1h-1.1zM614 490.6h1.1v1.1h-1.1zM614.4 489.5h1.1v1.1h-1.1zM612.7 379.5h1.1v1.1h-1.1zM652.1 498.1h1.1v1.1h-1.1zM652.7 467.2h1.1v1.1h-1.1zM652.6 366.2h1.1v1.1h-1.1zM614.5 451.9h1.1v1.1h-1.1zM614 368h1.1v1.1h-1.1zM613 466.5h1.1v1.1h-1.1zM653.9 390.2h1.1v1.1h-1.1zM613.5 399.2h1.1v1.1h-1.1zM614.7 450h1.1v1.1h-1.1zM652.7 361.8h1.1v1.1h-1.1zM614.4 408h1.1v1.1h-1.1zM614.3 390.1h1.1v1.1h-1.1zM612.1 447.1h1.1v1.1h-1.1zM652.4 484.1h1.1v1.1h-1.1zM614.7 455.4h1.1v1.1h-1.1zM654.1 448.3h1.1v1.1h-1.1zM613.2 495.4h1.1v1.1h-1.1zM652.5 483.1h1.1v1.1h-1.1zM614.2 457.3h1.1v1.1h-1.1zM652.6 495.2h1.1v1.1h-1.1zM613.6 373.3h1.1v1.1h-1.1zM612.9 400.4h1.1v1.1h-1.1zM613.9 480.9h1.1v1.1h-1.1zM613.4 478.2h1.1v1.1h-1.1zM614.3 509.8h1.1v1.1h-1.1zM614.2 469.6h1.1v1.1h-1.1zM653 488h1.1v1.1h-1.1zM614.1 444h1.1v1.1h-1.1zM652.5 472.8h1.1v1.1h-1.1zM614.5 422.3h1.1v1.1h-1.1zM613.8 371.7h1.1v1.1h-1.1zM654.4 495.8h1.1v1.1h-1.1zM652.2 481.6h1.1v1.1h-1.1zM614.1 497.8h1.1v1.1h-1.1zM613.9 411.6h1.1v1.1h-1.1zM614.3 504.2h1.1v1.1h-1.1zM654.5 511h1.1v1.1h-1.1zM652.2 381.1h1.1v1.1h-1.1zM652.2 389.5h1.1v1.1h-1.1zM614.6 359.9h1.1v1.1h-1.1zM652.2 366.8h1.1v1.1h-1.1zM653.6 409.2h1.1v1.1h-1.1zM614.8 388.2h1.1v1.1h-1.1zM614.4 495.2h1.1v1.1h-1.1zM652.4 387.2h1.1v1.1h-1.1zM652.2 446.3h1.1v1.1h-1.1zM613.5 382.3h1.1v1.1h-1.1zM652.5 469.2h1.1v1.1h-1.1zM653.2 378h1.1v1.1h-1.1zM613.6 393.4h1.1v1.1h-1.1zM614.9 473.7h1.1v1.1h-1.1zM614.8 456.1h1.1v1.1h-1.1zM654.4 429.5h1.1v1.1h-1.1zM614.9 393.7h1.1v1.1h-1.1zM652.4 443.7h1.1v1.1h-1.1zM614.8 358.4h1.1v1.1h-1.1zM612.7 370.9h1.1v1.1h-1.1zM614.2 483.5h1.1v1.1h-1.1zM614.3 416.1h1.1v1.1h-1.1zM613.1 367h1.1v1.1h-1.1zM614.2 435.2h1.1v1.1h-1.1zM652.2 453.1h1.1v1.1h-1.1zM614.8 473.7h1.1v1.1h-1.1zM652.5 385.3h1.1v1.1h-1.1zM613.3 511.5h1.1v1.1h-1.1zM652.3 442.1h1.1v1.1h-1.1zM614.5 393.4h1.1v1.1h-1.1zM653 404.6h1.1v1.1h-1.1zM613.8 510.7h1.1v1.1h-1.1zM613.4 356.6h1.1v1.1h-1.1zM652.5 416.7h1.1v1.1h-1.1zM613.4 502h1.1v1.1h-1.1zM614 481.9h1.1v1.1h-1.1zM614.2 360.4h1.1v1.1h-1.1zM614 494.8h1.1v1.1h-1.1zM653.6 453.7h1.1v1.1h-1.1zM652.7 410.8h1.1v1.1h-1.1zM612.1 416.2h1.1v1.1h-1.1zM653.1 459.3h1.1v1.1h-1.1zM652.2 513.2h1.1v1.1h-1.1zM614.1 420.9h1.1v1.1h-1.1zM652.9 409.6h1.1v1.1h-1.1zM614.5 496.6h1.1v1.1h-1.1zM612.9 439.9h1.1v1.1h-1.1zM652.5 422.9h1.1v1.1h-1.1zM614.8 508.7h1.1v1.1h-1.1zM614.6 460.8h1.1v1.1h-1.1zM653.2 504.3h1.1v1.1h-1.1zM614.4 458.3h1.1v1.1h-1.1zM614.7 401.1h1.1v1.1h-1.1zM613.8 374.3h1.1v1.1h-1.1zM652.1 381.9h1.1v1.1h-1.1zM614.1 396.3h1.1v1.1h-1.1zM614 370.1h1.1v1.1h-1.1zM613.8 378.1h1.1v1.1h-1.1zM652.2 450.3h1.1v1.1h-1.1zM614.5 366.2h1.1v1.1h-1.1zM652.8 443.9h1.1v1.1h-1.1zM653.1 494.7h1.1v1.1h-1.1zM614.9 383.7h1.1v1.1h-1.1zM613.9 512.4h1.1v1.1h-1.1zM653.2 492.1h1.1v1.1h-1.1zM613.2 360.4h1.1v1.1h-1.1zM652.1 411.2h1.1v1.1h-1.1zM614.8 385.7h1.1v1.1h-1.1zM652.4 380.6h1.1v1.1h-1.1zM652.7 511.4h1.1v1.1h-1.1zM614.2 395.8h1.1v1.1h-1.1zM614.6 365.8h1.1v1.1h-1.1zM653.2 504h1.1v1.1h-1.1zM653.4 377.5h1.1v1.1h-1.1zM614.4 414.3h1.1v1.1h-1.1zM652.2 400.8h1.1v1.1h-1.1zM614.8 503.4h1.1v1.1h-1.1zM652.8 390.3h1.1v1.1h-1.1zM652.3 497.1h1.1v1.1h-1.1zM652.3 460.8h1.1v1.1h-1.1zM613.7 392.8h1.1v1.1h-1.1zM652.3 433.6h1.1v1.1h-1.1zM654.1 374.2h1.1v1.1h-1.1zM613.8 423.1h1.1v1.1h-1.1zM652.2 412.8h1.1v1.1h-1.1zM614 364.6h1.1v1.1h-1.1zM613 432.3h1.1v1.1h-1.1zM652.9 373h1.1v1.1h-1.1zM613.7 438.8h1.1v1.1h-1.1zM614.7 405.7h1.1v1.1h-1.1zM652.2 502.1h1.1v1.1h-1.1zM652.6 483.5h1.1v1.1h-1.1zM652.6 371.1h1.1v1.1h-1.1zM614.1 431.9h1.1v1.1h-1.1zM613.9 436.3h1.1v1.1h-1.1zM613.7 360.6h1.1v1.1h-1.1zM653.3 377.6h1.1v1.1h-1.1zM613.4 505.5h1.1v1.1h-1.1zM652.9 491.5h1.1v1.1h-1.1zM613.6 428.2h1.1v1.1h-1.1zM614.3 426.8h1.1v1.1h-1.1zM654.9 488.6h1.1v1.1h-1.1zM652.7 504.5h1.1v1.1h-1.1zM652.2 412.6h1.1v1.1h-1.1zM653.5 392.5h1.1v1.1h-1.1zM613.4 389.2h1.1v1.1h-1.1zM653.3 386.1h1.1v1.1h-1.1zM611 427.9h1.1v1.1h-1.1zM614 360.6h1.1v1.1h-1.1zM653.4 359.2h1.1v1.1h-1.1zM614.9 477.7h1.1v1.1h-1.1zM652.1 427.6h1.1v1.1h-1.1zM614.1 377.4h1.1v1.1h-1.1zM614.6 421.5h1.1v1.1h-1.1zM614.4 406.5h1.1v1.1h-1.1zM653.1 368.3h1.1v1.1h-1.1zM653.3 480.8h1.1v1.1h-1.1zM653.1 398.2h1.1v1.1h-1.1zM652.5 370.6h1.1v1.1h-1.1zM652.4 358.3h1.1v1.1h-1.1zM613.8 383.3h1.1v1.1h-1.1zM614.3 490.1h1.1v1.1h-1.1zM652.9 426.3h1.1v1.1h-1.1zM613.7 508.2h1.1v1.1h-1.1zM652.7 424.7h1.1v1.1h-1.1zM652.4 465.3h1.1v1.1h-1.1zM652.3 507.2h1.1v1.1h-1.1zM652.5 473.1h1.1v1.1h-1.1zM652.1 389.2h1.1v1.1h-1.1zM614.8 468h1.1v1.1h-1.1zM652.3 429.4h1.1v1.1h-1.1zM614.2 423.8h1.1v1.1h-1.1zM613.8 376.8h1.1v1.1h-1.1zM653.3 415.8h1.1v1.1h-1.1zM613.4 477.2h1.1v1.1h-1.1zM652.1 436.4h1.1v1.1h-1.1zM613.8 453.2h1.1v1.1h-1.1zM652.3 408.2h1.1v1.1h-1.1zM652.6 405.4h1.1v1.1h-1.1zM653.6 479.4h1.1v1.1h-1.1zM652.9 414.2h1.1v1.1h-1.1zM613.6 508.8h1.1v1.1h-1.1zM652.5 414.1h1.1v1.1h-1.1zM652.6 365.8h1.1v1.1h-1.1zM613.8 448.9h1.1v1.1h-1.1zM652.9 420.9h1.1v1.1h-1.1zM614.7 360.1h1.1v1.1h-1.1zM614.5 383.2h1.1v1.1h-1.1zM614.5 358.6h1.1v1.1h-1.1zM652.3 387h1.1v1.1h-1.1zM652.1 406.3h1.1v1.1h-1.1zM612.8 408.3h1.1v1.1h-1.1zM653.3 397.4h1.1v1.1h-1.1zM652.9 481.1h1.1v1.1h-1.1zM653 409.7h1.1v1.1h-1.1zM613.8 512.5h1.1v1.1h-1.1zM652.3 422.6h1.1v1.1h-1.1zM652.8 482h1.1v1.1h-1.1zM614.3 370.5h1.1v1.1h-1.1zM613.4 392.2h1.1v1.1h-1.1zM652.6 486.3h1.1v1.1h-1.1zM614.7 386.1h1.1v1.1h-1.1zM653.4 393.7h1.1v1.1h-1.1zM614.9 408.2h1.1v1.1h-1.1zM614.7 360.4h1.1v1.1h-1.1zM614 453h1.1v1.1h-1.1zM654.3 388h1.1v1.1h-1.1zM614.8 376.4h1.1v1.1h-1.1zM653.1 486.7h1.1v1.1h-1.1zM652.9 404.1h1.1v1.1h-1.1zM614.6 369.7h1.1v1.1h-1.1zM614.2 394.4h1.1v1.1h-1.1zM614.5 386.9h1.1v1.1h-1.1zM653.7 493.5h1.1v1.1h-1.1zM614.1 372.4h1.1v1.1h-1.1zM614.1 366.1h1.1v1.1h-1.1zM653.1 426.8h1.1v1.1h-1.1zM652.5 479.2h1.1v1.1h-1.1zM614.8 453.7h1.1v1.1h-1.1zM614.5 501.8h1.1v1.1h-1.1zM613.4 499.8h1.1v1.1h-1.1zM614.3 361.1h1.1v1.1h-1.1zM652.5 490.7h1.1v1.1h-1.1zM614.7 508.3h1.1v1.1h-1.1zM613.3 360.6h1.1v1.1h-1.1zM652.4 405.7h1.1v1.1h-1.1zM652.4 476.8h1.1v1.1h-1.1zM653.1 496.9h1.1v1.1h-1.1zM612.8 509.6h1.1v1.1h-1.1zM613.5 416.9h1.1v1.1h-1.1zM652.2 507.2h1.1v1.1h-1.1zM613.9 387.6h1.1v1.1h-1.1zM652.2 433.4h1.1v1.1h-1.1zM614.7 436.9h1.1v1.1h-1.1zM652.8 510.4h1.1v1.1h-1.1zM613.3 460.1h1.1v1.1h-1.1zM614.8 485.8h1.1v1.1h-1.1zM614.8 476.6h1.1v1.1h-1.1zM652.4 407.4h1.1v1.1h-1.1zM652.8 413.6h1.1v1.1h-1.1zM652.5 453.5h1.1v1.1h-1.1zM614.6 420.6h1.1v1.1h-1.1zM613.2 485.1h1.1v1.1h-1.1zM652.2 475.2h1.1v1.1h-1.1zM653 415.9h1.1v1.1h-1.1zM613.9 408.9h1.1v1.1h-1.1zM613.7 410.3h1.1v1.1h-1.1zM613.1 473.6h1.1v1.1h-1.1zM653.2 481.4h1.1v1.1h-1.1zM614.5 428.8h1.1v1.1h-1.1zM614.8 365.7h1.1v1.1h-1.1zM614.7 481.9h1.1v1.1h-1.1zM614.6 414.2h1.1v1.1h-1.1zM652.1 404.9h1.1v1.1h-1.1zM653.5 506.8h1.1v1.1h-1.1zM653.8 447h1.1v1.1h-1.1zM652.5 404.9h1.1v1.1h-1.1zM614.7 448.7h1.1v1.1h-1.1zM654.7 432.3h1.1v1.1h-1.1zM614.7 441.6h1.1v1.1h-1.1zM613.6 459.4h1.1v1.1h-1.1zM614.6 359.3h1.1v1.1h-1.1zM653.6 438.6h1.1v1.1h-1.1zM613.8 451.3h1.1v1.1h-1.1zM652.9 390.3h1.1v1.1h-1.1zM653.3 407.4h1.1v1.1h-1.1zM613.2 437.3h1.1v1.1h-1.1zM614.8 357.3h1.1v1.1h-1.1zM614 487.4h1.1v1.1h-1.1zM612.8 443h1.1v1.1h-1.1zM652.4 493.3h1.1v1.1h-1.1zM614.8 490.5h1.1v1.1h-1.1zM614.4 436.5h1.1v1.1h-1.1zM614.7 455.6h1.1v1.1h-1.1zM652.2 396.6h1.1v1.1h-1.1zM614.2 455.2h1.1v1.1h-1.1zM614.2 370.2h1.1v1.1h-1.1zM612.8 440.9h1.1v1.1h-1.1zM614.8 437.5h1.1v1.1h-1.1zM614.3 493.9h1.1v1.1h-1.1zM652.7 468.2h1.1v1.1h-1.1zM653 436.6h1.1v1.1h-1.1zM653.5 505.3h1.1v1.1h-1.1zM653.6 421.4h1.1v1.1h-1.1zM614 428.5h1.1v1.1h-1.1zM614.9 477.1h1.1v1.1h-1.1zM652.8 493.4h1.1v1.1h-1.1zM614.3 381.2h1.1v1.1h-1.1zM614.6 426.2h1.1v1.1h-1.1zM653 431.6h1.1v1.1h-1.1zM652.9 477.4h1.1v1.1h-1.1zM652.2 437.8h1.1v1.1h-1.1zM614.3 382.4h1.1v1.1h-1.1zM614.1 366.6h1.1v1.1h-1.1zM652.9 411.7h1.1v1.1h-1.1zM613.5 429.3h1.1v1.1h-1.1zM653 362.1h1.1v1.1h-1.1zM653.3 501.5h1.1v1.1h-1.1zM614.3 380.4h1.1v1.1h-1.1zM652.3 413.6h1.1v1.1h-1.1zM613.6 481h1.1v1.1h-1.1zM612.8 384.5h1.1v1.1h-1.1zM613.5 377.1h1.1v1.1h-1.1zM653.4 425.4h1.1v1.1h-1.1zM652.9 411h1.1v1.1h-1.1zM653 408.3h1.1v1.1h-1.1zM654 452.2h1.1v1.1h-1.1zM614.7 455.2h1.1v1.1h-1.1zM652.4 399.3h1.1v1.1h-1.1zM653.3 504.5h1.1v1.1h-1.1zM614.4 365h1.1v1.1h-1.1zM652.7 364.7h1.1v1.1h-1.1zM613.7 374.9h1.1v1.1h-1.1zM652.5 502.2h1.1v1.1h-1.1zM614.9 488.4h1.1v1.1h-1.1zM612.8 416.7h1.1v1.1h-1.1zM614.6 384h1.1v1.1h-1.1zM614.9 364.4h1.1v1.1h-1.1zM652.5 361.7h1.1v1.1h-1.1zM653.5 384.2h1.1v1.1h-1.1zM613 462.2h1.1v1.1h-1.1zM654.3 424.4h1.1v1.1h-1.1zM613.3 432.1h1.1v1.1h-1.1zM614.8 383.3h1.1v1.1h-1.1zM653.2 497.1h1.1v1.1h-1.1zM653.2 499.1h1.1v1.1h-1.1zM612.8 442.3h1.1v1.1h-1.1zM652.7 450.8h1.1v1.1h-1.1zM613.7 378.9h1.1v1.1h-1.1zM614.2 378.1h1.1v1.1h-1.1zM614.9 464.7h1.1v1.1h-1.1zM614.8 437.2h1.1v1.1h-1.1zM653.4 489.5h1.1v1.1h-1.1zM652.9 445.9h1.1v1.1h-1.1zM614.5 447.5h1.1v1.1h-1.1zM614 398.2h1.1v1.1h-1.1zM613.3 481.2h1.1v1.1h-1.1zM652.2 397.1h1.1v1.1h-1.1zM654.1 380.7h1.1v1.1h-1.1zM652.7 512.3h1.1v1.1h-1.1zM612.9 379.2h1.1v1.1h-1.1zM653.1 448.6h1.1v1.1h-1.1zM613.4 467.3h1.1v1.1h-1.1zM653 373.6h1.1v1.1h-1.1zM653.1 425.6h1.1v1.1h-1.1zM614.3 414h1.1v1.1h-1.1zM652.3 389.6h1.1v1.1h-1.1zM653.1 501.4h1.1v1.1h-1.1zM654.1 477.5h1.1v1.1h-1.1zM614.3 430.5h1.1v1.1h-1.1zM614.6 362.9h1.1v1.1h-1.1zM614.1 451h1.1v1.1h-1.1zM652.2 491.6h1.1v1.1h-1.1zM614.7 431.3h1.1v1.1h-1.1zM614.6 368.5h1.1v1.1h-1.1zM613.5 401.7h1.1v1.1h-1.1zM613.7 507.3h1.1v1.1h-1.1zM613.3 396.8h1.1v1.1h-1.1zM614.9 430.7h1.1v1.1h-1.1zM654.4 390.6h1.1v1.1h-1.1zM614 509.5h1.1v1.1h-1.1zM653 371.1h1.1v1.1h-1.1zM614.9 483.3h1.1v1.1h-1.1zM614.1 429h1.1v1.1h-1.1zM652.6 464h1.1v1.1h-1.1zM652.5 377.3h1.1v1.1h-1.1zM652.5 430h1.1v1.1h-1.1zM652.3 407.6h1.1v1.1h-1.1zM652.5 496.1h1.1v1.1h-1.1zM652.4 509.3h1.1v1.1h-1.1zM614.8 416.6h1.1v1.1h-1.1zM614.7 388h1.1v1.1h-1.1zM653 507.3h1.1v1.1h-1.1zM613.9 413h1.1v1.1h-1.1zM614 441.7h1.1v1.1h-1.1zM613.8 403.2h1.1v1.1h-1.1zM614.2 422.2h1.1v1.1h-1.1zM614.7 436h1.1v1.1h-1.1zM614.1 475h1.1v1.1h-1.1zM613.5 463.1h1.1v1.1h-1.1zM652.8 397.8h1.1v1.1h-1.1zM614.5 497.5h1.1v1.1h-1.1zM614.2 468.2h1.1v1.1h-1.1zM614.8 384h1.1v1.1h-1.1zM614.7 371.7h1.1v1.1h-1.1zM654.2 508.8h1.1v1.1h-1.1zM613.1 513h1.1v1.1h-1.1zM614.1 511.1h1.1v1.1h-1.1zM653.1 437.1h1.1v1.1h-1.1zM613.7 506.8h1.1v1.1h-1.1zM653 513.1h1.1v1.1h-1.1zM653.5 498.3h1.1v1.1h-1.1zM614.6 441.7h1.1v1.1h-1.1zM614.4 448.9h1.1v1.1h-1.1zM653.2 446.6h1.1v1.1h-1.1zM614.2 357.9h1.1v1.1h-1.1zM614.8 393h1.1v1.1h-1.1zM613.1 393.8h1.1v1.1h-1.1zM653.2 487.9h1.1v1.1h-1.1zM614.4 362.1h1.1v1.1h-1.1zM614.6 502h1.1v1.1h-1.1zM614.1 478.3h1.1v1.1h-1.1zM614.1 409.3h1.1v1.1h-1.1zM614.5 394.3h1.1v1.1h-1.1zM653.1 382.8h1.1v1.1h-1.1zM654.1 467.5h1.1v1.1h-1.1zM614.1 434.5h1.1v1.1h-1.1zM613.2 400.7h1.1v1.1h-1.1zM613.2 408.7h1.1v1.1h-1.1zM614.7 391.8h1.1v1.1h-1.1zM654 424.3h1.1v1.1h-1.1zM613.7 356.1h1.1v1.1h-1.1zM653 420.2h1.1v1.1h-1.1zM652.1 397.8h1.1v1.1h-1.1zM653.8 390.8h1.1v1.1h-1.1zM613.9 364.6h1.1v1.1h-1.1zM613.7 512.6h1.1v1.1h-1.1zM613.8 395.7h1.1v1.1h-1.1zM653.4 483.8h1.1v1.1h-1.1zM614.4 497h1.1v1.1h-1.1zM653.5 377.9h1.1v1.1h-1.1zM614.3 511.7h1.1v1.1h-1.1zM614.2 480.7h1.1v1.1h-1.1zM652.7 364.1h1.1v1.1h-1.1zM652.7 413.7h1.1v1.1h-1.1zM613.9 384h1.1v1.1h-1.1zM653.1 370h1.1v1.1h-1.1zM613.8 469.2h1.1v1.1h-1.1zM614.9 483.6h1.1v1.1h-1.1zM652.2 362.3h1.1v1.1h-1.1zM653.6 449.1h1.1v1.1h-1.1zM614.6 505.8h1.1v1.1h-1.1zM614 404.9h1.1v1.1h-1.1zM614.8 448.8h1.1v1.1h-1.1zM613.8 453.8h1.1v1.1h-1.1zM614.9 460.9h1.1v1.1h-1.1zM652.3 374.4h1.1v1.1h-1.1zM653.3 395h1.1v1.1h-1.1zM653.4 441.8h1.1v1.1h-1.1zM614 471.5h1.1v1.1h-1.1zM652.4 471.2h1.1v1.1h-1.1zM653.2 369.2h1.1v1.1h-1.1zM653 392.6h1.1v1.1h-1.1zM613.6 456.3h1.1v1.1h-1.1zM614.3 398.8h1.1v1.1h-1.1zM653 496.7h1.1v1.1h-1.1zM618.9 354h1.1v1.1h-1.1zM619.6 515h1.1v1.1h-1.1zM620.8 354h1.1v1.1h-1.1zM621.3 515.6h1.1v1.1h-1.1zM623.4 353.1h1.1v1.1h-1.1zM622.9 515.5h1.1v1.1h-1.1zM637.9 351.7h1.1v1.1h-1.1zM638.7 515.9h1.1v1.1h-1.1zM646.9 353.3h1.1v1.1h-1.1zM645.2 516.3h1.1v1.1h-1.1zM616.1 355.2h1.1v1.1h-1.1zM616.6 514.1h1.1v1.1h-1.1zM651.8 354.9h1.1v1.1h-1.1zM650.7 514h1.1v1.1h-1.1zM647.5 354h1.1v1.1h-1.1zM646.9 514.6h1.1v1.1h-1.1zM641.3 352.8h1.1v1.1h-1.1zM640.9 516.4h1.1v1.1h-1.1zM650.3 354.5h1.1v1.1h-1.1zM649.1 514.5h1.1v1.1h-1.1zM649.8 353.5h1.1v1.1h-1.1zM649.1 515.3h1.1v1.1h-1.1zM629.6 353h1.1v1.1h-1.1zM629.3 516.6h1.1v1.1h-1.1zM627.8 353.2h1.1v1.1h-1.1zM628.3 516.1h1.1v1.1h-1.1zM638 352.2h1.1v1.1h-1.1zM640.1 517.2h1.1v1.1h-1.1zM647.8 353.8h1.1v1.1h-1.1zM647 514.9h1.1v1.1h-1.1zM652.8 355.1h1.1v1.1h-1.1zM652.3 514h1.1v1.1h-1.1zM635.4 353.1h1.1v1.1h-1.1zM634.9 516h1.1v1.1h-1.1zM627.1 352.2h1.1v1.1h-1.1zM626.3 515.5h1.1v1.1h-1.1zM619.3 354.2h1.1v1.1h-1.1zM619 515.1h1.1v1.1h-1.1zM616 356.2h1.1v1.1h-1.1zM615.4 512.1h1.1v1.1h-1.1zM652.3 355.3h1.1v1.1h-1.1zM651.2 513.5h1.1v1.1h-1.1zM645.2 353.1h1.1v1.1h-1.1zM645.8 514.9h1.1v1.1h-1.1zM632.8 353h1.1v1.1h-1.1zM633.6 516h1.1v1.1h-1.1zM616.4 354.9h1.1v1.1h-1.1zM616.2 514.1h1.1v1.1h-1.1zM647 353.1h1.1v1.1h-1.1zM645.5 515.1h1.1v1.1h-1.1zM624.7 353.4h1.1v1.1h-1.1zM624.7 516.6h1.1v1.1h-1.1zM641.7 352.8h1.1v1.1h-1.1zM642.6 515.8h1.1v1.1h-1.1zM649.8 354.1h1.1v1.1h-1.1zM649.7 514h1.1v1.1h-1.1zM648 353.6h1.1v1.1h-1.1zM648.1 515.1h1.1v1.1h-1.1zM622 353.9h1.1v1.1h-1.1zM622.4 515h1.1v1.1h-1.1zM623.6 353.6h1.1v1.1h-1.1zM624.4 515.5h1.1v1.1h-1.1zM625.6 353h1.1v1.1h-1.1zM625.6 515.6h1.1v1.1h-1.1zM627.9 352.7h1.1v1.1h-1.1zM627.2 516.4h1.1v1.1h-1.1zM650.1 355.1h1.1v1.1h-1.1zM651.3 514h1.1v1.1h-1.1zM623.3 353.4h1.1v1.1h-1.1zM624.2 516.1h1.1v1.1h-1.1zM647.2 353.9h1.1v1.1h-1.1zM647.3 514.9h1.1v1.1h-1.1zM640.2 352.9h1.1v1.1h-1.1zM642.1 516.4h1.1v1.1h-1.1zM651.4 355.3h1.1v1.1h-1.1zM653 514.1h1.1v1.1h-1.1zM621.7 352.8h1.1v1.1h-1.1zM622.3 516.2h1.1v1.1h-1.1zM634 352.9h1.1v1.1h-1.1zM631.7 516.2h1.1v1.1h-1.1zM622.4 353.4h1.1v1.1h-1.1zM624 516.8h1.1v1.1h-1.1zM643.6 353.4h1.1v1.1h-1.1zM643.2 515.2h1.1v1.1h-1.1zM627.2 353.1h1.1v1.1h-1.1zM626.8 516h1.1v1.1h-1.1zM617 355h1.1v1.1h-1.1zM616.6 512.9h1.1v1.1h-1.1zM618.8 353.1h1.1v1.1h-1.1zM619.5 515.5h1.1v1.1h-1.1zM649.2 353.5h1.1v1.1h-1.1zM647.3 514.7h1.1v1.1h-1.1zM617.7 354.4h1.1v1.1h-1.1zM616.1 513.8h1.1v1.1h-1.1zM637.1 351.7h1.1v1.1h-1.1zM636.4 517h1.1v1.1h-1.1zM618 353.9h1.1v1.1h-1.1zM617.6 514.2h1.1v1.1h-1.1zM649 354.2h1.1v1.1h-1.1zM647.7 514.3h1.1v1.1h-1.1zM652.6 355.3h1.1v1.1h-1.1zM652.9 512.9h1.1v1.1h-1.1zM648.1 353.6h1.1v1.1h-1.1zM648.4 514.9h1.1v1.1h-1.1zM633.3 352h1.1v1.1h-1.1zM631.9 515.7h1.1v1.1h-1.1zM619.7 353.5h1.1v1.1h-1.1zM618.7 515.5h1.1v1.1h-1.1zM651.7 354.7h1.1v1.1h-1.1zM651.2 513.1h1.1v1.1h-1.1zM629.6 352.5h1.1v1.1h-1.1zM630.5 515.4h1.1v1.1h-1.1zM647.4 353.4h1.1v1.1h-1.1zM646.3 515.3h1.1v1.1h-1.1zM651.3 354.8h1.1v1.1h-1.1zM651.9 514.6h1.1v1.1h-1.1zM624.4 353h1.1v1.1h-1.1zM623.4 517h1.1v1.1h-1.1zM649.9 354.3h1.1v1.1h-1.1zM649.1 514h1.1v1.1h-1.1zM648.7 353.9h1.1v1.1h-1.1zM648.5 514.7h1.1v1.1h-1.1zM629.8 352.5h1.1v1.1h-1.1zM628.9 515.7h1.1v1.1h-1.1zM633.8 353h1.1v1.1h-1.1zM634.1 515.8h1.1v1.1h-1.1zM652.6 355.4h1.1v1.1h-1.1zM652.1 512.6h1.1v1.1h-1.1zM619.3 353.4h1.1v1.1h-1.1zM619.7 515.4h1.1v1.1h-1.1zM625.2 352.9h1.1v1.1h-1.1zM626.4 515.7h1.1v1.1h-1.1zM623.9 353.1h1.1v1.1h-1.1zM623.5 515.3h1.1v1.1h-1.1zM617.9 354.7h1.1v1.1h-1.1zM617.7 514.1h1.1v1.1h-1.1zM647.6 353.7h1.1v1.1h-1.1zM647 515.3h1.1v1.1h-1.1zM635.5 352.3h1.1v1.1h-1.1zM636.2 515.9h1.1v1.1h-1.1zM648.7 354.3h1.1v1.1h-1.1zM648.9 515.2h1.1v1.1h-1.1zM620.1 354.3h1.1v1.1h-1.1zM620.6 514.6h1.1v1.1h-1.1zM639.6 352.9h1.1v1.1h-1.1zM639 515.7h1.1v1.1h-1.1zM615 356h1.1v1.1h-1.1zM614.7 513.2h1.1v1.1h-1.1zM617.6 354.8h1.1v1.1h-1.1zM616.9 514.8h1.1v1.1h-1.1zM638.9 352.6h1.1v1.1h-1.1zM638.6 515.7h1.1v1.1h-1.1zM646.2 353.7h1.1v1.1h-1.1zM647.9 514.9h1.1v1.1h-1.1zM616.8 355.3h1.1v1.1h-1.1zM616.1 514.2h1.1v1.1h-1.1zM617.3 354.9h1.1v1.1h-1.1zM617.3 515h1.1v1.1h-1.1zM622 353.1h1.1v1.1h-1.1zM621.3 515.8h1.1v1.1h-1.1zM652.1 356.2h1.1v1.1h-1.1zM652.1 512.7h1.1v1.1h-1.1zM650.9 354.8h1.1v1.1h-1.1zM651.2 514.1h1.1v1.1h-1.1zM631.4 352.8h1.1v1.1h-1.1zM631.3 515.8h1.1v1.1h-1.1zM616.7 355.7h1.1v1.1h-1.1zM615.5 513.1h1.1v1.1h-1.1zM639.4 353.3h1.1v1.1h-1.1zM640.6 516.1h1.1v1.1h-1.1zM645.5 353.6h1.1v1.1h-1.1zM644.5 515.1h1.1v1.1h-1.1zM615.1 355.5h1.1v1.1h-1.1zM615.8 513.1h1.1v1.1h-1.1zM620.6 353.9h1.1v1.1h-1.1zM621.3 514.7h1.1v1.1h-1.1zM617 354.6h1.1v1.1h-1.1zM616.9 514.1h1.1v1.1h-1.1zM649.9 354.9h1.1v1.1h-1.1zM651.7 514.4h1.1v1.1h-1.1zM647.1 354h1.1v1.1h-1.1zM648.3 514.6h1.1v1.1h-1.1zM615.8 354.9h1.1v1.1h-1.1zM616 513.2h1.1v1.1h-1.1zM616.3 355.4h1.1v1.1h-1.1zM615.9 513h1.1v1.1h-1.1zM641.6 352.8h1.1v1.1h-1.1zM641.4 515.3h1.1v1.1h-1.1zM648.5 354.2h1.1v1.1h-1.1zM648.5 515.3h1.1v1.1h-1.1zM651.2 354.6h1.1v1.1h-1.1zM650.9 514.1h1.1v1.1h-1.1zM618.7 354.6h1.1v1.1h-1.1zM618.9 515h1.1v1.1h-1.1zM638.3 352.5h1.1v1.1h-1.1zM639.5 515.6h1.1v1.1h-1.1zM622.6 353.2h1.1v1.1h-1.1zM623.3 515.9h1.1v1.1h-1.1zM649 354.5h1.1v1.1h-1.1zM649.1 514.3h1.1v1.1h-1.1zM645.9 353.7h1.1v1.1h-1.1zM646.3 515.7h1.1v1.1h-1.1zM648.5 353.8h1.1v1.1h-1.1zM647 514.4h1.1v1.1h-1.1zM640.1 352.7h1.1v1.1h-1.1zM640.9 517.8h1.1v1.1h-1.1zM617.9 355.3h1.1v1.1h-1.1zM616.4 514.8h1.1v1.1h-1.1zM628.2 351.3h1.1v1.1h-1.1zM626.9 516.6h1.1v1.1h-1.1zM631.7 352.6h1.1v1.1h-1.1zM630.8 516.1h1.1v1.1h-1.1zM627.6 352.7h1.1v1.1h-1.1zM627.3 515.7h1.1v1.1h-1.1zM625.5 353.1h1.1v1.1h-1.1zM624.5 516.2h1.1v1.1h-1.1z" fill="#4a36bc" fill-opacity="0.8"/>
<path d="M696.5 347h1v1h-1zM700 381.5h1v1h-1zM701.5 389h1v1h-1zM699 409h1v1h-1zM705 388h1v1h-1z" fill="#7a78d8" fill-opacity="0.6"/>
<path d="M510.5 324.7L510.5 481.4" stroke="#7a7a7a" stroke-width="1"/>
<path d="M510.9 481.4L571.7 537.4L795.4 522.2" stroke="#6a6a6a" stroke-width="0.9" fill="none"/>
<path d="M571.7 537.4L575.7 541.1" stroke="#6a6a6a" stroke-width="0.9"/>
<path d="M571.7 537.4L565.2 537.8" stroke="#6a6a6a" stroke-width="0.9"/>
<path d="M683.5 529.8L687.6 533.5" stroke="#6a6a6a" stroke-width="0.9"/>
<path d="M541.3 509.4L534.8 509.8" stroke="#6a6a6a" stroke-width="0.9"/>
<path d="M795.4 522.2L799.4 525.9" stroke="#6a6a6a" stroke-width="0.9"/>
<path d="M510.9 324.7L506.3 321.9" stroke="#6a6a6a" stroke-width="0.9"/>
<path d="M510.9 403.5L506.3 400.7" stroke="#6a6a6a" stroke-width="0.9"/>
<path d="M510.9 481.4L506.3 478.6" stroke="#6a6a6a" stroke-width="0.9"/>
<text class="t" x="455.1" y="329.9" font-size="27.5" textLength="46.2" lengthAdjust="spacingAndGlyphs">500</text>
<text class="t" x="455.1" y="404.4" font-size="27.5" textLength="46.2" lengthAdjust="spacingAndGlyphs">250</text>
<text class="t" x="485.7" y="475.8" font-size="27.5" textLength="15.6" lengthAdjust="spacingAndGlyphs">0</text>
<text class="t" x="470.4" y="496.2" font-size="27.5" textLength="28.5" lengthAdjust="spacingAndGlyphs">10</text>
<text class="t" x="509.5" y="521" font-size="27.5" textLength="15.6" lengthAdjust="spacingAndGlyphs">0</text>
<text class="t" x="505.4" y="547.5" font-size="27.5" textLength="52.7" lengthAdjust="spacingAndGlyphs">−10</text>
<text class="t" x="554.7" y="564.5" font-size="27.5" textLength="52" lengthAdjust="spacingAndGlyphs">−10</text>
<text class="t" x="682.2" y="555.7" font-size="27.5" textLength="15.6" lengthAdjust="spacingAndGlyphs">0</text>
<text class="t" x="791" y="548.2" font-size="27.5" textLength="28.9" lengthAdjust="spacingAndGlyphs">10</text>
<text class="i" x="681.9" y="591.7" font-size="33" textLength="22.1" lengthAdjust="spacingAndGlyphs">X</text>
<text class="i" x="472.3" y="536.3" font-size="33" textLength="21.9" lengthAdjust="spacingAndGlyphs">Y</text>
<text class="i" transform="translate(441.8 401.8) rotate(-90)" font-size="33" textLength="19.3" lengthAdjust="spacingAndGlyphs">S</text>
<text class="t" x="525.5" y="356.5" font-size="28.5" textLength="34.6" lengthAdjust="spacingAndGlyphs">(f)</text>
<path d="M935.5 481.8L1161.3 467.9L1161.3 312.3L935.5 325.3" stroke="#e5e5e5" stroke-width="1" fill="none"/>
<path d="M1048.4 474.9L1048.4 318.8" stroke="#e5e5e5" stroke-width="1"/>
<path d="M1161.3 467.9L1222.6 522.6L1222.6 367L1161.3 312.3" stroke="#e5e5e5" stroke-width="1" fill="none"/>
<path d="M1192 495.3L1192 339.7" stroke="#e5e5e5" stroke-width="1"/>
<path d="M1110.1 530.2L1048.4 474.9" stroke="#e5e5e5" stroke-width="1"/>
<path d="M966.6 509.8L1192 495.3" stroke="#e5e5e5" stroke-width="1"/>
<path d="M935.5 404.1L1161.3 390.6L1222.6 445.3" stroke="#e5e5e5" stroke-width="1" fill="none"/>
<linearGradient id="g9" x1="0" x2="1" y1="0" y2="0"><stop offset="0" stop-color="#4a36bc"/><stop offset=".16" stop-color="#3a30d0"/><stop offset=".5" stop-color="#3838d8"/><stop offset=".84" stop-color="#3a30d0"/><stop offset="1" stop-color="#4a36bc"/></linearGradient>
<path d="M1080.3 337L1080.3 492.4A17 3.2 0 0 0 1114.2 492.4L1114.2 337A17 3.2 0 0 0 1080.3 337Z" fill="url(#g9)"/>
<clipPath id="c10"><path d="M1080.3 337L1080.3 492.4A17 3.2 0 0 0 1114.2 492.4L1114.2 337A17 3.2 0 0 0 1080.3 337Z"/></clipPath>
<path d="M1082.5 333.8V495.6M1085.9 333.8V495.6M1089.3 333.8V495.6M1092.7 333.8V495.6M1096.1 333.8V495.6M1099.5 333.8V495.6M1102.9 333.8V495.6M1106.3 333.8V495.6M1109.7 333.8V495.6" stroke="#3c66ee" stroke-width="1.2" stroke-opacity=".5" clip-path="url(#c10)"/>
<radialGradient id="r11"><stop offset="0" stop-color="#e0a030"/><stop offset=".3" stop-color="#40c8a0"/><stop offset=".62" stop-color="#3a70f0" stop-opacity=".9"/><stop offset="1" stop-color="#3a30d0" stop-opacity="0"/></radialGradient>
<ellipse cx="1097.2" cy="335.6" rx="15.3" ry="3.7" fill="url(#r11)"/>
<path d="M1113.5 461.9h1v1h-1zM1080.5 398.6h1v1h-1zM1080.2 428.8h1v1h-1zM1112.5 491.7h1v1h-1zM1080.3 485.9h1v1h-1zM1080.5 367.8h1v1h-1zM1080.4 443h1v1h-1zM1079.8 471.3h1v1h-1zM1080.7 388.1h1v1h-1zM1113 356.8h1v1h-1zM1080.6 423.1h1v1h-1zM1113.4 446.5h1v1h-1zM1113 380.5h1v1h-1zM1080.1 419.5h1v1h-1zM1080.2 342.2h1v1h-1zM1112.8 476.9h1v1h-1zM1113.1 339.3h1v1h-1zM1112.8 397.4h1v1h-1zM1080.6 414.3h1v1h-1zM1080.7 390.2h1v1h-1zM1080.5 386.2h1v1h-1zM1079.9 410.2h1v1h-1zM1080.6 380.7h1v1h-1zM1080.7 460.8h1v1h-1zM1080 338.7h1v1h-1zM1080.3 460.1h1v1h-1zM1080.9 460.8h1v1h-1zM1080.1 476.9h1v1h-1zM1080.3 379.8h1v1h-1zM1080.4 492.4h1v1h-1zM1112.8 436.3h1v1h-1zM1112.7 487.5h1v1h-1zM1080.8 424.5h1v1h-1zM1113.4 413.6h1v1h-1zM1079.8 361.2h1v1h-1zM1080.8 433.9h1v1h-1zM1080.5 470.1h1v1h-1zM1080.9 357.8h1v1h-1zM1080.8 351.9h1v1h-1zM1080.8 411.9h1v1h-1zM1080.6 349.1h1v1h-1zM1080.8 365.2h1v1h-1zM1080.8 434.8h1v1h-1zM1080.8 400h1v1h-1zM1112.6 490.9h1v1h-1zM1080.3 492.4h1v1h-1zM1112.8 437.7h1v1h-1zM1080.6 462.8h1v1h-1zM1080.1 398.9h1v1h-1zM1113.7 457h1v1h-1zM1080.2 460.9h1v1h-1zM1113.5 486.2h1v1h-1zM1080.6 407.8h1v1h-1zM1080.4 385h1v1h-1zM1081 479.3h1v1h-1zM1080.1 380.2h1v1h-1zM1112.7 348.6h1v1h-1zM1113.4 454.9h1v1h-1zM1080.8 409h1v1h-1zM1112.8 444.8h1v1h-1zM1112.6 478.9h1v1h-1zM1079.9 465.8h1v1h-1zM1080 454.9h1v1h-1zM1080.6 462h1v1h-1zM1079.9 463.8h1v1h-1zM1112.9 413.7h1v1h-1zM1112.6 436.5h1v1h-1zM1081 395.4h1v1h-1zM1080.9 478.8h1v1h-1zM1080.5 410.3h1v1h-1zM1113.2 485.5h1v1h-1zM1112.5 460.5h1v1h-1zM1113 361.4h1v1h-1zM1080 456.7h1v1h-1zM1113 415.6h1v1h-1zM1113.1 361.5h1v1h-1zM1079.9 398.3h1v1h-1zM1113 408.2h1v1h-1zM1113.5 395.5h1v1h-1zM1079.9 433.6h1v1h-1zM1080.3 348.3h1v1h-1zM1113.1 480.2h1v1h-1zM1080.2 405.6h1v1h-1zM1113 391.8h1v1h-1zM1079.9 375h1v1h-1zM1080.1 425.5h1v1h-1zM1080.6 393.5h1v1h-1zM1113.5 490.4h1v1h-1zM1079.8 419h1v1h-1zM1080.7 459.4h1v1h-1zM1112.6 444.3h1v1h-1zM1112.6 383h1v1h-1zM1080.1 472.7h1v1h-1zM1081 450.6h1v1h-1zM1113.6 460.1h1v1h-1zM1112.6 463.7h1v1h-1zM1112.8 457.7h1v1h-1zM1113.7 435.7h1v1h-1zM1112.6 472.1h1v1h-1zM1080.7 367.5h1v1h-1zM1080 372.1h1v1h-1zM1079.8 428.2h1v1h-1zM1112.8 360.4h1v1h-1zM1080.5 437.2h1v1h-1zM1080.6 422.1h1v1h-1zM1080.5 448.1h1v1h-1zM1113.6 364.7h1v1h-1zM1112.8 414.4h1v1h-1zM1112.9 485.8h1v1h-1zM1112.6 359h1v1h-1zM1080.4 481.9h1v1h-1zM1080.7 425.2h1v1h-1zM1080 422.4h1v1h-1zM1080.8 368.8h1v1h-1zM1112.9 370.8h1v1h-1zM1079.8 387.1h1v1h-1zM1080.4 356.8h1v1h-1zM1112.9 359.9h1v1h-1zM1113.5 468.8h1v1h-1zM1112.9 485.4h1v1h-1zM1080.1 446.3h1v1h-1zM1112.6 462h1v1h-1zM1080.3 345.5h1v1h-1zM1112.6 424.9h1v1h-1zM1080.5 400.9h1v1h-1zM1080.8 443.2h1v1h-1zM1113.7 421.5h1v1h-1zM1113.4 353.1h1v1h-1zM1113.2 394h1v1h-1zM1080.9 490.7h1v1h-1zM1113.4 415.9h1v1h-1zM1080.8 465.8h1v1h-1zM1080.2 438.3h1v1h-1zM1113.2 442.6h1v1h-1zM1080.8 470h1v1h-1zM1081 397.5h1v1h-1zM1113.5 474.4h1v1h-1zM1113 423.9h1v1h-1zM1080.8 412.3h1v1h-1zM1113.5 382.2h1v1h-1zM1079.8 423.4h1v1h-1zM1112.7 460.1h1v1h-1zM1113.4 478.4h1v1h-1zM1112.9 406.9h1v1h-1zM1080.5 442.7h1v1h-1zM1080.3 387h1v1h-1zM1113.4 400.4h1v1h-1zM1080.7 418.6h1v1h-1zM1113.6 467.1h1v1h-1zM1080.4 342h1v1h-1zM1113 366.3h1v1h-1zM1080.8 437.9h1v1h-1zM1080.8 407.6h1v1h-1zM1112.8 413.3h1v1h-1zM1080.2 481.3h1v1h-1zM1112.6 348.2h1v1h-1zM1112.9 468.3h1v1h-1zM1080 355h1v1h-1zM1113.5 348.1h1v1h-1zM1080.2 446.3h1v1h-1zM1113.5 401.3h1v1h-1zM1112.9 339h1v1h-1zM1112.7 428.8h1v1h-1zM1112.5 463.8h1v1h-1zM1081 398.4h1v1h-1zM1080.4 427.8h1v1h-1zM1113.1 474.4h1v1h-1zM1113.2 424.2h1v1h-1zM1080.2 375.2h1v1h-1zM1080.8 353.2h1v1h-1zM1079.9 451.6h1v1h-1zM1080.3 383.5h1v1h-1zM1080.9 398.3h1v1h-1zM1113.3 355.2h1v1h-1zM1112.6 417.8h1v1h-1zM1112.5 444.8h1v1h-1zM1113.4 379h1v1h-1zM1080.3 372h1v1h-1zM1113 481.1h1v1h-1zM1113.3 434.2h1v1h-1zM1113.2 476.4h1v1h-1zM1080.3 444.4h1v1h-1zM1080.3 476.3h1v1h-1zM1113.6 452.4h1v1h-1zM1113.1 456.8h1v1h-1zM1080.1 347h1v1h-1zM1113.1 372.9h1v1h-1zM1113.3 360.6h1v1h-1zM1113 476.8h1v1h-1zM1080.1 340.2h1v1h-1zM1112.6 360.6h1v1h-1zM1113.3 403.4h1v1h-1zM1113.4 484.6h1v1h-1zM1113.3 472.5h1v1h-1zM1080.5 480.8h1v1h-1zM1080 383.7h1v1h-1zM1081 425.8h1v1h-1zM1079.9 472.1h1v1h-1zM1080.3 373.1h1v1h-1zM1113.1 389.1h1v1h-1z" fill="#fff" fill-opacity="0.55"/>
<path d="M1115.2 407.6h1.1v1.1h-1.1zM1079.3 411.3h1.1v1.1h-1.1zM1114.3 350.9h1.1v1.1h-1.1zM1079 477h1.1v1.1h-1.1zM1078.7 407.7h1.1v1.1h-1.1zM1078.7 346h1.1v1.1h-1.1zM1078.6 366.1h1.1v1.1h-1.1zM1079 367h1.1v1.1h-1.1zM1114 437.4h1.1v1.1h-1.1zM1113.7 439.7h1.1v1.1h-1.1zM1113.9 469h1.1v1.1h-1.1zM1079.3 381.8h1.1v1.1h-1.1zM1078.5 425.2h1.1v1.1h-1.1zM1078.9 470.2h1.1v1.1h-1.1zM1077.5 369.8h1.1v1.1h-1.1zM1079.4 398.9h1.1v1.1h-1.1zM1114.3 442.9h1.1v1.1h-1.1zM1079.4 488.6h1.1v1.1h-1.1zM1078.9 357.3h1.1v1.1h-1.1zM1079.7 365.9h1.1v1.1h-1.1zM1079.1 492h1.1v1.1h-1.1zM1079.4 398.5h1.1v1.1h-1.1zM1113.9 490.4h1.1v1.1h-1.1zM1079.8 365.7h1.1v1.1h-1.1zM1079.7 342.7h1.1v1.1h-1.1zM1079.2 382.9h1.1v1.1h-1.1zM1079.3 347.8h1.1v1.1h-1.1zM1114 431.2h1.1v1.1h-1.1zM1079.4 429h1.1v1.1h-1.1zM1079.4 360.4h1.1v1.1h-1.1zM1079.7 465.5h1.1v1.1h-1.1zM1114.2 444.8h1.1v1.1h-1.1zM1079.5 475.7h1.1v1.1h-1.1zM1113.9 342.2h1.1v1.1h-1.1zM1113.8 376.7h1.1v1.1h-1.1zM1079.3 450.1h1.1v1.1h-1.1zM1115.2 356h1.1v1.1h-1.1zM1079.2 481.3h1.1v1.1h-1.1zM1079.7 454.6h1.1v1.1h-1.1zM1078.9 345.6h1.1v1.1h-1.1zM1078.7 490.1h1.1v1.1h-1.1zM1078.5 491.2h1.1v1.1h-1.1zM1079 429.4h1.1v1.1h-1.1zM1079.7 430.8h1.1v1.1h-1.1zM1115 412.4h1.1v1.1h-1.1zM1116.6 347.9h1.1v1.1h-1.1zM1079.3 452.7h1.1v1.1h-1.1zM1115.5 391.7h1.1v1.1h-1.1zM1113.9 478.6h1.1v1.1h-1.1zM1113.8 440.9h1.1v1.1h-1.1zM1078.8 428.3h1.1v1.1h-1.1zM1114.3 493.3h1.1v1.1h-1.1zM1115.2 452.4h1.1v1.1h-1.1zM1079.2 349.3h1.1v1.1h-1.1zM1079.2 385.1h1.1v1.1h-1.1zM1113.8 433.3h1.1v1.1h-1.1zM1079.5 376.5h1.1v1.1h-1.1zM1079.5 432.9h1.1v1.1h-1.1zM1114.3 483.3h1.1v1.1h-1.1zM1079.3 441.4h1.1v1.1h-1.1zM1079.2 436.4h1.1v1.1h-1.1zM1114.3 357.6h1.1v1.1h-1.1zM1079.3 391.6h1.1v1.1h-1.1zM1077.8 379.9h1.1v1.1h-1.1zM1114.4 482.6h1.1v1.1h-1.1zM1114.4 442.4h1.1v1.1h-1.1zM1079.6 386.7h1.1v1.1h-1.1zM1078.7 392.1h1.1v1.1h-1.1zM1113.9 437.5h1.1v1.1h-1.1zM1079.7 467.4h1.1v1.1h-1.1zM1078.7 491.8h1.1v1.1h-1.1zM1114.1 439.7h1.1v1.1h-1.1zM1079.5 487.8h1.1v1.1h-1.1zM1078.9 410.8h1.1v1.1h-1.1zM1113.9 364.4h1.1v1.1h-1.1zM1078.8 485.9h1.1v1.1h-1.1zM1078.3 479.5h1.1v1.1h-1.1zM1114.6 397.4h1.1v1.1h-1.1zM1079 407.8h1.1v1.1h-1.1zM1114.4 485.5h1.1v1.1h-1.1zM1078.5 387.7h1.1v1.1h-1.1zM1078.8 462.4h1.1v1.1h-1.1zM1115.1 491.2h1.1v1.1h-1.1zM1079.5 386.8h1.1v1.1h-1.1zM1079.1 391.2h1.1v1.1h-1.1zM1079.6 481.6h1.1v1.1h-1.1zM1079.6 464.1h1.1v1.1h-1.1zM1079.7 420.4h1.1v1.1h-1.1zM1114.6 478.6h1.1v1.1h-1.1zM1079.5 486.3h1.1v1.1h-1.1zM1114.4 456h1.1v1.1h-1.1zM1113.8 418.8h1.1v1.1h-1.1zM1115.3 385.4h1.1v1.1h-1.1zM1114.2 432.5h1.1v1.1h-1.1zM1114 419h1.1v1.1h-1.1zM1114.7 415.7h1.1v1.1h-1.1zM1079 340.4h1.1v1.1h-1.1zM1079.7 413.8h1.1v1.1h-1.1zM1115.5 346.5h1.1v1.1h-1.1zM1114.8 482.2h1.1v1.1h-1.1zM1114.1 389.8h1.1v1.1h-1.1zM1079.7 402.4h1.1v1.1h-1.1zM1079.1 482.5h1.1v1.1h-1.1zM1115.9 337.9h1.1v1.1h-1.1zM1113.7 387h1.1v1.1h-1.1zM1078.8 415.1h1.1v1.1h-1.1zM1114.9 449.6h1.1v1.1h-1.1zM1079.6 466.7h1.1v1.1h-1.1zM1078.2 421.2h1.1v1.1h-1.1zM1114 372.9h1.1v1.1h-1.1zM1115.1 478.9h1.1v1.1h-1.1zM1078.8 366.9h1.1v1.1h-1.1zM1079.8 373.9h1.1v1.1h-1.1zM1114.1 467.8h1.1v1.1h-1.1zM1079.4 422h1.1v1.1h-1.1zM1114.8 426.2h1.1v1.1h-1.1zM1114.4 480.3h1.1v1.1h-1.1zM1079.2 456h1.1v1.1h-1.1zM1114 339.9h1.1v1.1h-1.1zM1079.4 368.3h1.1v1.1h-1.1zM1079.4 492.8h1.1v1.1h-1.1zM1113.9 351.3h1.1v1.1h-1.1zM1114.7 410h1.1v1.1h-1.1zM1079.3 338.1h1.1v1.1h-1.1zM1114.2 407.9h1.1v1.1h-1.1zM1079.5 362.2h1.1v1.1h-1.1zM1079.4 387.3h1.1v1.1h-1.1zM1078.6 400.1h1.1v1.1h-1.1zM1113.9 415.9h1.1v1.1h-1.1zM1079.2 480.3h1.1v1.1h-1.1zM1113.9 478h1.1v1.1h-1.1zM1078.4 400.3h1.1v1.1h-1.1zM1113.8 347.2h1.1v1.1h-1.1zM1079.4 478.9h1.1v1.1h-1.1zM1114.3 372.8h1.1v1.1h-1.1zM1078.8 426.2h1.1v1.1h-1.1zM1079.6 437.7h1.1v1.1h-1.1zM1077.5 339.6h1.1v1.1h-1.1zM1114.6 453h1.1v1.1h-1.1zM1114 337.7h1.1v1.1h-1.1zM1114.6 375.7h1.1v1.1h-1.1zM1079.5 489.1h1.1v1.1h-1.1zM1078.3 348.1h1.1v1.1h-1.1zM1078.5 397.1h1.1v1.1h-1.1zM1078.9 471.5h1.1v1.1h-1.1zM1114.1 385.5h1.1v1.1h-1.1zM1114.3 412.5h1.1v1.1h-1.1zM1114 449.5h1.1v1.1h-1.1zM1078.7 428.8h1.1v1.1h-1.1zM1114.4 344.4h1.1v1.1h-1.1zM1078.6 454.5h1.1v1.1h-1.1zM1114.3 371.4h1.1v1.1h-1.1zM1079.4 375.8h1.1v1.1h-1.1zM1113.8 464.3h1.1v1.1h-1.1zM1079 374.8h1.1v1.1h-1.1zM1079.5 354.7h1.1v1.1h-1.1zM1079.2 392.5h1.1v1.1h-1.1zM1114.3 377.5h1.1v1.1h-1.1zM1078.5 393.7h1.1v1.1h-1.1zM1079.4 373.8h1.1v1.1h-1.1zM1113.9 416.3h1.1v1.1h-1.1zM1078.7 450.8h1.1v1.1h-1.1zM1079.6 436.3h1.1v1.1h-1.1zM1079.2 475.1h1.1v1.1h-1.1zM1079.7 435.5h1.1v1.1h-1.1zM1078.9 434.7h1.1v1.1h-1.1zM1078.7 455.7h1.1v1.1h-1.1zM1114.1 395.1h1.1v1.1h-1.1zM1114.5 392.1h1.1v1.1h-1.1zM1078.7 355h1.1v1.1h-1.1zM1114.1 406.4h1.1v1.1h-1.1zM1114 360.3h1.1v1.1h-1.1zM1079.1 466.8h1.1v1.1h-1.1zM1114 351.4h1.1v1.1h-1.1zM1078.8 348.5h1.1v1.1h-1.1zM1079.4 466.4h1.1v1.1h-1.1zM1078.8 348.1h1.1v1.1h-1.1zM1114.3 446.1h1.1v1.1h-1.1zM1079.6 380.8h1.1v1.1h-1.1zM1078.6 387.8h1.1v1.1h-1.1zM1115.4 387.1h1.1v1.1h-1.1zM1114.5 405.4h1.1v1.1h-1.1zM1078.2 408.6h1.1v1.1h-1.1zM1078.7 477.7h1.1v1.1h-1.1zM1115 339.9h1.1v1.1h-1.1zM1114.4 453h1.1v1.1h-1.1zM1079.3 462.2h1.1v1.1h-1.1zM1114.6 475.5h1.1v1.1h-1.1zM1078.8 464.5h1.1v1.1h-1.1zM1079.7 425.9h1.1v1.1h-1.1zM1113.8 346.2h1.1v1.1h-1.1zM1079.5 349h1.1v1.1h-1.1zM1078.6 478.4h1.1v1.1h-1.1zM1079.6 402.8h1.1v1.1h-1.1zM1113.8 413.4h1.1v1.1h-1.1zM1114.5 389.5h1.1v1.1h-1.1zM1079.3 421.1h1.1v1.1h-1.1zM1115.5 401h1.1v1.1h-1.1zM1114.6 471.1h1.1v1.1h-1.1zM1078.3 419h1.1v1.1h-1.1zM1115.3 463h1.1v1.1h-1.1zM1079 374.9h1.1v1.1h-1.1zM1079 362.6h1.1v1.1h-1.1zM1079.2 379.4h1.1v1.1h-1.1zM1079.6 410.7h1.1v1.1h-1.1zM1079.3 455.3h1.1v1.1h-1.1zM1079.6 428.5h1.1v1.1h-1.1zM1079.3 392.9h1.1v1.1h-1.1zM1114 416.5h1.1v1.1h-1.1zM1114.3 363.3h1.1v1.1h-1.1zM1114.3 435.2h1.1v1.1h-1.1zM1079 440.6h1.1v1.1h-1.1zM1079.3 412.4h1.1v1.1h-1.1zM1114 357.3h1.1v1.1h-1.1zM1079.5 458.6h1.1v1.1h-1.1zM1114.2 337.8h1.1v1.1h-1.1zM1114.1 479.3h1.1v1.1h-1.1zM1114.9 360.9h1.1v1.1h-1.1zM1078.1 358.9h1.1v1.1h-1.1zM1077.8 378.2h1.1v1.1h-1.1zM1079.7 336.2h1.1v1.1h-1.1zM1079.5 378.8h1.1v1.1h-1.1zM1114.9 476.9h1.1v1.1h-1.1zM1079.1 339h1.1v1.1h-1.1zM1079.6 402h1.1v1.1h-1.1zM1114.6 341.9h1.1v1.1h-1.1zM1114 467.7h1.1v1.1h-1.1zM1114.5 424.1h1.1v1.1h-1.1zM1079 441.6h1.1v1.1h-1.1zM1078.8 409.1h1.1v1.1h-1.1zM1078.9 439.6h1.1v1.1h-1.1zM1114.7 411.3h1.1v1.1h-1.1zM1079.4 337.7h1.1v1.1h-1.1zM1114 435.4h1.1v1.1h-1.1zM1114 487.1h1.1v1.1h-1.1zM1113.8 353.4h1.1v1.1h-1.1zM1113.8 485.6h1.1v1.1h-1.1zM1079.1 466.9h1.1v1.1h-1.1zM1079.4 356.8h1.1v1.1h-1.1zM1079 468.5h1.1v1.1h-1.1zM1079.6 351.9h1.1v1.1h-1.1zM1114.1 481.8h1.1v1.1h-1.1zM1079 482.8h1.1v1.1h-1.1zM1114.8 466h1.1v1.1h-1.1zM1114.2 434.7h1.1v1.1h-1.1zM1079.3 460.9h1.1v1.1h-1.1zM1079.8 440.5h1.1v1.1h-1.1zM1079.3 424.2h1.1v1.1h-1.1zM1114.2 416.7h1.1v1.1h-1.1zM1114.7 361.1h1.1v1.1h-1.1zM1079.3 415.2h1.1v1.1h-1.1zM1079.6 483.8h1.1v1.1h-1.1zM1079.4 425.8h1.1v1.1h-1.1zM1114.1 427.3h1.1v1.1h-1.1zM1113.9 388.1h1.1v1.1h-1.1zM1078.1 407.6h1.1v1.1h-1.1zM1079.2 422.5h1.1v1.1h-1.1zM1113.9 480h1.1v1.1h-1.1zM1079.7 431.3h1.1v1.1h-1.1zM1113.7 456.1h1.1v1.1h-1.1zM1078.6 467.5h1.1v1.1h-1.1zM1114.6 408h1.1v1.1h-1.1zM1079.4 484.7h1.1v1.1h-1.1zM1114.9 452.8h1.1v1.1h-1.1zM1079.3 433.4h1.1v1.1h-1.1zM1114.4 354.8h1.1v1.1h-1.1zM1079.7 363.5h1.1v1.1h-1.1zM1078.7 388.6h1.1v1.1h-1.1zM1114.5 399.9h1.1v1.1h-1.1zM1114.2 401.2h1.1v1.1h-1.1zM1114.4 455h1.1v1.1h-1.1zM1079.2 466.6h1.1v1.1h-1.1zM1114.6 425.6h1.1v1.1h-1.1zM1113.8 479.2h1.1v1.1h-1.1zM1113.8 433.6h1.1v1.1h-1.1zM1114.8 455.1h1.1v1.1h-1.1zM1079.7 475.7h1.1v1.1h-1.1zM1115.3 490h1.1v1.1h-1.1zM1078.6 446h1.1v1.1h-1.1zM1079.5 484.9h1.1v1.1h-1.1zM1114.3 474h1.1v1.1h-1.1zM1079.2 463.5h1.1v1.1h-1.1zM1115.3 438.8h1.1v1.1h-1.1zM1114.4 355.6h1.1v1.1h-1.1zM1079.8 336.1h1.1v1.1h-1.1zM1113.9 363.3h1.1v1.1h-1.1zM1113.9 398.9h1.1v1.1h-1.1zM1114.3 384.5h1.1v1.1h-1.1zM1113.9 478.3h1.1v1.1h-1.1zM1079.4 475.1h1.1v1.1h-1.1zM1079.3 382.8h1.1v1.1h-1.1zM1115.2 392.1h1.1v1.1h-1.1zM1079.2 446.5h1.1v1.1h-1.1zM1079.7 486.3h1.1v1.1h-1.1zM1113.8 438.9h1.1v1.1h-1.1zM1079.1 448.9h1.1v1.1h-1.1zM1114.1 389.1h1.1v1.1h-1.1zM1079.5 472.4h1.1v1.1h-1.1zM1079.1 364.7h1.1v1.1h-1.1zM1079.8 379.3h1.1v1.1h-1.1zM1078.1 429.4h1.1v1.1h-1.1zM1079.5 357h1.1v1.1h-1.1zM1078.9 409.3h1.1v1.1h-1.1zM1079.4 420.1h1.1v1.1h-1.1zM1113.8 421.1h1.1v1.1h-1.1zM1079.5 381.2h1.1v1.1h-1.1zM1113.7 375h1.1v1.1h-1.1zM1113.9 478.2h1.1v1.1h-1.1zM1115.4 481.1h1.1v1.1h-1.1zM1079.8 345.6h1.1v1.1h-1.1zM1113.9 393h1.1v1.1h-1.1zM1078.8 416.1h1.1v1.1h-1.1zM1079.1 430h1.1v1.1h-1.1zM1079.2 376.6h1.1v1.1h-1.1zM1079.1 377.1h1.1v1.1h-1.1zM1078.9 377.4h1.1v1.1h-1.1zM1079.3 426.7h1.1v1.1h-1.1zM1114.7 432.4h1.1v1.1h-1.1zM1113.8 415.8h1.1v1.1h-1.1zM1079.6 437.3h1.1v1.1h-1.1zM1079.7 434.7h1.1v1.1h-1.1zM1113.9 385.8h1.1v1.1h-1.1zM1079.3 438.9h1.1v1.1h-1.1zM1114.1 414.7h1.1v1.1h-1.1zM1115 345.7h1.1v1.1h-1.1zM1079.5 356.4h1.1v1.1h-1.1zM1116.1 358.9h1.1v1.1h-1.1zM1114 336.6h1.1v1.1h-1.1zM1115.6 398.2h1.1v1.1h-1.1zM1079.5 489.8h1.1v1.1h-1.1zM1079.2 382.8h1.1v1.1h-1.1zM1113.9 393.7h1.1v1.1h-1.1zM1079 485.8h1.1v1.1h-1.1zM1079.6 438.9h1.1v1.1h-1.1zM1079 480.4h1.1v1.1h-1.1zM1113.9 469.5h1.1v1.1h-1.1zM1079.6 396h1.1v1.1h-1.1zM1079.1 362h1.1v1.1h-1.1zM1113.8 399.4h1.1v1.1h-1.1zM1078.9 413.6h1.1v1.1h-1.1zM1079.2 396.7h1.1v1.1h-1.1zM1079.6 486.2h1.1v1.1h-1.1zM1114.8 418.2h1.1v1.1h-1.1zM1079.7 352.4h1.1v1.1h-1.1zM1114.1 360.3h1.1v1.1h-1.1zM1079.3 468.9h1.1v1.1h-1.1zM1079.3 396.9h1.1v1.1h-1.1zM1079.2 376.6h1.1v1.1h-1.1zM1079.3 383.9h1.1v1.1h-1.1zM1113.7 369h1.1v1.1h-1.1zM1078.8 403.2h1.1v1.1h-1.1zM1113.8 385.7h1.1v1.1h-1.1zM1114.6 368.5h1.1v1.1h-1.1zM1113.9 357.7h1.1v1.1h-1.1zM1114.5 371.8h1.1v1.1h-1.1zM1114.5 454.3h1.1v1.1h-1.1zM1113.9 425.6h1.1v1.1h-1.1zM1114 471.1h1.1v1.1h-1.1zM1079.7 473.5h1.1v1.1h-1.1zM1079.2 462.6h1.1v1.1h-1.1zM1077.9 398.2h1.1v1.1h-1.1zM1113.8 371.1h1.1v1.1h-1.1zM1079 368h1.1v1.1h-1.1zM1114.8 418.4h1.1v1.1h-1.1zM1114 411.7h1.1v1.1h-1.1zM1078.8 446.9h1.1v1.1h-1.1zM1079.6 478.9h1.1v1.1h-1.1zM1113.9 414.5h1.1v1.1h-1.1zM1113.9 410.3h1.1v1.1h-1.1zM1113.9 341.6h1.1v1.1h-1.1zM1079.3 377.5h1.1v1.1h-1.1zM1114.3 390.1h1.1v1.1h-1.1zM1079.6 340.9h1.1v1.1h-1.1zM1114.8 401.8h1.1v1.1h-1.1zM1114.3 346.9h1.1v1.1h-1.1zM1079.2 480h1.1v1.1h-1.1zM1115.1 379.2h1.1v1.1h-1.1zM1078.1 359.8h1.1v1.1h-1.1zM1114 378.7h1.1v1.1h-1.1zM1079.3 398.4h1.1v1.1h-1.1zM1079 422.6h1.1v1.1h-1.1zM1114.4 467.6h1.1v1.1h-1.1zM1079.4 339.1h1.1v1.1h-1.1zM1078.6 488.6h1.1v1.1h-1.1zM1113.9 361.3h1.1v1.1h-1.1zM1114.3 441.8h1.1v1.1h-1.1zM1079 373.6h1.1v1.1h-1.1zM1078.8 481.3h1.1v1.1h-1.1zM1114.4 465.5h1.1v1.1h-1.1zM1114.3 458.3h1.1v1.1h-1.1zM1113.9 342.4h1.1v1.1h-1.1zM1113.9 462.1h1.1v1.1h-1.1zM1114.5 376.1h1.1v1.1h-1.1zM1078.9 365.1h1.1v1.1h-1.1zM1114 425.9h1.1v1.1h-1.1zM1114 453.2h1.1v1.1h-1.1zM1079.5 462.9h1.1v1.1h-1.1zM1114.8 490.2h1.1v1.1h-1.1zM1079.7 428.7h1.1v1.1h-1.1zM1114.4 375.9h1.1v1.1h-1.1zM1079.7 358h1.1v1.1h-1.1zM1114.1 342.7h1.1v1.1h-1.1zM1078.3 392.5h1.1v1.1h-1.1zM1078.8 363.1h1.1v1.1h-1.1zM1113.9 385h1.1v1.1h-1.1zM1078.5 400.6h1.1v1.1h-1.1zM1113.8 445.9h1.1v1.1h-1.1zM1079.4 363.7h1.1v1.1h-1.1zM1114.3 424.1h1.1v1.1h-1.1zM1079.2 378.8h1.1v1.1h-1.1zM1113.8 379.4h1.1v1.1h-1.1zM1114.3 412.4h1.1v1.1h-1.1zM1079.2 360h1.1v1.1h-1.1zM1079.4 348.4h1.1v1.1h-1.1zM1079.2 389.3h1.1v1.1h-1.1zM1113.7 401.7h1.1v1.1h-1.1zM1078.7 424.3h1.1v1.1h-1.1zM1114.1 434.7h1.1v1.1h-1.1zM1115.5 375.5h1.1v1.1h-1.1zM1079 343.5h1.1v1.1h-1.1zM1079.5 485.6h1.1v1.1h-1.1zM1114.3 346h1.1v1.1h-1.1zM1079.1 337.7h1.1v1.1h-1.1zM1114 457.4h1.1v1.1h-1.1zM1114.1 452.4h1.1v1.1h-1.1zM1078.9 441.4h1.1v1.1h-1.1zM1114.8 484.2h1.1v1.1h-1.1zM1079.1 339.8h1.1v1.1h-1.1zM1113.9 372h1.1v1.1h-1.1zM1114.7 379.9h1.1v1.1h-1.1zM1079.2 385.4h1.1v1.1h-1.1zM1114.1 350.9h1.1v1.1h-1.1zM1079.5 369.8h1.1v1.1h-1.1zM1078.5 364.1h1.1v1.1h-1.1zM1114.2 360.7h1.1v1.1h-1.1zM1079.1 337.5h1.1v1.1h-1.1zM1079.3 421.1h1.1v1.1h-1.1zM1079.7 346.6h1.1v1.1h-1.1zM1115.6 427.7h1.1v1.1h-1.1zM1078.9 447.8h1.1v1.1h-1.1zM1078.9 464.7h1.1v1.1h-1.1zM1078 387h1.1v1.1h-1.1zM1113.9 337.6h1.1v1.1h-1.1zM1113.8 433.6h1.1v1.1h-1.1zM1114.8 476.5h1.1v1.1h-1.1zM1113.7 445.2h1.1v1.1h-1.1zM1114.4 405.1h1.1v1.1h-1.1zM1079.4 372.4h1.1v1.1h-1.1zM1113.8 435.3h1.1v1.1h-1.1zM1113.9 344.7h1.1v1.1h-1.1zM1114 360.1h1.1v1.1h-1.1zM1114.3 410.3h1.1v1.1h-1.1zM1079.8 344.3h1.1v1.1h-1.1zM1078 353.6h1.1v1.1h-1.1zM1079.5 484.5h1.1v1.1h-1.1zM1078.9 493.3h1.1v1.1h-1.1zM1079.7 365.3h1.1v1.1h-1.1zM1114.3 420.9h1.1v1.1h-1.1zM1114.3 367.1h1.1v1.1h-1.1zM1113.8 353h1.1v1.1h-1.1zM1114.6 374.3h1.1v1.1h-1.1zM1078.7 423h1.1v1.1h-1.1zM1079.6 462.2h1.1v1.1h-1.1zM1079.3 487.2h1.1v1.1h-1.1zM1078.8 468h1.1v1.1h-1.1zM1114.3 341h1.1v1.1h-1.1zM1079.1 492.4h1.1v1.1h-1.1zM1079.7 487.5h1.1v1.1h-1.1zM1114.8 424.7h1.1v1.1h-1.1zM1078.7 485.8h1.1v1.1h-1.1zM1079.7 446h1.1v1.1h-1.1zM1079.3 427.9h1.1v1.1h-1.1zM1113.7 485h1.1v1.1h-1.1zM1079.7 347h1.1v1.1h-1.1zM1114.7 452.6h1.1v1.1h-1.1zM1114.7 378.1h1.1v1.1h-1.1zM1113.8 465.9h1.1v1.1h-1.1zM1079.4 355.6h1.1v1.1h-1.1zM1079.4 373.2h1.1v1.1h-1.1zM1078.2 381.4h1.1v1.1h-1.1zM1113.8 443.2h1.1v1.1h-1.1zM1078.9 370.9h1.1v1.1h-1.1zM1113.9 394.1h1.1v1.1h-1.1zM1114.6 487.1h1.1v1.1h-1.1zM1079.4 432.7h1.1v1.1h-1.1zM1113.9 477.8h1.1v1.1h-1.1zM1114.5 397.5h1.1v1.1h-1.1zM1078.5 422.5h1.1v1.1h-1.1zM1079.1 407.8h1.1v1.1h-1.1zM1114.1 395.3h1.1v1.1h-1.1zM1079 474.2h1.1v1.1h-1.1zM1113.9 409.6h1.1v1.1h-1.1zM1077.6 412h1.1v1.1h-1.1zM1079.4 467.2h1.1v1.1h-1.1zM1078.6 494h1.1v1.1h-1.1zM1079.8 461.1h1.1v1.1h-1.1zM1079.4 414.8h1.1v1.1h-1.1zM1079.8 461.8h1.1v1.1h-1.1zM1114.8 362.4h1.1v1.1h-1.1zM1077.9 404.6h1.1v1.1h-1.1zM1115.3 338.5h1.1v1.1h-1.1zM1114.3 339.9h1.1v1.1h-1.1zM1079.5 490.3h1.1v1.1h-1.1zM1078.9 355.8h1.1v1.1h-1.1zM1079.1 356.6h1.1v1.1h-1.1zM1113.7 429.6h1.1v1.1h-1.1zM1079.4 344.6h1.1v1.1h-1.1zM1079.5 352.6h1.1v1.1h-1.1zM1079.1 470.6h1.1v1.1h-1.1zM1079 363.5h1.1v1.1h-1.1zM1079.6 401.5h1.1v1.1h-1.1zM1115.2 395.6h1.1v1.1h-1.1zM1079 420.1h1.1v1.1h-1.1zM1079.3 480.4h1.1v1.1h-1.1zM1079.3 370h1.1v1.1h-1.1zM1079.1 477.8h1.1v1.1h-1.1zM1078.9 439.6h1.1v1.1h-1.1zM1114.1 383.4h1.1v1.1h-1.1zM1079 370.9h1.1v1.1h-1.1zM1114.1 392.8h1.1v1.1h-1.1zM1079.4 385.3h1.1v1.1h-1.1zM1079.1 387.1h1.1v1.1h-1.1zM1114.5 442.9h1.1v1.1h-1.1zM1079.6 419.4h1.1v1.1h-1.1zM1078.7 395.1h1.1v1.1h-1.1zM1113.7 488.1h1.1v1.1h-1.1zM1078.9 469h1.1v1.1h-1.1zM1114.4 385.9h1.1v1.1h-1.1zM1114 354.7h1.1v1.1h-1.1zM1113.8 462h1.1v1.1h-1.1zM1114.3 438.5h1.1v1.1h-1.1zM1079.4 443.7h1.1v1.1h-1.1zM1079.2 375.7h1.1v1.1h-1.1zM1115.1 460.8h1.1v1.1h-1.1zM1114.8 345h1.1v1.1h-1.1zM1079.5 437.1h1.1v1.1h-1.1zM1079.7 433.7h1.1v1.1h-1.1zM1113.7 452.7h1.1v1.1h-1.1zM1079.6 480.6h1.1v1.1h-1.1zM1079.5 444.5h1.1v1.1h-1.1zM1114.4 395.8h1.1v1.1h-1.1zM1078.5 451.2h1.1v1.1h-1.1zM1114.2 487.5h1.1v1.1h-1.1zM1078.9 354h1.1v1.1h-1.1zM1079.3 439.4h1.1v1.1h-1.1zM1079.5 401.7h1.1v1.1h-1.1zM1079.4 468.9h1.1v1.1h-1.1zM1079.3 483.3h1.1v1.1h-1.1zM1115 442.8h1.1v1.1h-1.1zM1113.8 397.5h1.1v1.1h-1.1zM1113.9 362.4h1.1v1.1h-1.1zM1114.4 362h1.1v1.1h-1.1zM1114.8 395.7h1.1v1.1h-1.1zM1114 359.4h1.1v1.1h-1.1zM1113.8 388h1.1v1.1h-1.1zM1079.2 451.7h1.1v1.1h-1.1zM1113.7 466.6h1.1v1.1h-1.1zM1079.2 479.8h1.1v1.1h-1.1zM1114.5 424.6h1.1v1.1h-1.1zM1079.3 455.3h1.1v1.1h-1.1zM1078.6 443.6h1.1v1.1h-1.1zM1114 426h1.1v1.1h-1.1zM1113.8 486.5h1.1v1.1h-1.1zM1079.4 460.2h1.1v1.1h-1.1zM1114.7 492.1h1.1v1.1h-1.1zM1114.7 482.3h1.1v1.1h-1.1zM1114.9 393.7h1.1v1.1h-1.1zM1078.8 491.5h1.1v1.1h-1.1zM1114 421.1h1.1v1.1h-1.1zM1114.3 424.8h1.1v1.1h-1.1zM1115.1 412.8h1.1v1.1h-1.1zM1079.5 397.7h1.1v1.1h-1.1zM1078.6 432.5h1.1v1.1h-1.1zM1114 481.6h1.1v1.1h-1.1zM1078.6 459.5h1.1v1.1h-1.1zM1079.7 390.7h1.1v1.1h-1.1zM1114.4 485.4h1.1v1.1h-1.1zM1079.5 353.5h1.1v1.1h-1.1zM1078.9 383.9h1.1v1.1h-1.1zM1114.3 355h1.1v1.1h-1.1zM1079.3 345.8h1.1v1.1h-1.1zM1079.1 358.7h1.1v1.1h-1.1zM1078.7 405.2h1.1v1.1h-1.1zM1079.1 475.3h1.1v1.1h-1.1zM1114.1 402.1h1.1v1.1h-1.1zM1078.6 340.7h1.1v1.1h-1.1zM1115.8 389.2h1.1v1.1h-1.1zM1079 486.4h1.1v1.1h-1.1zM1078.7 472h1.1v1.1h-1.1zM1114.6 478.2h1.1v1.1h-1.1zM1079.7 483.8h1.1v1.1h-1.1zM1079.3 480.6h1.1v1.1h-1.1zM1079.4 487.6h1.1v1.1h-1.1zM1079.6 365.5h1.1v1.1h-1.1zM1079.2 336.1h1.1v1.1h-1.1zM1079.7 391.5h1.1v1.1h-1.1zM1079.3 390.9h1.1v1.1h-1.1zM1114.1 343.6h1.1v1.1h-1.1zM1114.8 442.9h1.1v1.1h-1.1zM1078.2 401.6h1.1v1.1h-1.1zM1112.3 334.9h1.1v1.1h-1.1zM1112.5 494.7h1.1v1.1h-1.1zM1109.4 334.4h1.1v1.1h-1.1zM1109.2 494.7h1.1v1.1h-1.1zM1081.7 335.4h1.1v1.1h-1.1zM1081.4 494.4h1.1v1.1h-1.1zM1085.7 333.6h1.1v1.1h-1.1zM1085.9 494.9h1.1v1.1h-1.1zM1084.8 334.4h1.1v1.1h-1.1zM1083.2 496h1.1v1.1h-1.1zM1103.1 333h1.1v1.1h-1.1zM1104.5 495.4h1.1v1.1h-1.1zM1112.9 334.7h1.1v1.1h-1.1zM1112.1 495.1h1.1v1.1h-1.1zM1103.3 333.2h1.1v1.1h-1.1zM1103.5 496.4h1.1v1.1h-1.1zM1083.7 335.2h1.1v1.1h-1.1zM1082.8 494.4h1.1v1.1h-1.1zM1081.2 335.8h1.1v1.1h-1.1zM1082 494.8h1.1v1.1h-1.1zM1079.9 335.2h1.1v1.1h-1.1zM1081.3 494.2h1.1v1.1h-1.1zM1080.7 336.1h1.1v1.1h-1.1zM1080 494.6h1.1v1.1h-1.1zM1086.8 334.4h1.1v1.1h-1.1zM1086 495.2h1.1v1.1h-1.1zM1108.6 334.5h1.1v1.1h-1.1zM1108.6 495.6h1.1v1.1h-1.1zM1113.9 336.1h1.1v1.1h-1.1zM1114.5 493.7h1.1v1.1h-1.1zM1094.2 333.4h1.1v1.1h-1.1zM1093.7 496h1.1v1.1h-1.1zM1113.7 335.9h1.1v1.1h-1.1zM1113.3 494.6h1.1v1.1h-1.1zM1080.4 336.2h1.1v1.1h-1.1zM1080.4 494.2h1.1v1.1h-1.1zM1107.9 332.9h1.1v1.1h-1.1zM1106.7 495.3h1.1v1.1h-1.1zM1081.9 335.4h1.1v1.1h-1.1zM1083.8 494.8h1.1v1.1h-1.1zM1114.2 336.1h1.1v1.1h-1.1zM1114.5 492.8h1.1v1.1h-1.1zM1111.7 334.9h1.1v1.1h-1.1zM1112.2 494.1h1.1v1.1h-1.1zM1082.7 335.1h1.1v1.1h-1.1zM1083.2 494.4h1.1v1.1h-1.1zM1114.1 336.7h1.1v1.1h-1.1zM1114.1 493.8h1.1v1.1h-1.1zM1103.2 333.9h1.1v1.1h-1.1zM1103.8 496.1h1.1v1.1h-1.1zM1080.9 335.5h1.1v1.1h-1.1zM1080.8 493.8h1.1v1.1h-1.1zM1106.1 334h1.1v1.1h-1.1zM1106.8 495.9h1.1v1.1h-1.1zM1081.8 335.2h1.1v1.1h-1.1zM1081.9 493.6h1.1v1.1h-1.1zM1111.7 334.9h1.1v1.1h-1.1zM1111.5 494.3h1.1v1.1h-1.1zM1080.5 336.2h1.1v1.1h-1.1zM1080.3 493.7h1.1v1.1h-1.1zM1092.8 333.8h1.1v1.1h-1.1zM1093.5 495.6h1.1v1.1h-1.1zM1113.7 337h1.1v1.1h-1.1zM1113.4 493h1.1v1.1h-1.1zM1099.8 333.4h1.1v1.1h-1.1zM1098.4 495.7h1.1v1.1h-1.1zM1080.3 336.1h1.1v1.1h-1.1zM1081.3 493.5h1.1v1.1h-1.1zM1110.3 333.9h1.1v1.1h-1.1zM1109.8 496.5h1.1v1.1h-1.1zM1096.4 333.4h1.1v1.1h-1.1zM1097.7 496h1.1v1.1h-1.1zM1097.9 332.7h1.1v1.1h-1.1zM1097.6 495.6h1.1v1.1h-1.1zM1111.3 334h1.1v1.1h-1.1zM1111.6 496.6h1.1v1.1h-1.1zM1080.4 335.2h1.1v1.1h-1.1zM1080.6 494.8h1.1v1.1h-1.1zM1084 334.1h1.1v1.1h-1.1zM1083.3 494.9h1.1v1.1h-1.1zM1081.5 336.1h1.1v1.1h-1.1zM1080.3 494.5h1.1v1.1h-1.1zM1092.7 333.2h1.1v1.1h-1.1zM1091.3 495.7h1.1v1.1h-1.1zM1090.1 333.1h1.1v1.1h-1.1zM1089.1 495.7h1.1v1.1h-1.1zM1111 334.3h1.1v1.1h-1.1zM1112.2 494.3h1.1v1.1h-1.1zM1112.9 335.6h1.1v1.1h-1.1zM1113.6 494.8h1.1v1.1h-1.1zM1084.6 334.4h1.1v1.1h-1.1zM1084.8 494.9h1.1v1.1h-1.1zM1097.3 333.4h1.1v1.1h-1.1zM1098 495.7h1.1v1.1h-1.1zM1083.8 334.2h1.1v1.1h-1.1zM1083.8 495.7h1.1v1.1h-1.1zM1096.2 333.3h1.1v1.1h-1.1zM1096.7 496.8h1.1v1.1h-1.1zM1088.4 334.1h1.1v1.1h-1.1zM1089.1 496h1.1v1.1h-1.1zM1108.4 334.2h1.1v1.1h-1.1zM1108.6 495.3h1.1v1.1h-1.1zM1105.6 333.5h1.1v1.1h-1.1zM1105.6 495.2h1.1v1.1h-1.1zM1081.2 335.5h1.1v1.1h-1.1zM1081.8 494.4h1.1v1.1h-1.1zM1110.6 334.9h1.1v1.1h-1.1zM1110.9 494.6h1.1v1.1h-1.1zM1113.5 335.9h1.1v1.1h-1.1zM1114.8 493.3h1.1v1.1h-1.1zM1101.4 333.7h1.1v1.1h-1.1zM1100.3 495.9h1.1v1.1h-1.1zM1112.1 335.4h1.1v1.1h-1.1zM1113 494.7h1.1v1.1h-1.1zM1091.2 333.6h1.1v1.1h-1.1zM1090 496.4h1.1v1.1h-1.1zM1079.9 336.9h1.1v1.1h-1.1zM1080.3 492.7h1.1v1.1h-1.1zM1111.9 335.4h1.1v1.1h-1.1zM1112.2 495.3h1.1v1.1h-1.1zM1106.5 333.4h1.1v1.1h-1.1zM1106.2 496.1h1.1v1.1h-1.1zM1101.4 333.4h1.1v1.1h-1.1zM1102 496.1h1.1v1.1h-1.1zM1114.4 336.2h1.1v1.1h-1.1zM1113.7 493.9h1.1v1.1h-1.1zM1112.2 335.4h1.1v1.1h-1.1zM1112.8 494.6h1.1v1.1h-1.1zM1089.2 333.4h1.1v1.1h-1.1zM1090.5 495.7h1.1v1.1h-1.1zM1113.5 335.5h1.1v1.1h-1.1zM1113.1 493.7h1.1v1.1h-1.1zM1102.7 333.9h1.1v1.1h-1.1zM1104.1 495.9h1.1v1.1h-1.1zM1097.5 333.5h1.1v1.1h-1.1zM1098.3 495.7h1.1v1.1h-1.1zM1107.3 333.2h1.1v1.1h-1.1zM1106.4 495.1h1.1v1.1h-1.1zM1102.9 333.6h1.1v1.1h-1.1zM1102.8 496.8h1.1v1.1h-1.1zM1099.6 333.3h1.1v1.1h-1.1zM1099.5 495.8h1.1v1.1h-1.1zM1090.4 333.7h1.1v1.1h-1.1zM1090.9 496.4h1.1v1.1h-1.1zM1099.1 333.3h1.1v1.1h-1.1zM1097.7 497h1.1v1.1h-1.1zM1080.5 336.2h1.1v1.1h-1.1zM1079.9 493.9h1.1v1.1h-1.1zM1107.1 333h1.1v1.1h-1.1zM1106.9 496.1h1.1v1.1h-1.1zM1100.4 333.5h1.1v1.1h-1.1zM1100.8 496.7h1.1v1.1h-1.1zM1079.8 336h1.1v1.1h-1.1zM1081 492.7h1.1v1.1h-1.1zM1084.6 334h1.1v1.1h-1.1zM1084.8 495.4h1.1v1.1h-1.1zM1080.7 335.7h1.1v1.1h-1.1zM1081 492.9h1.1v1.1h-1.1zM1083.2 334.8h1.1v1.1h-1.1zM1082.1 494.9h1.1v1.1h-1.1zM1084.8 334h1.1v1.1h-1.1zM1084.8 496h1.1v1.1h-1.1zM1092.3 333.4h1.1v1.1h-1.1zM1094.7 496.7h1.1v1.1h-1.1zM1105.9 332.8h1.1v1.1h-1.1zM1106 496.3h1.1v1.1h-1.1zM1095.4 333.8h1.1v1.1h-1.1zM1094.8 497h1.1v1.1h-1.1zM1088.7 333.1h1.1v1.1h-1.1zM1088.6 495.4h1.1v1.1h-1.1zM1091 333.8h1.1v1.1h-1.1zM1092.5 495.5h1.1v1.1h-1.1zM1079.9 335.7h1.1v1.1h-1.1zM1080.9 493.2h1.1v1.1h-1.1zM1087.2 333.3h1.1v1.1h-1.1zM1087.3 495.5h1.1v1.1h-1.1zM1104.4 334.1h1.1v1.1h-1.1zM1103.9 496.2h1.1v1.1h-1.1zM1111.9 334.4h1.1v1.1h-1.1zM1112.8 494.1h1.1v1.1h-1.1zM1111.8 335.1h1.1v1.1h-1.1zM1111.9 495.5h1.1v1.1h-1.1zM1107.8 334.6h1.1v1.1h-1.1zM1109.8 495.1h1.1v1.1h-1.1zM1082.1 334.7h1.1v1.1h-1.1zM1081.8 494.6h1.1v1.1h-1.1zM1081.7 335.1h1.1v1.1h-1.1zM1081.3 494.5h1.1v1.1h-1.1zM1082.4 334.9h1.1v1.1h-1.1zM1083.6 494.2h1.1v1.1h-1.1zM1110 334.7h1.1v1.1h-1.1zM1110.8 494.7h1.1v1.1h-1.1zM1099.4 333.4h1.1v1.1h-1.1zM1101.2 496.2h1.1v1.1h-1.1zM1111.2 334.6h1.1v1.1h-1.1zM1112.1 495.9h1.1v1.1h-1.1zM1081.7 335.2h1.1v1.1h-1.1zM1081.8 495.1h1.1v1.1h-1.1zM1113.9 336.3h1.1v1.1h-1.1zM1114.4 493.8h1.1v1.1h-1.1z" fill="#4a36bc" fill-opacity="0.8"/>
<linearGradient id="g12" x1="0" x2="1" y1="0" y2="0"><stop offset="0" stop-color="#4a36bc"/><stop offset=".16" stop-color="#3a30d0"/><stop offset=".5" stop-color="#3838d8"/><stop offset=".84" stop-color="#3a30d0"/><stop offset="1" stop-color="#4a36bc"/></linearGradient>
<path d="M1041.4 356.6L1041.4 512.2A17.8 3.4 0 0 0 1076.9 512.2L1076.9 356.6A17.8 3.4 0 0 0 1041.4 356.6Z" fill="url(#g12)"/>
<clipPath id="c13"><path d="M1041.4 356.6L1041.4 512.2A17.8 3.4 0 0 0 1076.9 512.2L1076.9 356.6A17.8 3.4 0 0 0 1041.4 356.6Z"/></clipPath>
<path d="M1043.6 353.2V515.6M1047 353.2V515.6M1050.4 353.2V515.6M1053.8 353.2V515.6M1057.2 353.2V515.6M1060.6 353.2V515.6M1064 353.2V515.6M1067.4 353.2V515.6M1070.8 353.2V515.6M1074.2 353.2V515.6" stroke="#3c66ee" stroke-width="1.2" stroke-opacity=".5" clip-path="url(#c13)"/>
<radialGradient id="r14"><stop offset="0" stop-color="#58d070"/><stop offset=".3" stop-color="#22b8e0"/><stop offset=".62" stop-color="#3a60f0" stop-opacity=".9"/><stop offset="1" stop-color="#3a30d0" stop-opacity="0"/></radialGradient>
<ellipse cx="1059.2" cy="355.2" rx="16" ry="3.9" fill="url(#r14)"/>
<path d="M1041.8 433.1h1v1h-1zM1076.3 380.4h1v1h-1zM1041.2 359.1h1v1h-1zM1041.3 494.6h1v1h-1zM1075.8 479.3h1v1h-1zM1076.1 386.4h1v1h-1zM1042 486.6h1v1h-1zM1075.8 510.7h1v1h-1zM1076.3 467h1v1h-1zM1040.9 468.9h1v1h-1zM1041.8 474.6h1v1h-1zM1075.6 509.8h1v1h-1zM1076.1 467.9h1v1h-1zM1041 385.6h1v1h-1zM1075.8 416.4h1v1h-1zM1042 456.7h1v1h-1zM1075.4 361.8h1v1h-1zM1041.3 367h1v1h-1zM1042.1 481.6h1v1h-1zM1041 485.2h1v1h-1zM1076.2 408.8h1v1h-1zM1075.3 373.4h1v1h-1zM1041.3 395.8h1v1h-1zM1075.2 487.2h1v1h-1zM1075.9 398.3h1v1h-1zM1076.2 443.2h1v1h-1zM1041.2 431.5h1v1h-1zM1075.8 452.9h1v1h-1zM1041.7 412.4h1v1h-1zM1075.7 489.8h1v1h-1zM1041.3 371.1h1v1h-1zM1041.9 462h1v1h-1zM1075.3 381h1v1h-1zM1076.3 451.3h1v1h-1zM1075.6 439.6h1v1h-1zM1076 416.3h1v1h-1zM1041.3 385.1h1v1h-1zM1042.1 408.3h1v1h-1zM1076.3 500.3h1v1h-1zM1041.1 441.6h1v1h-1zM1075.9 465h1v1h-1zM1076 414h1v1h-1zM1076.3 395.5h1v1h-1zM1075.9 445.1h1v1h-1zM1041.5 371.3h1v1h-1zM1076.4 456h1v1h-1zM1041.5 406.2h1v1h-1zM1041.1 482.3h1v1h-1zM1075.5 457.1h1v1h-1zM1076.3 379.2h1v1h-1zM1076.3 408.6h1v1h-1zM1041.4 437.6h1v1h-1zM1075.4 415.7h1v1h-1zM1041.4 498.4h1v1h-1zM1075.8 414.2h1v1h-1zM1041.6 495.9h1v1h-1zM1041.6 409h1v1h-1zM1041.1 405.7h1v1h-1zM1076 410h1v1h-1zM1075.3 368.3h1v1h-1zM1075.9 368.6h1v1h-1zM1076.3 364.5h1v1h-1zM1041.4 398.6h1v1h-1zM1041.8 361h1v1h-1zM1075.4 486.6h1v1h-1zM1041.9 485.2h1v1h-1zM1075.8 471h1v1h-1zM1075.2 420.3h1v1h-1zM1075.9 428.6h1v1h-1zM1076.2 405.1h1v1h-1zM1075.6 376.8h1v1h-1zM1075.7 425.8h1v1h-1zM1076.1 504.6h1v1h-1zM1042 502.1h1v1h-1zM1076 424.3h1v1h-1zM1041.1 425.4h1v1h-1zM1076.2 481.9h1v1h-1zM1041.9 442.1h1v1h-1zM1041.1 486.8h1v1h-1zM1041.8 510.8h1v1h-1zM1075.3 446.2h1v1h-1zM1041.6 403.4h1v1h-1zM1076.1 483.5h1v1h-1zM1041.9 373.5h1v1h-1zM1075.6 397h1v1h-1zM1042 500h1v1h-1zM1041.6 485h1v1h-1zM1042 462.1h1v1h-1zM1076 369.9h1v1h-1zM1076.3 382h1v1h-1zM1041.5 421.9h1v1h-1zM1041.2 376.2h1v1h-1zM1075.3 367h1v1h-1zM1076.1 489.3h1v1h-1zM1041.9 357.2h1v1h-1zM1075.4 391.4h1v1h-1zM1076.3 426.7h1v1h-1zM1075.9 505.5h1v1h-1zM1076.4 491.6h1v1h-1zM1041.3 388h1v1h-1zM1075.3 398.9h1v1h-1zM1041.8 431.3h1v1h-1zM1041.1 427.9h1v1h-1zM1041.9 442.7h1v1h-1zM1075.3 448.6h1v1h-1zM1041.2 420.7h1v1h-1zM1041.2 451h1v1h-1zM1041.2 457.2h1v1h-1zM1041.1 494.3h1v1h-1zM1075.7 400.8h1v1h-1zM1041.6 437.2h1v1h-1zM1042 402.2h1v1h-1zM1041.1 468.1h1v1h-1zM1041.2 372.2h1v1h-1zM1075.7 412h1v1h-1zM1041.3 473.7h1v1h-1zM1075.6 423.2h1v1h-1zM1041.1 467.4h1v1h-1zM1041.7 428.2h1v1h-1zM1075.4 357.2h1v1h-1zM1041.3 433.4h1v1h-1zM1075.6 501.8h1v1h-1zM1075.9 512h1v1h-1zM1041.3 375.8h1v1h-1zM1041.7 417.5h1v1h-1zM1075.5 421.1h1v1h-1zM1041.1 435.2h1v1h-1zM1075.9 435.9h1v1h-1zM1041.8 426.1h1v1h-1zM1040.9 483.1h1v1h-1zM1075.3 427h1v1h-1zM1076 438.3h1v1h-1zM1042 359.3h1v1h-1zM1075.8 396h1v1h-1zM1041.6 403.7h1v1h-1zM1041.8 476h1v1h-1zM1041.5 421.5h1v1h-1zM1041.6 367.4h1v1h-1zM1041.3 426.3h1v1h-1zM1076.2 398.3h1v1h-1zM1041 462.6h1v1h-1zM1042 497.2h1v1h-1zM1041.7 448.1h1v1h-1zM1075.6 363.8h1v1h-1zM1075.8 411.4h1v1h-1zM1075.4 378.4h1v1h-1zM1075.5 380.8h1v1h-1zM1041.2 478.8h1v1h-1zM1075.7 367.4h1v1h-1zM1076.4 469.4h1v1h-1zM1075.4 408.3h1v1h-1zM1041.6 454.2h1v1h-1zM1041.5 439.5h1v1h-1zM1076.2 506.4h1v1h-1zM1041.5 383.3h1v1h-1zM1075.8 401.1h1v1h-1zM1075.8 462.7h1v1h-1zM1041.9 432.8h1v1h-1zM1075.2 416.9h1v1h-1zM1041.9 435.5h1v1h-1zM1041.1 480.2h1v1h-1zM1041.9 383.4h1v1h-1zM1042 422.5h1v1h-1zM1041.2 369.9h1v1h-1zM1041.6 454.5h1v1h-1zM1075.6 388.8h1v1h-1zM1076.1 368.5h1v1h-1zM1075.8 508.6h1v1h-1zM1075.4 476.7h1v1h-1zM1041.9 507.7h1v1h-1zM1040.9 430.9h1v1h-1zM1041.5 424.9h1v1h-1zM1076 509.3h1v1h-1zM1041.1 384.1h1v1h-1zM1075.9 406.9h1v1h-1zM1041.3 365.5h1v1h-1zM1041.5 370.8h1v1h-1zM1041.4 418.8h1v1h-1zM1041.2 379.7h1v1h-1zM1076.3 448.1h1v1h-1zM1076.1 447.4h1v1h-1zM1041 498.6h1v1h-1zM1076.1 450.6h1v1h-1zM1041.8 462.6h1v1h-1zM1075.3 505.8h1v1h-1zM1041.5 357.4h1v1h-1zM1075.5 411.4h1v1h-1zM1075.8 482.4h1v1h-1zM1076 386.2h1v1h-1zM1075.8 468.8h1v1h-1zM1075.9 483.1h1v1h-1zM1041.6 496.4h1v1h-1zM1041.8 402.3h1v1h-1zM1076 504.9h1v1h-1zM1041.2 369.4h1v1h-1zM1041.9 502.5h1v1h-1zM1041.3 463.6h1v1h-1zM1041.7 505h1v1h-1zM1042.1 505.7h1v1h-1zM1076.3 476.8h1v1h-1z" fill="#fff" fill-opacity="0.55"/>
<path d="M1040.4 448.1h1.1v1.1h-1.1zM1077.4 440.2h1.1v1.1h-1.1zM1039.3 365.5h1.1v1.1h-1.1zM1077.3 453.1h1.1v1.1h-1.1zM1040.2 463.2h1.1v1.1h-1.1zM1076.5 444.6h1.1v1.1h-1.1zM1040.9 395.2h1.1v1.1h-1.1zM1040.2 404.8h1.1v1.1h-1.1zM1040.7 398.2h1.1v1.1h-1.1zM1040.6 463h1.1v1.1h-1.1zM1076.7 475.2h1.1v1.1h-1.1zM1077.3 421.1h1.1v1.1h-1.1zM1077.4 413.1h1.1v1.1h-1.1zM1040.7 497.2h1.1v1.1h-1.1zM1076.5 400.8h1.1v1.1h-1.1zM1076.6 481.9h1.1v1.1h-1.1zM1076.9 493.4h1.1v1.1h-1.1zM1077.7 427.7h1.1v1.1h-1.1zM1039 435.1h1.1v1.1h-1.1zM1039.2 367.4h1.1v1.1h-1.1zM1077.4 440.4h1.1v1.1h-1.1zM1076.7 404.7h1.1v1.1h-1.1zM1040.4 367.6h1.1v1.1h-1.1zM1040.9 417.4h1.1v1.1h-1.1zM1077.3 426.6h1.1v1.1h-1.1zM1040.3 366.5h1.1v1.1h-1.1zM1039.8 462.5h1.1v1.1h-1.1zM1040.4 484.5h1.1v1.1h-1.1zM1040.9 502.3h1.1v1.1h-1.1zM1040.2 383.7h1.1v1.1h-1.1zM1040.8 510.5h1.1v1.1h-1.1zM1039.4 364.7h1.1v1.1h-1.1zM1040.6 470.8h1.1v1.1h-1.1zM1077.5 473h1.1v1.1h-1.1zM1040.7 483.3h1.1v1.1h-1.1zM1040.5 356.7h1.1v1.1h-1.1zM1077.5 493h1.1v1.1h-1.1zM1077.4 385h1.1v1.1h-1.1zM1040.9 459.5h1.1v1.1h-1.1zM1040.2 501.1h1.1v1.1h-1.1zM1077.5 393.2h1.1v1.1h-1.1zM1076.9 374.6h1.1v1.1h-1.1zM1076.7 503.9h1.1v1.1h-1.1zM1040.9 439.8h1.1v1.1h-1.1zM1077.2 374.1h1.1v1.1h-1.1zM1040.8 407.9h1.1v1.1h-1.1zM1039.9 452h1.1v1.1h-1.1zM1040.9 477.1h1.1v1.1h-1.1zM1076.5 426.7h1.1v1.1h-1.1zM1076.7 385.6h1.1v1.1h-1.1zM1077.4 391.3h1.1v1.1h-1.1zM1040 476.3h1.1v1.1h-1.1zM1040.4 399.5h1.1v1.1h-1.1zM1040.5 458.3h1.1v1.1h-1.1zM1040.4 369.3h1.1v1.1h-1.1zM1040.3 449.6h1.1v1.1h-1.1zM1040.1 401.1h1.1v1.1h-1.1zM1040.6 367.3h1.1v1.1h-1.1zM1077 481.2h1.1v1.1h-1.1zM1077.3 436.2h1.1v1.1h-1.1zM1077.5 356.5h1.1v1.1h-1.1zM1076.7 357.1h1.1v1.1h-1.1zM1076.8 401.5h1.1v1.1h-1.1zM1076.6 416.4h1.1v1.1h-1.1zM1076.5 459.2h1.1v1.1h-1.1zM1040.2 474.6h1.1v1.1h-1.1zM1039.8 466.5h1.1v1.1h-1.1zM1039.7 444h1.1v1.1h-1.1zM1077.4 473.1h1.1v1.1h-1.1zM1077.1 447.1h1.1v1.1h-1.1zM1040.8 459.6h1.1v1.1h-1.1zM1039.9 369.8h1.1v1.1h-1.1zM1076.9 424.5h1.1v1.1h-1.1zM1038.9 461.5h1.1v1.1h-1.1zM1077.5 397.2h1.1v1.1h-1.1zM1076.4 441.6h1.1v1.1h-1.1zM1040 409.4h1.1v1.1h-1.1zM1077.2 455.1h1.1v1.1h-1.1zM1039.7 430h1.1v1.1h-1.1zM1076.9 470.2h1.1v1.1h-1.1zM1076.5 504h1.1v1.1h-1.1zM1077.5 393.9h1.1v1.1h-1.1zM1040.1 500.7h1.1v1.1h-1.1zM1077.2 464.3h1.1v1.1h-1.1zM1040.4 421.3h1.1v1.1h-1.1zM1076.6 458.1h1.1v1.1h-1.1zM1040.1 371.2h1.1v1.1h-1.1zM1077.4 396.2h1.1v1.1h-1.1zM1039.8 414.6h1.1v1.1h-1.1zM1040.5 431.1h1.1v1.1h-1.1zM1040.6 360.3h1.1v1.1h-1.1zM1076.8 466.7h1.1v1.1h-1.1zM1077 501.3h1.1v1.1h-1.1zM1039.7 495.8h1.1v1.1h-1.1zM1077 510.2h1.1v1.1h-1.1zM1040.7 422.9h1.1v1.1h-1.1zM1077 357.3h1.1v1.1h-1.1zM1040.1 397.8h1.1v1.1h-1.1zM1077.4 412.6h1.1v1.1h-1.1zM1078.7 481.3h1.1v1.1h-1.1zM1077.9 422.2h1.1v1.1h-1.1zM1077.5 432.4h1.1v1.1h-1.1zM1076.8 463.8h1.1v1.1h-1.1zM1040.7 508.2h1.1v1.1h-1.1zM1076.9 426h1.1v1.1h-1.1zM1076.7 379.1h1.1v1.1h-1.1zM1040.4 500.2h1.1v1.1h-1.1zM1040.9 378.2h1.1v1.1h-1.1zM1040.5 377.2h1.1v1.1h-1.1zM1076.6 511.2h1.1v1.1h-1.1zM1076.6 504h1.1v1.1h-1.1zM1040.1 367.5h1.1v1.1h-1.1zM1040 419.3h1.1v1.1h-1.1zM1078 383.9h1.1v1.1h-1.1zM1076.7 403.4h1.1v1.1h-1.1zM1039.8 506.1h1.1v1.1h-1.1zM1077.6 406.4h1.1v1.1h-1.1zM1040.1 362.1h1.1v1.1h-1.1zM1076.4 506.3h1.1v1.1h-1.1zM1039.9 405.9h1.1v1.1h-1.1zM1076.4 450h1.1v1.1h-1.1zM1077.1 471h1.1v1.1h-1.1zM1040.8 365.5h1.1v1.1h-1.1zM1077 422.4h1.1v1.1h-1.1zM1040 383.5h1.1v1.1h-1.1zM1077.3 450.4h1.1v1.1h-1.1zM1077.6 420.1h1.1v1.1h-1.1zM1077.2 429.5h1.1v1.1h-1.1zM1040.4 482.5h1.1v1.1h-1.1zM1077.1 457.5h1.1v1.1h-1.1zM1040.3 509.4h1.1v1.1h-1.1zM1040.6 415.6h1.1v1.1h-1.1zM1039.5 466.6h1.1v1.1h-1.1zM1076.7 366.3h1.1v1.1h-1.1zM1077.8 505.1h1.1v1.1h-1.1zM1077 404h1.1v1.1h-1.1zM1076.5 482.9h1.1v1.1h-1.1zM1040.9 422.1h1.1v1.1h-1.1zM1040.9 481.3h1.1v1.1h-1.1zM1077.3 437.5h1.1v1.1h-1.1zM1039.7 411.7h1.1v1.1h-1.1zM1039.5 493.3h1.1v1.1h-1.1zM1040.4 369.9h1.1v1.1h-1.1zM1076.4 453.4h1.1v1.1h-1.1zM1078 512.9h1.1v1.1h-1.1zM1077.6 430.6h1.1v1.1h-1.1zM1039.2 461.8h1.1v1.1h-1.1zM1076.6 483.4h1.1v1.1h-1.1zM1039.5 363.1h1.1v1.1h-1.1zM1040.6 373.7h1.1v1.1h-1.1zM1077.2 429.4h1.1v1.1h-1.1zM1077.2 422h1.1v1.1h-1.1zM1040.4 442.5h1.1v1.1h-1.1zM1040.6 410.8h1.1v1.1h-1.1zM1076.7 387.8h1.1v1.1h-1.1zM1040.8 429.5h1.1v1.1h-1.1zM1078.8 450.2h1.1v1.1h-1.1zM1076.4 380.8h1.1v1.1h-1.1zM1076.9 383.8h1.1v1.1h-1.1zM1040.7 374.7h1.1v1.1h-1.1zM1040.5 370h1.1v1.1h-1.1zM1040.8 411.5h1.1v1.1h-1.1zM1077.2 400.8h1.1v1.1h-1.1zM1076.8 427.8h1.1v1.1h-1.1zM1040.3 509.7h1.1v1.1h-1.1zM1040.1 444.8h1.1v1.1h-1.1zM1040.8 461.7h1.1v1.1h-1.1zM1076.6 405.8h1.1v1.1h-1.1zM1039.7 373.7h1.1v1.1h-1.1zM1076.9 384.8h1.1v1.1h-1.1zM1040.3 358h1.1v1.1h-1.1zM1039.5 505.1h1.1v1.1h-1.1zM1077.3 477.6h1.1v1.1h-1.1zM1040.6 369.7h1.1v1.1h-1.1zM1076.7 481.5h1.1v1.1h-1.1zM1040.8 439.8h1.1v1.1h-1.1zM1076.9 382.7h1.1v1.1h-1.1zM1077.8 374.8h1.1v1.1h-1.1zM1076.9 448.7h1.1v1.1h-1.1zM1039.2 492.9h1.1v1.1h-1.1zM1077.7 363.6h1.1v1.1h-1.1zM1077.2 491.4h1.1v1.1h-1.1zM1040 366.9h1.1v1.1h-1.1zM1077 425h1.1v1.1h-1.1zM1077.3 421h1.1v1.1h-1.1zM1040.3 401.7h1.1v1.1h-1.1zM1040.4 427.9h1.1v1.1h-1.1zM1077.2 363.8h1.1v1.1h-1.1zM1040.7 475.9h1.1v1.1h-1.1zM1040.8 431.8h1.1v1.1h-1.1zM1040.5 356.8h1.1v1.1h-1.1zM1076.5 480.2h1.1v1.1h-1.1zM1076.4 371h1.1v1.1h-1.1zM1039.9 497.4h1.1v1.1h-1.1zM1078.1 462.5h1.1v1.1h-1.1zM1040.4 488.3h1.1v1.1h-1.1zM1040.5 440.8h1.1v1.1h-1.1zM1040.6 356.7h1.1v1.1h-1.1zM1077.3 498h1.1v1.1h-1.1zM1077.5 404.3h1.1v1.1h-1.1zM1040.3 356.7h1.1v1.1h-1.1zM1076.9 465.5h1.1v1.1h-1.1zM1039.8 428.8h1.1v1.1h-1.1zM1077.1 367.8h1.1v1.1h-1.1zM1076.9 431.7h1.1v1.1h-1.1zM1039.9 483.6h1.1v1.1h-1.1zM1040.6 399h1.1v1.1h-1.1zM1077.1 437.3h1.1v1.1h-1.1zM1040.8 358.6h1.1v1.1h-1.1zM1076.9 500.4h1.1v1.1h-1.1zM1076.8 451.8h1.1v1.1h-1.1zM1040.3 503.5h1.1v1.1h-1.1zM1040.8 460h1.1v1.1h-1.1zM1077.8 498h1.1v1.1h-1.1zM1076.9 399.7h1.1v1.1h-1.1zM1077 499.7h1.1v1.1h-1.1zM1076.4 507.2h1.1v1.1h-1.1zM1040.5 383.2h1.1v1.1h-1.1zM1077.3 506.3h1.1v1.1h-1.1zM1039.7 445.5h1.1v1.1h-1.1zM1040.6 473.6h1.1v1.1h-1.1zM1076.5 471.5h1.1v1.1h-1.1zM1076.7 363.1h1.1v1.1h-1.1zM1040.5 365h1.1v1.1h-1.1zM1076.6 476.3h1.1v1.1h-1.1zM1039.4 428.9h1.1v1.1h-1.1zM1039.5 486h1.1v1.1h-1.1zM1038.9 501.4h1.1v1.1h-1.1zM1076.9 377.4h1.1v1.1h-1.1zM1039.9 461.9h1.1v1.1h-1.1zM1040.4 471.7h1.1v1.1h-1.1zM1040.3 366.9h1.1v1.1h-1.1zM1077.6 363.9h1.1v1.1h-1.1zM1077.3 507.8h1.1v1.1h-1.1zM1040 428.5h1.1v1.1h-1.1zM1040.2 413.6h1.1v1.1h-1.1zM1078.1 356.3h1.1v1.1h-1.1zM1039.2 449.7h1.1v1.1h-1.1zM1076.7 428.9h1.1v1.1h-1.1zM1039.9 501.1h1.1v1.1h-1.1zM1076.5 513h1.1v1.1h-1.1zM1040.6 473.6h1.1v1.1h-1.1zM1076.6 370.1h1.1v1.1h-1.1zM1040.7 454.2h1.1v1.1h-1.1zM1077.5 407.1h1.1v1.1h-1.1zM1077 409.4h1.1v1.1h-1.1zM1077.1 466.3h1.1v1.1h-1.1zM1040.6 477.7h1.1v1.1h-1.1zM1076.8 493h1.1v1.1h-1.1zM1040.8 474.2h1.1v1.1h-1.1zM1077.8 425.1h1.1v1.1h-1.1zM1078 436.6h1.1v1.1h-1.1zM1076.6 365h1.1v1.1h-1.1zM1076.6 390.2h1.1v1.1h-1.1zM1076.9 427.6h1.1v1.1h-1.1zM1039.8 499.2h1.1v1.1h-1.1zM1077.3 395.7h1.1v1.1h-1.1zM1040.3 367.6h1.1v1.1h-1.1zM1040.7 436.9h1.1v1.1h-1.1zM1077.7 376.4h1.1v1.1h-1.1zM1077.7 491.6h1.1v1.1h-1.1zM1040.7 361.8h1.1v1.1h-1.1zM1040.7 374.1h1.1v1.1h-1.1zM1040.2 478h1.1v1.1h-1.1zM1077.2 421.2h1.1v1.1h-1.1zM1039.9 418.4h1.1v1.1h-1.1zM1040.6 385.8h1.1v1.1h-1.1zM1076.6 513h1.1v1.1h-1.1zM1077.9 363.4h1.1v1.1h-1.1zM1039.5 402.5h1.1v1.1h-1.1zM1040.8 369h1.1v1.1h-1.1zM1076.6 414h1.1v1.1h-1.1zM1040.5 404.2h1.1v1.1h-1.1zM1040.8 360.3h1.1v1.1h-1.1zM1040.9 406.7h1.1v1.1h-1.1zM1040.4 509h1.1v1.1h-1.1zM1077.2 502.1h1.1v1.1h-1.1zM1040.6 402.4h1.1v1.1h-1.1zM1077.5 356h1.1v1.1h-1.1zM1077.6 362.9h1.1v1.1h-1.1zM1076.7 391.4h1.1v1.1h-1.1zM1076.5 425.6h1.1v1.1h-1.1zM1040.9 425.4h1.1v1.1h-1.1zM1040.1 443.5h1.1v1.1h-1.1zM1040.7 469h1.1v1.1h-1.1zM1077 387.2h1.1v1.1h-1.1zM1076.6 512.4h1.1v1.1h-1.1zM1076.5 374.7h1.1v1.1h-1.1zM1077 495.4h1.1v1.1h-1.1zM1040.8 444.6h1.1v1.1h-1.1zM1077.7 394h1.1v1.1h-1.1zM1077.1 451.7h1.1v1.1h-1.1zM1077.1 357.9h1.1v1.1h-1.1zM1040.1 457.7h1.1v1.1h-1.1zM1077 448.4h1.1v1.1h-1.1zM1077.2 463.7h1.1v1.1h-1.1zM1040.1 496.2h1.1v1.1h-1.1zM1039.6 483.4h1.1v1.1h-1.1zM1078.8 426.2h1.1v1.1h-1.1zM1076.8 401.5h1.1v1.1h-1.1zM1076.5 477.6h1.1v1.1h-1.1zM1039.2 453.4h1.1v1.1h-1.1zM1039.9 512.3h1.1v1.1h-1.1zM1040.6 413.7h1.1v1.1h-1.1zM1040.3 388.7h1.1v1.1h-1.1zM1040.2 425.6h1.1v1.1h-1.1zM1040.1 505.8h1.1v1.1h-1.1zM1040.5 365.6h1.1v1.1h-1.1zM1076.7 436.3h1.1v1.1h-1.1zM1040.7 367.8h1.1v1.1h-1.1zM1077.4 380.9h1.1v1.1h-1.1zM1040.3 505.4h1.1v1.1h-1.1zM1077.8 359.2h1.1v1.1h-1.1zM1040.2 396.7h1.1v1.1h-1.1zM1078 390.1h1.1v1.1h-1.1zM1039.9 388.4h1.1v1.1h-1.1zM1076.5 370.3h1.1v1.1h-1.1zM1040.8 447h1.1v1.1h-1.1zM1039.7 385.1h1.1v1.1h-1.1zM1040.2 401.5h1.1v1.1h-1.1zM1040.3 396.5h1.1v1.1h-1.1zM1040.4 507h1.1v1.1h-1.1zM1040.8 404.8h1.1v1.1h-1.1zM1039.8 394.9h1.1v1.1h-1.1zM1040.2 371.5h1.1v1.1h-1.1zM1040.3 355.8h1.1v1.1h-1.1zM1040.1 451.3h1.1v1.1h-1.1zM1077.2 407h1.1v1.1h-1.1zM1077.3 512.6h1.1v1.1h-1.1zM1039.9 391.3h1.1v1.1h-1.1zM1039.4 394.1h1.1v1.1h-1.1zM1040.3 451.7h1.1v1.1h-1.1zM1040.6 463.2h1.1v1.1h-1.1zM1039.9 405.1h1.1v1.1h-1.1zM1078.4 446.8h1.1v1.1h-1.1zM1040.5 452.6h1.1v1.1h-1.1zM1039.7 463.8h1.1v1.1h-1.1zM1076.5 448.4h1.1v1.1h-1.1zM1040.6 430.3h1.1v1.1h-1.1zM1040 464.8h1.1v1.1h-1.1zM1077.2 503.4h1.1v1.1h-1.1zM1077.1 477.4h1.1v1.1h-1.1zM1078.1 404.5h1.1v1.1h-1.1zM1076.5 378.8h1.1v1.1h-1.1zM1077 437.9h1.1v1.1h-1.1zM1040.3 369.4h1.1v1.1h-1.1zM1040.7 490.8h1.1v1.1h-1.1zM1077.3 473.3h1.1v1.1h-1.1zM1077.4 461.4h1.1v1.1h-1.1zM1077.1 509.5h1.1v1.1h-1.1zM1077.2 473.7h1.1v1.1h-1.1zM1040.8 381.8h1.1v1.1h-1.1zM1040.5 382.6h1.1v1.1h-1.1zM1040.9 491.8h1.1v1.1h-1.1zM1040.1 442.7h1.1v1.1h-1.1zM1076.9 381.6h1.1v1.1h-1.1zM1076.7 414.2h1.1v1.1h-1.1zM1076.7 441.1h1.1v1.1h-1.1zM1077.3 445.1h1.1v1.1h-1.1zM1078.2 450.6h1.1v1.1h-1.1zM1040.4 409.7h1.1v1.1h-1.1zM1040.6 425.9h1.1v1.1h-1.1zM1077.4 425h1.1v1.1h-1.1zM1077.8 429.5h1.1v1.1h-1.1zM1077 383.6h1.1v1.1h-1.1zM1077.1 512.2h1.1v1.1h-1.1zM1077.3 464.1h1.1v1.1h-1.1zM1077.1 418h1.1v1.1h-1.1zM1078.3 447.2h1.1v1.1h-1.1zM1040.1 473.4h1.1v1.1h-1.1zM1077.8 439.1h1.1v1.1h-1.1zM1040.6 502.6h1.1v1.1h-1.1zM1040.2 489.4h1.1v1.1h-1.1zM1040.7 430.8h1.1v1.1h-1.1zM1040.6 449.3h1.1v1.1h-1.1zM1076.9 414.7h1.1v1.1h-1.1zM1040.6 423.4h1.1v1.1h-1.1zM1077.3 483.3h1.1v1.1h-1.1zM1040.4 392.4h1.1v1.1h-1.1zM1040.6 464.7h1.1v1.1h-1.1zM1076.4 357.3h1.1v1.1h-1.1zM1079.1 408.5h1.1v1.1h-1.1zM1040.8 383.8h1.1v1.1h-1.1zM1038.4 491.3h1.1v1.1h-1.1zM1040.7 368.9h1.1v1.1h-1.1zM1040.3 378.9h1.1v1.1h-1.1zM1040.4 426.2h1.1v1.1h-1.1zM1039.4 480.2h1.1v1.1h-1.1zM1040.4 491.8h1.1v1.1h-1.1zM1076.4 444.6h1.1v1.1h-1.1zM1077.8 356.8h1.1v1.1h-1.1zM1077 477.5h1.1v1.1h-1.1zM1077.3 511.5h1.1v1.1h-1.1zM1077.3 501.8h1.1v1.1h-1.1zM1076.5 412.1h1.1v1.1h-1.1zM1077.2 481.1h1.1v1.1h-1.1zM1039.8 436.8h1.1v1.1h-1.1zM1076.7 406.3h1.1v1.1h-1.1zM1077.2 468.9h1.1v1.1h-1.1zM1076.5 468.9h1.1v1.1h-1.1zM1077.1 402.9h1.1v1.1h-1.1zM1040.5 446.5h1.1v1.1h-1.1zM1040.9 418.3h1.1v1.1h-1.1zM1076.8 471.1h1.1v1.1h-1.1zM1040 460.7h1.1v1.1h-1.1zM1040.6 427.1h1.1v1.1h-1.1zM1040.6 392.7h1.1v1.1h-1.1zM1039.8 438.9h1.1v1.1h-1.1zM1040.6 391.1h1.1v1.1h-1.1zM1077.8 456.5h1.1v1.1h-1.1zM1078.2 420.8h1.1v1.1h-1.1zM1039.3 486.9h1.1v1.1h-1.1zM1039.8 401.2h1.1v1.1h-1.1zM1040.6 423.7h1.1v1.1h-1.1zM1040.4 382.9h1.1v1.1h-1.1zM1040.4 423.7h1.1v1.1h-1.1zM1077.3 477.4h1.1v1.1h-1.1zM1076.7 458.9h1.1v1.1h-1.1zM1076.5 392.5h1.1v1.1h-1.1zM1076.5 399.7h1.1v1.1h-1.1zM1038.4 441h1.1v1.1h-1.1zM1039.6 481.7h1.1v1.1h-1.1zM1077.1 366.4h1.1v1.1h-1.1zM1039.9 438.6h1.1v1.1h-1.1zM1039.4 475.5h1.1v1.1h-1.1zM1040.9 401.5h1.1v1.1h-1.1zM1039.8 427.3h1.1v1.1h-1.1zM1076.5 431.7h1.1v1.1h-1.1zM1039.5 470.2h1.1v1.1h-1.1zM1076.6 365.7h1.1v1.1h-1.1zM1076.6 505.4h1.1v1.1h-1.1zM1039.3 437.8h1.1v1.1h-1.1zM1076.4 491.2h1.1v1.1h-1.1zM1040 447.7h1.1v1.1h-1.1zM1040.8 474.3h1.1v1.1h-1.1zM1076.5 438.9h1.1v1.1h-1.1zM1076.8 415.1h1.1v1.1h-1.1zM1039.2 410.8h1.1v1.1h-1.1zM1076.6 386.6h1.1v1.1h-1.1zM1076.9 416.7h1.1v1.1h-1.1zM1076.7 394.6h1.1v1.1h-1.1zM1040.5 419.1h1.1v1.1h-1.1zM1038.9 397.4h1.1v1.1h-1.1zM1077.4 495.1h1.1v1.1h-1.1zM1077.2 489h1.1v1.1h-1.1zM1076.8 413.4h1.1v1.1h-1.1zM1077.8 419h1.1v1.1h-1.1zM1076.5 367.4h1.1v1.1h-1.1zM1040.2 363.9h1.1v1.1h-1.1zM1039.9 392.9h1.1v1.1h-1.1zM1076.4 421.2h1.1v1.1h-1.1zM1039.9 406.9h1.1v1.1h-1.1zM1040.4 440.5h1.1v1.1h-1.1zM1039.9 479.3h1.1v1.1h-1.1zM1040.6 415.3h1.1v1.1h-1.1zM1040.3 373.7h1.1v1.1h-1.1zM1040 463.2h1.1v1.1h-1.1zM1039.2 462.8h1.1v1.1h-1.1zM1076.5 402.7h1.1v1.1h-1.1zM1076.5 485.8h1.1v1.1h-1.1zM1040.7 459.4h1.1v1.1h-1.1zM1077.3 489.9h1.1v1.1h-1.1zM1040.8 514.2h1.1v1.1h-1.1zM1077.5 457.4h1.1v1.1h-1.1zM1039.8 514h1.1v1.1h-1.1zM1076.5 481.9h1.1v1.1h-1.1zM1076.9 479.6h1.1v1.1h-1.1zM1040.1 413.6h1.1v1.1h-1.1zM1078.3 416.8h1.1v1.1h-1.1zM1076.9 372.2h1.1v1.1h-1.1zM1077.9 481.8h1.1v1.1h-1.1zM1039.9 426.9h1.1v1.1h-1.1zM1040.5 392.5h1.1v1.1h-1.1zM1077.7 454.5h1.1v1.1h-1.1zM1076.5 509.4h1.1v1.1h-1.1zM1077.8 418.4h1.1v1.1h-1.1zM1077.3 359.6h1.1v1.1h-1.1zM1039.4 466.8h1.1v1.1h-1.1zM1040.7 465.3h1.1v1.1h-1.1zM1076.6 484h1.1v1.1h-1.1zM1040.5 401.2h1.1v1.1h-1.1zM1040.6 437.4h1.1v1.1h-1.1zM1076.7 489.4h1.1v1.1h-1.1zM1040.5 506.6h1.1v1.1h-1.1zM1076.5 389h1.1v1.1h-1.1zM1040.4 382.2h1.1v1.1h-1.1zM1040.6 499h1.1v1.1h-1.1zM1040.4 428h1.1v1.1h-1.1zM1077.6 458.6h1.1v1.1h-1.1zM1040.6 483.7h1.1v1.1h-1.1zM1039.9 464.4h1.1v1.1h-1.1zM1040 383.4h1.1v1.1h-1.1zM1039.6 456.6h1.1v1.1h-1.1zM1040.8 416.1h1.1v1.1h-1.1zM1040.8 490.8h1.1v1.1h-1.1zM1077.8 492.6h1.1v1.1h-1.1zM1039.9 474.7h1.1v1.1h-1.1zM1039.2 510.8h1.1v1.1h-1.1zM1076.5 472.9h1.1v1.1h-1.1zM1077.8 491h1.1v1.1h-1.1zM1039.7 499.7h1.1v1.1h-1.1zM1077 445.2h1.1v1.1h-1.1zM1077.4 428.8h1.1v1.1h-1.1zM1078.5 408.7h1.1v1.1h-1.1zM1077.3 504.9h1.1v1.1h-1.1zM1076.8 402.8h1.1v1.1h-1.1zM1040.3 453.9h1.1v1.1h-1.1zM1039.8 425.1h1.1v1.1h-1.1zM1077.1 500.8h1.1v1.1h-1.1zM1040.7 364.4h1.1v1.1h-1.1zM1039.7 480.3h1.1v1.1h-1.1zM1039.2 492.1h1.1v1.1h-1.1zM1076.6 412.6h1.1v1.1h-1.1zM1040.8 451.7h1.1v1.1h-1.1zM1040.8 369.3h1.1v1.1h-1.1zM1076.9 432.2h1.1v1.1h-1.1zM1076.7 431.7h1.1v1.1h-1.1zM1077.2 504.6h1.1v1.1h-1.1zM1076.6 482.4h1.1v1.1h-1.1zM1040.1 397.9h1.1v1.1h-1.1zM1076.5 370.6h1.1v1.1h-1.1zM1077.4 489.9h1.1v1.1h-1.1zM1077 409.6h1.1v1.1h-1.1zM1076.4 447h1.1v1.1h-1.1zM1076.9 511.1h1.1v1.1h-1.1zM1040.7 490h1.1v1.1h-1.1zM1077.3 400.8h1.1v1.1h-1.1zM1040.3 455.4h1.1v1.1h-1.1zM1039.2 429.4h1.1v1.1h-1.1zM1040.2 478.9h1.1v1.1h-1.1zM1076.9 479.7h1.1v1.1h-1.1zM1040.7 378.3h1.1v1.1h-1.1zM1040.6 470h1.1v1.1h-1.1zM1076.6 367h1.1v1.1h-1.1zM1040.8 502h1.1v1.1h-1.1zM1077.5 480.5h1.1v1.1h-1.1zM1076.5 357.5h1.1v1.1h-1.1zM1076.7 422.7h1.1v1.1h-1.1zM1076.5 425.5h1.1v1.1h-1.1zM1040.9 437.2h1.1v1.1h-1.1zM1077.4 405.7h1.1v1.1h-1.1zM1040.8 405h1.1v1.1h-1.1zM1076.9 432h1.1v1.1h-1.1zM1040.2 508h1.1v1.1h-1.1zM1077.5 390.7h1.1v1.1h-1.1zM1040.5 384.4h1.1v1.1h-1.1zM1076.7 432.3h1.1v1.1h-1.1zM1040.5 393.6h1.1v1.1h-1.1zM1039.9 441.6h1.1v1.1h-1.1zM1039.8 491.2h1.1v1.1h-1.1zM1077 444.6h1.1v1.1h-1.1zM1040.7 393.4h1.1v1.1h-1.1zM1076.7 395.9h1.1v1.1h-1.1zM1040.7 378.8h1.1v1.1h-1.1zM1076.9 422.8h1.1v1.1h-1.1zM1040.4 366.2h1.1v1.1h-1.1zM1076.6 452.3h1.1v1.1h-1.1zM1078.3 496.1h1.1v1.1h-1.1zM1077.2 513.7h1.1v1.1h-1.1zM1077.5 473h1.1v1.1h-1.1zM1077 483.6h1.1v1.1h-1.1zM1076.7 360.5h1.1v1.1h-1.1zM1040.7 450.5h1.1v1.1h-1.1zM1077.7 473.1h1.1v1.1h-1.1zM1078.3 501.3h1.1v1.1h-1.1zM1076.8 435.1h1.1v1.1h-1.1zM1076.4 390.7h1.1v1.1h-1.1zM1076.4 388.7h1.1v1.1h-1.1zM1076.8 410.5h1.1v1.1h-1.1zM1040.8 453.3h1.1v1.1h-1.1zM1078.1 435.8h1.1v1.1h-1.1zM1040.8 461.5h1.1v1.1h-1.1zM1040.7 512.2h1.1v1.1h-1.1zM1039.4 502.2h1.1v1.1h-1.1zM1039.4 381.4h1.1v1.1h-1.1zM1040 502.1h1.1v1.1h-1.1zM1040.6 366.1h1.1v1.1h-1.1zM1039.8 404.2h1.1v1.1h-1.1zM1040.5 481.1h1.1v1.1h-1.1zM1077 399.2h1.1v1.1h-1.1zM1076.6 400.9h1.1v1.1h-1.1zM1076.6 416.9h1.1v1.1h-1.1zM1040.8 484.8h1.1v1.1h-1.1zM1040.7 460.4h1.1v1.1h-1.1zM1077.5 359.3h1.1v1.1h-1.1zM1039.4 436.1h1.1v1.1h-1.1zM1040.7 491.1h1.1v1.1h-1.1zM1076.4 393.5h1.1v1.1h-1.1zM1040.6 460.3h1.1v1.1h-1.1zM1040.7 494.8h1.1v1.1h-1.1zM1077.4 405.5h1.1v1.1h-1.1zM1040.4 448.5h1.1v1.1h-1.1zM1039.6 456.2h1.1v1.1h-1.1zM1040.8 385.5h1.1v1.1h-1.1zM1040.8 507.2h1.1v1.1h-1.1zM1077 358h1.1v1.1h-1.1zM1076.7 458.1h1.1v1.1h-1.1zM1076.7 398.2h1.1v1.1h-1.1zM1040.1 469.2h1.1v1.1h-1.1zM1040.9 367.7h1.1v1.1h-1.1zM1077.2 355.6h1.1v1.1h-1.1zM1075.5 513.4h1.1v1.1h-1.1zM1064.7 352.7h1.1v1.1h-1.1zM1064.7 517h1.1v1.1h-1.1zM1077.3 356.1h1.1v1.1h-1.1zM1075.9 512.8h1.1v1.1h-1.1zM1052.9 353h1.1v1.1h-1.1zM1053.5 516.7h1.1v1.1h-1.1zM1062.1 352.3h1.1v1.1h-1.1zM1062.2 515.9h1.1v1.1h-1.1zM1077.4 356.2h1.1v1.1h-1.1zM1076.5 512.9h1.1v1.1h-1.1zM1042.8 354.2h1.1v1.1h-1.1zM1044 515.4h1.1v1.1h-1.1zM1077 356.5h1.1v1.1h-1.1zM1076.4 512.7h1.1v1.1h-1.1zM1074.4 354.7h1.1v1.1h-1.1zM1075.5 514.7h1.1v1.1h-1.1zM1073.8 354.3h1.1v1.1h-1.1zM1074 514.1h1.1v1.1h-1.1zM1055.1 353.2h1.1v1.1h-1.1zM1054.8 516h1.1v1.1h-1.1zM1069.2 353h1.1v1.1h-1.1zM1069.8 515.2h1.1v1.1h-1.1zM1068.8 353.5h1.1v1.1h-1.1zM1069.5 515.3h1.1v1.1h-1.1zM1045.8 354.1h1.1v1.1h-1.1zM1046.8 515h1.1v1.1h-1.1zM1073.7 354.3h1.1v1.1h-1.1zM1074.3 514h1.1v1.1h-1.1zM1076.9 355.1h1.1v1.1h-1.1zM1077.1 513.3h1.1v1.1h-1.1zM1068.6 352.2h1.1v1.1h-1.1zM1069.4 515.6h1.1v1.1h-1.1zM1046.5 354.2h1.1v1.1h-1.1zM1047.5 515.4h1.1v1.1h-1.1zM1076.6 356.3h1.1v1.1h-1.1zM1077.7 512.9h1.1v1.1h-1.1zM1047.6 353.3h1.1v1.1h-1.1zM1047.3 515.7h1.1v1.1h-1.1zM1045.9 353.4h1.1v1.1h-1.1zM1044.9 516h1.1v1.1h-1.1zM1041.1 354.6h1.1v1.1h-1.1zM1041.9 514h1.1v1.1h-1.1zM1043.4 353.9h1.1v1.1h-1.1zM1042.9 514.6h1.1v1.1h-1.1zM1048.1 353.6h1.1v1.1h-1.1zM1049 517.9h1.1v1.1h-1.1zM1066.6 353.4h1.1v1.1h-1.1zM1066 515.4h1.1v1.1h-1.1zM1041.5 355.6h1.1v1.1h-1.1zM1042.8 513.6h1.1v1.1h-1.1zM1048.9 353.4h1.1v1.1h-1.1zM1049.4 516.7h1.1v1.1h-1.1zM1041.8 356.1h1.1v1.1h-1.1zM1041.6 512.6h1.1v1.1h-1.1zM1069.6 352.9h1.1v1.1h-1.1zM1068.3 515.9h1.1v1.1h-1.1zM1045.5 354.1h1.1v1.1h-1.1zM1044.3 515.3h1.1v1.1h-1.1zM1069.3 353.4h1.1v1.1h-1.1zM1068.9 515.3h1.1v1.1h-1.1zM1051.2 352.8h1.1v1.1h-1.1zM1051.1 515.5h1.1v1.1h-1.1zM1041.2 355.7h1.1v1.1h-1.1zM1042.4 512.9h1.1v1.1h-1.1zM1076.6 354.6h1.1v1.1h-1.1zM1076.7 513.2h1.1v1.1h-1.1zM1042.8 355.3h1.1v1.1h-1.1zM1042.3 513.6h1.1v1.1h-1.1zM1076.1 355h1.1v1.1h-1.1zM1076 513.9h1.1v1.1h-1.1zM1045 354.2h1.1v1.1h-1.1zM1044.7 515.4h1.1v1.1h-1.1zM1047.2 353.7h1.1v1.1h-1.1zM1048.3 515.2h1.1v1.1h-1.1zM1046.9 353.9h1.1v1.1h-1.1zM1048.1 515.1h1.1v1.1h-1.1zM1041.9 355.3h1.1v1.1h-1.1zM1041.9 514.2h1.1v1.1h-1.1zM1072.7 353.9h1.1v1.1h-1.1zM1072.4 515.7h1.1v1.1h-1.1zM1066.5 353.3h1.1v1.1h-1.1zM1065.6 516.4h1.1v1.1h-1.1zM1041.7 356.4h1.1v1.1h-1.1zM1042.2 513.1h1.1v1.1h-1.1zM1060.7 352.4h1.1v1.1h-1.1zM1060.8 516.9h1.1v1.1h-1.1zM1053.3 353.1h1.1v1.1h-1.1zM1052.4 515.8h1.1v1.1h-1.1zM1044.3 354.2h1.1v1.1h-1.1zM1043.9 514.1h1.1v1.1h-1.1zM1041.4 355.6h1.1v1.1h-1.1zM1041.6 513.1h1.1v1.1h-1.1zM1057.8 352.9h1.1v1.1h-1.1zM1057.7 516.8h1.1v1.1h-1.1zM1049.8 353.6h1.1v1.1h-1.1zM1049.8 515.5h1.1v1.1h-1.1zM1066.6 353.5h1.1v1.1h-1.1zM1066.4 515.5h1.1v1.1h-1.1zM1058.7 353h1.1v1.1h-1.1zM1057.7 517.2h1.1v1.1h-1.1zM1075 355.2h1.1v1.1h-1.1zM1075.5 515.2h1.1v1.1h-1.1zM1042.3 355.3h1.1v1.1h-1.1zM1040.8 513.2h1.1v1.1h-1.1zM1060.1 353.2h1.1v1.1h-1.1zM1059.5 516.4h1.1v1.1h-1.1zM1047 354.1h1.1v1.1h-1.1zM1046.4 516.1h1.1v1.1h-1.1zM1062.5 353h1.1v1.1h-1.1zM1062.2 516.1h1.1v1.1h-1.1zM1077.2 356.3h1.1v1.1h-1.1zM1076.2 513.7h1.1v1.1h-1.1zM1056.7 353.3h1.1v1.1h-1.1zM1056.2 516.5h1.1v1.1h-1.1zM1065.1 352.7h1.1v1.1h-1.1zM1065.2 515.4h1.1v1.1h-1.1zM1055.8 353.1h1.1v1.1h-1.1zM1055.7 516.7h1.1v1.1h-1.1zM1052 353.4h1.1v1.1h-1.1zM1051.6 515.3h1.1v1.1h-1.1zM1076.9 355.3h1.1v1.1h-1.1zM1076.7 513.3h1.1v1.1h-1.1zM1059.4 352.6h1.1v1.1h-1.1zM1060.6 517.8h1.1v1.1h-1.1zM1042.2 355.4h1.1v1.1h-1.1zM1042.7 513.6h1.1v1.1h-1.1zM1075.5 355.1h1.1v1.1h-1.1zM1075.6 513.7h1.1v1.1h-1.1zM1044 354.9h1.1v1.1h-1.1zM1043.4 515.4h1.1v1.1h-1.1zM1056.3 352.6h1.1v1.1h-1.1zM1057 516h1.1v1.1h-1.1zM1060.8 352.2h1.1v1.1h-1.1zM1060.4 515.9h1.1v1.1h-1.1zM1040.6 354.8h1.1v1.1h-1.1zM1042.4 513.1h1.1v1.1h-1.1zM1072.3 353.2h1.1v1.1h-1.1zM1071.3 515.7h1.1v1.1h-1.1zM1040.3 355.5h1.1v1.1h-1.1zM1039.8 512.6h1.1v1.1h-1.1zM1059.4 353.1h1.1v1.1h-1.1zM1058.8 516.1h1.1v1.1h-1.1zM1063.8 352.8h1.1v1.1h-1.1zM1063.5 517.4h1.1v1.1h-1.1zM1075.3 354.9h1.1v1.1h-1.1zM1076 513.6h1.1v1.1h-1.1zM1069.9 353.7h1.1v1.1h-1.1zM1069.3 515.6h1.1v1.1h-1.1zM1041.6 355.3h1.1v1.1h-1.1zM1042.5 514h1.1v1.1h-1.1zM1061.4 353.2h1.1v1.1h-1.1zM1061.6 516.2h1.1v1.1h-1.1zM1061.4 352.7h1.1v1.1h-1.1zM1061.1 516h1.1v1.1h-1.1zM1048.2 353.6h1.1v1.1h-1.1zM1047.9 515.5h1.1v1.1h-1.1zM1075.5 355h1.1v1.1h-1.1zM1076.1 514.2h1.1v1.1h-1.1zM1069.5 353.7h1.1v1.1h-1.1zM1069.4 515.4h1.1v1.1h-1.1zM1063 353.3h1.1v1.1h-1.1zM1063.1 516.4h1.1v1.1h-1.1zM1059.2 352.9h1.1v1.1h-1.1zM1060.7 516.3h1.1v1.1h-1.1zM1045.9 353.6h1.1v1.1h-1.1zM1047.7 516.2h1.1v1.1h-1.1zM1043.9 354.7h1.1v1.1h-1.1zM1042.8 514.1h1.1v1.1h-1.1zM1042.4 355.4h1.1v1.1h-1.1zM1040.9 514.2h1.1v1.1h-1.1zM1070.9 352.9h1.1v1.1h-1.1zM1071.3 515.2h1.1v1.1h-1.1zM1069.4 353.7h1.1v1.1h-1.1zM1069.9 514.9h1.1v1.1h-1.1zM1045.4 354.1h1.1v1.1h-1.1zM1046.3 514.9h1.1v1.1h-1.1zM1047.3 353h1.1v1.1h-1.1zM1048.8 516.6h1.1v1.1h-1.1zM1058.9 353.2h1.1v1.1h-1.1zM1059.1 516.6h1.1v1.1h-1.1zM1044.3 354.3h1.1v1.1h-1.1zM1042.8 514.1h1.1v1.1h-1.1zM1050.4 353.4h1.1v1.1h-1.1zM1050 515.7h1.1v1.1h-1.1zM1048.4 353.9h1.1v1.1h-1.1zM1049.2 514.9h1.1v1.1h-1.1zM1058.4 353h1.1v1.1h-1.1zM1058.1 515.6h1.1v1.1h-1.1zM1076 354.9h1.1v1.1h-1.1zM1075.4 513.7h1.1v1.1h-1.1zM1055.7 352.7h1.1v1.1h-1.1zM1055.4 517.8h1.1v1.1h-1.1zM1066.7 353.2h1.1v1.1h-1.1zM1068.4 515.4h1.1v1.1h-1.1zM1065.8 353.1h1.1v1.1h-1.1zM1065.2 515.6h1.1v1.1h-1.1zM1068.1 353.3h1.1v1.1h-1.1zM1069.6 515.3h1.1v1.1h-1.1z" fill="#4a36bc" fill-opacity="0.8"/>
<path d="M935.5 325.3L935.5 481.8" stroke="#7a7a7a" stroke-width="1"/>
<path d="M935.5 481.8L997.6 537.8L1222.6 522.6" stroke="#6a6a6a" stroke-width="0.9" fill="none"/>
<path d="M997.6 537.8L1001.7 541.5" stroke="#6a6a6a" stroke-width="0.9"/>
<path d="M997.6 537.8L991.1 538.2" stroke="#6a6a6a" stroke-width="0.9"/>
<path d="M1110.1 530.2L1114.2 533.9" stroke="#6a6a6a" stroke-width="0.9"/>
<path d="M966.6 509.8L960.1 510.2" stroke="#6a6a6a" stroke-width="0.9"/>
<path d="M1222.6 522.6L1226.7 526.3" stroke="#6a6a6a" stroke-width="0.9"/>
<path d="M935.5 325.3L930.9 322.5" stroke="#6a6a6a" stroke-width="0.9"/>
<path d="M935.5 404.1L930.9 401.3" stroke="#6a6a6a" stroke-width="0.9"/>
<path d="M935.5 481.8L930.9 479" stroke="#6a6a6a" stroke-width="0.9"/>
<text class="t" x="881.7" y="332.3" font-size="27.5" textLength="46.2" lengthAdjust="spacingAndGlyphs">500</text>
<text class="t" x="881.7" y="406.1" font-size="27.5" textLength="46.2" lengthAdjust="spacingAndGlyphs">250</text>
<text class="t" x="912.3" y="476.8" font-size="27.5" textLength="15.6" lengthAdjust="spacingAndGlyphs">0</text>
<text class="t" x="897" y="497.2" font-size="27.5" textLength="28.5" lengthAdjust="spacingAndGlyphs">10</text>
<text class="t" x="935.4" y="522.7" font-size="27.5" textLength="16.3" lengthAdjust="spacingAndGlyphs">0</text>
<text class="t" x="932" y="549.2" font-size="27.5" textLength="52.7" lengthAdjust="spacingAndGlyphs">−10</text>
<text class="t" x="981.3" y="566.2" font-size="27.5" textLength="53" lengthAdjust="spacingAndGlyphs">−10</text>
<text class="t" x="1108.5" y="557.4" font-size="27.5" textLength="15.9" lengthAdjust="spacingAndGlyphs">0</text>
<text class="t" x="1218.3" y="549.9" font-size="27.5" textLength="28.2" lengthAdjust="spacingAndGlyphs">10</text>
<text class="i" x="1108.5" y="593.1" font-size="33" textLength="22.1" lengthAdjust="spacingAndGlyphs">X</text>
<text class="i" x="897.9" y="538" font-size="33" textLength="22.2" lengthAdjust="spacingAndGlyphs">Y</text>
<text class="i" transform="translate(867.5 403.5) rotate(-90)" font-size="33" textLength="18.7" lengthAdjust="spacingAndGlyphs">S</text>
<text class="t" x="948" y="357.5" font-size="28.5" textLength="41.1" lengthAdjust="spacingAndGlyphs">(g)</text>
<path d="M1373.4 481.4L1597.4 467.5L1597.4 312L1373.4 324.7" stroke="#e5e5e5" stroke-width="1" fill="none"/>
<path d="M1485.4 474.5L1485.4 318.4" stroke="#e5e5e5" stroke-width="1"/>
<path d="M1597.4 467.5L1658.6 522.2L1658.6 366.7L1597.4 312" stroke="#e5e5e5" stroke-width="1" fill="none"/>
<path d="M1628 494.9L1628 339.4" stroke="#e5e5e5" stroke-width="1"/>
<path d="M1546.5 530L1485.4 474.5" stroke="#e5e5e5" stroke-width="1"/>
<path d="M1403.9 509.6L1628 494.9" stroke="#e5e5e5" stroke-width="1"/>
<path d="M1373.4 403.5L1597.4 390.2L1658.6 444.9" stroke="#e5e5e5" stroke-width="1" fill="none"/>
<path d="M1484.7 346.2C1486.1 344.5 1491.8 343.3 1496 342.4C1500.2 341.5 1504.8 341.2 1510 341C1515.2 340.8 1522.3 340.5 1527 341.4C1531.7 342.3 1535 344.6 1538 346.5C1541 348.4 1544.3 350.8 1545.3 352.8C1546.3 354.8 1544.5 356.2 1544 358.5C1543.5 360.8 1542.9 364.1 1542.1 366.7C1541.3 369.3 1539.8 371.8 1539 374C1538.2 376.2 1537.6 377.7 1537 380C1536.4 382.3 1535.7 385.2 1535.2 388C1534.7 390.8 1534.1 394.2 1534.2 397C1534.3 399.8 1534.6 402.2 1535.6 405C1536.5 407.8 1539.4 409.3 1539.9 414C1540.5 418.7 1539.4 426.7 1538.9 433C1538.4 439.3 1537.4 445.8 1537 452C1536.6 458.2 1536.4 464.5 1536.4 470C1536.4 475.5 1536.9 479.5 1537 485C1537.1 490.5 1538.2 499.4 1537 503C1535.8 506.6 1533.7 505.6 1530 506.3C1526.3 507 1520 507.2 1515 507.2C1510 507.2 1503.6 506.9 1500 506.2C1496.4 505.5 1494.5 506.5 1493.4 503C1492.3 499.5 1493.5 490.5 1493.2 485C1492.9 479.5 1492.1 475.5 1491.8 470C1491.5 464.5 1491.4 458.2 1491.5 452C1491.6 445.8 1492.1 439.3 1492.4 433C1492.7 426.7 1493.5 418.7 1493.4 414C1493.3 409.3 1492.4 407.9 1492 405C1491.6 402.1 1491.1 399.4 1490.9 396.6C1490.7 393.8 1490.6 390.8 1490.6 388C1490.6 385.2 1490.5 382.3 1490.8 380C1491.1 377.7 1491.5 376.2 1492.2 374C1492.9 371.8 1495 369 1495 366.7C1495 364.4 1493.5 362.4 1492.3 360C1491 357.6 1488.8 354.8 1487.5 352.5C1486.2 350.2 1483.3 347.9 1484.7 346.2Z" fill="#3e28b2"/>
<radialGradient id="hcap"><stop offset="0" stop-color="#f2c020"/><stop offset=".16" stop-color="#9ccc40"/><stop offset=".32" stop-color="#2cc0c0"/><stop offset=".6" stop-color="#3a70f0" stop-opacity=".9"/><stop offset="1" stop-color="#3e28b2" stop-opacity="0"/></radialGradient>
<ellipse cx="1519.5" cy="344.3" rx="24" ry="5.2" fill="url(#hcap)" transform="rotate(3 1519.5 344.3)"/>
<path d="M1536.1 385.5h1.1v1.1h-1.1zM1489.7 437.4h1.1v1.1h-1.1zM1492.7 489.1h1.1v1.1h-1.1zM1490.5 457.3h1.1v1.1h-1.1zM1539.1 372.8h1.1v1.1h-1.1zM1541.5 367.3h1.1v1.1h-1.1zM1540.2 411.7h1.1v1.1h-1.1zM1534.5 395.6h1.1v1.1h-1.1zM1538.1 494.9h1.1v1.1h-1.1zM1536.5 457.6h1.1v1.1h-1.1zM1489.2 386.6h1.1v1.1h-1.1zM1541.8 425.6h1.1v1.1h-1.1zM1490.5 402.3h1.1v1.1h-1.1zM1493 363.5h1.1v1.1h-1.1zM1535.1 392.1h1.1v1.1h-1.1zM1491.7 423.3h1.1v1.1h-1.1zM1492.3 418.5h1.1v1.1h-1.1zM1489.3 393.6h1.1v1.1h-1.1zM1535.7 397h1.1v1.1h-1.1zM1492.1 363.3h1.1v1.1h-1.1zM1536.5 456.6h1.1v1.1h-1.1zM1538.3 499.5h1.1v1.1h-1.1zM1490 467.4h1.1v1.1h-1.1zM1489.9 462.9h1.1v1.1h-1.1zM1538.4 379.2h1.1v1.1h-1.1zM1489.7 384.7h1.1v1.1h-1.1zM1541.5 368.9h1.1v1.1h-1.1zM1492.6 367.9h1.1v1.1h-1.1zM1536.7 462.7h1.1v1.1h-1.1zM1535.6 393.8h1.1v1.1h-1.1zM1493.8 366.7h1.1v1.1h-1.1zM1537.9 444.3h1.1v1.1h-1.1zM1490.8 401h1.1v1.1h-1.1zM1534.8 389.4h1.1v1.1h-1.1zM1537.2 378h1.1v1.1h-1.1zM1490.8 454.6h1.1v1.1h-1.1zM1536.3 466.8h1.1v1.1h-1.1zM1489 386.2h1.1v1.1h-1.1zM1534.2 398.6h1.1v1.1h-1.1zM1535.7 405.8h1.1v1.1h-1.1zM1491.4 431.5h1.1v1.1h-1.1zM1540.1 413.9h1.1v1.1h-1.1zM1537.3 388.6h1.1v1.1h-1.1zM1492.2 485.9h1.1v1.1h-1.1zM1541.3 368.3h1.1v1.1h-1.1zM1489.2 381h1.1v1.1h-1.1zM1539.4 409h1.1v1.1h-1.1zM1487.9 384.3h1.1v1.1h-1.1zM1490.2 470.7h1.1v1.1h-1.1zM1484.7 351.8h1.1v1.1h-1.1zM1488.6 356.1h1.1v1.1h-1.1zM1485.5 350.7h1.1v1.1h-1.1zM1492.5 412.1h1.1v1.1h-1.1zM1539 434h1.1v1.1h-1.1zM1488.2 357.1h1.1v1.1h-1.1zM1539.7 421.5h1.1v1.1h-1.1zM1491.6 407.7h1.1v1.1h-1.1zM1493.6 364.9h1.1v1.1h-1.1zM1489.6 411.4h1.1v1.1h-1.1zM1542.9 371.2h1.1v1.1h-1.1zM1537.4 485.7h1.1v1.1h-1.1zM1537.4 408.5h1.1v1.1h-1.1zM1491.1 472.2h1.1v1.1h-1.1zM1537.2 382.7h1.1v1.1h-1.1zM1492.4 502.1h1.1v1.1h-1.1zM1534.5 399.1h1.1v1.1h-1.1zM1537.4 450.1h1.1v1.1h-1.1zM1536.4 477.1h1.1v1.1h-1.1zM1483.8 349.8h1.1v1.1h-1.1zM1491.6 360.7h1.1v1.1h-1.1zM1490.4 374.5h1.1v1.1h-1.1zM1491.7 371.8h1.1v1.1h-1.1zM1545.7 358.3h1.1v1.1h-1.1zM1490.2 379h1.1v1.1h-1.1zM1489.3 434h1.1v1.1h-1.1zM1537.5 376.9h1.1v1.1h-1.1zM1492.2 369h1.1v1.1h-1.1zM1536.4 456h1.1v1.1h-1.1zM1490.3 411.3h1.1v1.1h-1.1zM1487.7 355.3h1.1v1.1h-1.1zM1490.5 403.5h1.1v1.1h-1.1zM1490.2 438.4h1.1v1.1h-1.1zM1490.2 378.3h1.1v1.1h-1.1zM1485.2 349.6h1.1v1.1h-1.1zM1491 428h1.1v1.1h-1.1zM1534.7 401.6h1.1v1.1h-1.1zM1538.7 495.3h1.1v1.1h-1.1zM1539.8 432.1h1.1v1.1h-1.1zM1536.1 402.4h1.1v1.1h-1.1zM1539.1 434.5h1.1v1.1h-1.1zM1534.3 399.4h1.1v1.1h-1.1zM1534.4 400.3h1.1v1.1h-1.1zM1486.8 354.4h1.1v1.1h-1.1zM1539.2 417.9h1.1v1.1h-1.1zM1545 354h1.1v1.1h-1.1zM1491.7 435.4h1.1v1.1h-1.1zM1491.9 408.5h1.1v1.1h-1.1zM1493.1 364.7h1.1v1.1h-1.1zM1482.8 347.7h1.1v1.1h-1.1zM1536.9 471.2h1.1v1.1h-1.1zM1540.7 416.9h1.1v1.1h-1.1zM1489.9 357.8h1.1v1.1h-1.1zM1535.8 383.4h1.1v1.1h-1.1zM1536.9 382.2h1.1v1.1h-1.1zM1490.7 358.8h1.1v1.1h-1.1zM1491.5 473.8h1.1v1.1h-1.1zM1491.6 419.8h1.1v1.1h-1.1zM1485.5 350.6h1.1v1.1h-1.1zM1539.5 371.9h1.1v1.1h-1.1zM1544.5 358.5h1.1v1.1h-1.1zM1542.4 364.2h1.1v1.1h-1.1zM1537.3 405.1h1.1v1.1h-1.1zM1490.2 452h1.1v1.1h-1.1zM1490.3 395.8h1.1v1.1h-1.1zM1490.2 382.9h1.1v1.1h-1.1zM1492 365h1.1v1.1h-1.1zM1488.9 441.1h1.1v1.1h-1.1zM1537.5 487.2h1.1v1.1h-1.1zM1540.7 418h1.1v1.1h-1.1zM1488.1 394.8h1.1v1.1h-1.1zM1535 400.2h1.1v1.1h-1.1zM1492.5 502.2h1.1v1.1h-1.1zM1490.2 476.9h1.1v1.1h-1.1zM1537.3 472.1h1.1v1.1h-1.1zM1489.6 411.5h1.1v1.1h-1.1zM1490.2 398.9h1.1v1.1h-1.1zM1544.7 357.2h1.1v1.1h-1.1zM1540.3 436h1.1v1.1h-1.1zM1489.5 394.5h1.1v1.1h-1.1zM1491.5 479.9h1.1v1.1h-1.1zM1491.9 430.7h1.1v1.1h-1.1zM1490.7 401h1.1v1.1h-1.1zM1537.2 404.3h1.1v1.1h-1.1zM1542.6 362.5h1.1v1.1h-1.1zM1538.4 444.9h1.1v1.1h-1.1zM1485.5 350.7h1.1v1.1h-1.1zM1536.4 455.2h1.1v1.1h-1.1zM1490.7 400.6h1.1v1.1h-1.1zM1544.7 354h1.1v1.1h-1.1zM1490.9 361h1.1v1.1h-1.1zM1492.9 363.8h1.1v1.1h-1.1zM1489.4 451.9h1.1v1.1h-1.1zM1490.4 427.6h1.1v1.1h-1.1zM1490.4 462.7h1.1v1.1h-1.1zM1539.6 427.2h1.1v1.1h-1.1zM1488 393.4h1.1v1.1h-1.1zM1536.6 466.5h1.1v1.1h-1.1zM1493 365.6h1.1v1.1h-1.1zM1491.8 411.5h1.1v1.1h-1.1zM1537 378.7h1.1v1.1h-1.1zM1540.3 411.9h1.1v1.1h-1.1zM1537.2 378.3h1.1v1.1h-1.1zM1491.3 374.1h1.1v1.1h-1.1zM1540.1 443.2h1.1v1.1h-1.1zM1490.2 447.8h1.1v1.1h-1.1zM1489.9 396.8h1.1v1.1h-1.1zM1537.3 380.8h1.1v1.1h-1.1zM1490.8 358.8h1.1v1.1h-1.1zM1489.9 359.5h1.1v1.1h-1.1zM1490.2 462.2h1.1v1.1h-1.1zM1538.8 446.6h1.1v1.1h-1.1zM1539 428h1.1v1.1h-1.1zM1542 365.8h1.1v1.1h-1.1zM1490.5 418h1.1v1.1h-1.1zM1541.8 367.6h1.1v1.1h-1.1zM1537.1 460.9h1.1v1.1h-1.1zM1538.6 377h1.1v1.1h-1.1zM1545.5 353.2h1.1v1.1h-1.1zM1538 376.8h1.1v1.1h-1.1zM1490 401.7h1.1v1.1h-1.1zM1490.6 435.3h1.1v1.1h-1.1zM1489.3 379.7h1.1v1.1h-1.1zM1490.8 436.2h1.1v1.1h-1.1zM1545.3 358h1.1v1.1h-1.1zM1490.4 451.3h1.1v1.1h-1.1zM1536.7 501.1h1.1v1.1h-1.1zM1538.1 375.8h1.1v1.1h-1.1zM1487.3 354.9h1.1v1.1h-1.1zM1484.5 347.8h1.1v1.1h-1.1zM1540.7 426h1.1v1.1h-1.1zM1485.3 350.8h1.1v1.1h-1.1zM1490 411.6h1.1v1.1h-1.1zM1491.2 360.7h1.1v1.1h-1.1zM1535 393h1.1v1.1h-1.1zM1489.8 459.6h1.1v1.1h-1.1zM1489.6 404.1h1.1v1.1h-1.1zM1487.7 354h1.1v1.1h-1.1zM1491 439.6h1.1v1.1h-1.1zM1492.7 371h1.1v1.1h-1.1zM1534.8 400.7h1.1v1.1h-1.1zM1535 400.2h1.1v1.1h-1.1zM1490.4 375.8h1.1v1.1h-1.1zM1539.8 409.9h1.1v1.1h-1.1zM1489.7 385.2h1.1v1.1h-1.1zM1489.6 439.3h1.1v1.1h-1.1zM1542.4 367.5h1.1v1.1h-1.1zM1490.4 468.7h1.1v1.1h-1.1zM1490.2 427.7h1.1v1.1h-1.1zM1490.1 449.1h1.1v1.1h-1.1zM1489.5 392.9h1.1v1.1h-1.1zM1540.1 411.3h1.1v1.1h-1.1zM1538.8 412.5h1.1v1.1h-1.1zM1489.8 385.5h1.1v1.1h-1.1zM1543.6 367h1.1v1.1h-1.1zM1491.3 472.2h1.1v1.1h-1.1zM1536.5 386.9h1.1v1.1h-1.1zM1544.7 355.5h1.1v1.1h-1.1zM1534.7 396.8h1.1v1.1h-1.1zM1483.9 352.2h1.1v1.1h-1.1zM1492.2 499.7h1.1v1.1h-1.1zM1488.6 355.6h1.1v1.1h-1.1zM1490.4 458h1.1v1.1h-1.1zM1540.7 415.5h1.1v1.1h-1.1zM1537.2 486h1.1v1.1h-1.1zM1542.6 365.8h1.1v1.1h-1.1zM1491.1 404.8h1.1v1.1h-1.1zM1490 396.9h1.1v1.1h-1.1zM1488.7 384h1.1v1.1h-1.1zM1490.2 418.9h1.1v1.1h-1.1zM1536.3 383h1.1v1.1h-1.1zM1536.8 461.9h1.1v1.1h-1.1zM1536.9 494.7h1.1v1.1h-1.1zM1535.3 391.8h1.1v1.1h-1.1zM1491.6 477.2h1.1v1.1h-1.1zM1491.8 480.6h1.1v1.1h-1.1zM1544.8 363.6h1.1v1.1h-1.1zM1491.4 405.5h1.1v1.1h-1.1zM1488 356.7h1.1v1.1h-1.1zM1493 363.1h1.1v1.1h-1.1zM1494.2 366.1h1.1v1.1h-1.1zM1488.6 379.1h1.1v1.1h-1.1zM1536.6 476.7h1.1v1.1h-1.1zM1534.2 398.9h1.1v1.1h-1.1zM1536.5 496.4h1.1v1.1h-1.1zM1539.3 417.5h1.1v1.1h-1.1zM1539.1 424h1.1v1.1h-1.1zM1490.1 379.7h1.1v1.1h-1.1zM1536 390h1.1v1.1h-1.1zM1539.7 418.3h1.1v1.1h-1.1zM1493.3 366h1.1v1.1h-1.1zM1490.2 444.8h1.1v1.1h-1.1zM1545 353.3h1.1v1.1h-1.1zM1490.4 438.1h1.1v1.1h-1.1zM1535.9 383.8h1.1v1.1h-1.1zM1491.5 478.8h1.1v1.1h-1.1zM1490 376.3h1.1v1.1h-1.1zM1535 400.7h1.1v1.1h-1.1zM1491.5 477h1.1v1.1h-1.1zM1539.2 372.8h1.1v1.1h-1.1zM1491.4 439.4h1.1v1.1h-1.1zM1490 462.1h1.1v1.1h-1.1zM1539.5 424.7h1.1v1.1h-1.1zM1493.3 366.8h1.1v1.1h-1.1zM1534 398.2h1.1v1.1h-1.1zM1485.6 349.9h1.1v1.1h-1.1zM1486.3 352.9h1.1v1.1h-1.1zM1537.6 472.6h1.1v1.1h-1.1zM1488.7 393h1.1v1.1h-1.1zM1489.6 465.4h1.1v1.1h-1.1zM1485.2 348.8h1.1v1.1h-1.1zM1536.4 480.9h1.1v1.1h-1.1zM1538.1 378h1.1v1.1h-1.1zM1491.4 492.4h1.1v1.1h-1.1zM1489.9 439.8h1.1v1.1h-1.1zM1536.4 460.1h1.1v1.1h-1.1zM1538.5 481.6h1.1v1.1h-1.1zM1537.2 488.5h1.1v1.1h-1.1zM1539.5 412.9h1.1v1.1h-1.1zM1492 493.3h1.1v1.1h-1.1zM1540.6 435.3h1.1v1.1h-1.1zM1546 353.5h1.1v1.1h-1.1zM1543.2 360.4h1.1v1.1h-1.1zM1490.4 359.7h1.1v1.1h-1.1zM1539.4 419.3h1.1v1.1h-1.1zM1492.5 495h1.1v1.1h-1.1zM1490.7 407.8h1.1v1.1h-1.1zM1542.1 365.1h1.1v1.1h-1.1zM1539.7 374.8h1.1v1.1h-1.1zM1489.8 377h1.1v1.1h-1.1zM1536.2 383.6h1.1v1.1h-1.1zM1488.3 380.8h1.1v1.1h-1.1zM1485.3 350.4h1.1v1.1h-1.1zM1488.2 387.1h1.1v1.1h-1.1zM1491.3 374.3h1.1v1.1h-1.1zM1491.5 360.3h1.1v1.1h-1.1zM1492 411.3h1.1v1.1h-1.1zM1534 396.8h1.1v1.1h-1.1zM1541.3 370.7h1.1v1.1h-1.1zM1535.4 396.6h1.1v1.1h-1.1zM1543.7 358.2h1.1v1.1h-1.1zM1493.8 365.9h1.1v1.1h-1.1zM1538.1 376.2h1.1v1.1h-1.1zM1540.1 413.6h1.1v1.1h-1.1zM1491.4 484.9h1.1v1.1h-1.1zM1540.1 430.5h1.1v1.1h-1.1zM1536.9 454.1h1.1v1.1h-1.1zM1489.6 404.7h1.1v1.1h-1.1zM1493.6 368.5h1.1v1.1h-1.1zM1536.4 477.2h1.1v1.1h-1.1zM1539.4 427.9h1.1v1.1h-1.1zM1536.5 406.4h1.1v1.1h-1.1zM1492 485h1.1v1.1h-1.1zM1489.7 384.1h1.1v1.1h-1.1zM1486.8 354.6h1.1v1.1h-1.1zM1489.2 469.3h1.1v1.1h-1.1zM1540.9 369.7h1.1v1.1h-1.1zM1535.6 386.6h1.1v1.1h-1.1zM1545.4 353.7h1.1v1.1h-1.1zM1539.6 443.2h1.1v1.1h-1.1zM1489.8 389.3h1.1v1.1h-1.1zM1491 467h1.1v1.1h-1.1zM1489.9 396.5h1.1v1.1h-1.1zM1536.1 382h1.1v1.1h-1.1zM1485.3 350.5h1.1v1.1h-1.1zM1489.7 392.9h1.1v1.1h-1.1zM1539.8 428.2h1.1v1.1h-1.1zM1489.9 398.7h1.1v1.1h-1.1zM1490.7 482.1h1.1v1.1h-1.1zM1537.4 384.5h1.1v1.1h-1.1zM1490.2 406.3h1.1v1.1h-1.1zM1537 384.8h1.1v1.1h-1.1zM1539.4 421.1h1.1v1.1h-1.1zM1491.8 428.7h1.1v1.1h-1.1zM1534.2 398h1.1v1.1h-1.1zM1535.9 399.5h1.1v1.1h-1.1zM1490.6 399h1.1v1.1h-1.1zM1539.6 462.2h1.1v1.1h-1.1zM1490.7 429.5h1.1v1.1h-1.1zM1493.3 364.1h1.1v1.1h-1.1zM1491.6 361.1h1.1v1.1h-1.1zM1483.6 347.5h1.1v1.1h-1.1zM1535.2 391.4h1.1v1.1h-1.1zM1493.1 369.6h1.1v1.1h-1.1zM1534.4 395.8h1.1v1.1h-1.1zM1489.8 463.5h1.1v1.1h-1.1zM1538.5 440.5h1.1v1.1h-1.1zM1493.7 368.2h1.1v1.1h-1.1zM1536.3 470.6h1.1v1.1h-1.1zM1488 354.1h1.1v1.1h-1.1zM1540.2 426.6h1.1v1.1h-1.1zM1538.8 408.3h1.1v1.1h-1.1zM1490.5 462.9h1.1v1.1h-1.1zM1492.2 482.1h1.1v1.1h-1.1zM1492.5 501.9h1.1v1.1h-1.1zM1537.5 447.3h1.1v1.1h-1.1zM1489.1 463.7h1.1v1.1h-1.1zM1536.3 401.7h1.1v1.1h-1.1zM1535.6 392.6h1.1v1.1h-1.1zM1535.2 404.1h1.1v1.1h-1.1zM1537 379.4h1.1v1.1h-1.1zM1534.2 395.4h1.1v1.1h-1.1zM1544.7 356.1h1.1v1.1h-1.1zM1491.3 373.5h1.1v1.1h-1.1zM1489.7 397.9h1.1v1.1h-1.1zM1535.9 404.3h1.1v1.1h-1.1zM1489.6 378.5h1.1v1.1h-1.1zM1540.8 425.9h1.1v1.1h-1.1zM1536.8 454.5h1.1v1.1h-1.1zM1539 446.9h1.1v1.1h-1.1zM1491.3 374.3h1.1v1.1h-1.1zM1538.8 429h1.1v1.1h-1.1zM1539.4 411.6h1.1v1.1h-1.1zM1493.2 368.4h1.1v1.1h-1.1zM1489.7 386.1h1.1v1.1h-1.1zM1490.4 440h1.1v1.1h-1.1zM1488.6 383.4h1.1v1.1h-1.1zM1535.3 402.7h1.1v1.1h-1.1zM1490.3 373.7h1.1v1.1h-1.1zM1491.2 463.6h1.1v1.1h-1.1zM1539.1 439.9h1.1v1.1h-1.1zM1490.8 402.3h1.1v1.1h-1.1zM1536.6 462.8h1.1v1.1h-1.1zM1490.5 424.4h1.1v1.1h-1.1zM1539 374.2h1.1v1.1h-1.1zM1535.2 403.8h1.1v1.1h-1.1zM1537.8 406.7h1.1v1.1h-1.1zM1536.5 467.2h1.1v1.1h-1.1zM1534.7 391.3h1.1v1.1h-1.1zM1491.2 469.5h1.1v1.1h-1.1zM1491 434h1.1v1.1h-1.1zM1489.2 380.5h1.1v1.1h-1.1zM1491.2 433.4h1.1v1.1h-1.1zM1487.8 354.1h1.1v1.1h-1.1zM1537 490.2h1.1v1.1h-1.1zM1543.9 357.9h1.1v1.1h-1.1zM1538.1 411h1.1v1.1h-1.1zM1535.3 398.5h1.1v1.1h-1.1zM1534.9 390.8h1.1v1.1h-1.1zM1535 402.4h1.1v1.1h-1.1zM1544.4 355.4h1.1v1.1h-1.1zM1489.5 357.9h1.1v1.1h-1.1zM1537.8 410.6h1.1v1.1h-1.1zM1536.2 461.9h1.1v1.1h-1.1zM1538.5 434h1.1v1.1h-1.1zM1540.1 413.2h1.1v1.1h-1.1zM1490.5 469.2h1.1v1.1h-1.1zM1490.9 472.3h1.1v1.1h-1.1zM1535.7 390h1.1v1.1h-1.1zM1542.9 367.4h1.1v1.1h-1.1zM1489.8 397.8h1.1v1.1h-1.1zM1492.2 482.6h1.1v1.1h-1.1zM1540 420.4h1.1v1.1h-1.1zM1490 381.9h1.1v1.1h-1.1zM1537.2 380.9h1.1v1.1h-1.1zM1539.7 425.1h1.1v1.1h-1.1zM1544.3 365.5h1.1v1.1h-1.1zM1539.4 443.1h1.1v1.1h-1.1zM1539.9 412.4h1.1v1.1h-1.1zM1492.2 371h1.1v1.1h-1.1zM1492.8 499.3h1.1v1.1h-1.1zM1537.6 454.6h1.1v1.1h-1.1zM1535.7 394.8h1.1v1.1h-1.1zM1537.8 475.8h1.1v1.1h-1.1zM1492.4 483.7h1.1v1.1h-1.1zM1488.8 394.4h1.1v1.1h-1.1zM1538.4 377.5h1.1v1.1h-1.1zM1538.8 373.7h1.1v1.1h-1.1zM1537.2 458.2h1.1v1.1h-1.1zM1545.2 355h1.1v1.1h-1.1zM1535.3 387h1.1v1.1h-1.1zM1491.1 406.4h1.1v1.1h-1.1zM1489.4 459.6h1.1v1.1h-1.1zM1490.9 449.1h1.1v1.1h-1.1zM1491.9 372.8h1.1v1.1h-1.1zM1490.7 451h1.1v1.1h-1.1zM1537.8 499.1h1.1v1.1h-1.1zM1483.8 346.5h1.1v1.1h-1.1zM1534.6 398.3h1.1v1.1h-1.1zM1536.9 407.3h1.1v1.1h-1.1zM1491.5 363.2h1.1v1.1h-1.1zM1486.9 353.8h1.1v1.1h-1.1zM1542.7 365.8h1.1v1.1h-1.1zM1491.5 374.4h1.1v1.1h-1.1zM1540.9 372.8h1.1v1.1h-1.1zM1543 361.5h1.1v1.1h-1.1zM1544.1 360.2h1.1v1.1h-1.1zM1537.9 408.2h1.1v1.1h-1.1zM1536.7 400.3h1.1v1.1h-1.1zM1537.3 488.9h1.1v1.1h-1.1zM1491.5 363.1h1.1v1.1h-1.1zM1534.5 394.7h1.1v1.1h-1.1zM1491.8 371.6h1.1v1.1h-1.1zM1491.9 481.3h1.1v1.1h-1.1zM1539 441.1h1.1v1.1h-1.1zM1537.4 408.7h1.1v1.1h-1.1zM1535.2 394.7h1.1v1.1h-1.1zM1489.3 387.3h1.1v1.1h-1.1zM1489.8 409.8h1.1v1.1h-1.1zM1490.4 449.8h1.1v1.1h-1.1zM1537.4 459.9h1.1v1.1h-1.1zM1536.4 457.5h1.1v1.1h-1.1zM1492.4 364.3h1.1v1.1h-1.1zM1487.8 395h1.1v1.1h-1.1zM1537.8 382.4h1.1v1.1h-1.1zM1491.6 475h1.1v1.1h-1.1zM1490.3 378.3h1.1v1.1h-1.1zM1489.2 382.7h1.1v1.1h-1.1zM1538.9 444.3h1.1v1.1h-1.1zM1492.3 369.9h1.1v1.1h-1.1zM1537.8 378.8h1.1v1.1h-1.1zM1537.3 409.4h1.1v1.1h-1.1zM1489.9 447.5h1.1v1.1h-1.1zM1491.3 404.5h1.1v1.1h-1.1zM1485.2 349.8h1.1v1.1h-1.1zM1539.8 425.4h1.1v1.1h-1.1zM1536.2 467.2h1.1v1.1h-1.1zM1492 413.7h1.1v1.1h-1.1zM1538.7 411h1.1v1.1h-1.1zM1540.1 432.2h1.1v1.1h-1.1zM1490.2 401.3h1.1v1.1h-1.1zM1537.8 466.7h1.1v1.1h-1.1zM1493.3 366.3h1.1v1.1h-1.1zM1489.4 356.4h1.1v1.1h-1.1zM1536.7 459.3h1.1v1.1h-1.1zM1491.7 487.3h1.1v1.1h-1.1zM1534.6 396.6h1.1v1.1h-1.1zM1538 441.8h1.1v1.1h-1.1zM1536.8 488.8h1.1v1.1h-1.1zM1490.9 446.6h1.1v1.1h-1.1zM1544.9 352.9h1.1v1.1h-1.1zM1538.3 465.4h1.1v1.1h-1.1zM1490.7 465.3h1.1v1.1h-1.1zM1536.5 477.2h1.1v1.1h-1.1zM1489 393.1h1.1v1.1h-1.1zM1537 382.7h1.1v1.1h-1.1zM1488.6 382.6h1.1v1.1h-1.1zM1540.1 370.8h1.1v1.1h-1.1zM1492 414.4h1.1v1.1h-1.1zM1537 464.5h1.1v1.1h-1.1zM1491.5 373.8h1.1v1.1h-1.1zM1487.8 386.1h1.1v1.1h-1.1zM1491.2 373.1h1.1v1.1h-1.1zM1492.1 408.9h1.1v1.1h-1.1zM1484.7 350.1h1.1v1.1h-1.1zM1538.6 448.6h1.1v1.1h-1.1zM1490.8 406.9h1.1v1.1h-1.1zM1491.1 429.4h1.1v1.1h-1.1zM1539.2 421.5h1.1v1.1h-1.1zM1490.6 399.4h1.1v1.1h-1.1zM1490.2 435.6h1.1v1.1h-1.1zM1492.6 365.4h1.1v1.1h-1.1zM1537.7 384.2h1.1v1.1h-1.1zM1493.2 369.9h1.1v1.1h-1.1zM1490 358.1h1.1v1.1h-1.1zM1487.5 354.4h1.1v1.1h-1.1zM1489.3 396.9h1.1v1.1h-1.1zM1492.2 493.5h1.1v1.1h-1.1zM1486.2 351.9h1.1v1.1h-1.1zM1492.1 414.5h1.1v1.1h-1.1zM1537 406.7h1.1v1.1h-1.1zM1490 390.4h1.1v1.1h-1.1zM1539.7 427.2h1.1v1.1h-1.1zM1492.4 491.6h1.1v1.1h-1.1zM1484 347.7h1.1v1.1h-1.1zM1489.1 395h1.1v1.1h-1.1zM1535.2 403h1.1v1.1h-1.1zM1492.8 413.2h1.1v1.1h-1.1zM1492.1 411.5h1.1v1.1h-1.1zM1488.5 399h1.1v1.1h-1.1zM1490.6 474.4h1.1v1.1h-1.1zM1493.7 366.1h1.1v1.1h-1.1zM1488.7 381.7h1.1v1.1h-1.1zM1540.2 377.4h1.1v1.1h-1.1zM1489.3 356.9h1.1v1.1h-1.1zM1544.5 355.1h1.1v1.1h-1.1zM1489.3 378.8h1.1v1.1h-1.1zM1494.3 366.9h1.1v1.1h-1.1zM1490 464.7h1.1v1.1h-1.1zM1490 463.7h1.1v1.1h-1.1zM1537.5 445.5h1.1v1.1h-1.1zM1541.2 369.9h1.1v1.1h-1.1zM1537.4 450.1h1.1v1.1h-1.1zM1536.9 379.6h1.1v1.1h-1.1zM1534.5 392.1h1.1v1.1h-1.1zM1492.8 502.1h1.1v1.1h-1.1zM1539.2 377.9h1.1v1.1h-1.1zM1489.6 443.4h1.1v1.1h-1.1zM1489.7 383.8h1.1v1.1h-1.1zM1492.6 502.4h1.1v1.1h-1.1zM1490.6 482.7h1.1v1.1h-1.1zM1534.5 394.3h1.1v1.1h-1.1zM1488.7 383.8h1.1v1.1h-1.1zM1492.2 412h1.1v1.1h-1.1zM1537.3 402.7h1.1v1.1h-1.1zM1486.7 354.2h1.1v1.1h-1.1zM1537 449.8h1.1v1.1h-1.1zM1492.7 499.4h1.1v1.1h-1.1zM1486.4 351.2h1.1v1.1h-1.1zM1490.3 396h1.1v1.1h-1.1zM1491.6 478.6h1.1v1.1h-1.1zM1534.5 400.8h1.1v1.1h-1.1zM1544.8 355h1.1v1.1h-1.1zM1491.4 477.6h1.1v1.1h-1.1zM1490.9 441.5h1.1v1.1h-1.1zM1489.8 360.5h1.1v1.1h-1.1zM1490.6 406.4h1.1v1.1h-1.1zM1490.7 442.8h1.1v1.1h-1.1zM1492.6 371.2h1.1v1.1h-1.1zM1544 363.7h1.1v1.1h-1.1zM1493.4 367.9h1.1v1.1h-1.1zM1492.5 367.5h1.1v1.1h-1.1zM1491.5 416.6h1.1v1.1h-1.1zM1535.5 386.3h1.1v1.1h-1.1zM1486.1 352.4h1.1v1.1h-1.1zM1491.6 362.6h1.1v1.1h-1.1zM1490.7 421.2h1.1v1.1h-1.1zM1538.2 375.1h1.1v1.1h-1.1zM1490.2 393.9h1.1v1.1h-1.1zM1490.9 411.2h1.1v1.1h-1.1zM1484.8 348.1h1.1v1.1h-1.1zM1534.5 391.4h1.1v1.1h-1.1zM1493.5 367.6h1.1v1.1h-1.1zM1537.1 493.5h1.1v1.1h-1.1zM1491.2 438.9h1.1v1.1h-1.1zM1543.7 358.5h1.1v1.1h-1.1zM1491.4 488.8h1.1v1.1h-1.1zM1491.9 362.6h1.1v1.1h-1.1zM1489.8 377.1h1.1v1.1h-1.1zM1540.7 370.6h1.1v1.1h-1.1zM1536.1 405h1.1v1.1h-1.1zM1489.5 388.6h1.1v1.1h-1.1zM1482.7 348.4h1.1v1.1h-1.1zM1492.7 364.7h1.1v1.1h-1.1zM1544.4 358h1.1v1.1h-1.1zM1541.1 422h1.1v1.1h-1.1zM1535.8 384.8h1.1v1.1h-1.1zM1489.4 356.4h1.1v1.1h-1.1zM1491.6 501h1.1v1.1h-1.1zM1540.5 413.1h1.1v1.1h-1.1zM1539 373.1h1.1v1.1h-1.1zM1535.7 400.9h1.1v1.1h-1.1zM1535.5 393.8h1.1v1.1h-1.1zM1537.5 463h1.1v1.1h-1.1zM1489.8 383.3h1.1v1.1h-1.1zM1540.2 415.6h1.1v1.1h-1.1zM1536.6 454.8h1.1v1.1h-1.1zM1490 387.9h1.1v1.1h-1.1zM1490.8 443.5h1.1v1.1h-1.1zM1535 388.7h1.1v1.1h-1.1zM1537.7 381.3h1.1v1.1h-1.1zM1491.8 478h1.1v1.1h-1.1zM1494.1 367.1h1.1v1.1h-1.1zM1491.2 443.5h1.1v1.1h-1.1zM1536.9 405.8h1.1v1.1h-1.1zM1536.9 501.2h1.1v1.1h-1.1zM1537.9 465h1.1v1.1h-1.1zM1490.9 448.9h1.1v1.1h-1.1zM1537.6 462.9h1.1v1.1h-1.1zM1537.1 452.5h1.1v1.1h-1.1zM1490.5 360.3h1.1v1.1h-1.1zM1490.2 380h1.1v1.1h-1.1zM1537.2 489.6h1.1v1.1h-1.1zM1490.2 396.6h1.1v1.1h-1.1zM1489.1 385.1h1.1v1.1h-1.1zM1491.4 475.4h1.1v1.1h-1.1zM1537.6 483.1h1.1v1.1h-1.1zM1543.8 357.2h1.1v1.1h-1.1zM1536.4 383.7h1.1v1.1h-1.1zM1491.4 476.2h1.1v1.1h-1.1zM1489.9 381h1.1v1.1h-1.1zM1538.1 500.6h1.1v1.1h-1.1zM1540.1 427.5h1.1v1.1h-1.1zM1490.3 399.5h1.1v1.1h-1.1zM1537.6 483.4h1.1v1.1h-1.1zM1536.5 386.7h1.1v1.1h-1.1zM1489.7 428.9h1.1v1.1h-1.1zM1490.2 377.2h1.1v1.1h-1.1zM1488.8 393.6h1.1v1.1h-1.1zM1536.8 456.2h1.1v1.1h-1.1zM1490.2 358.5h1.1v1.1h-1.1zM1539 379.3h1.1v1.1h-1.1zM1545.3 354.6h1.1v1.1h-1.1zM1492.6 414.5h1.1v1.1h-1.1zM1543.7 362.6h1.1v1.1h-1.1zM1544.8 355.9h1.1v1.1h-1.1zM1535.8 393.2h1.1v1.1h-1.1zM1490.7 464.6h1.1v1.1h-1.1zM1534.8 401.4h1.1v1.1h-1.1zM1486.2 352.6h1.1v1.1h-1.1zM1489.8 396.4h1.1v1.1h-1.1zM1545 352.8h1.1v1.1h-1.1zM1489.9 392.2h1.1v1.1h-1.1zM1491 376.2h1.1v1.1h-1.1zM1543.2 362h1.1v1.1h-1.1zM1491.4 420.2h1.1v1.1h-1.1zM1492.1 480.3h1.1v1.1h-1.1zM1538.4 410h1.1v1.1h-1.1zM1489.1 387h1.1v1.1h-1.1zM1540.4 422.2h1.1v1.1h-1.1zM1537.6 480.6h1.1v1.1h-1.1zM1537.2 383.5h1.1v1.1h-1.1zM1537.4 459.3h1.1v1.1h-1.1zM1490.5 361.4h1.1v1.1h-1.1zM1491.2 410.8h1.1v1.1h-1.1zM1491.1 360.2h1.1v1.1h-1.1zM1490.3 435.7h1.1v1.1h-1.1zM1489.4 459.9h1.1v1.1h-1.1zM1539.3 430.2h1.1v1.1h-1.1zM1489.4 359h1.1v1.1h-1.1zM1545.9 354.6h1.1v1.1h-1.1zM1537.6 487.6h1.1v1.1h-1.1zM1544 356.2h1.1v1.1h-1.1zM1543.8 363.9h1.1v1.1h-1.1zM1491.2 479.3h1.1v1.1h-1.1zM1540.4 412.7h1.1v1.1h-1.1zM1540.5 417.5h1.1v1.1h-1.1zM1539.3 416.8h1.1v1.1h-1.1zM1489.5 385.8h1.1v1.1h-1.1zM1536.7 464.6h1.1v1.1h-1.1zM1483.7 348h1.1v1.1h-1.1zM1535.1 396.5h1.1v1.1h-1.1zM1535 398.3h1.1v1.1h-1.1zM1488.4 389.4h1.1v1.1h-1.1zM1492.5 362.3h1.1v1.1h-1.1zM1489.4 359.1h1.1v1.1h-1.1zM1484 349.2h1.1v1.1h-1.1zM1490.1 400.1h1.1v1.1h-1.1zM1493.2 365.4h1.1v1.1h-1.1zM1486.5 352.2h1.1v1.1h-1.1zM1537.4 474.9h1.1v1.1h-1.1zM1490 405.2h1.1v1.1h-1.1zM1492.8 502.6h1.1v1.1h-1.1zM1537.1 496.1h1.1v1.1h-1.1zM1536 405.7h1.1v1.1h-1.1zM1536.4 470.6h1.1v1.1h-1.1zM1543.5 359.9h1.1v1.1h-1.1zM1489.8 400.4h1.1v1.1h-1.1zM1538.2 439.7h1.1v1.1h-1.1zM1541.4 368.1h1.1v1.1h-1.1zM1540.2 432h1.1v1.1h-1.1zM1538.8 445.7h1.1v1.1h-1.1zM1544.5 357.3h1.1v1.1h-1.1zM1544.4 358.4h1.1v1.1h-1.1zM1537.2 464.1h1.1v1.1h-1.1zM1534.1 396.2h1.1v1.1h-1.1zM1536.7 469.8h1.1v1.1h-1.1zM1485.2 348.7h1.1v1.1h-1.1zM1544 356.5h1.1v1.1h-1.1zM1490.6 399.7h1.1v1.1h-1.1zM1487.5 354.4h1.1v1.1h-1.1zM1492.8 363.9h1.1v1.1h-1.1zM1484.5 348.1h1.1v1.1h-1.1zM1536.3 406.6h1.1v1.1h-1.1zM1535.9 397.6h1.1v1.1h-1.1zM1536.3 463.3h1.1v1.1h-1.1zM1536.1 473.7h1.1v1.1h-1.1zM1537 457.4h1.1v1.1h-1.1zM1534.1 398.6h1.1v1.1h-1.1zM1535.2 401.8h1.1v1.1h-1.1zM1539.6 414.1h1.1v1.1h-1.1zM1539.5 425.9h1.1v1.1h-1.1zM1538.1 376h1.1v1.1h-1.1zM1538.5 374.6h1.1v1.1h-1.1zM1489.6 383.2h1.1v1.1h-1.1zM1486 351.8h1.1v1.1h-1.1zM1491.4 480.9h1.1v1.1h-1.1zM1491.2 491h1.1v1.1h-1.1zM1492.4 498.6h1.1v1.1h-1.1zM1537.2 406.8h1.1v1.1h-1.1zM1540.3 372.3h1.1v1.1h-1.1zM1489.5 457.4h1.1v1.1h-1.1zM1542.2 364.7h1.1v1.1h-1.1zM1485.6 350.4h1.1v1.1h-1.1zM1537.3 445.7h1.1v1.1h-1.1zM1544.9 356h1.1v1.1h-1.1zM1489.4 361.6h1.1v1.1h-1.1zM1490.1 375.4h1.1v1.1h-1.1zM1491 359.2h1.1v1.1h-1.1zM1541.2 370h1.1v1.1h-1.1zM1539.3 417h1.1v1.1h-1.1zM1489.5 387.8h1.1v1.1h-1.1zM1539.2 419.2h1.1v1.1h-1.1zM1489.9 457.3h1.1v1.1h-1.1zM1537.1 454.3h1.1v1.1h-1.1zM1539.7 413.4h1.1v1.1h-1.1zM1544.7 357h1.1v1.1h-1.1zM1536.1 383.9h1.1v1.1h-1.1zM1539.1 428.9h1.1v1.1h-1.1zM1535 388.2h1.1v1.1h-1.1zM1537.9 408.4h1.1v1.1h-1.1zM1492.8 367.8h1.1v1.1h-1.1zM1539.9 448.8h1.1v1.1h-1.1zM1539.4 423h1.1v1.1h-1.1zM1491.7 370.1h1.1v1.1h-1.1zM1490.4 361.2h1.1v1.1h-1.1zM1487.9 354.6h1.1v1.1h-1.1zM1489.3 385.3h1.1v1.1h-1.1zM1537.2 484.1h1.1v1.1h-1.1zM1540.6 414.8h1.1v1.1h-1.1zM1493.7 365.2h1.1v1.1h-1.1zM1489.7 408.9h1.1v1.1h-1.1zM1537 460.3h1.1v1.1h-1.1zM1492.6 365.1h1.1v1.1h-1.1zM1537.2 497.9h1.1v1.1h-1.1zM1483.3 349.1h1.1v1.1h-1.1zM1538 385.6h1.1v1.1h-1.1zM1537.5 452.1h1.1v1.1h-1.1zM1493.6 366.7h1.1v1.1h-1.1zM1538.2 489.2h1.1v1.1h-1.1zM1536.6 500.9h1.1v1.1h-1.1zM1483.5 346.2h1.1v1.1h-1.1zM1535.8 386.4h1.1v1.1h-1.1zM1490.9 411.1h1.1v1.1h-1.1zM1534.9 401.2h1.1v1.1h-1.1zM1491.5 439.9h1.1v1.1h-1.1zM1536.7 496h1.1v1.1h-1.1zM1538.6 437.2h1.1v1.1h-1.1zM1539.5 444.5h1.1v1.1h-1.1zM1537.7 447.9h1.1v1.1h-1.1zM1490.2 439.9h1.1v1.1h-1.1zM1537.1 494h1.1v1.1h-1.1zM1490.7 427.9h1.1v1.1h-1.1zM1539.3 442.6h1.1v1.1h-1.1zM1544.5 355.1h1.1v1.1h-1.1zM1539.3 447.9h1.1v1.1h-1.1zM1535.7 389.7h1.1v1.1h-1.1zM1491 427.8h1.1v1.1h-1.1zM1536.7 496.9h1.1v1.1h-1.1zM1539.7 427.1h1.1v1.1h-1.1zM1487.8 355.2h1.1v1.1h-1.1zM1539.1 374.3h1.1v1.1h-1.1zM1542.8 369h1.1v1.1h-1.1zM1490.2 398.2h1.1v1.1h-1.1zM1491.8 478.5h1.1v1.1h-1.1zM1534.6 393.1h1.1v1.1h-1.1zM1490.6 440.7h1.1v1.1h-1.1zM1534.6 390.3h1.1v1.1h-1.1zM1536.7 490.1h1.1v1.1h-1.1zM1491.6 363.1h1.1v1.1h-1.1zM1537.4 478h1.1v1.1h-1.1zM1490.2 457.6h1.1v1.1h-1.1zM1490.8 432.1h1.1v1.1h-1.1zM1545.2 357.2h1.1v1.1h-1.1zM1489.6 380.4h1.1v1.1h-1.1zM1492 482.7h1.1v1.1h-1.1zM1490.3 378.8h1.1v1.1h-1.1zM1537.4 379.2h1.1v1.1h-1.1zM1545.5 354h1.1v1.1h-1.1zM1490 374.9h1.1v1.1h-1.1zM1491.5 473h1.1v1.1h-1.1zM1490.8 358.5h1.1v1.1h-1.1zM1490.5 376.1h1.1v1.1h-1.1zM1489.7 402.1h1.1v1.1h-1.1zM1492.5 362.8h1.1v1.1h-1.1zM1538.1 468.2h1.1v1.1h-1.1zM1543.9 358.9h1.1v1.1h-1.1zM1491.8 411.1h1.1v1.1h-1.1zM1535.5 384.8h1.1v1.1h-1.1zM1540.4 421h1.1v1.1h-1.1zM1491.9 372.9h1.1v1.1h-1.1zM1536.7 470.9h1.1v1.1h-1.1zM1490.5 398.9h1.1v1.1h-1.1zM1489.6 392.3h1.1v1.1h-1.1zM1491.5 370.7h1.1v1.1h-1.1zM1489.9 395.2h1.1v1.1h-1.1zM1490.9 470.9h1.1v1.1h-1.1zM1491.2 419.6h1.1v1.1h-1.1zM1490.3 402h1.1v1.1h-1.1zM1537.5 474.8h1.1v1.1h-1.1zM1491.5 411.1h1.1v1.1h-1.1zM1539.5 418.5h1.1v1.1h-1.1zM1490.8 440.3h1.1v1.1h-1.1zM1490.6 476.7h1.1v1.1h-1.1zM1494.1 366.5h1.1v1.1h-1.1zM1490.7 455.1h1.1v1.1h-1.1zM1491.5 429.7h1.1v1.1h-1.1zM1540 429.5h1.1v1.1h-1.1zM1491.5 430.7h1.1v1.1h-1.1zM1534.2 398.9h1.1v1.1h-1.1zM1537.9 495h1.1v1.1h-1.1zM1489.8 373.4h1.1v1.1h-1.1zM1490.4 471h1.1v1.1h-1.1zM1491.2 486h1.1v1.1h-1.1zM1492.1 502.6h1.1v1.1h-1.1zM1539.8 371.9h1.1v1.1h-1.1zM1537.4 377.5h1.1v1.1h-1.1zM1536.9 383.1h1.1v1.1h-1.1zM1534.9 400.3h1.1v1.1h-1.1zM1491.1 375.2h1.1v1.1h-1.1zM1490.3 491h1.1v1.1h-1.1zM1489.3 396.1h1.1v1.1h-1.1zM1534.7 388.1h1.1v1.1h-1.1zM1492 370.5h1.1v1.1h-1.1zM1492.3 369.4h1.1v1.1h-1.1zM1489.5 383.9h1.1v1.1h-1.1zM1493.3 368.5h1.1v1.1h-1.1zM1536.4 385h1.1v1.1h-1.1zM1541.7 368.5h1.1v1.1h-1.1zM1540.6 417.1h1.1v1.1h-1.1zM1537.6 456.5h1.1v1.1h-1.1zM1536.7 486.4h1.1v1.1h-1.1zM1490.5 470h1.1v1.1h-1.1zM1536.4 407.6h1.1v1.1h-1.1zM1491.3 405.5h1.1v1.1h-1.1zM1537.3 446.7h1.1v1.1h-1.1zM1541.4 370h1.1v1.1h-1.1zM1537.1 487h1.1v1.1h-1.1zM1490.7 402.6h1.1v1.1h-1.1zM1535.7 402.7h1.1v1.1h-1.1zM1539 426h1.1v1.1h-1.1zM1489.8 402.6h1.1v1.1h-1.1zM1491.8 481.9h1.1v1.1h-1.1zM1492.7 365.3h1.1v1.1h-1.1zM1490 459.5h1.1v1.1h-1.1zM1534.6 391.9h1.1v1.1h-1.1zM1490.7 368.2h1.1v1.1h-1.1zM1536.4 384.1h1.1v1.1h-1.1zM1537.4 498.5h1.1v1.1h-1.1zM1491.6 431.6h1.1v1.1h-1.1zM1489.4 406.5h1.1v1.1h-1.1zM1538.2 441.1h1.1v1.1h-1.1zM1490.5 376h1.1v1.1h-1.1zM1542.2 365.9h1.1v1.1h-1.1zM1535.5 404.6h1.1v1.1h-1.1zM1491.2 406h1.1v1.1h-1.1zM1537.9 482.3h1.1v1.1h-1.1zM1534.5 399.1h1.1v1.1h-1.1zM1490 359h1.1v1.1h-1.1zM1538.9 376.9h1.1v1.1h-1.1zM1491.9 428.5h1.1v1.1h-1.1zM1534 398.9h1.1v1.1h-1.1zM1536.3 464.5h1.1v1.1h-1.1zM1491.7 493.5h1.1v1.1h-1.1zM1536.9 478.1h1.1v1.1h-1.1zM1538.9 411h1.1v1.1h-1.1zM1490.8 400.6h1.1v1.1h-1.1zM1489.5 450.8h1.1v1.1h-1.1zM1537.6 476.4h1.1v1.1h-1.1zM1538.2 409.1h1.1v1.1h-1.1zM1536.2 389.6h1.1v1.1h-1.1zM1490.4 438.2h1.1v1.1h-1.1zM1537 471.6h1.1v1.1h-1.1zM1492.6 486.5h1.1v1.1h-1.1zM1537.2 485.4h1.1v1.1h-1.1zM1490.2 448.9h1.1v1.1h-1.1zM1492 372.4h1.1v1.1h-1.1zM1536.8 450h1.1v1.1h-1.1zM1539.3 374.5h1.1v1.1h-1.1zM1491.8 489.2h1.1v1.1h-1.1zM1490 359.3h1.1v1.1h-1.1z" fill="#3e28b2" fill-opacity="0.8"/>
<path d="M1459 357.6h1.1v1.1h-1.1zM1461.1 354.3h1.1v1.1h-1.1zM1464.9 349.6h1.1v1.1h-1.1zM1463.1 349.2h1.1v1.1h-1.1zM1464.6 344.5h1.1v1.1h-1.1zM1461.2 352.5h1.1v1.1h-1.1zM1461.1 349.2h1.1v1.1h-1.1zM1464 353.8h1.1v1.1h-1.1zM1467.2 345.7h1.1v1.1h-1.1zM1459.6 347.1h1.1v1.1h-1.1zM1459.2 353.9h1.1v1.1h-1.1zM1462.3 353.7h1.1v1.1h-1.1zM1460.6 342.6h1.1v1.1h-1.1zM1458.3 346.2h1.1v1.1h-1.1zM1458 349.9h1.1v1.1h-1.1zM1463.3 351.7h1.1v1.1h-1.1zM1465.7 336.5h1.1v1.1h-1.1zM1463.9 353.5h1.1v1.1h-1.1zM1460 353.9h1.1v1.1h-1.1zM1462.8 358.6h1.1v1.1h-1.1zM1467.1 345.5h1.1v1.1h-1.1zM1463.2 351.4h1.1v1.1h-1.1zM1463.1 349.4h1.1v1.1h-1.1zM1462.8 363.1h1.1v1.1h-1.1zM1464.6 357.5h1.1v1.1h-1.1zM1463.7 351.6h1.1v1.1h-1.1zM1457.9 345.9h1.1v1.1h-1.1zM1463.7 350.6h1.1v1.1h-1.1zM1462.7 346.7h1.1v1.1h-1.1zM1463.4 350.9h1.1v1.1h-1.1zM1463.1 346.2h1.1v1.1h-1.1zM1459.6 351.5h1.1v1.1h-1.1zM1461.1 345.9h1.1v1.1h-1.1zM1465.2 354.8h1.1v1.1h-1.1zM1462.2 341.1h1.1v1.1h-1.1zM1459.9 347h1.1v1.1h-1.1zM1459.7 341.2h1.1v1.1h-1.1zM1462.3 340.9h1.1v1.1h-1.1zM1456.9 344.1h1.1v1.1h-1.1zM1459.5 347h1.1v1.1h-1.1zM1460.9 342.2h1.1v1.1h-1.1zM1457.1 341.1h1.1v1.1h-1.1zM1462.3 364h1.1v1.1h-1.1zM1461.4 371.2h1.1v1.1h-1.1zM1461.9 361.6h1.1v1.1h-1.1zM1463.9 358.5h1.1v1.1h-1.1zM1462.2 371.7h1.1v1.1h-1.1zM1461.1 376.2h1.1v1.1h-1.1zM1541 337.9h1.1v1.1h-1.1zM1548 335.8h1.1v1.1h-1.1zM1540.6 338.3h1.1v1.1h-1.1zM1543.2 339.1h1.1v1.1h-1.1zM1542.4 339h1.1v1.1h-1.1zM1543.8 338.7h1.1v1.1h-1.1zM1546.4 339.7h1.1v1.1h-1.1zM1541.4 337.7h1.1v1.1h-1.1zM1553.5 339.1h1.1v1.1h-1.1zM1546 337.7h1.1v1.1h-1.1zM1535.1 335.7h1.1v1.1h-1.1zM1539.3 342h1.1v1.1h-1.1zM1538.1 336.8h1.1v1.1h-1.1zM1545.4 338h1.1v1.1h-1.1zM1540.2 335.8h1.1v1.1h-1.1zM1545.6 337.8h1.1v1.1h-1.1zM1542.3 337.3h1.1v1.1h-1.1zM1542.2 337.6h1.1v1.1h-1.1zM1543.1 339.4h1.1v1.1h-1.1zM1545 337.9h1.1v1.1h-1.1zM1544.6 335.7h1.1v1.1h-1.1zM1538.8 339.3h1.1v1.1h-1.1zM1545.8 336.7h1.1v1.1h-1.1zM1548.2 338.1h1.1v1.1h-1.1zM1541.5 339.4h1.1v1.1h-1.1zM1544.1 337.7h1.1v1.1h-1.1zM1545.4 342.7h1.1v1.1h-1.1zM1540.3 333.2h1.1v1.1h-1.1zM1540.3 341h1.1v1.1h-1.1zM1547.2 338.1h1.1v1.1h-1.1zM1538.1 340.2h1.1v1.1h-1.1zM1545.7 336.9h1.1v1.1h-1.1zM1544.1 340.5h1.1v1.1h-1.1zM1538.5 339.3h1.1v1.1h-1.1zM1545.1 339.7h1.1v1.1h-1.1zM1544.8 337.8h1.1v1.1h-1.1zM1541.9 338.9h1.1v1.1h-1.1zM1545.7 334.2h1.1v1.1h-1.1zM1547.3 341.2h1.1v1.1h-1.1zM1545.1 338.1h1.1v1.1h-1.1zM1544.3 346.4h1.1v1.1h-1.1zM1547.4 347.5h1.1v1.1h-1.1zM1543.7 349.5h1.1v1.1h-1.1zM1548 344.8h1.1v1.1h-1.1zM1545.6 343.8h1.1v1.1h-1.1zM1546.1 347.1h1.1v1.1h-1.1zM1544.3 345.9h1.1v1.1h-1.1zM1550.5 351.9h1.1v1.1h-1.1zM1548.1 345h1.1v1.1h-1.1zM1545.5 349.1h1.1v1.1h-1.1zM1546 344.4h1.1v1.1h-1.1zM1553.6 343.8h1.1v1.1h-1.1zM1547 343.5h1.1v1.1h-1.1zM1543.1 349.2h1.1v1.1h-1.1zM1554.1 356.6h1.1v1.1h-1.1zM1547.7 352.4h1.1v1.1h-1.1zM1543.5 337.5h1.1v1.1h-1.1zM1551.1 346.9h1.1v1.1h-1.1zM1546.2 343.5h1.1v1.1h-1.1zM1547.8 345h1.1v1.1h-1.1zM1539.1 343.9h1.1v1.1h-1.1zM1552.8 349.9h1.1v1.1h-1.1zM1545 340.9h1.1v1.1h-1.1zM1549.5 346.1h1.1v1.1h-1.1zM1551.8 349.4h1.1v1.1h-1.1zM1544.5 341.6h1.1v1.1h-1.1zM1545.2 348.2h1.1v1.1h-1.1zM1553.7 342.9h1.1v1.1h-1.1zM1549.2 346.7h1.1v1.1h-1.1zM1547.8 349.9h1.1v1.1h-1.1zM1548.7 345.5h1.1v1.1h-1.1zM1549.5 352h1.1v1.1h-1.1zM1550.5 347.1h1.1v1.1h-1.1zM1550.2 351.2h1.1v1.1h-1.1zM1552.4 347.4h1.1v1.1h-1.1zM1558.5 344.9h1.1v1.1h-1.1zM1546.3 351.9h1.1v1.1h-1.1zM1548.3 347.6h1.1v1.1h-1.1zM1546.3 347.8h1.1v1.1h-1.1zM1548.7 349.3h1.1v1.1h-1.1zM1547.9 342.1h1.1v1.1h-1.1zM1544.1 342.5h1.1v1.1h-1.1zM1559.6 348.9h1.1v1.1h-1.1zM1558.6 346.6h1.1v1.1h-1.1zM1546.9 344.6h1.1v1.1h-1.1zM1543.3 347.7h1.1v1.1h-1.1zM1545.4 347.2h1.1v1.1h-1.1zM1547.6 353.1h1.1v1.1h-1.1zM1555.6 348.8h1.1v1.1h-1.1zM1546.4 353.4h1.1v1.1h-1.1zM1559.9 357.8h1.1v1.1h-1.1zM1543.1 366.7h1.1v1.1h-1.1zM1564.3 354.9h1.1v1.1h-1.1zM1558.5 354.5h1.1v1.1h-1.1zM1558.1 357.1h1.1v1.1h-1.1zM1550 353.8h1.1v1.1h-1.1zM1547.8 356.6h1.1v1.1h-1.1zM1558.8 359.1h1.1v1.1h-1.1zM1554.8 353.9h1.1v1.1h-1.1zM1559.3 359.4h1.1v1.1h-1.1zM1553.2 349.3h1.1v1.1h-1.1zM1564 358.9h1.1v1.1h-1.1zM1557.7 355h1.1v1.1h-1.1zM1557.8 359.6h1.1v1.1h-1.1zM1555 354.6h1.1v1.1h-1.1zM1554.4 352.6h1.1v1.1h-1.1zM1558.8 353.7h1.1v1.1h-1.1zM1549.9 358.1h1.1v1.1h-1.1zM1549.5 364.4h1.1v1.1h-1.1zM1554.5 356.2h1.1v1.1h-1.1zM1561.6 356.5h1.1v1.1h-1.1zM1554.4 352.2h1.1v1.1h-1.1zM1558.9 359.6h1.1v1.1h-1.1zM1555.4 360.4h1.1v1.1h-1.1zM1553.1 362h1.1v1.1h-1.1zM1551.3 351h1.1v1.1h-1.1zM1550 365h1.1v1.1h-1.1zM1547.1 356.3h1.1v1.1h-1.1zM1549 353.1h1.1v1.1h-1.1zM1555 367.6h1.1v1.1h-1.1zM1559.6 359.6h1.1v1.1h-1.1zM1561 361.3h1.1v1.1h-1.1zM1558.8 358h1.1v1.1h-1.1zM1562.3 363.6h1.1v1.1h-1.1zM1557.9 358.9h1.1v1.1h-1.1zM1554.5 361.4h1.1v1.1h-1.1zM1553.3 364.6h1.1v1.1h-1.1zM1550.5 358.3h1.1v1.1h-1.1zM1552.7 355.2h1.1v1.1h-1.1zM1555.2 353.1h1.1v1.1h-1.1zM1553.7 353.7h1.1v1.1h-1.1zM1564.4 361.2h1.1v1.1h-1.1zM1551.5 354.6h1.1v1.1h-1.1zM1557.5 358h1.1v1.1h-1.1zM1559.5 348.7h1.1v1.1h-1.1zM1556.7 350.9h1.1v1.1h-1.1zM1553.3 352.8h1.1v1.1h-1.1zM1555.6 352.8h1.1v1.1h-1.1zM1550.3 362.2h1.1v1.1h-1.1zM1551.1 359.5h1.1v1.1h-1.1zM1565.3 350.5h1.1v1.1h-1.1zM1567.7 353.3h1.1v1.1h-1.1zM1570.5 345.8h1.1v1.1h-1.1zM1567 353.6h1.1v1.1h-1.1zM1572.3 348h1.1v1.1h-1.1zM1565.9 346.6h1.1v1.1h-1.1zM1567.7 359.7h1.1v1.1h-1.1zM1564 357.8h1.1v1.1h-1.1zM1571.6 355.6h1.1v1.1h-1.1zM1563.9 350.6h1.1v1.1h-1.1zM1564 355.9h1.1v1.1h-1.1zM1570.1 350.7h1.1v1.1h-1.1zM1571.2 358.5h1.1v1.1h-1.1zM1566.5 360h1.1v1.1h-1.1zM1571.2 352.1h1.1v1.1h-1.1zM1565.9 351.8h1.1v1.1h-1.1zM1569.3 351.4h1.1v1.1h-1.1zM1567.8 348.4h1.1v1.1h-1.1zM1568.7 352.7h1.1v1.1h-1.1zM1568 364.3h1.1v1.1h-1.1zM1563.7 357.6h1.1v1.1h-1.1zM1564.9 349.1h1.1v1.1h-1.1zM1567.8 351.8h1.1v1.1h-1.1zM1566.4 358.9h1.1v1.1h-1.1zM1568 362.2h1.1v1.1h-1.1zM1568.1 354.2h1.1v1.1h-1.1zM1572.8 356.3h1.1v1.1h-1.1zM1566.7 350.1h1.1v1.1h-1.1zM1567.8 351.4h1.1v1.1h-1.1zM1563.3 360.7h1.1v1.1h-1.1zM1565 349.2h1.1v1.1h-1.1zM1563.3 357.9h1.1v1.1h-1.1zM1565.5 351.2h1.1v1.1h-1.1zM1566.2 360.1h1.1v1.1h-1.1zM1570.1 358.7h1.1v1.1h-1.1zM1567.2 356.4h1.1v1.1h-1.1zM1566 359h1.1v1.1h-1.1zM1562.7 354.6h1.1v1.1h-1.1zM1566.5 358.1h1.1v1.1h-1.1zM1565.8 350.4h1.1v1.1h-1.1zM1565.9 354.2h1.1v1.1h-1.1zM1560.3 359.6h1.1v1.1h-1.1zM1568.5 351.9h1.1v1.1h-1.1zM1564.3 357.3h1.1v1.1h-1.1zM1566.9 350.3h1.1v1.1h-1.1zM1562.8 353.9h1.1v1.1h-1.1zM1565.3 354.4h1.1v1.1h-1.1zM1569.8 342.7h1.1v1.1h-1.1zM1563 357.7h1.1v1.1h-1.1zM1569.7 351.4h1.1v1.1h-1.1zM1565.8 348.6h1.1v1.1h-1.1zM1568.1 351.1h1.1v1.1h-1.1zM1562.4 353.5h1.1v1.1h-1.1zM1567.8 353.2h1.1v1.1h-1.1zM1569.1 352.3h1.1v1.1h-1.1zM1563.2 349.1h1.1v1.1h-1.1zM1563.2 358.3h1.1v1.1h-1.1zM1564.2 349.6h1.1v1.1h-1.1zM1567.9 356.2h1.1v1.1h-1.1zM1565.2 352.3h1.1v1.1h-1.1zM1546.7 365.8h1.1v1.1h-1.1zM1564.2 368.2h1.1v1.1h-1.1zM1561.9 361.8h1.1v1.1h-1.1zM1570.4 365.6h1.1v1.1h-1.1zM1557.4 363.1h1.1v1.1h-1.1zM1558.6 364h1.1v1.1h-1.1zM1557.1 366.9h1.1v1.1h-1.1zM1556.1 357.8h1.1v1.1h-1.1zM1552.3 354.4h1.1v1.1h-1.1zM1559.9 363.4h1.1v1.1h-1.1zM1564.6 363.9h1.1v1.1h-1.1zM1560 363.6h1.1v1.1h-1.1zM1567 364.7h1.1v1.1h-1.1zM1553.1 358.1h1.1v1.1h-1.1zM1558.9 369.3h1.1v1.1h-1.1zM1551.7 359.3h1.1v1.1h-1.1zM1561.7 363.8h1.1v1.1h-1.1zM1570 366.2h1.1v1.1h-1.1zM1557.9 366.2h1.1v1.1h-1.1zM1550.9 362.9h1.1v1.1h-1.1zM1546.1 360.3h1.1v1.1h-1.1zM1543.5 356.6h1.1v1.1h-1.1zM1544.5 356.8h1.1v1.1h-1.1zM1542.8 358.3h1.1v1.1h-1.1zM1545.4 356.4h1.1v1.1h-1.1zM1547.6 353.2h1.1v1.1h-1.1zM1544.8 366.6h1.1v1.1h-1.1zM1546.7 360.4h1.1v1.1h-1.1zM1546.8 355.5h1.1v1.1h-1.1zM1541.6 353.4h1.1v1.1h-1.1zM1543.9 356h1.1v1.1h-1.1zM1545.7 360.9h1.1v1.1h-1.1zM1544.6 361.5h1.1v1.1h-1.1zM1546.6 351.6h1.1v1.1h-1.1zM1545.3 364.5h1.1v1.1h-1.1zM1545.9 357.7h1.1v1.1h-1.1zM1549.1 368.6h1.1v1.1h-1.1zM1545.1 366.4h1.1v1.1h-1.1zM1544.3 360.2h1.1v1.1h-1.1zM1544.7 357.2h1.1v1.1h-1.1zM1546.5 365.5h1.1v1.1h-1.1zM1545.4 360.5h1.1v1.1h-1.1zM1548.4 362.9h1.1v1.1h-1.1zM1544 359.1h1.1v1.1h-1.1zM1545 364.4h1.1v1.1h-1.1zM1552.9 360.6h1.1v1.1h-1.1zM1547.7 356.5h1.1v1.1h-1.1zM1541.9 358.2h1.1v1.1h-1.1zM1545.9 366.1h1.1v1.1h-1.1zM1544.4 363.1h1.1v1.1h-1.1zM1485.4 344.8h1.1v1.1h-1.1zM1485.7 344.6h1.1v1.1h-1.1zM1484.2 353h1.1v1.1h-1.1zM1484.8 347.5h1.1v1.1h-1.1zM1483.7 345.5h1.1v1.1h-1.1zM1482.6 344.6h1.1v1.1h-1.1zM1485 348.1h1.1v1.1h-1.1zM1482.6 351.9h1.1v1.1h-1.1zM1480.2 348.4h1.1v1.1h-1.1zM1487 350.3h1.1v1.1h-1.1zM1484.9 349.9h1.1v1.1h-1.1zM1482.7 354.7h1.1v1.1h-1.1zM1487.9 345.8h1.1v1.1h-1.1zM1482.9 348.2h1.1v1.1h-1.1zM1478.9 343.3h1.1v1.1h-1.1zM1482 350h1.1v1.1h-1.1zM1519.9 339.4h1.1v1.1h-1.1zM1519.2 339.5h1.1v1.1h-1.1zM1524.9 338h1.1v1.1h-1.1zM1521.8 340.7h1.1v1.1h-1.1zM1516.4 339.2h1.1v1.1h-1.1zM1525.4 338.6h1.1v1.1h-1.1z" fill="#5248a6" fill-opacity="0.75"/>
<path d="M1373.5 324.7L1373.5 481.4" stroke="#7a7a7a" stroke-width="1"/>
<path d="M1373.4 481.4L1434.5 537.8L1658.6 522.2" stroke="#6a6a6a" stroke-width="0.9" fill="none"/>
<path d="M1434.5 537.8L1438.5 541.5" stroke="#6a6a6a" stroke-width="0.9"/>
<path d="M1434.5 537.8L1428 538.3" stroke="#6a6a6a" stroke-width="0.9"/>
<path d="M1546.5 530L1550.6 533.7" stroke="#6a6a6a" stroke-width="0.9"/>
<path d="M1403.9 509.6L1397.5 510.1" stroke="#6a6a6a" stroke-width="0.9"/>
<path d="M1658.6 522.2L1662.6 525.9" stroke="#6a6a6a" stroke-width="0.9"/>
<path d="M1373.4 324.7L1368.8 321.9" stroke="#6a6a6a" stroke-width="0.9"/>
<path d="M1373.4 403.5L1368.8 400.7" stroke="#6a6a6a" stroke-width="0.9"/>
<path d="M1373.4 481.4L1368.8 478.6" stroke="#6a6a6a" stroke-width="0.9"/>
<text class="t" x="1317.5" y="331.3" font-size="27.5" textLength="45.5" lengthAdjust="spacingAndGlyphs">500</text>
<text class="t" x="1317.5" y="404.7" font-size="27.5" textLength="45.5" lengthAdjust="spacingAndGlyphs">250</text>
<text class="t" x="1347.4" y="476.1" font-size="27.5" textLength="15.6" lengthAdjust="spacingAndGlyphs">0</text>
<text class="t" x="1334.5" y="496.5" font-size="27.5" textLength="28.5" lengthAdjust="spacingAndGlyphs">10</text>
<text class="t" x="1372.9" y="521.7" font-size="27.5" textLength="16.6" lengthAdjust="spacingAndGlyphs">0</text>
<text class="t" x="1369.5" y="548.2" font-size="27.5" textLength="53" lengthAdjust="spacingAndGlyphs">−10</text>
<text class="t" x="1418.8" y="565.2" font-size="27.5" textLength="53" lengthAdjust="spacingAndGlyphs">−10</text>
<text class="t" x="1546.3" y="556.7" font-size="27.5" textLength="16.3" lengthAdjust="spacingAndGlyphs">0</text>
<text class="t" x="1655.1" y="548.9" font-size="27.5" textLength="29.2" lengthAdjust="spacingAndGlyphs">10</text>
<text class="i" x="1546.3" y="593.1" font-size="33" textLength="21.8" lengthAdjust="spacingAndGlyphs">X</text>
<text class="i" x="1332.7" y="538" font-size="33" textLength="21.1" lengthAdjust="spacingAndGlyphs">Y</text>
<text class="i" transform="translate(1297.5 403.5) rotate(-90)" font-size="33" textLength="18.7" lengthAdjust="spacingAndGlyphs">S</text>
<text class="t" x="1386.5" y="357.5" font-size="28.5" textLength="41.8" lengthAdjust="spacingAndGlyphs">(h)</text>
<path d="M233.8 639.5h0M233.8 641.5h0M233.8 643.6h0M233.8 647.5h0M233.8 649.3h0M233.8 651.3h0M233.8 653.3h0M233.8 655h0M233.8 657.3h0M233.8 659.5h0M233.8 661.1h0M233.8 663.2h0M233.8 664.8h0M233.8 666.8h0M233.8 669.1h0M233.8 671.5h0M233.8 673.7h0M233.8 676h0M233.8 677.7h0M233.8 679.5h0M233.8 681.5h0M233.8 683.3h0M233.8 685.2h0M233.8 687.3h0M233.8 689.6h0M233.8 691.9h0M233.8 694.3h0M233.8 696.1h0M233.8 698.4h0M233.8 700.5h0M233.8 702.3h0M233.8 704.3h0M233.8 706h0M233.8 710.6h0M233.8 712.3h0M233.8 714.5h0M233.8 716.2h0M233.8 717.8h0M233.8 719.7h0M233.8 722.1h0M233.8 724.5h0M233.8 726.1h0M233.8 727.7h0M233.8 729.7h0M233.8 733.7h0M233.8 736h0M233.8 744.1h0M233.8 746.1h0M233.8 748.3h0M233.8 750.2h0M233.8 752.2h0M233.8 753.8h0M233.8 757.9h0M233.8 759.6h0M233.8 761.6h0M233.8 763.4h0M233.8 767.3h0M233.8 769.7h0M233.8 771.6h0M233.8 773.5h0M233.8 775.3h0M233.8 777.4h0M233.8 779.3h0M233.8 780.9h0M233.8 783.1h0M233.8 784.9h0M233.8 786.7h0M233.8 788.6h0M233.8 790.3h0M233.8 792.2h0M233.8 794.1h0M233.8 795.9h0M233.8 798h0M233.8 800h0M233.8 801.6h0M233.8 803.4h0M233.8 805.7h0M233.8 807.5h0M233.8 809.6h0M233.8 811.5h0M233.8 813.3h0M233.8 815.1h0M233.8 817.1h0M233.8 819h0M233.8 823.1h0M233.8 825.5h0M233.8 827.8h0M233.8 829.6h0M233.8 831.9h0M233.8 833.9h0M233.8 835.8h0M233.8 837.4h0M233.8 839.2h0" stroke="#1414f0" stroke-width="2.7" stroke-linecap="round"/>
<path d="M105.2 647.6h3M363.3 647.6h-3M105.2 740.5h3M363.3 740.5h-3M105.2 832.8h3M363.3 832.8h-3" stroke="#1c1c1c" stroke-width="1.3"/>
<rect x="105.2" y="640.1" width="258.1" height="199.5" stroke="#1c1c1c" stroke-width="1.5"/>
<text class="t" x="70.4" y="656.6" font-size="27.5" textLength="30.6" lengthAdjust="spacingAndGlyphs">20</text>
<text class="t" x="85.5" y="749.3" font-size="27.5" textLength="15.5" lengthAdjust="spacingAndGlyphs">0</text>
<text class="t" x="47.5" y="840.7" font-size="27.5" textLength="52.3" lengthAdjust="spacingAndGlyphs">−20</text>
<text class="t" x="57.8" y="867.4" font-size="27.5" textLength="77.2" lengthAdjust="spacingAndGlyphs">−0.02</text>
<text class="t" x="226" y="867.4" font-size="27.5" textLength="14.8" lengthAdjust="spacingAndGlyphs">0</text>
<text class="t" x="331.3" y="867.4" font-size="27.5" textLength="54.1" lengthAdjust="spacingAndGlyphs">0.02</text>
<text class="t" x="190.7" y="903.8" font-size="33.4" textLength="88.5" lengthAdjust="spacingAndGlyphs">Re(<tspan font-style="italic">λ</tspan>)</text>
<text class="t" transform="translate(47.5 783.8) rotate(-90)" font-size="33.4" textLength="86.6" lengthAdjust="spacingAndGlyphs">Im(<tspan font-style="italic">λ</tspan>)</text>
<text class="t" x="118.2" y="671" font-size="28.5" textLength="32.5" lengthAdjust="spacingAndGlyphs">(i)</text>
<path d="M650 639.5h0M655.5 650.5h0M650.5 658.3h0M655.5 668.6h0M650.5 676.5h0M655.5 684h0M650.5 692.4h0M655.5 697.6h0M650.5 705.5h0M655.5 709.3h0M655.5 711.2h0M650.5 718.6h0M655.5 718.6h0M651.4 726.7h0M656 724.4h0M656 727.3h0M646.7 735.4h0M650.5 732.5h0M650.5 735.4h0M654.3 734.8h0M652.5 729.8h0M648.8 733.8h0M666.3 639.5h0M665.7 644.1h0M666.7 649.4h0M666.3 654.6h0M665.7 659.8h0M666.7 663h0M666.3 668.6h0M666.3 673.2h0M666.3 676.1h0M665.9 680.2h0M666.5 683.7h0M665.9 687.2h0M666.5 689.5h0M664.8 693h0M668.8 692.4h0M666.5 695.5h0M664.8 698.8h0M668.3 697.6h0M666 700.5h0M664.8 702.9h0M667.7 702.9h0M651.4 638.5h0M653.8 650.5h0M651.9 657.3h0M653.8 668.6h0M651.9 675.5h0M653.8 684h0M651.9 691.4h0M653.8 697.6h0M651.9 704.5h0M653.8 709.3h0M653.8 711.2h0M651.9 717.6h0M653.8 718.6h0M654.3 724.4h0M654.3 727.3h0M651.9 731.5h0M651.9 734.4h0M666.7 674.6h0M666.7 678.2h0M665.7 681.9h0M666.7 685.4h0M666.2 688.3h0M666.2 691h0M665.7 694.2h0M665.7 696.6h0M665.7 699.6h0M665.7 701.7h0M650 842.3h0M655.5 831.3h0M650.5 823.5h0M655.5 813.2h0M650.5 805.3h0M655.5 797.8h0M650.5 789.4h0M655.5 784.2h0M650.5 776.3h0M655.5 772.5h0M655.5 770.6h0M650.5 763.2h0M655.5 763.2h0M651.4 755.1h0M656 757.4h0M656 754.5h0M646.7 746.4h0M650.5 749.3h0M650.5 746.4h0M654.3 747h0M652.5 752h0M648.8 748h0M666.3 842.3h0M665.7 837.7h0M666.7 832.4h0M666.3 827.2h0M665.7 822h0M666.7 818.8h0M666.3 813.2h0M666.3 808.6h0M666.3 805.7h0M665.9 801.6h0M666.5 798.1h0M665.9 794.6h0M666.5 792.3h0M664.8 788.8h0M668.8 789.4h0M666.5 786.3h0M664.8 783h0M668.3 784.2h0M666 781.3h0M664.8 778.9h0M667.7 778.9h0M651.4 843.3h0M653.8 831.3h0M651.9 824.5h0M653.8 813.2h0M651.9 806.3h0M653.8 797.8h0M651.9 790.4h0M653.8 784.2h0M651.9 777.3h0M653.8 772.5h0M653.8 770.6h0M651.9 764.2h0M653.8 763.2h0M654.3 757.4h0M654.3 754.5h0M651.9 750.3h0M651.9 747.4h0M666.7 807.2h0M666.7 803.6h0M665.7 799.9h0M666.7 796.4h0M666.2 793.5h0M666.2 790.8h0M665.7 787.6h0M665.7 785.2h0M665.7 782.2h0M665.7 780.1h0M681.3 646.8h0M687.8 645.5h0M690.3 642.4h0M692.1 642.4h0M700.2 645.3h0M682 835.1h0M689.5 835.9h0M691.2 839.1h0M697.7 835.9h0" stroke="#1414f0" stroke-width="2.7" stroke-linecap="round"/>
<path d="M517.8 646.9h3.2M802.7 646.9h-3.2M517.8 693.1h3.2M802.7 693.1h-3.2M517.8 740.9h3.2M802.7 740.9h-3.2M517.8 787.4h3.2M802.7 787.4h-3.2M517.8 834.5h3.2M802.7 834.5h-3.2M660.2 639.7v3.2M660.2 841.9v-3.2" stroke="#1c1c1c" stroke-width="1.3"/>
<rect x="517.8" y="639.7" width="284.9" height="202.2" stroke="#1c1c1c" stroke-width="1.5"/>
<text class="t" x="480.5" y="655.5" font-size="27.5" textLength="29.5" lengthAdjust="spacingAndGlyphs">20</text>
<text class="t" x="494.6" y="749.5" font-size="27.5" textLength="15.4" lengthAdjust="spacingAndGlyphs">0</text>
<text class="t" x="458.2" y="844" font-size="27.5" textLength="50.5" lengthAdjust="spacingAndGlyphs">−20</text>
<text class="t" x="476.2" y="868" font-size="27.5" textLength="76.4" lengthAdjust="spacingAndGlyphs">−0.02</text>
<text class="t" x="652.1" y="868" font-size="27.5" textLength="14.4" lengthAdjust="spacingAndGlyphs">0</text>
<text class="t" x="773.9" y="868" font-size="27.5" textLength="53.8" lengthAdjust="spacingAndGlyphs">0.02</text>
<text class="t" x="617.2" y="903.8" font-size="33.4" textLength="86.5" lengthAdjust="spacingAndGlyphs">Re(<tspan font-style="italic">λ</tspan>)</text>
<text class="t" transform="translate(459 783.8) rotate(-90)" font-size="33.4" textLength="86.6" lengthAdjust="spacingAndGlyphs">Im(<tspan font-style="italic">λ</tspan>)</text>
<text class="t" x="530.3" y="671" font-size="28.5" textLength="33.7" lengthAdjust="spacingAndGlyphs">(j)</text>
<path d="M1092.6 636.5h0M1092.6 643.1h0M1092.6 645h0M1092.6 647.1h0M1092.6 649.2h0M1092.6 657.8h0M1092.6 659.5h0M1092.6 664.3h0M1092.6 666.5h0M1092.6 668.7h0M1092.6 671h0M1092.6 674.9h0M1092.6 677h0M1092.6 679.4h0M1092.6 681.7h0M1092.6 683.7h0M1092.6 693.1h0M1092.6 695.2h0M1092.6 697h0M1092.6 701.6h0M1092.6 703.9h0M1092.6 712.1h0M1092.6 714h0M1092.6 715.8h0M1092.6 718.3h0M1092.6 720.6h0M1092.6 722.3h0M1092.6 724.3h0M1092.6 726.3h0M1092.6 728.3h0M1092.6 730.4h0M1092.6 736.1h0M1092.6 738.5h0M1092.6 740.8h0M1092.6 744.3h0M1092.6 746.5h0M1092.6 748.4h0M1092.6 750.1h0M1092.6 752h0M1092.6 753.7h0M1092.6 756h0M1092.6 758.2h0M1092.6 760.7h0M1092.6 762.4h0M1092.6 764.5h0M1092.6 772.6h0M1092.6 774.7h0M1092.6 776.6h0M1092.6 778.5h0M1092.6 780.3h0M1092.6 782.5h0M1092.6 784.2h0M1092.6 790.9h0M1092.6 792.7h0M1092.6 794.8h0M1092.6 799.3h0M1092.6 801.6h0M1092.6 804.1h0M1092.6 806h0M1092.6 808.5h0M1092.6 811h0M1092.6 813.1h0M1092.6 815.6h0M1092.6 817.5h0M1092.6 819.3h0M1092.6 821.8h0M1092.6 826h0M1092.6 828.2h0M1092.6 830.5h0M1092.6 832.7h0M1092.6 834.7h0M1092.6 836.9h0M1092.6 841.1h0" stroke="#1414f0" stroke-width="2.5" stroke-linecap="round"/>
<path d="M950.9 654.4h3M1234.4 654.4h-3M950.9 696.7h3M1234.4 696.7h-3M950.9 739.4h3M1234.4 739.4h-3M950.9 782.1h3M1234.4 782.1h-3M950.9 824.6h3M1234.4 824.6h-3" stroke="#1c1c1c" stroke-width="1.3"/>
<rect x="950.9" y="636.1" width="283.5" height="205.9" stroke="#1c1c1c" stroke-width="1.5"/>
<text class="t" x="913.6" y="666" font-size="27.5" textLength="29.3" lengthAdjust="spacingAndGlyphs">20</text>
<text class="t" x="927.8" y="748.5" font-size="27.5" textLength="15.1" lengthAdjust="spacingAndGlyphs">0</text>
<text class="t" x="891" y="835.3" font-size="27.5" textLength="51.9" lengthAdjust="spacingAndGlyphs">−20</text>
<text class="t" x="908.9" y="867.4" font-size="27.5" textLength="76.7" lengthAdjust="spacingAndGlyphs">−0.02</text>
<text class="t" x="1083.3" y="867.4" font-size="27.5" textLength="15.1" lengthAdjust="spacingAndGlyphs">0</text>
<text class="t" x="1206.8" y="867.4" font-size="27.5" textLength="53" lengthAdjust="spacingAndGlyphs">0.02</text>
<text class="t" x="1048.9" y="903.8" font-size="33.4" textLength="88.7" lengthAdjust="spacingAndGlyphs">Re(<tspan font-style="italic">λ</tspan>)</text>
<text class="t" transform="translate(893 783.8) rotate(-90)" font-size="33.4" textLength="86.6" lengthAdjust="spacingAndGlyphs">Im(<tspan font-style="italic">λ</tspan>)</text>
<text class="t" x="964.6" y="670.5" font-size="28.5" textLength="40" lengthAdjust="spacingAndGlyphs">(k)</text>
<path d="M1521.2 640.5h0M1521.2 644.1h0M1521.1 647.3h0M1521.1 651h0M1521 654.3h0M1521 660.4h0M1520.9 663.1h0M1520.9 666.1h0M1520.9 668.8h0M1520.8 672.4h0M1520.7 678.9h0M1520.7 681.7h0M1520.7 684.8h0M1520.6 688.6h0M1520.6 692.4h0M1520.5 695.8h0M1520.5 699.1h0M1520.5 701.8h0M1520.4 704.7h0M1520.4 707.6h0M1520.4 711.4h0M1520.3 715.1h0M1520.3 718.7h0M1520.2 722h0M1520.2 724.9h0M1520.1 728.7h0M1520.1 731.8h0M1520.1 735h0M1519.9 748.1h0M1519.9 751.7h0M1519.8 755.2h0M1519.8 758.6h0M1519.8 761.5h0M1519.7 765.4h0M1519.7 768.8h0M1519.6 771.6h0M1519.6 775.3h0M1519.6 778.4h0M1519.5 782h0M1519.5 785.9h0M1519.4 789.8h0M1519.4 793.2h0M1519.3 796.5h0M1519.3 799.5h0M1519.3 802.3h0M1519.2 806h0M1519.2 809.3h0M1519.1 812h0M1519.1 815h0M1519.1 817.9h0M1519 821h0M1519 824.9h0M1519 828.2h0M1518.9 832.1h0M1518.8 838.6h0M1511.8 797.4h0M1525.2 797.4h0M1514.8 684.8h0M1528.2 684.8h0M1512.4 776.5h0M1525.8 776.5h0M1514.2 705.7h0M1527.6 705.7h0M1512.8 760.6h0M1526.2 760.6h0M1513.8 721.6h0M1527.2 721.6h0M1513 752.4h0M1526.4 752.4h0M1513.6 729.8h0M1527 729.8h0M1513.1 748.3h0M1526.5 748.3h0M1513.5 733.9h0M1526.9 733.9h0" stroke="#1414f0" stroke-width="2.5" stroke-linecap="round"/>
<path d="M1390.2 641.4h3M1650.1 641.4h-3M1390.2 691.2h3M1650.1 691.2h-3M1390.2 741.1h3M1650.1 741.1h-3M1390.2 790.4h3M1650.1 790.4h-3M1390.2 840.1h3M1650.1 840.1h-3" stroke="#1c1c1c" stroke-width="1.3"/>
<rect x="1390.2" y="639.7" width="259.9" height="201.6" stroke="#1c1c1c" stroke-width="1.5"/>
<text class="t" x="1354" y="653.2" font-size="27.5" textLength="30.5" lengthAdjust="spacingAndGlyphs">20</text>
<text class="t" x="1354" y="700.7" font-size="27.5" textLength="30.5" lengthAdjust="spacingAndGlyphs">10</text>
<text class="t" x="1368.3" y="750.2" font-size="27.5" textLength="16.2" lengthAdjust="spacingAndGlyphs">0</text>
<text class="t" x="1331.5" y="799.2" font-size="27.5" textLength="53" lengthAdjust="spacingAndGlyphs">−10</text>
<text class="t" x="1331.5" y="845.6" font-size="27.5" textLength="53" lengthAdjust="spacingAndGlyphs">−20</text>
<text class="t" x="1337.4" y="867.2" font-size="27.5" textLength="75.6" lengthAdjust="spacingAndGlyphs">−0.02</text>
<text class="t" x="1511.9" y="867.2" font-size="27.5" textLength="15.1" lengthAdjust="spacingAndGlyphs">0</text>
<text class="t" x="1621.1" y="867.2" font-size="27.5" textLength="54.2" lengthAdjust="spacingAndGlyphs">0.02</text>
<text class="t" x="1477.5" y="903.8" font-size="33.4" textLength="86.2" lengthAdjust="spacingAndGlyphs">Re(<tspan font-style="italic">λ</tspan>)</text>
<text class="t" transform="translate(1333.5 783.8) rotate(-90)" font-size="33.4" textLength="86.6" lengthAdjust="spacingAndGlyphs">Im(<tspan font-style="italic">λ</tspan>)</text>
<text class="t" x="1405.1" y="671" font-size="28.5" textLength="31.6" lengthAdjust="spacingAndGlyphs">(l)</text>
</svg>
</body></html>
